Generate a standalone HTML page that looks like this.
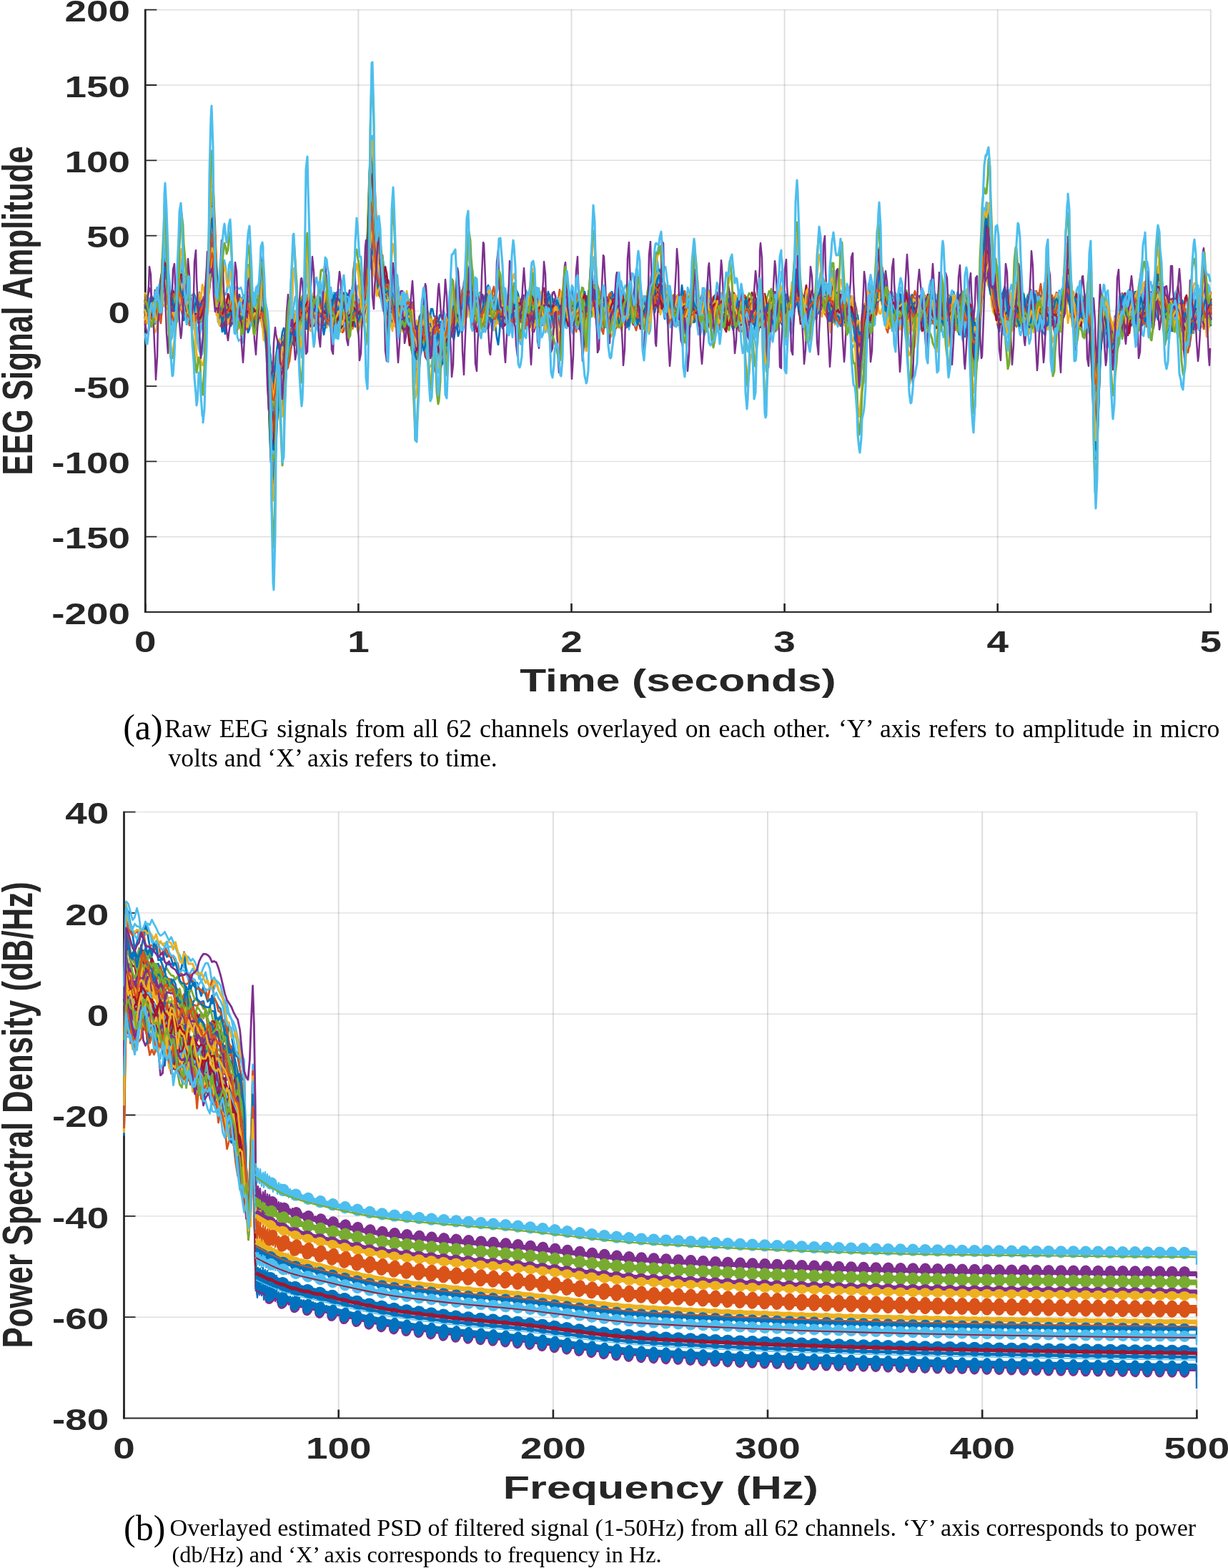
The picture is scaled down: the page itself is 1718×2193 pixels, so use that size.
<!DOCTYPE html><html><head><meta charset="utf-8"><title>EEG figure</title><style>html,body{margin:0;padding:0;background:#fff;overflow:hidden}svg{display:block}</style></head><body>
<svg width="1718" height="2193" viewBox="0 0 1718 2193">
<rect width="1718" height="2193" fill="#fff"/>
<g stroke="#262626" stroke-opacity="0.15" fill="none"><path d="M501.4 13.7V856M799.5 13.7V856M1097.6 13.7V856M1395.7 13.7V856M1693.8 13.7V856" stroke-width="2"/><path d="M203.3 750.7H1693.8M203.3 645.4H1693.8M203.3 540.1H1693.8M203.3 434.9H1693.8M203.3 329.6H1693.8M203.3 224.3H1693.8M203.3 119H1693.8M203.3 13.7H1693.8" stroke-width="1.4"/></g>
<g stroke="#262626" stroke-opacity="0.15" fill="none"><path d="M473.7 1135.6V1983.5M773.9 1135.6V1983.5M1074 1135.6V1983.5M1374.2 1135.6V1983.5M1674.4 1135.6V1983.5" stroke-width="2"/><path d="M173.5 1842.2H1674.4M173.5 1700.9H1674.4M173.5 1559.5H1674.4M173.5 1418.2H1674.4M173.5 1276.9H1674.4M173.5 1135.6H1674.4" stroke-width="1.4"/></g>
<path d="M203.3 12.8V856.9" stroke="#262626" stroke-width="2.8" fill="none"/>
<path d="M201.9 856H1695.1" stroke="#262626" stroke-width="1.8" fill="none"/>
<path d="M203.3 750.7h16M203.3 645.4h16M203.3 540.1h16M203.3 434.9h16M203.3 329.6h16M203.3 224.3h16M203.3 119h16M203.3 13.7h16" stroke="#262626" stroke-width="1.8" fill="none"/>
<path d="M203.3 856v-12M501.4 856v-12M799.5 856v-12M1097.6 856v-12M1395.7 856v-12M1693.8 856v-12" stroke="#262626" stroke-width="2.6" fill="none"/>
<path d="M173.5 1134.7V1984.4" stroke="#262626" stroke-width="2.8" fill="none"/>
<path d="M172.1 1983.5H1675.7" stroke="#262626" stroke-width="1.8" fill="none"/>
<path d="M173.5 1842.2h16M173.5 1700.9h16M173.5 1559.5h16M173.5 1418.2h16M173.5 1276.9h16M173.5 1135.6h16" stroke="#262626" stroke-width="1.8" fill="none"/>
<path d="M173.5 1983.5v-12M473.7 1983.5v-12M773.9 1983.5v-12M1074 1983.5v-12M1374.2 1983.5v-12M1674.4 1983.5v-12" stroke="#262626" stroke-width="2.6" fill="none"/>
<g fill="none" stroke-width="2.7" stroke-linejoin="round" stroke-linecap="round">
<path stroke="#0072BD" d="M203 449l2-2 2-4 2-9 2-5 2 0 2-2 2 0 2 5 2 10 2 0 2-20 2-18 2-1 2 4 2 6 2 11 2 10 2 9 2 7 2 4 2-11 2-10 2-11 2-18 2-5 2 9 2 21 2 16 2-3 2-7 2-8 2 1 2 6 2 11 2 10 2-10 2-10 2-7 2-2 2 4 2 6 2 6 2-19 2-37 2-50 2-45 2 1 2 26 2 30 2 41 2 31 2 21 2 3 2-12 2 4 2 8 2-3 2 1 2 10 2 4 2-8 2-5 2-4 2-4 2 0 2-4 2 6 2 12 2 3 2-12 2-14 2-6 2 0 2 8 2 4 2 2 2 8 2-3 2-9 2-4 2 11 2 13 2 8 2 1 2 5 2 26 2 47 2 46 2 29 2 1 2-26 2-32 2-15 2 9 2 19 2 4 2-24 2-35 2-36 2-16 2 13 2 13 2-14 2-18 2-7 2-2 2-6 2-9 2 7 2 6 2-3 2-4 2 0 2 2 2 5 2 2 2-6 2-2 2 4 2 10 2 3 2 0 2-2 2-9 2-7 2-4 2 2 2 3 2 10 2-2 2-17 2-10 2 4 2 10 2 8 2 9 2 4 2-10 2-9 2-1 2 9 2 3 2-7 2-9 2-4 2 1 2 7 2 7 2 4 2 4 2-4 2-12 2-15 2-13 2-23 2-29 2-47 2-52 2-13 2 36 2 53 2 32 2 5 2 2 2 18 2 20 2-1 2-11 2-1 2 18 2 18 2 9 2-1 2-10 2-12 2 1 2 12 2-7 2-5 2 15 2 13 2 0 2-12 2-3 2 10 2 24 2 21 2 13 2-1 2-10 2-5 2-9 2-12 2 2 2 7 2 0 2-1 2-9 2-12 2 1 2 8 2 20 2 17 2-1 2-11 2-13 2 3 2 17 2 18 2-5 2-25 2-25 2-10 2 10 2 18 2 5 2-15 2-10 2-10 2-9 2-2 2 4 2 9 2-4 2-15 2-17 2-3 2 13 2 8 2 0 2-2 2 0 2-3 2 9 2 14 2 11 2-4 2-12 2 0 2 9 2-3 2-9 2 3 2 7 2 11 2 17 2 10 2-19 2-28 2-11 2 0 2 8 2 2 2 7 2 5 2-9 2-11 2-6 2 5 2 11 2 10 2-3 2-7 2-7 2-9 2 6 2 10 2-6 2-16 2 0 2 2 2-4 2 17 2 15 2-11 2-7 2 11 2 11 2 3 2-14 2-21 2-8 2 9 2 5 2 7 2 14 2 4 2-11 2-15 2-8 2-1 2 11 2 11 2 10 2 0 2-15 2-18 3-5 2 19 2 15 2 3 2-8 2-4 2 12 2 11 2-5 2-9 2-1 2-1 2-6 2-9 2-9 2 1 2 4 2 5 2 7 2 2 2-9 2-6 2 8 2 12 2 7 2 4 2-8 2-16 2-17 2 5 2 24 2 18 2 1 2-8 2-18 2-14 2 7 2 2 2 2 2-1 2-7 2-9 2 4 2 21 2 10 2-1 2-4 2-6 2-2 2-5 2 2 2 6 2 7 2 0 2-14 2-11 2-14 2-8 2 3 2 4 2-3 2-6 2 6 2 5 2 13 2 16 2-1 2-13 2 2 2 13 2 7 2-2 2-1 2-2 2-6 2 0 2 4 2 2 2 4 2 7 2 15 2-2 2-18 2-19 2-9 2 6 2 10 2 8 2 6 2 1 2 5 2 10 2-4 2-20 2-19 2-3 2 21 2 24 2 1 2-22 2-17 2-1 2 9 2 17 2 15 2-9 2-5 2 3 2-6 2-5 2 1 2-7 2 0 2-4 2-11 2-3 2 0 2-6 2 7 2 21 2 13 2 1 2-9 2-11 2-13 2 5 2 16 2 7 2 3 2-3 2-6 2-10 2 2 2 15 2 11 2-1 2-12 2-6 2-2 2 3 2 2 2 3 2 0 2-10 2-7 2-4 2 7 2 10 2 9 2 0 2-13 2-9 2-3 2 3 2-9 2-18 2-5 2 11 2 17 2 16 2 2 2-10 2-11 2 9 2 18 2 16 2-1 2-20 2-20 2-2 2 7 2 3 2 8 2-3 2-13 2-11 2-2 2 5 2 11 2 1 2-7 2-10 2-1 2 12 2 15 2 8 2 4 2 1 2 3 2 0 2-5 2-10 2-15 2 10 2 21 2 8 2-11 2-4 2 11 2 21 2 28 2 15 2-13 2-28 2-19 2-15 2-7 2 1 2-6 2-4 2 3 2 0 2-4 2-18 2-32 2-17 2 2 2 22 2 24 2 7 2 0 2 13 2 11 2 2 2-5 2-8 2-2 2 9 2 5 2-10 2-5 2 3 2-6 2 2 2 13 2 2 2-3 2 7 2 6 2-1 2-4 2-5 2-3 2-6 2 0 2 8 2 4 2 5 2-2 2-9 2-8 2 0 2 6 2 9 2 12 2-9 2-18 2-9 2 6 2 2 2-8 2 2 2 7 2 12 2 6 2-13 2-18 2-9 2 12 2 15 2-2 2 0 2 13 2 8 2 14 2 3 2-21 2-15 2-3 2 6 2 13 2 26 2 25 2 1 2-11 2-22 2-41 2-46 2-39 2-22 2 3 2 11 2 14 2 10 2 11 2 15 2 25 2 22 2 23 2 8 2-18 2-16 2-8 2 10 2 14 2 12 2 9 2-7 2-17 2-17 2-2 2 8 2-1 2-5 2 10 2 5 2-7 2-3 2-10 2-8 2-3 2 8 2 13 2 9 2-5 2-14 2-11 2 0 2 12 2 6 2 2 2 0 2-1 2-1 2-5 2 3 2 9 2 14 2 4 2-7 2-11 2-3 2 4 2-4 2-5 2-14 2-15 2-2 2 10 2 11 2 7 2-1 2 7 2 10 2 6 2-1 2-6 2-10 2-10 2 8 2 16 2 7 2-13 2-2 2 28 2 53 2 51 2 18 2-23 2-47 2-47 2-22 2 5 2 12 2 8 2 1 2 2 2 4 2 1 2 2 2-7 2-13 2-1 2 2 2-6 2-16 2-9 2-9 2 1 2 11 2 9 2 13 2-4 2-22 2-22 2 0 2 13 2 3 2 3 2 5 2-3 2-16 2-10 2 13 2 8 2 1 2-1 2-12 2-5 2-6 2-4 2 4 2 15 2 18 2 5 2 0 2-4 2 3 2 10 2 14 2 1 2-14 2-23 2-17 2 3 2 18 2 25 2 13 2 0 2-3 2 2 2 11 2 7 2-14 2-17 2-19 2-13 2 11 2 18 2 11 2-5 2-12 2-26 2-19 2 5 2 20 2 16 2 1"/>
<path stroke="#D95319" d="M203 414l2 6 2 6 2 4 2-4 2-5 2-1 2-3 2 6 2 15 2 9 2 1 2-20 2-23 2-15 2-7 2 10 2 24 2 24 2 3 2-2 2 5 2-10 2-16 2-12 2-2 2 2 2 8 2 9 2 0 2-4 2 4 2 9 2 0 2 1 2-3 2-9 2-10 2 8 2 6 2-3 2-3 2 3 2 2 2-10 2-26 2-30 2-18 2 3 2 35 2 40 2 25 2 2 2-1 2 1 2-11 2-12 2-6 2-1 2 9 2 13 2 5 2-2 2-13 2-23 2 8 2 21 2 14 2 3 2-9 2-6 2-8 2-2 2 4 2 8 2 3 2-10 2-3 2-4 2 0 2 9 2 3 2 8 2 2 2 6 2 27 2 31 2 19 2 16 2 7 2-3 2-4 2-9 2-14 2-16 2-17 2-7 2 5 2 0 2-4 2-8 2-10 2-11 2-13 2 0 2 6 2 4 2 4 2-7 2-15 2-16 2-10 2 10 2 13 2 5 2-8 2-8 2-1 2 1 2 3 2 8 2 2 2-5 2-7 2-3 2 13 2 11 2 4 2-5 2-8 2-6 2-3 2-2 2-3 2-2 2 8 2 1 2-12 2 4 2 14 2-2 2 1 2 7 2-7 2-11 2-1 2 11 2 13 2-4 2-10 2-3 2-2 2 2 2 1 2-5 2-21 2-32 2-27 2-23 2-6 2 21 2 19 2 20 2 14 2 9 2 10 2-2 2-8 2-8 2 3 2 23 2 24 2 0 2-18 2-15 2 6 2 16 2 1 2-13 2-2 2 20 2 19 2 0 2-14 2-5 2 6 2 15 2 17 2 18 2 3 2-15 2-15 2-19 2-5 2 11 2 8 2 8 2-1 2-2 2 1 2 6 2 0 2-5 2-3 2 7 2 5 2 3 2 6 2-1 2-10 2-12 2-8 2 2 2 1 2 6 2-1 2-18 2-10 2-5 2 2 2 2 2-5 2-5 2 5 2 15 2 2 2-13 2-8 2 2 2 7 2 8 2 14 2-2 2-13 2-6 2-9 2-1 2 10 2 16 2 11 2-10 2-17 2-14 2-1 2 9 2-5 2-2 2 13 2 14 2 8 2-13 2-21 2-4 2 14 2 9 2 3 2-2 2-10 2-13 2-11 2 8 2 19 2 16 2 1 2-8 2 6 2 12 2-8 2-22 2-12 2 8 2 11 2 6 2 6 2-4 2-14 2-14 2 7 2 4 2-7 2 6 2 9 2 9 2 0 2-15 2-9 2 3 2 10 2 14 2 8 2-7 2-15 2-8 2 8 2 13 2 8 2-9 2-10 3-12 2 5 2 20 2 15 2-9 2-17 2-12 2-1 2 12 2 10 2 9 2-4 2-19 2-24 2-4 2 10 2 9 2 10 2-3 2-6 2-9 2-9 2 11 2 15 2 9 2-2 2-5 2-9 2-8 2 9 2 13 2 8 2-1 2-5 2-2 2-13 2-2 2 17 2 16 2-3 2-16 2-10 2-1 2 11 2 9 2 3 2-9 2-6 2-11 2-4 2 11 2 12 2 11 2-8 2-23 2-14 2-5 2 3 2 0 2 2 2-1 2-6 2-2 2 8 2 18 2 13 2-5 2-11 2-13 2-1 2 14 2 7 2 7 2 5 2-7 2-17 2-6 2 14 2 3 2-3 2 6 2 3 2-9 2-1 2 7 2 9 2 6 2-6 2-9 2-14 2-1 2 9 2 10 2 9 2-3 2-8 2-3 2 0 2 1 2-3 2-6 2 11 2 17 2 9 2-11 2-5 2 13 2 0 2-11 2-11 2-17 2 2 2 14 2 9 2 6 2-10 2-14 2-12 2 5 2 12 2 8 2 0 2-2 2-8 2-11 2 4 2 9 2 7 2 2 2-4 2-9 2-11 2 2 2 8 2 2 2-3 2 4 2 8 2 7 2 5 2-2 2-14 2-12 2 6 2 12 2 8 2-4 2-2 2 11 2 8 2-14 2-20 2-7 2 5 2 1 2 3 2-7 2-14 2-9 2 4 2 15 2 16 2 7 2-8 2-8 2-10 2-3 2 12 2 10 2 10 2-4 2-16 2-18 2-9 2 11 2 15 2 3 2-8 2-1 2 3 2 8 2 4 2-1 2-1 2 0 2-3 2-3 2 2 2 6 2 14 2 1 2-8 2-8 2-11 2 9 2 19 2 10 2-1 2 0 2 6 2 2 2 6 2 1 2-6 2-3 2-13 2-11 2-6 2-7 2-1 2-2 2-8 2-3 2 0 2 2 2 3 2-4 2 4 2 9 2 2 2-8 2-14 2 7 2 17 2 11 2-1 2-9 2-13 2-4 2 10 2 6 2 9 2 2 2-6 2-8 2 0 2 5 2 11 2 2 2-11 2-6 2 4 2 7 2 4 2 0 2 1 2-2 2-7 2-10 2 1 2 7 2 12 2 8 2-7 2-2 2 0 2-2 2-4 2-8 2-4 2 7 2 12 2 10 2-6 2-13 2-11 2 6 2 16 2 2 2-14 2-11 2-5 2 3 2 4 2 3 2 7 2 8 2 13 2 10 2-2 2 8 2 18 2 7 2-13 2-22 2-27 2-20 2-13 2-13 2-20 2-20 2-2 2 19 2 23 2 15 2 6 2-1 2-1 2 8 2 17 2 11 2 5 2-12 2-15 2 2 2 15 2 10 2 5 2-4 2-12 2-17 2 0 2 14 2 10 2 0 2-5 2-3 2-6 2 1 2 2 2-7 2-10 2 7 2 12 2 11 2 2 2-14 2-8 2 2 2 7 2 3 2-6 2-1 2-2 2-3 2-7 2-2 2 12 2 16 2 11 2-15 2-11 2-2 2-4 2-1 2 4 2-1 2-14 2-12 2-2 2 12 2 12 2 6 2 7 2 6 2 3 2-1 2-6 2-11 2-9 2 5 2 8 2 11 2 12 2 21 2 37 2 30 2 4 2-24 2-40 2-30 2-11 2 3 2 6 2 0 2 14 2 20 2 1 2-6 2-9 2-7 2-1 2 6 2 0 2-19 2-24 2-11 2 6 2 12 2 19 2 5 2-22 2-19 2 4 2 13 2 11 2 2 2-13 2-6 2 3 2 5 2 6 2 17 2-3 2-23 2-17 2 2 2 11 2 6 2-15 2-13 2 8 2 15 2 0 2-7 2-4 2 8 2 1 2-5 2 8 2 5 2 6 2 1 2-4 2-6 2 0 2 8 2 14 2 5 2-4 2-2 2-7 2-6 2-1 2-10 2-8 2 14 2 19 2 4 2-14 2-23 2-10 2 17 2 17 2 6 2-11 2-10 2-4"/>
<path stroke="#EDB120" d="M203 431l2 2 2-1 2 0 2 5 2 1 2-6 2-4 2 2 2 1 2-6 2-12 2-9 2-3 2-1 2 9 2 14 2 6 2 0 2 4 2 0 2-8 2-8 2-3 2-1 2-3 2-1 2 8 2 5 2 0 2 4 2 15 2 10 2-1 2-6 2-7 2-3 2 2 2 2 2 0 2 1 2-3 2-9 2-17 2-13 2-14 2-16 2-6 2 15 2 22 2 17 2 10 2 10 2 7 2 3 2-1 2-5 2-5 2-2 2 0 2-1 2 1 2 7 2 7 2-3 2-11 2-5 2 2 2 3 2 4 2 2 2-2 2-4 2 0 2 3 2 0 2-2 2 0 2 0 2-4 2 0 2 1 2-2 2 4 2 11 2 18 2 28 2 31 2 26 2 10 2 0 2-15 2-16 2-11 2-8 2-4 2-6 2-10 2-10 2-9 2-7 2-6 2-1 2 1 2-1 2-3 2-3 2-2 2 1 2-2 2-2 2 2 2-4 2-2 2 7 2-2 2-5 2-3 2-2 2 3 2-6 2-6 2 3 2 5 2 3 2 1 2 0 2 2 2-2 2-1 2 3 2 1 2-1 2-1 2-4 2 2 2 5 2 1 2 0 2-1 2-2 2-2 2-2 2-1 2-1 2-1 2 1 2 5 2 3 2-1 2-8 2-9 2-5 2-1 2-3 2-14 2-30 2-36 2-26 2 3 2 27 2 25 2 15 2 10 2 6 2 3 2 6 2 8 2 8 2 5 2 1 2 5 2 4 2 0 2-3 2 2 2 5 2 5 2 0 2-1 2-5 2-3 2-3 2-3 2 5 2 9 2 10 2 8 2 3 2 5 2 3 2-7 2-8 2-3 2 4 2 7 2-1 2-6 2 3 2 6 2 0 2 4 2 9 2 4 2-5 2-7 2-2 2-1 2-2 2 2 2 3 2-4 2-5 2-4 2-6 2-6 2-1 2 0 2-7 2-5 2 6 2 2 2-9 2-9 2-3 2 0 2-2 2 6 2 7 2 3 2-2 2-2 2 0 2 1 2 0 2 1 2 4 2 7 2 1 2-3 2 0 2 0 2-2 2 0 2-2 2 0 2 3 2-8 2-7 2 4 2 3 2-3 2 0 2 7 2 2 2-3 2-2 2-1 2 1 2 3 2 2 2 2 2 1 2-2 2 0 2-2 2-4 2 3 2 3 2-3 2 0 2-1 2-1 2 0 2 2 2 1 2-4 2 0 2 7 2 0 2-2 2 4 2-3 2-9 2-3 2-1 2 2 2 4 2-1 2-2 2-1 2 2 2 2 2-1 2-3 2 4 2 7 2 1 3-2 2 1 2 2 2 0 2-3 2-5 2-3 2-2 2-3 2-2 2-5 2 3 2 6 2 6 2 1 2-10 2-8 2 2 2 7 2 2 2 4 2 7 2 7 2-3 2-6 2-2 2 2 2 1 2-4 2-4 2-1 2-1 2 2 2 8 2 7 2-3 2-9 2-2 2 4 2 3 2 0 2 0 2 1 2-4 2-6 2 4 2 8 2 4 2-4 2-7 2-2 2 2 2 1 2 0 2-4 2-9 2-9 2-4 2 3 2 0 2-2 2 5 2 8 2 1 2-1 2 0 2 2 2-1 2 2 2 4 2 5 2 0 2-3 2-1 2 2 2 3 2 5 2 4 2-2 2-8 2-5 2-2 2 2 2-1 2-2 2 4 2 6 2 2 2 0 2 0 2-4 2-3 2-1 2-1 2 4 2 4 2 2 2-1 2-3 2-4 2-4 2 1 2 5 2 6 2 4 2-2 2-3 2-5 2-3 2-4 2 0 2 3 2 3 2 0 2-1 2 1 2 2 2-5 2-5 2 7 2 7 2 4 2-1 2-7 2-2 2-4 2-6 2 0 2 8 2 1 2-1 2 1 2 1 2-2 2-3 2 1 2 1 2-2 2 0 2 2 2-1 2-2 2 4 2 6 2 5 2 1 2-1 2-3 2 2 2 3 2-4 2-5 2 0 2 0 2-6 2-2 2-2 2-6 2-5 2 0 2 6 2 12 2 9 2 3 2 0 2 0 2 0 2-7 2-5 2-1 2 1 2 3 2 0 2-8 2-9 2-2 2 2 2 1 2 1 2 0 2 5 2 5 2 3 2 6 2 5 2 0 2-4 2-3 2 0 2-2 2-2 2 3 2 1 2-7 2-2 2 8 2 9 2 2 2 2 2 9 2 13 2 12 2-4 2-14 2-16 2-10 2-2 2 5 2 5 2-1 2-5 2-10 2-15 2-10 2-1 2 2 2 2 2 2 2 3 2 7 2 9 2 10 2 8 2 0 2-5 2-4 2-1 2 2 2-3 2-3 2 6 2 3 2-1 2 0 2-4 2-5 2 0 2 7 2 0 2-2 2 0 2 0 2-1 2-2 2 2 2 1 2-1 2-1 2-1 2-2 2 1 2 2 2 4 2 4 2 1 2-1 2-3 2 1 2 0 2-4 2 0 2 1 2-5 2-1 2 1 2-1 2 1 2 0 2-2 2 4 2 1 2 0 2 2 2-2 2-6 2-3 2 8 2 4 2 2 2 10 2 12 2 6 2 3 2-5 2-13 2-16 2-17 2-17 2-14 2-15 2-8 2 3 2 9 2 11 2 5 2 10 2 15 2 9 2 1 2-1 2 2 2 3 2 2 2 2 2 1 2-2 2-1 2-2 2-2 2-2 2 1 2 2 2 3 2 0 2-1 2 0 2-1 2 2 2 6 2 0 2-2 2 0 2 5 2 3 2-5 2-6 2 1 2 2 2 3 2 2 2-5 2-5 2-2 2 0 2 2 2 2 2-1 2-5 2-5 2 3 2 6 2 3 2-2 2-6 2-1 2-5 2-8 2-6 2 5 2 13 2 4 2 2 2 5 2 0 2-6 2-2 2 8 2 2 2-8 2-3 2 8 2 6 2-2 2 9 2 22 2 33 2 26 2 0 2-25 2-26 2-15 2-16 2-13 2 3 2 9 2 4 2 6 2 9 2 7 2 1 2-6 2-8 2-8 2-7 2-9 2-7 2 1 2 1 2-1 2-2 2-2 2-2 2-3 2 3 2 6 2 3 2-3 2 1 2 6 2 7 2 0 2-9 2-6 2 2 2 2 2-3 2-3 2-5 2-5 2 1 2 3 2 5 2 4 2 2 2-3 2-1 2 0 2 3 2 3 2 0 2-1 2-1 2 2 2 4 2 0 2 0 2 0 2-2 2 1 2 10 2 9 2 3 2-5 2-2 2-2 2-9 2-5 2 2 2 1 2-1 2-1 2 2 2-5 2-7 2 1 2 4 2 5 2 5"/>
<path stroke="#7E2F8E" d="M203 420l2 3 2 14 2 9 2 1 2-7 2-10 2-8 2-2 2 9 2 4 2 1 2-8 2-19 2-13 2-3 2 21 2 25 2 9 2-3 2-8 2-8 2-5 2-1 2 2 2-1 2-3 2-7 2-6 2 19 2 24 2 4 2-16 2-10 2-4 2 4 2 12 2 11 2 4 2-15 2-13 2-11 2-1 2 8 2-3 2-25 2-31 2-13 2 13 2 32 2 31 2 15 2-2 2 0 2 8 2-6 2-14 2-2 2 4 2 4 2 3 2 1 2-4 2-4 2-8 2-3 2 8 2 3 2-2 2 2 2 2 2 6 2 6 2-2 2-9 2-6 2 10 2 17 2 6 2-12 2-14 2-11 2 5 2 19 2 25 2 9 2 3 2 16 2 26 2 20 2 8 2-10 2-29 2-26 2-10 2 8 2 0 2-1 2-1 2-10 2-18 2-14 2 6 2 10 2 3 2-7 2-11 2-12 2-1 2 11 2 6 2-3 2-9 2-1 2-3 2-4 2 1 2 9 2 1 2 3 2 4 2-3 2-8 2-14 2 1 2 13 2 16 2-5 2-13 2-14 2-11 2 15 2 13 2 2 2 1 2-1 2-1 2-1 2-3 2 1 2 0 2-3 2-10 2-14 2 2 2 18 2 22 2 9 2-11 2-10 2-3 2 6 2 1 2-6 2-18 2-19 2-24 2-31 2-10 2 15 2 22 2 4 2 0 2 7 2 15 2 14 2 10 2-2 2 0 2-2 2-3 2 9 2 16 2 15 2-6 2-7 2 3 2-2 2-12 2-10 2-2 2 11 2 13 2 7 2-4 2-10 2-10 2 0 2 24 2 20 2 12 2-3 2-12 2-9 2-10 2 5 2 14 2 12 2-7 2-9 2-7 2-3 2 6 2 8 2 12 2-2 2-6 2-7 2-5 2 3 2 5 2 4 2-4 2-10 2-13 2-15 2 0 2 7 2-7 2-2 2 14 2-2 2-19 2-2 2-2 2-13 2 2 2 25 2 20 2 5 2-10 2-10 2-8 2-1 2 1 2 6 2 15 2 5 2-5 2 5 2 10 2-11 2-22 2-10 2 10 2 7 2 6 2 9 2 0 2-16 2-12 2 5 2 5 2-3 2-1 2 6 2 10 2 8 2-7 2-9 2-6 2-6 2 6 2 11 2 10 2-3 2-16 2-8 2-5 2 6 2 1 2-16 2 3 2 8 2 2 2 7 2 4 2 10 2 6 2-10 2-9 2-4 2 2 2 4 2 6 2 1 2-8 2-7 2-2 2 7 2 6 2 5 2 13 2 0 2-9 2-14 2-14 2 5 3 15 2 14 2-7 2-10 2-10 2-9 2 6 2 18 2 9 2-7 2-5 2-2 2-4 2-7 2-5 2-7 2-3 2 8 2 15 2 11 2 1 2-5 2-7 2-6 2 9 2 16 2 9 2-8 2-18 2-12 2-2 2 6 2 12 2 13 2-9 2-11 2-3 2 6 2 11 2 6 2-3 2-9 2-6 2-7 2-1 2 7 2 14 2-1 2-7 2-7 2-6 2 7 2 6 2-1 2-4 2-8 2-15 2-5 2 3 2-3 2 0 2 10 2 8 2 3 2-1 2-4 2-9 2 5 2 12 2 4 2 6 2 6 2-6 2-17 2-2 2 10 2 15 2 3 2-5 2-7 2-5 2-2 2-8 2-2 2 14 2 9 2 6 2 3 2-6 2-14 2-3 2 11 2 14 2 1 2-15 2-12 2-8 2 7 2 12 2 11 2 3 2-13 2-8 2 1 2 6 2 14 2 5 2-8 2-5 2 1 2-10 2-14 2 3 2 21 2 8 2-11 2-13 2-12 2 4 2 14 2 6 2 2 2-4 2-7 2-6 2 1 2 3 2-5 2-2 2 13 2 14 2-1 2-7 2 0 2-6 2-6 2 5 2 9 2 7 2-8 2-16 2-5 2 7 2 0 2-14 2 2 2 17 2 3 2-11 2 1 2 14 2 9 2-6 2-12 2-11 2-7 2 0 2-13 2-8 2 19 2 4 2-4 2 17 2 17 2 6 2-11 2-16 2-11 2 4 2 11 2 13 2 7 2-12 2-19 2-16 2 5 2 8 2-4 2 9 2 13 2 7 2 6 2-5 2-4 2 5 2 4 2-5 2-7 2-6 2 5 2 9 2 6 2 4 2-4 2-3 2-7 2-5 2-2 2-6 2 9 2 22 2 9 2-5 2-1 2-1 2-5 2-2 2-7 2-9 2-12 2-11 2 6 2 4 2 1 2-3 2-12 2-15 2 7 2 19 2 9 2 5 2 5 2 0 2-6 2-4 2 0 2-1 2 7 2 5 2-1 2 7 2 6 2-7 2-7 2-10 2-5 2 5 2 1 2-1 2-2 2 2 2 14 2 7 2-7 2-7 2 0 2 3 2 7 2 2 2-6 2 1 2-6 2-2 2 6 2-8 2-9 2 5 2-3 2-10 2 8 2 16 2 5 2-6 2-13 2-6 2 9 2 7 2-2 2-3 2-4 2 1 2 15 2 14 2 4 2-12 2-13 2-12 2-5 2 13 2 20 2 13 2 2 2 10 2 6 2-17 2-25 2-31 2-24 2-3 2 3 2 4 2 0 2-5 2 0 2 12 2 18 2 16 2 14 2-3 2-14 2-14 2 1 2 15 2 7 2-3 2-3 2 1 2 1 2 2 2 11 2 13 2-9 2-22 2-10 2 15 2 8 2-7 2-5 2 6 2 11 2 11 2-11 2-17 2-4 2 11 2 12 2 6 2-5 2-8 2 6 2 21 2 1 2-16 2-15 2-5 2 5 2 9 2 8 2-2 2-3 2-1 2 0 2-2 2-18 2-19 2 2 2 4 2-9 2-3 2 15 2 18 2 14 2-3 2-17 2-9 2 7 2 12 2-2 2-1 2 0 2-8 2-5 2 12 2 18 2 29 2 33 2 10 2-9 2-18 2-18 2-15 2-11 2-6 2-4 2 2 2-2 2 2 2 9 2 0 2 2 2 8 2-5 2-19 2-9 2 8 2 16 2 11 2-8 2-16 2-17 2-2 2 9 2 8 2 8 2-4 2-8 2-1 2 2 2 2 2 5 2 5 2-6 2-9 2-16 2-2 2 18 2 18 2 4 2-14 2-12 2-16 2-9 2 12 2 17 2 7 2-4 2-8 2-5 2 13 2 14 2 9 2-4 2-13 2-2 2-1 2 1 2 4 2 10 2 6 2-6 2-13 2-6 2 9 2 4 2 0 2-5 2-5 2 0 2 7 2 4 2-3 2-2 2-1 2-6 2-6 2-12 2-4 2 7"/>
<path stroke="#77AC30" d="M203 422l2 10 2 4 2 0 2-1 2 0 2 2 2 1 2-7 2 0 2-7 2 0 2-24 2-32 2-2 2 14 2 19 2 23 2 14 2 13 2-7 2-13 2-18 2-12 2-5 2-12 2 15 2 25 2 6 2-12 2 9 2 14 2 5 2-3 2-13 2-2 2-3 2 15 2 12 2-13 2-2 2-4 2-15 2-12 2-34 2-38 2-34 2-17 2 23 2 35 2 41 2 32 2 11 2 5 2 4 2-3 2 3 2 2 2 6 2-4 2-2 2 7 2 1 2-4 2-5 2 3 2-7 2-8 2 11 2 13 2-9 2-8 2 2 2-5 2 1 2 4 2 7 2 3 2-2 2-4 2-4 2 2 2 6 2 5 2 16 2 38 2 40 2 48 2 43 2 27 2 1 2-26 2-40 2-19 2 3 2-2 2-7 2-24 2-15 2-19 2-21 2-11 2-10 2-10 2 1 2-4 2-1 2 2 2-15 2-5 2 2 2 5 2-7 2-1 2-1 2-13 2 6 2 9 2-2 2-7 2-3 2 2 2-4 2 5 2 17 2 4 2-2 2-11 2-10 2 7 2 12 2-4 2-7 2 6 2 0 2 2 2 7 2-12 2-5 2 4 2 11 2 2 2-4 2-7 2-1 2-6 2-10 2 4 2 16 2-2 2-12 2 1 2-11 2-7 2-2 2-31 2-55 2-55 2-40 2-7 2 31 2 53 2 39 2 23 2 8 2-1 2 21 2 2 2 1 2 12 2-3 2 3 2 16 2 7 2 6 2-5 2 0 2-2 2-6 2 1 2-1 2 9 2 13 2-3 2 6 2 15 2 2 2 16 2 17 2 12 2-6 2-10 2-5 2-1 2 2 2-11 2 13 2 13 2-4 2-7 2-6 2 4 2-1 2-2 2-13 2 2 2 4 2 14 2 0 2-1 2-13 2-5 2 6 2-4 2-7 2-6 2-8 2-3 2-3 2-12 2-5 2 6 2-7 2-13 2-7 2-6 2-12 2 0 2 10 2 9 2-6 2 6 2 17 2 2 2-4 2 8 2-2 2 2 2 5 2 3 2 5 2 0 2-5 2-25 2-6 2 6 2 6 2-3 2-3 2 1 2 7 2 10 2-1 2 5 2 8 2-4 2-13 2-2 2 6 2-15 2-1 2 14 2 5 2-5 2-5 2 9 2 5 2-1 2 7 2-13 2-11 2 1 2 0 2 0 2 1 2 7 2 7 2-2 2-7 2-11 2-3 2 11 2 12 2 2 2-9 2-10 2 4 2 8 2 2 2-8 2 0 2 3 2-4 2-7 2 3 2-6 2 1 2 8 3 0 2 8 2 6 2 0 2-1 2-7 2-3 2-2 2 7 2 19 2-9 2-2 2-11 2-10 2-18 2-9 2 15 2 5 2 12 2 13 2-7 2 0 2 6 2-8 2-17 2 19 2 18 2-3 2-7 2-2 2 0 2 1 2-5 2 5 2 8 2-3 2-8 2-10 2 2 2 6 2-1 2-8 2-6 2 11 2-1 2 0 2 8 2-3 2-2 2 1 2-8 2-8 2-1 2 4 2-9 2-13 2 9 2-9 2-12 2-3 2-3 2 2 2-1 2 4 2 15 2 9 2 9 2 7 2 6 2 4 2-12 2-12 2-1 2 10 2 11 2-5 2 7 2-3 2-7 2 10 2-4 2 0 2 7 2 3 2-5 2-2 2-9 2 2 2 16 2 1 2-1 2 5 2-1 2-8 2 3 2 7 2-6 2-6 2 8 2-5 2-18 2 4 2 21 2 2 2-9 2 4 2-2 2-4 2 2 2 19 2 3 2-14 2-16 2 6 2 8 2-12 2-5 2 6 2 1 2-7 2-5 2 4 2 2 2 5 2 5 2 2 2-5 2 0 2-2 2-8 2-1 2 5 2 11 2-5 2 4 2 4 2-5 2-14 2 2 2 13 2 4 2-6 2-5 2-5 2 17 2 7 2-10 2-8 2-4 2-8 2-5 2 15 2 10 2 1 2-21 2-20 2-11 2-12 2 4 2 8 2 22 2 22 2 9 2 8 2-2 2-17 2-14 2-6 2 11 2 6 2-2 2-15 2-3 2 1 2-8 2 3 2 10 2-7 2 2 2 8 2 0 2-12 2-2 2 10 2 21 2 2 2-5 2 9 2 6 2-4 2-22 2-3 2 7 2 6 2 5 2 0 2-2 2 8 2 9 2 31 2 26 2 3 2-5 2-19 2-15 2-9 2-19 2-4 2-7 2 11 2-1 2-23 2-18 2-10 2-8 2-11 2 12 2 11 2 13 2 8 2 3 2 9 2-2 2 4 2 16 2 1 2-7 2-3 2 0 2 6 2-13 2-5 2 10 2 8 2-5 2-4 2-5 2 0 2-1 2 1 2 1 2 18 2-3 2-9 2 4 2-5 2 4 2-1 2 2 2-3 2-4 2 0 2-5 2-11 2 11 2 8 2-11 2-6 2-4 2 2 2 13 2-7 2-3 2 8 2 11 2 16 2-15 2-13 2 14 2-1 2-10 2-8 2 1 2 17 2-6 2-4 2 11 2-5 2-8 2 13 2 34 2 35 2 1 2-11 2-17 2-40 2-52 2-22 2-24 2-29 2-11 2 5 2 13 2 19 2 32 2 31 2 11 2 5 2 5 2-5 2 4 2 10 2-9 2-15 2 3 2 10 2 3 2 11 2 5 2-12 2-4 2 0 2 3 2 1 2 2 2-6 2-3 2 4 2 3 2 14 2-7 2-20 2-4 2 11 2 10 2 5 2-9 2-1 2 9 2-9 2-4 2 4 2 7 2-2 2 2 2-12 2 5 2 5 2-13 2-1 2 5 2-7 2 9 2-8 2-10 2-1 2-22 2-2 2 14 2 17 2 9 2 13 2 5 2-1 2-4 2-10 2 12 2 2 2-5 2-7 2-6 2 4 2 17 2 26 2 37 2 48 2 46 2 19 2-33 2-77 2-49 2-19 2-6 2 7 2 11 2 8 2 14 2 21 2 15 2-7 2-16 2-12 2-11 2-4 2-16 2-6 2 7 2 0 2-11 2-1 2-4 2 0 2-2 2 7 2 7 2-6 2-5 2-4 2 5 2-1 2-10 2-5 2 1 2 0 2 1 2-4 2-6 2-4 2-7 2-15 2-14 2 15 2 17 2 11 2 7 2 8 2 15 2 6 2-8 2 1 2-8 2-7 2-9 2-2 2 13 2 16 2 11 2 2 2 4 2 11 2-8 2-8 2-6 2-1 2-4 2 0 2 1 2 1 2-15 2-13 2 5 2 6 2 3 2-8 2 5 2-3 2 4 2 9"/>
<path stroke="#4DBEEE" d="M203 436l2 0 2-2 2 2 2 2 2 5 2 4 2-3 2-5 2-8 2-7 2-3 2-14 2-8 2-7 2 8 2 23 2 12 2-3 2-1 2 2 2-7 2-16 2-2 2-5 2-14 2 2 2 11 2 5 2 9 2 7 2 8 2 5 2-5 2 3 2 8 2-3 2-7 2 2 2 0 2-3 2 3 2 1 2-22 2-33 2-39 2-34 2-6 2 18 2 35 2 38 2 14 2 7 2 6 2 0 2 8 2 7 2-5 2 0 2 2 2-2 2-4 2 5 2 6 2-4 2-1 2 7 2 2 2 0 2-2 2-7 2-8 2-5 2 2 2 2 2 0 2 3 2 6 2 0 2 1 2 4 2 4 2 2 2 6 2 12 2 14 2 32 2 41 2 37 2 24 2 4 2-16 2-17 2-12 2-14 2-12 2 3 2-18 2-25 2-16 2-23 2-13 2-3 2-3 2 9 2 7 2-4 2 1 2 3 2-10 2-16 2 3 2 4 2 0 2-3 2 1 2 3 2 6 2 1 2-6 2-12 2-11 2-1 2 2 2 7 2 10 2 6 2 1 2 4 2-10 2-13 2 1 2 2 2 10 2 7 2-3 2-7 2-11 2-2 2 12 2 5 2-1 2 2 2 2 2-6 2-4 2 2 2 7 2 1 2 0 2-7 2 1 2-2 2-5 2-12 2-23 2-48 2-65 2-34 2-1 2 26 2 45 2 32 2 15 2 4 2 6 2 9 2 8 2 4 2 8 2 18 2 3 2 3 2 7 2 6 2-6 2 2 2 2 2 4 2 5 2 0 2 3 2-2 2-4 2 1 2 6 2 7 2 4 2 18 2 17 2-1 2-8 2-8 2-3 2-6 2-9 2 5 2 7 2 2 2-3 2-7 2 1 2 9 2 16 2-10 2-12 2-1 2 13 2 8 2-8 2-1 2 0 2-14 2-19 2-10 2 1 2-1 2-9 2 8 2 4 2-3 2-13 2-7 2-5 2-3 2-2 2 3 2 7 2-5 2 3 2 11 2 4 2-4 2-4 2 5 2 6 2 7 2 5 2-4 2-6 2-1 2-2 2-4 2 0 2 1 2-1 2 2 2 2 2 3 2 4 2-5 2 2 2-5 2-3 2-1 2 5 2 4 2-7 2 0 2 2 2-1 2-5 2 1 2 8 2 9 2-4 2-10 2-7 2 4 2 3 2-2 2 4 2 2 2 3 2 3 2-9 2 0 2 6 2 4 2-8 2-5 2 9 2 4 2-2 2 10 2 4 2-8 2-4 2-2 2-2 2-3 2 2 2 3 2-2 2-8 2-4 2 0 2 11 3 18 2-5 2-10 2-1 2 1 2-10 2 2 2 5 2 0 2 2 2-1 2-5 2 0 2-2 2-11 2-7 2 0 2 1 2 9 2-2 2 5 2 11 2-4 2-4 2 7 2 6 2-9 2-6 2 10 2-2 2-1 2 3 2 1 2-3 2-6 2 2 2 4 2-3 2 5 2-4 2-4 2-3 2 1 2 1 2 2 2-2 2-3 2-2 2 7 2-3 2 1 2 3 2 1 2-1 2 4 2-6 2-12 2-5 2-13 2-2 2-1 2 0 2 3 2 8 2 7 2 1 2-2 2 0 2 5 2 9 2 10 2 5 2-9 2-4 2 4 2-5 2-3 2 3 2 0 2 7 2 10 2-2 2-5 2-3 2 5 2 2 2 0 2-5 2-5 2-5 2 0 2 4 2 2 2 0 2-2 2 1 2 14 2-5 2-10 2-1 2 7 2-4 2-2 2 9 2 8 2-3 2-3 2-6 2-2 2-8 2 6 2 8 2 3 2-2 2-9 2-6 2 4 2 2 2 5 2-7 2-6 2 10 2-6 2 2 2 17 2 3 2-8 2-9 2 2 2 0 2-4 2 1 2 2 2-1 2-2 2 1 2-4 2 7 2 3 2-5 2 3 2 9 2-3 2 3 2-4 2-6 2 2 2-1 2-5 2-6 2 9 2 10 2 2 2-7 2-13 2-14 2-15 2-3 2 4 2 10 2 12 2 5 2 1 2 3 2 11 2 8 2-5 2-3 2 6 2-10 2-10 2 1 2-5 2-17 2-3 2 4 2-3 2 3 2 8 2-4 2 14 2 10 2 3 2 1 2 3 2-6 2-7 2 3 2 1 2-3 2 5 2-2 2 2 2 0 2 0 2 1 2 5 2 9 2 10 2 14 2 23 2 17 2-5 2-21 2-24 2-17 2-6 2 0 2 1 2 8 2 1 2-14 2-10 2-12 2-15 2-11 2 5 2 7 2 15 2 17 2 7 2-6 2-4 2-4 2-3 2 6 2 5 2 2 2 1 2 3 2-2 2-6 2 10 2-4 2-4 2 3 2 5 2 0 2 1 2 1 2-3 2 0 2-1 2-3 2 3 2-2 2 0 2-2 2-1 2 3 2 6 2 2 2-3 2-7 2-6 2 0 2 7 2 5 2 10 2 4 2-6 2-2 2 4 2-2 2-9 2 4 2-2 2-15 2 3 2 5 2-1 2 1 2-2 2 12 2 3 2-5 2-3 2-1 2 16 2 10 2 6 2 8 2 6 2-3 2-17 2-17 2-30 2-34 2-23 2-18 2-7 2 6 2 16 2 21 2 21 2 13 2 10 2-7 2-1 2 9 2 11 2 2 2-7 2 1 2 3 2 2 2-2 2 5 2 3 2 6 2-5 2-6 2 2 2-1 2-5 2-1 2 3 2 11 2-8 2-1 2 10 2-1 2-8 2 4 2-1 2-5 2 0 2 1 2 2 2-5 2-5 2 8 2 9 2-8 2-1 2 1 2-3 2 3 2-7 2 1 2-3 2 6 2 6 2-10 2-14 2-14 2-8 2 5 2 4 2 9 2 17 2 11 2 0 2-8 2 0 2 9 2 1 2-6 2 5 2 0 2 4 2 5 2 0 2 11 2 24 2 42 2 44 2 4 2-28 2-35 2-38 2-30 2-4 2 2 2 6 2 10 2 12 2 5 2 7 2 12 2-1 2-14 2-11 2-17 2-21 2-10 2 10 2 9 2 1 2 8 2-7 2-14 2 4 2 14 2 1 2-11 2 0 2 3 2-1 2 6 2 3 2-8 2 2 2 6 2-2 2-9 2-6 2-11 2-10 2-9 2 3 2 10 2 13 2 2 2-10 2-3 2 21 2 7 2-7 2-1 2 4 2 3 2 5 2-6 2-10 2 0 2 11 2 8 2-1 2 0 2 6 2 5 2-8 2-6 2 5 2-1 2-11 2-7 2-2 2 5 2 6 2 3 2 2 2 0 2-3 2-5 2-3 2 9"/>
<path stroke="#A2142F" d="M203 435l2-2 2 0 2-2 2-5 2-4 2-2 2 2 2 5 2 4 2-3 2-13 2-17 2-14 2 0 2 11 2 14 2 8 2 6 2 4 2-1 2-3 2-1 2-5 2-9 2-9 2 2 2 11 2 11 2 4 2 1 2 4 2 3 2 2 2 1 2-1 2 0 2 2 2 1 2-2 2-2 2-2 2-5 2-10 2-22 2-36 2-37 2-14 2 18 2 37 2 31 2 20 2 10 2 1 2-1 2 1 2 5 2 2 2 0 2-2 2-2 2 2 2 5 2 2 2 0 2 0 2-3 2-3 2-1 2-4 2-2 2 3 2 1 2 1 2 4 2 5 2-1 2-5 2-3 2 0 2 3 2 4 2 5 2 3 2 6 2 15 2 31 2 45 2 40 2 21 2-4 2-21 2-28 2-20 2-2 2 7 2 6 2-8 2-19 2-22 2-17 2-10 2-7 2 0 2 3 2 2 2-3 2-10 2-9 2-2 2 0 2-2 2-4 2 1 2 5 2 4 2-5 2-5 2-2 2 3 2 5 2 2 2-3 2-3 2 1 2 1 2-1 2 0 2 1 2 5 2 4 2-2 2-3 2-2 2-3 2-3 2-3 2-1 2 6 2 6 2-2 2-4 2 1 2 1 2-2 2-3 2-1 2 2 2 3 2 1 2 0 2 2 2 1 2-7 2-20 2-36 2-49 2-47 2-26 2 5 2 30 2 38 2 30 2 18 2 5 2-2 2-1 2 2 2 2 2 10 2 17 2 13 2 6 2 3 2 0 2-2 2-3 2-1 2 4 2 3 2 0 2 0 2 1 2 3 2 7 2 7 2 5 2 9 2 14 2 8 2 0 2 0 2-1 2-10 2-10 2-6 2 0 2 5 2 10 2 8 2-1 2-5 2-1 2 4 2 3 2 4 2 7 2 1 2-7 2-6 2-1 2-2 2-8 2-11 2-10 2-7 2-5 2-2 2-3 2-4 2-5 2-2 2-2 2-3 2-5 2-2 2 3 2 4 2 5 2 5 2 1 2 1 2 4 2 5 2 1 2-4 2-7 2 0 2 4 2 6 2 4 2 2 2 1 2-3 2-5 2-3 2-1 2 3 2 3 2 1 2 0 2 0 2-1 2-2 2-2 2-5 2-2 2 2 2 1 2 0 2-1 2 3 2 9 2 6 2-1 2-7 2-13 2-10 2-1 2 3 2 5 2 4 2 0 2-2 2 2 2 4 2 5 2 5 2-1 2-4 2-1 2 2 2 1 2-2 2-3 2-2 2 2 2 4 2 5 2 1 2-2 2 0 2-1 2-1 2-1 2-1 2 2 2 2 3-3 2-7 2-2 2 6 2 3 2-3 2-1 2 5 2 3 2-3 2-1 2 1 2-1 2-8 2-14 2-10 2 0 2 9 2 9 2 6 2 2 2 0 2 1 2 2 2 0 2-1 2 0 2-2 2-2 2-1 2 0 2 0 2 3 2 2 2-2 2 2 2 2 2-6 2-5 2 4 2 7 2 0 2-1 2 2 2 0 2-6 2-5 2 0 2 4 2 4 2 0 2-4 2 0 2 0 2-6 2-6 2-4 2-5 2-4 2-1 2 1 2 2 2 3 2 5 2 5 2 5 2 2 2 2 2 0 2-5 2-4 2 4 2 6 2 1 2 0 2 3 2 1 2-3 2-4 2 2 2 5 2 3 2-3 2-6 2-1 2 5 2 4 2 1 2-1 2-2 2 1 2 4 2-2 2-6 2-2 2 2 2 3 2 1 2 0 2 3 2 0 2-3 2-3 2 0 2-2 2 1 2 3 2 0 2-2 2-2 2 4 2 5 2 0 2-6 2-4 2-1 2-1 2 1 2 3 2 1 2-1 2-2 2 1 2 4 2 1 2 0 2 1 2 2 2 2 2-2 2-5 2-2 2 4 2-3 2-7 2-2 2 7 2 7 2 1 2-2 2-4 2-3 2 0 2 5 2 5 2 3 2-2 2-4 2-1 2-1 2-3 2-4 2-1 2 2 2-2 2-13 2-13 2-3 2 4 2 9 2 9 2 9 2 5 2-1 2-6 2-4 2 0 2 2 2 3 2 0 2-2 2 1 2 1 2-1 2-3 2-2 2-2 2-1 2 3 2 3 2 3 2 0 2-1 2 4 2 5 2 4 2 1 2-2 2-1 2-2 2-5 2-3 2 3 2 1 2-5 2-7 2 1 2 10 2 17 2 22 2 20 2 9 2-3 2-14 2-20 2-15 2-5 2-1 2-5 2-6 2-1 2-3 2-8 2-11 2-8 2-5 2-4 2 3 2 16 2 14 2 4 2 0 2 3 2 9 2 4 2-3 2-7 2-2 2 2 2 6 2 1 2-4 2-5 2 1 2 4 2-1 2-6 2-8 2-2 2 4 2 6 2 8 2 4 2 1 2 0 2 0 2-2 2-2 2-3 2-2 2-1 2-3 2-2 2 1 2 3 2 2 2 0 2 0 2-2 2-5 2-4 2 5 2 9 2 6 2-2 2-6 2-2 2 0 2-1 2-1 2-1 2 0 2 2 2 5 2 3 2 3 2 6 2 6 2 3 2 3 2 10 2 14 2 10 2-1 2-11 2-21 2-31 2-35 2-29 2-19 2-12 2-3 2 12 2 21 2 17 2 14 2 14 2 15 2 8 2 2 2 1 2 2 2-6 2-7 2-3 2 3 2 7 2 5 2 1 2-2 2-2 2 0 2-2 2-5 2-5 2-4 2 4 2 12 2 8 2 3 2-2 2-3 2 1 2 0 2-4 2-3 2 0 2-1 2-3 2-2 2 0 2 3 2 4 2 1 2-3 2-3 2 0 2 2 2 1 2 0 2-1 2 2 2 3 2-2 2-10 2-12 2-9 2-1 2 9 2 10 2 10 2 8 2 3 2 5 2 2 2-5 2-8 2-5 2-4 2-5 2-3 2 3 2 10 2 23 2 35 2 40 2 32 2 7 2-21 2-40 2-39 2-21 2-6 2-3 2 1 2 7 2 12 2 16 2 13 2 0 2-13 2-15 2-9 2-4 2-8 2-10 2-6 2 2 2 8 2 5 2 0 2-2 2-3 2-4 2-1 2 6 2 7 2 0 2-3 2 1 2-2 2-4 2-4 2 0 2 1 2 0 2-5 2-8 2-10 2-6 2-1 2 3 2 4 2 5 2 5 2 4 2 1 2 3 2 5 2 3 2 2 2 3 2 3 2 0 2 1 2 2 2 4 2 1 2-3 2-2 2 4 2 6 2 3 2-3 2-4 2-5 2-4 2-4 2-4 2-6 2-3 2 4 2 6 2 2 2 2 2 3 2 2 2 1"/>
<path stroke="#0072BD" d="M203 426l2-7 2 15 2 16 2 4 2-6 2-16 2-13 2 8 2 7 2-7 2-3 2-3 2-6 2-1 2-2 2 12 2 20 2 10 2 1 2 7 2-3 2-13 2-14 2-12 2 5 2 14 2 9 2-5 2-7 2-7 2-2 2 8 2 11 2 9 2-6 2-17 2-11 2 0 2 11 2 18 2 2 2-13 2-17 2-22 2-11 2-9 2-2 2 8 2 7 2 12 2 14 2 16 2 14 2 15 2-4 2-15 2-9 2-6 2-1 2 4 2 9 2 10 2-4 2-11 2-16 2-9 2 18 2 11 2 3 2 2 2 6 2 13 2-5 2-19 2-14 2 0 2 16 2 11 2-2 2-13 2-7 2 7 2 19 2 12 2 5 2 10 2 18 2 15 2 1 2-4 2-7 2-2 2-8 2-11 2-7 2-15 2-6 2 4 2 6 2-1 2-11 2-3 2 1 2 6 2-7 2-20 2 1 2 12 2 5 2-4 2-11 2-8 2-11 2-6 2 5 2 1 2 8 2 8 2 2 2 9 2-2 2-13 2-14 2 5 2 21 2 5 2-3 2-6 2-11 2-9 2-1 2 13 2 14 2 13 2 9 2-7 2-21 2-18 2 3 2 9 2 13 2 1 2-13 2-7 2-3 2 7 2 10 2 2 2-13 2-7 2 9 2 5 2-8 2-13 2-17 2-12 2-15 2-5 2 6 2 3 2 5 2 10 2 16 2 8 2-11 2-7 2 11 2 9 2 5 2 6 2-3 2-4 2 11 2 17 2 8 2-14 2-11 2-7 2 5 2 6 2 0 2 7 2 8 2 2 2-4 2-7 2 10 2 17 2 6 2 1 2-4 2-8 2-14 2-5 2 11 2 14 2 12 2-5 2-20 2-24 2 0 2 10 2 1 2 11 2 3 2-16 2-1 2 9 2 11 2 7 2-6 2-1 2 1 2-10 2-11 2-6 2 6 2 15 2 15 2-7 2-21 2-27 2-10 2 11 2 8 2-3 2 1 2 11 2 13 2-1 2-12 2 0 2 5 2 7 2 5 2 5 2-9 2-25 2-18 2-4 2 11 2 13 2 11 2-1 2-9 2-7 2 11 2 14 2 9 2 8 2-12 2-13 2 1 2 1 2-2 2-11 2-13 2 6 2 17 2 14 2-3 2-7 2-7 2-3 2 5 2 7 2 8 2 1 2-9 2-16 2-7 2 7 2-3 2-13 2 5 2 18 2 9 2 9 2 1 2-11 2-7 2-10 2 3 2 8 2 10 2 6 2-4 2-6 2-8 2 6 2 11 2 3 2-4 2-7 2-11 2-1 2 13 3 10 2-7 2-11 2-3 2 0 2 8 2 6 2 0 2-7 2-9 2-5 2 3 2 5 2-2 2 0 2 4 2-6 2-10 2-6 2 1 2 17 2 18 2-2 2-3 2 10 2 3 2-15 2-16 2-8 2 3 2 15 2 16 2-4 2-18 2-17 2 6 2 15 2 7 2 5 2 1 2-3 2-10 2-2 2 12 2 6 2-2 2-5 2-8 2-9 2 1 2 7 2 2 2-4 2 6 2 2 2-17 2-11 2 12 2 16 2-10 2-14 2-7 2-3 2 11 2 19 2 13 2-6 2-7 2-5 2 5 2 10 2 11 2-1 2-16 2-8 2-8 2-5 2 11 2 14 2 5 2-4 2-4 2-9 2-7 2-2 2 3 2 8 2 5 2 0 2 1 2-2 2-2 2-11 2-10 2 11 2 13 2 8 2 1 2-1 2 3 2 7 2-6 2-9 2-2 2-4 2 3 2 1 2 3 2 3 2-1 2-1 2-6 2 0 2 3 2 2 2 1 2-13 2-14 2 1 2 15 2 9 2-1 2-9 2-6 2-6 2 4 2 10 2 13 2 17 2 1 2-21 2-23 2 6 2 22 2 10 2 1 2-16 2-11 2-1 2 3 2 4 2 6 2 6 2 1 2 6 2-3 2-15 2-2 2 4 2-4 2-10 2-8 2 0 2 6 2 8 2 4 2-11 2-11 2 2 2 12 2 1 2-11 2 3 2 18 2 17 2 7 2-14 2-5 2 5 2-5 2-12 2-18 2-11 2 7 2 13 2 10 2-3 2-6 2-9 2 0 2 14 2 12 2 10 2-6 2-19 2-15 2-1 2 5 2 5 2 13 2-1 2-14 2-2 2 11 2 13 2 10 2 7 2-5 2-8 2-6 2 5 2 16 2 12 2 6 2-10 2-19 2-14 2-11 2-2 2 6 2 10 2 7 2-4 2-13 2-11 2-9 2-7 2-2 2-6 2 2 2 23 2 26 2 17 2-3 2-12 2-11 2-8 2 7 2 8 2 7 2-3 2-12 2-13 2 2 2 9 2 16 2 10 2-1 2 0 2-9 2-9 2-2 2-2 2-2 2 5 2 11 2 5 2-1 2-9 2-17 2-12 2-1 2 17 2 17 2 8 2-6 2-12 2-8 2 0 2 4 2-1 2-1 2-2 2-8 2-7 2 11 2 9 2-7 2 2 2 14 2 18 2 8 2-7 2-9 2-17 2-7 2 10 2 10 2 7 2-2 2-5 2-4 2 9 2 9 2 2 2-12 2-24 2-17 2-11 2-16 2-10 2-1 2 6 2 15 2 19 2 14 2 9 2 3 2-11 2-10 2 6 2 10 2 1 2-12 2-14 2-4 2 19 2 24 2 7 2-1 2-6 2-5 2 0 2-5 2 2 2 4 2-4 2-7 2 0 2 5 2 8 2 0 2-6 2 2 2-3 2-7 2-4 2-13 2-1 2 22 2 29 2 4 2-17 2-23 2-6 2 11 2 8 2-11 2-16 2 0 2 17 2 14 2 8 2-2 2-25 2-32 2-13 2 16 2 20 2 11 2 7 2 6 2-12 2-16 2 1 2 4 2 6 2 5 2-1 2-8 2-10 2 7 2 19 2 27 2 25 2 17 2 13 2-5 2-20 2-26 2-32 2-10 2 13 2-1 2-9 2 12 2 29 2 16 2-9 2-20 2-15 2 0 2 3 2 4 2 1 2-5 2-7 2-11 2-3 2 5 2 12 2 2 2-14 2-11 2-3 2 3 2 1 2-3 2 2 2 6 2 17 2 12 2-9 2-19 2-5 2 7 2 7 2-3 2-3 2 13 2 6 2-15 2-14 2-9 2 5 2 21 2 26 2 12 2-17 2-18 2-4 2 1 2-3 2 5 2 8 2-2 2-13 2-10 2 8 2 7 2 6 2 4 2-6 2-15 2-6 2 7 2 14 2 13 2-7 2-15 2-7 2 11 2 16 2 6 2-13 2-15 2-3 2 6"/>
<path stroke="#D95319" d="M203 411l2 6 2 7 2 4 2 1 2-1 2-6 2 5 2 5 2 4 2 1 2-16 2-23 2-15 2 6 2 21 2 12 2 4 2 2 2 0 2 4 2-2 2-14 2-13 2-3 2 2 2 4 2 4 2 8 2 6 2-5 2 7 2 9 2 0 2 0 2 3 2 5 2 0 2-9 2-9 2-5 2 3 2 6 2-1 2-21 2-46 2-40 2-10 2 27 2 42 2 38 2 12 2-7 2-4 2 4 2 8 2 7 2 3 2-4 2-6 2-14 2-7 2 11 2 18 2 13 2-5 2-14 2-15 2-2 2 21 2 24 2-1 2-16 2-10 2-4 2 10 2 13 2 4 2-12 2-16 2-16 2 5 2 17 2 14 2 10 2 15 2 39 2 40 2 22 2 15 2-4 2-14 2-10 2-4 2-11 2-18 2-17 2-4 2-3 2-3 2-6 2-24 2-21 2-7 2 9 2 14 2 9 2-9 2-14 2-20 2-8 2 12 2 12 2 4 2-9 2-6 2 1 2 4 2-2 2 2 2 0 2-11 2-4 2 4 2 1 2-11 2-2 2 10 2 10 2 16 2 1 2-12 2-10 2-8 2 6 2 5 2 8 2 5 2-6 2-10 2-15 2-3 2 13 2 17 2-1 2-13 2-9 2 1 2 7 2 12 2 2 2-13 2-8 2-12 2-10 2-13 2-34 2-47 2-42 2-13 2 13 2 47 2 46 2 29 2 7 2-3 2 5 2 8 2-2 2-5 2 1 2 16 2 14 2 7 2 3 2-6 2-17 2-16 2 13 2 17 2 13 2 2 2-11 2-10 2 6 2 13 2 7 2 6 2 19 2 12 2 3 2-3 2-7 2-8 2-11 2 2 2 11 2 9 2 4 2-10 2-10 2-6 2 2 2-1 2-2 2 7 2 6 2 5 2 2 2-5 2-12 2-3 2 6 2 2 2-8 2-9 2 0 2 9 2-4 2-12 2-14 2-7 2 4 2 12 2-1 2-18 2-12 2 4 2 13 2 9 2-4 2-9 2-4 2-1 2 11 2 13 2 8 2-6 2-14 2-12 2 3 2 10 2 9 2 7 2-3 2-9 2-5 2-1 2-9 2 2 2 16 2 15 2-2 2-15 2-11 2-5 2 5 2 5 2-1 2 0 2 3 2 5 2 7 2 1 2 3 2 1 2-9 2-7 2-10 2-10 2 10 2 14 2 13 2-5 2-12 2-3 2-3 2 4 2 4 2-3 2-4 2 7 2 8 2 12 2 4 2-11 2-15 2-7 2 8 2 7 2 8 2-1 2-13 2-12 2-4 2 18 2 11 2-9 3-14 2 4 2 7 2 10 2 0 2-10 2-10 2 0 2 6 2-5 2-10 2 5 2 12 2 10 2-12 2-19 2-6 2 6 2 11 2 11 2 15 2-1 2-15 2-10 2-6 2 5 2 13 2 12 2-3 2-16 2-8 2-2 2 11 2 20 2 7 2-9 2-5 2-6 2-8 2 1 2 10 2 9 2-4 2-6 2-10 2 1 2 9 2 12 2 7 2-8 2-4 2 4 2-6 2-15 2-15 2-9 2 5 2 1 2 3 2 0 2-14 2-10 2 4 2 12 2 2 2-2 2 14 2 13 2 6 2 1 2 1 2 6 2-7 2-8 2 3 2 8 2 3 2-14 2-21 2-3 2 17 2 18 2 17 2-3 2-9 2 0 2-10 2-5 2-1 2-3 2 4 2 7 2 10 2-1 2-6 2-12 2-11 2 5 2 7 2 9 2 11 2-4 2-15 2-19 2-3 2 18 2 10 2-1 2-6 2-9 2-6 2 11 2 15 2 6 2-5 2-5 2-8 2-3 2 6 2 10 2 11 2-8 2-13 2-11 2-5 2 11 2 13 2 11 2-3 2-10 2-8 2-9 2 1 2 4 2-1 2 10 2 13 2 1 2-13 2-16 2-10 2 7 2 16 2 12 2 3 2-9 2-15 2-5 2 9 2 14 2 1 2-5 2 9 2 12 2-12 2-29 2-27 2-1 2 16 2 17 2 7 2 3 2 12 2 13 2-13 2-17 2-4 2 7 2 5 2-1 2-11 2-12 2-5 2 2 2 2 2 6 2 3 2-3 2 7 2 14 2-2 2-8 2-5 2 0 2 8 2 3 2 6 2 4 2-2 2-8 2-16 2-4 2 16 2 10 2 0 2-3 2 0 2-7 2 10 2 30 2 26 2 10 2-14 2-28 2-12 2-3 2 0 2-3 2-9 2-14 2-17 2-2 2 7 2 2 2-5 2-14 2 1 2 13 2 7 2 5 2 0 2-4 2 9 2 13 2 13 2-4 2-13 2-8 2 3 2 9 2 9 2 1 2-5 2 1 2 1 2-9 2-11 2-12 2 7 2 16 2 6 2 1 2-10 2-13 2-7 2 9 2 13 2 12 2 3 2-5 2-1 2 5 2 0 2-10 2-9 2-3 2 7 2 13 2 14 2-8 2-16 2-8 2-1 2 5 2 12 2 9 2-8 2-9 2-4 2-7 2-4 2-2 2 4 2 10 2 11 2 5 2-7 2 1 2 15 2 4 2 5 2 2 2 8 2 12 2 0 2-24 2-40 2-38 2-33 2-14 2 1 2 12 2 5 2 9 2 7 2 10 2 24 2 23 2 13 2-3 2-8 2-11 2-4 2 9 2-3 2-6 2 8 2 14 2 15 2-7 2-19 2-13 2 3 2 14 2 11 2 4 2-11 2-6 2 0 2 2 2-2 2-10 2-8 2 6 2 11 2 6 2-2 2-11 2-9 2 6 2 13 2 6 2-6 2-5 2-12 2-1 2 18 2 13 2-2 2-11 2-9 2-9 2 4 2 0 2-18 2-12 2 5 2-1 2 0 2 12 2 9 2 0 2 9 2 11 2 8 2 3 2-6 2-10 2-7 2 3 2 5 2 9 2 10 2 8 2 25 2 34 2 34 2 15 2-19 2-38 2-32 2-26 2-21 2 1 2 12 2 13 2 21 2 11 2-7 2-18 2-1 2 6 2-3 2-4 2-11 2-16 2-9 2 0 2-13 2-4 2 17 2 19 2 0 2-14 2-9 2 3 2 8 2 10 2 11 2-10 2-9 2 14 2 5 2-17 2-16 2-7 2 4 2 0 2-7 2-16 2-11 2-7 2 6 2 20 2 26 2 10 2-8 2-7 2 2 2 6 2 4 2 6 2-1 2-4 2-5 2-6 2 9 2 15 2 11 2 2 2 3 2 7 2-1 2-14 2-10 2-11 2-7 2 5 2 9 2-1 2-11 2-12 2 3 2 9 2 8 2 10 2-8 2-9"/>
<path stroke="#EDB120" d="M203 422l2 2 2 1 2 2 2 4 2 12 2 14 2 8 2-5 2-14 2-11 2-9 2-7 2-2 2 6 2 9 2 1 2-6 2 2 2 7 2-1 2-11 2-6 2 0 2-2 2 2 2 8 2 5 2-1 2-6 2-6 2 2 2 9 2 5 2-3 2 0 2 7 2 6 2 1 2-9 2-10 2-5 2-1 2-1 2-6 2-18 2-20 2-3 2 12 2 13 2 12 2 11 2 9 2 3 2-5 2-4 2 6 2 7 2 3 2 2 2-3 2-5 2-5 2-5 2-5 2 0 2 10 2 8 2-1 2-1 2 1 2 1 2 0 2 5 2 6 2-5 2-10 2-2 2 5 2 1 2-2 2 0 2-1 2-1 2 6 2 15 2 18 2 17 2 17 2 6 2-7 2-5 2-2 2-3 2-1 2 3 2-3 2-15 2-15 2-6 2-4 2-5 2 0 2 4 2 1 2-5 2-5 2 1 2 3 2-6 2-6 2 1 2 2 2-4 2-3 2 3 2 7 2 2 2-6 2-6 2 0 2 2 2-1 2 3 2 6 2 0 2 1 2 1 2 0 2-1 2 3 2 0 2-5 2-8 2-6 2-2 2 1 2 1 2 2 2 7 2 7 2 6 2 4 2-5 2-9 2-7 2-5 2 0 2 4 2 2 2 0 2 2 2-2 2-9 2-14 2-11 2-10 2-16 2-23 2-8 2 11 2 14 2 17 2 19 2 13 2 2 2-6 2-2 2 8 2 13 2 11 2 7 2 5 2 1 2-5 2-9 2-8 2-2 2 4 2 3 2-1 2-2 2 2 2 3 2 4 2 5 2 6 2 4 2 4 2 4 2 0 2-8 2-11 2-1 2 8 2 6 2 0 2-7 2-10 2-2 2 6 2 4 2 1 2-2 2-3 2 1 2 4 2 4 2-1 2-3 2 0 2 6 2 3 2-1 2-5 2-12 2-17 2-10 2 7 2 12 2 5 2-3 2-10 2-10 2-4 2 4 2 12 2 14 2 3 2-10 2-9 2-2 2 5 2 2 2-3 2 0 2 5 2 2 2-5 2-2 2 6 2 8 2 6 2 6 2 0 2-8 2-10 2-9 2-5 2-1 2 2 2 5 2 6 2 5 2 0 2-2 2-1 2 3 2 5 2-1 2-3 2-5 2-1 2 3 2 4 2 0 2-3 2-1 2 1 2-1 2-3 2-2 2-1 2 0 2 0 2-1 2-2 2-3 2-3 2-2 2 0 2 1 2 4 2 3 2 6 2 5 2-3 2-7 2-3 2 4 2 5 2 5 2 3 2-3 2-8 2-9 2-2 2 11 3 8 2-3 2-5 2-1 2 7 2 5 2-2 2-6 2-4 2 4 2 5 2 1 2 0 2-5 2-7 2-4 2-5 2-1 2 8 2 10 2 1 2-3 2 0 2 0 2-3 2 0 2 2 2 4 2 1 2-2 2-5 2-5 2 1 2 2 2 0 2 1 2 3 2 4 2 5 2 1 2-5 2-5 2 2 2 2 2-4 2-9 2-2 2 5 2 3 2 1 2 1 2 2 2-1 2-4 2-3 2-4 2-10 2-5 2 5 2 9 2 1 2-4 2-5 2 4 2 10 2 2 2-3 2-1 2 7 2 8 2 3 2 1 2-2 2-3 2-2 2-1 2-5 2-12 2-2 2 12 2 16 2 8 2-7 2-16 2-13 2 0 2 5 2-1 2-1 2 1 2 3 2 6 2 9 2 2 2-4 2-1 2 7 2 4 2-1 2-4 2-9 2-6 2-4 2 3 2 9 2-1 2-8 2 1 2 3 2-4 2-6 2 0 2 7 2 5 2-1 2-5 2-5 2-1 2 2 2 4 2-4 2-6 2 2 2 10 2 10 2 2 2-3 2-2 2 5 2 4 2-4 2-7 2 0 2 8 2 5 2-2 2-15 2-13 2 6 2 13 2 9 2 6 2 0 2-8 2-9 2-2 2 3 2-2 2 0 2 6 2 3 2-3 2-9 2-7 2-1 2 1 2-3 2-7 2-2 2 8 2 6 2 3 2 5 2 7 2 1 2-5 2-8 2-5 2-2 2 4 2 7 2 4 2-2 2-5 2-3 2 3 2 3 2-1 2-3 2-3 2-1 2 1 2 8 2 10 2 2 2-6 2-11 2-5 2 5 2 10 2 12 2 5 2-5 2-4 2-2 2-6 2-8 2-5 2 3 2 13 2 16 2 7 2-2 2-9 2-15 2-7 2-1 2-9 2-12 2-2 2 2 2-1 2 0 2 1 2 0 2 3 2 4 2 5 2 3 2 3 2 4 2-1 2 1 2 1 2 1 2-1 2-7 2-10 2-5 2 2 2 5 2 7 2 5 2 2 2-1 2 3 2 6 2 4 2-4 2-5 2-1 2 2 2 4 2 5 2 2 2-2 2-5 2-5 2 1 2 8 2 4 2-7 2-7 2-9 2-12 2-1 2 6 2 5 2 3 2 4 2 7 2 3 2-7 2-11 2-1 2 4 2 2 2 0 2 0 2 1 2 1 2 4 2 2 2 1 2 2 2 3 2-2 2-2 2 10 2 20 2 16 2 3 2-10 2-11 2-3 2-7 2-19 2-25 2-20 2-13 2-10 2 0 2 15 2 24 2 20 2 11 2-2 2-7 2-1 2 1 2-4 2-3 2 2 2 2 2 5 2 8 2 4 2-3 2-1 2-1 2-4 2-4 2-1 2 4 2 0 2-1 2-2 2-1 2 0 2 3 2 7 2 4 2-6 2-5 2 4 2 4 2-1 2-3 2 0 2 2 2-1 2-7 2-2 2 1 2-4 2-3 2 3 2 3 2 1 2 7 2 6 2-2 2-1 2 2 2-1 2-7 2-10 2-5 2-1 2 2 2 9 2 10 2 3 2-5 2-3 2 4 2 1 2-5 2-4 2-3 2 1 2 9 2 12 2 11 2 10 2 12 2 15 2 5 2-16 2-25 2-22 2-12 2 4 2 9 2 6 2 2 2-4 2 3 2 7 2-1 2-7 2-4 2 7 2 8 2 2 2-5 2-5 2-7 2-4 2 1 2-1 2-5 2-2 2 0 2 4 2 5 2-5 2-8 2 5 2 9 2 3 2 2 2 1 2-4 2-6 2-3 2 2 2 5 2-5 2-12 2-9 2-1 2 8 2 10 2 4 2-1 2-6 2-10 2-2 2 5 2 5 2 3 2 9 2 10 2-3 2-7 2-1 2 1 2-3 2 0 2 5 2 5 2-2 2-8 2-9 2 0 2 10 2 6 2-3 2-8 2-3 2 0 2 1 2 2 2 7 2 5 2-1 2-4"/>
<path stroke="#7E2F8E" d="M203 438l2-2 2 2 2 6 2 3 2-3 2-5 2-4 2 4 2-4 2-13 2-13 2-21 2-14 2 5 2 10 2 13 2 9 2 11 2 1 2-4 2 3 2-6 2-11 2-11 2-11 2-1 2 10 2 16 2 14 2 9 2 8 2 4 2-9 2-5 2 4 2 4 2-2 2-3 2-5 2-2 2 6 2-6 2-18 2-26 2-36 2-33 2-15 2 12 2 38 2 45 2 23 2 7 2 3 2 3 2 1 2 2 2 8 2 3 2 8 2 3 2-4 2-5 2-11 2-4 2 5 2 2 2 1 2-1 2-2 2 0 2 4 2 3 2-3 2-6 2-1 2-4 2 2 2 1 2 10 2 0 2-7 2 0 2 4 2 6 2 30 2 42 2 47 2 35 2 27 2 8 2-15 2-34 2-23 2-11 2 0 2 3 2-14 2-25 2-17 2-11 2-5 2-4 2-5 2-10 2 0 2 3 2-3 2 4 2-1 2-23 2-7 2 10 2-1 2-5 2 1 2 3 2-1 2-2 2-1 2-2 2 1 2 3 2 0 2 1 2-6 2 6 2-3 2-6 2-2 2-1 2 0 2 9 2-1 2-1 2 2 2-2 2-5 2 6 2 3 2-2 2-2 2-1 2-1 2-2 2-1 2-3 2-1 2 4 2-4 2 2 2-1 2-1 2 1 2-14 2-41 2-46 2-56 2-46 2-3 2 27 2 43 2 40 2 23 2 12 2 12 2 2 2 5 2 10 2 9 2 9 2-3 2 4 2 13 2-2 2-5 2 8 2 11 2-1 2-11 2-3 2 12 2 4 2 4 2 3 2 5 2 14 2 12 2 3 2 11 2 0 2-10 2-5 2-4 2-3 2 4 2-4 2-3 2 5 2 6 2 6 2 6 2-5 2-6 2 0 2 6 2 7 2 3 2-6 2-8 2-9 2-2 2-3 2-7 2-5 2-1 2 5 2-3 2-10 2-11 2-4 2-6 2-6 2-2 2-12 2-5 2 2 2 1 2 17 2 10 2 0 2 0 2 8 2 9 2-7 2-12 2-12 2 3 2 12 2 8 2-1 2 1 2-4 2-3 2 2 2 0 2 2 2-2 2-9 2 2 2 8 2 3 2-5 2-5 2-5 2-1 2 7 2 4 2-11 2-2 2 2 2 6 2 12 2 0 2-5 2-3 2 6 2-4 2-9 2 2 2 2 2-2 2 8 2 0 2-2 2-1 2 4 2 3 2-1 2 2 2-5 2-3 2-1 2 5 2 1 2-6 2 0 2 11 2-5 2-3 2 8 2-1 2-6 2 3 2-3 2-6 2 9 2 9 3 5 2-3 2-10 2-14 2 0 2 7 2-8 2 1 2 5 2-2 2 3 2 7 2 2 2-13 2-15 2-5 2 1 2 4 2 11 2 4 2 6 2 4 2 3 2-1 2 4 2 3 2-7 2-7 2-3 2 4 2 8 2 6 2 5 2-9 2-17 2-6 2 4 2 4 2 1 2 5 2 10 2-4 2-13 2-3 2 6 2 6 2 2 2 3 2 4 2 1 2-8 2-4 2-8 2-11 2 0 2 2 2-6 2-4 2-12 2-5 2 0 2-4 2 1 2 14 2 6 2-4 2 7 2 6 2 10 2 5 2 2 2-1 2 3 2-1 2-8 2 7 2 12 2-2 2 0 2 2 2-3 2-4 2 0 2 5 2 5 2-8 2-6 2 4 2-5 2-2 2 3 2 1 2 4 2 2 2-2 2-8 2-4 2 4 2 3 2 12 2 0 2-8 2-10 2 3 2 5 2 7 2-6 2-5 2 8 2 9 2-11 2-12 2-2 2 8 2 10 2-5 2-5 2 3 2-1 2 1 2-2 2-2 2-3 2-9 2 6 2 8 2 4 2-1 2 4 2 7 2-1 2-8 2 3 2 14 2-1 2-12 2-8 2 0 2 4 2-3 2 1 2 2 2-5 2-6 2-1 2 3 2 7 2 4 2 3 2-2 2-2 2-4 2-7 2-5 2-7 2-11 2-14 2-6 2 2 2 11 2 15 2 16 2 13 2-3 2-14 2 0 2 4 2 2 2-7 2-10 2 8 2 0 2-3 2 3 2 0 2-5 2-3 2-1 2 1 2 7 2-3 2-4 2 9 2 18 2 8 2-14 2-5 2 2 2-3 2 4 2 4 2 2 2-3 2 1 2-2 2-5 2 6 2 12 2 6 2 19 2 30 2 13 2-9 2-21 2-25 2-18 2-9 2-8 2 7 2-3 2-19 2-10 2 1 2-4 2-11 2-14 2 5 2 15 2 7 2 5 2 6 2 1 2 7 2 8 2 4 2-4 2-4 2 0 2 1 2 3 2-2 2 1 2 8 2 3 2-11 2 1 2 7 2 1 2 4 2 6 2-2 2-1 2-6 2-5 2-3 2 3 2 2 2 3 2 4 2 0 2-8 2 0 2 4 2-1 2 3 2 0 2-7 2-4 2 9 2 8 2-7 2-10 2 4 2-2 2 1 2 1 2 6 2 7 2-9 2-12 2 5 2 3 2 4 2-1 2-3 2-6 2-3 2 12 2 15 2 17 2 21 2 14 2 4 2-2 2-28 2-30 2-26 2-32 2-37 2-28 2-12 2 11 2 17 2 21 2 26 2 25 2 22 2 9 2-2 2-6 2-11 2-9 2 3 2 5 2 1 2 8 2 1 2-6 2 10 2 4 2-6 2-5 2 3 2 1 2 5 2 4 2-5 2 0 2 6 2 2 2-6 2-9 2-1 2 2 2 1 2 3 2 0 2 6 2 5 2-4 2-7 2-3 2 1 2 9 2-3 2-3 2 3 2-2 2 2 2 1 2-5 2 2 2-6 2-2 2-3 2-12 2-11 2-3 2 7 2 13 2 0 2 0 2 6 2 17 2 9 2-7 2-8 2-2 2 2 2 0 2 2 2 3 2 1 2 26 2 36 2 47 2 46 2 2 2-40 2-47 2-44 2-23 2-9 2 0 2 9 2 10 2 10 2 15 2 15 2 7 2-14 2-23 2-15 2-6 2-1 2-4 2-9 2-6 2 2 2 0 2 3 2 1 2 6 2 2 2 0 2-7 2 1 2 8 2 2 2 1 2 3 2-1 2-6 2-12 2-4 2 5 2-3 2-9 2-7 2-11 2-9 2 4 2 12 2 8 2 3 2 12 2 7 2 5 2-1 2-3 2-1 2-3 2 5 2 12 2 2 2-9 2-1 2 1 2 10 2 8 2-1 2 0 2-2 2-4 2-12 2-7 2-1 2-5 2 5 2 5 2 9 2-4 2-20 2-5 2 9 2 12 2-4 2-5"/>
<path stroke="#77AC30" d="M203 444l2-5 2-3 2 3 2 0 2-1 2-4 2-5 2 1 2 3 2 3 2-12 2-15 2-5 2-1 2 3 2 4 2 15 2 8 2-5 2-4 2-2 2-4 2-3 2-1 2 0 2 1 2 3 2 2 2 6 2 3 2 1 2 6 2 8 2 1 2 2 2 0 2-5 2 2 2 2 2-5 2-9 2-4 2-11 2-14 2-22 2-26 2-8 2 17 2 30 2 24 2 15 2 2 2-4 2-8 2-1 2 4 2 1 2-2 2-9 2-2 2 2 2 9 2 4 2-1 2 3 2 4 2 2 2-5 2-2 2 1 2 7 2 5 2-9 2-3 2 10 2 2 2-3 2 1 2-1 2-13 2 1 2 13 2 8 2-4 2 3 2 24 2 33 2 34 2 18 2-2 2-24 2-12 2 3 2-4 2-11 2-4 2-6 2-19 2-18 2 0 2 5 2-3 2 0 2-4 2-7 2 0 2 1 2-4 2-4 2-5 2-2 2-2 2 0 2-3 2 2 2 3 2 1 2 1 2-1 2-12 2 7 2 4 2 1 2 0 2-3 2 3 2 4 2 4 2-1 2-5 2-9 2 10 2 2 2-9 2-3 2 13 2 2 2-8 2-1 2 9 2 4 2-7 2-10 2-1 2-1 2 3 2 0 2-2 2 1 2 2 2 4 2-3 2-9 2-7 2-18 2-35 2-35 2-18 2 2 2 10 2 22 2 35 2 19 2 4 2 3 2 5 2 0 2-7 2-1 2 2 2 9 2 8 2 1 2 7 2 5 2 0 2-10 2 0 2 8 2 2 2-2 2-3 2 0 2 5 2 10 2 14 2 9 2 4 2-12 2-5 2-1 2-7 2-6 2 8 2 13 2 4 2 7 2-2 2-3 2-6 2-2 2 5 2-1 2-2 2 3 2 6 2 8 2-9 2-11 2 0 2 4 2-8 2-7 2-3 2-6 2 1 2-2 2-8 2-8 2 7 2 2 2-6 2-2 2 0 2 2 2-7 2 0 2 6 2-3 2 6 2 8 2 8 2 2 2-3 2-1 2-10 2-2 2 8 2 6 2-3 2-1 2-6 2-1 2 2 2-4 2-7 2-1 2 7 2 1 2 4 2 1 2-8 2 0 2 3 2 1 2 3 2 0 2-11 2 0 2 3 2-2 2 0 2 5 2 1 2 1 2-1 2-3 2-6 2 6 2 2 2 0 2 2 2-3 2 4 2 3 2 0 2-2 2-7 2-2 2 4 2 9 2-2 2 1 2-5 2-6 2 3 2 2 2-6 2-3 2 3 2 13 2-2 2 1 2 2 2-1 2 6 2 6 3-6 2-11 2-7 2 10 2 9 2 2 2-7 2-4 2 0 2 7 2 2 2 0 2-8 2 1 2-5 2-19 2-4 2 7 2 9 2 6 2-1 2 1 2-7 2 7 2 8 2-12 2-6 2 6 2 0 2 6 2 8 2 4 2-12 2-1 2 2 2 5 2-2 2-7 2 3 2 5 2 1 2-7 2-3 2 5 2 3 2-1 2-7 2 4 2-3 2-6 2 8 2 9 2-3 2-10 2-12 2 1 2-1 2-9 2-4 2 3 2-7 2 0 2 11 2 13 2-6 2-4 2 3 2-2 2 11 2 8 2-4 2-2 2 0 2 1 2-1 2 5 2 3 2 5 2-1 2-4 2 1 2 0 2-2 2-5 2-3 2-2 2 0 2 6 2 8 2 5 2-3 2 1 2-1 2-8 2 6 2-5 2-4 2-3 2-7 2 9 2 4 2-6 2 10 2 8 2-2 2-4 2-5 2 1 2 4 2-9 2-8 2 10 2 1 2-6 2 0 2 9 2 6 2-4 2-10 2 3 2 17 2 4 2-4 2-5 2-9 2-7 2-7 2 4 2 4 2 1 2 9 2 4 2-8 2-2 2 5 2-7 2-2 2 5 2 1 2 0 2-2 2-2 2 3 2-6 2-3 2 7 2 15 2 0 2-11 2 2 2 3 2 2 2 0 2-5 2-5 2-8 2-10 2-3 2 0 2 9 2-2 2 11 2 0 2-3 2 3 2 0 2 6 2 5 2-10 2-7 2 8 2 5 2-7 2-10 2-5 2-4 2 2 2 7 2 7 2-10 2 3 2 5 2 6 2 2 2-4 2-8 2-1 2 2 2 0 2 8 2 3 2-1 2-4 2 0 2-3 2 2 2 11 2-7 2 11 2 23 2 20 2 6 2-1 2-21 2-21 2-15 2-2 2-5 2-6 2-1 2 6 2 0 2 3 2-7 2-13 2-4 2 6 2 2 2 3 2 10 2 7 2 1 2-9 2-3 2 7 2 2 2-6 2 5 2 10 2 5 2-9 2-10 2 1 2-7 2 9 2 4 2-4 2 4 2 3 2 7 2 3 2-4 2-4 2 5 2 3 2-9 2-1 2 3 2 5 2 1 2-12 2 0 2-4 2-5 2 1 2 6 2 2 2-2 2-3 2 3 2 4 2-3 2-2 2-1 2 0 2-3 2 3 2 0 2 5 2 6 2 2 2-5 2-7 2-3 2 7 2 5 2-2 2-5 2 8 2 10 2 9 2 14 2 3 2-3 2-7 2-16 2-32 2-23 2-8 2-17 2-14 2-2 2 21 2 20 2 6 2 4 2 13 2 6 2 4 2 18 2 3 2-15 2-2 2 7 2-4 2-2 2 2 2 5 2 1 2 0 2-4 2-5 2-7 2 6 2 9 2-7 2-7 2 1 2 1 2 3 2 2 2 4 2-1 2 2 2-3 2 10 2 3 2-10 2-3 2-1 2-1 2 3 2 3 2-4 2-4 2-4 2-2 2 9 2 1 2-2 2 6 2 4 2-6 2-11 2-4 2-6 2-3 2-2 2 9 2 8 2 2 2-1 2 1 2 9 2-7 2-10 2 3 2 10 2 5 2-1 2-5 2 0 2 4 2 15 2 32 2 34 2 24 2 1 2-27 2-39 2-34 2-9 2-1 2-2 2 10 2 3 2 4 2 9 2 10 2 8 2-1 2-11 2-12 2-11 2-4 2 0 2 4 2-5 2 5 2 7 2-1 2-8 2-10 2 2 2 8 2-2 2 2 2 7 2 3 2 2 2 0 2 3 2-6 2-4 2-2 2-6 2-11 2-2 2-7 2-9 2-4 2 5 2 13 2 11 2 4 2 0 2-1 2-3 2-3 2 0 2-6 2 3 2 8 2 4 2 9 2-11 2-1 2 9 2 5 2-9 2 6 2 2 2-6 2 3 2 0 2-6 2 0 2-5 2-3 2 0 2 5 2-6 2-4 2-2 2 5 2-5 2 1 2 2"/>
<path stroke="#4DBEEE" d="M203 449l2-10 2-11 2-3 2-4 2-4 2 6 2 12 2 11 2-3 2-16 2-13 2-8 2-1 2 10 2 10 2-2 2 4 2-8 2-13 2 10 2 16 2 9 2-4 2-5 2-3 2-13 2-3 2 18 2 23 2-2 2-15 2-11 2-5 2-2 2 5 2 8 2 10 2 10 2 8 2-9 2-13 2-14 2-12 2-12 2-21 2-9 2-10 2-1 2 19 2 8 2 12 2 22 2 4 2-3 2 11 2 10 2-2 2-6 2-7 2-6 2 6 2 15 2 14 2 8 2-15 2-22 2-10 2 5 2 6 2 16 2 9 2-9 2-16 2-17 2-1 2 17 2 16 2 0 2-11 2-18 2 3 2 14 2 14 2 14 2 10 2 20 2 32 2 13 2-1 2-9 2-6 2-5 2-3 2 6 2-1 2-3 2-14 2-21 2-4 2 3 2 3 2-8 2-18 2-12 2-6 2 2 2 12 2 9 2-3 2-4 2-16 2-5 2 5 2-2 2-2 2-1 2-3 2 8 2 10 2 1 2 3 2-4 2-16 2-23 2 3 2 16 2 11 2 8 2-2 2-5 2-5 2 0 2 16 2 21 2-4 2-20 2-24 2-12 2 0 2 7 2 13 2 15 2 3 2-6 2-6 2-3 2 1 2 2 2 9 2 2 2-8 2-21 2-7 2 9 2-2 2-29 2-39 2-13 2 7 2 14 2 13 2 16 2 10 2 0 2-2 2-14 2-3 2 23 2 25 2 2 2-18 2-15 2 12 2 14 2 2 2 0 2 7 2 21 2 11 2-10 2-9 2-8 2-3 2-5 2-7 2 13 2 24 2 14 2 1 2-11 2-8 2-4 2 6 2 12 2 5 2 5 2 1 2-14 2-20 2 9 2 23 2 12 2 3 2-17 2-14 2-1 2 2 2 2 2-4 2-9 2-7 2-7 2 4 2 10 2 5 2-2 2-8 2-9 2-6 2 5 2 9 2-1 2-15 2-18 2-13 2 14 2 14 2-12 2-3 2 18 2 13 2 1 2-10 2-3 2-3 2 6 2 6 2 1 2 3 2 5 2-2 2-14 2-2 2 19 2-1 2-11 2 2 2 7 2-1 2-10 2-2 2 11 2 9 2-10 2-6 2 2 2-2 2-2 2 5 2 11 2-5 2-5 2-4 2-1 2 3 2-4 2-6 2-7 2-3 2-4 2-6 2 8 2 13 2 20 2-1 2-14 2-16 2-4 2 12 2 18 2 18 2-3 2-14 2-5 2-2 2 4 2-1 2-13 2 0 2 15 2 11 2 1 2-12 2-14 2-7 2 6 2 11 3 8 2 8 2-7 2-6 2-6 2-5 2-1 2-8 2-4 2 11 2 2 2-7 2-16 2-7 2 3 2-8 2-11 2 20 2 30 2 14 2 7 2 0 2-10 2-14 2 3 2 11 2 13 2-9 2-19 2-7 2 2 2 7 2-7 2-19 2 1 2 11 2 14 2 13 2 1 2 4 2 11 2-11 2-18 2-15 2-10 2 14 2 11 2 3 2 0 2-4 2-14 2-1 2 7 2 7 2 0 2-13 2-18 2-3 2 12 2 7 2-1 2-6 2 2 2 2 2-4 2 7 2 19 2 19 2-4 2-4 2 4 2-2 2-2 2-11 2 0 2 8 2 4 2-7 2-15 2-1 2 14 2 11 2 11 2-2 2-13 2-15 2-11 2 5 2 6 2 7 2-7 2-14 2-10 2 7 2 14 2 16 2 1 2-8 2-10 2-9 2 9 2 4 2 8 2 7 2-6 2-4 2 0 2 4 2-3 2-7 2-2 2-5 2-11 2 0 2 13 2 11 2 13 2 4 2-5 2-17 2-18 2 10 2 18 2 14 2-3 2-12 2-15 2-11 2 14 2 24 2-1 2-14 2-4 2-9 2-1 2 9 2 12 2-2 2-12 2-10 2-3 2-2 2-2 2 13 2 17 2 9 2-2 2-17 2-19 2-5 2 10 2 13 2 10 2-6 2-20 2-18 2 2 2 10 2 10 2 3 2 2 2 5 2-7 2 2 2 10 2 16 2 6 2-17 2-7 2-2 2-6 2-10 2-8 2 1 2 8 2-3 2-3 2 10 2 15 2 11 2-5 2-9 2-3 2-7 2 9 2 19 2 9 2-6 2-14 2-18 2 2 2 13 2 8 2 0 2-12 2-16 2 4 2 24 2 25 2 12 2 2 2 1 2-8 2-25 2-20 2-4 2 8 2 3 2 7 2 16 2-7 2-23 2-19 2-11 2-3 2 6 2 13 2 8 2-7 2 1 2 2 2 0 2 12 2 4 2-2 2 0 2-4 2 2 2 7 2 2 2-8 2-15 2 3 2 10 2 11 2 5 2-3 2-5 2-17 2-6 2 14 2 17 2 3 2-10 2-7 2-6 2-1 2 5 2 2 2-11 2-20 2-9 2 14 2 22 2 15 2-4 2-8 2-10 2 0 2 15 2 14 2-4 2-13 2-14 2-3 2 8 2-2 2-6 2 4 2 6 2 1 2 1 2-2 2 1 2-8 2-8 2 7 2 11 2 22 2 14 2 2 2-1 2 4 2 7 2-2 2-15 2-27 2-35 2-28 2-9 2 2 2 12 2 22 2 11 2-10 2 0 2 12 2 7 2 17 2 14 2-4 2 3 2 1 2-10 2-9 2 2 2-5 2-6 2 2 2 4 2-1 2 6 2 12 2 16 2 0 2-18 2-20 2 2 2 13 2-6 2-21 2-4 2 20 2 13 2 6 2 0 2-4 2-13 2-1 2 19 2 17 2-8 2-19 2-2 2-2 2-7 2-1 2-4 2 9 2 9 2 14 2 6 2-17 2-17 2-4 2-7 2-5 2 6 2 12 2 14 2 11 2-3 2-20 2-21 2-5 2 10 2 21 2 9 2-4 2-3 2-12 2-2 2 16 2 5 2 15 2 48 2 40 2 2 2-26 2-33 2-20 2-18 2-19 2-2 2 9 2 19 2 24 2 13 2 4 2-6 2-14 2-2 2 11 2-5 2-25 2-23 2-1 2 6 2 9 2-1 2-12 2-4 2 8 2 7 2-1 2-10 2-10 2 2 2 7 2 6 2 1 2-7 2-10 2 1 2 6 2 7 2 15 2-8 2-21 2 4 2 15 2-8 2-17 2-4 2 2 2 10 2 17 2 0 2-1 2-6 2-8 2 4 2 13 2 8 2-2 2-2 2 9 2-2 2-6 2 3 2 5 2-7 2-18 2-10 2-3 2 10 2 5 2-1 2-3 2-4 2-11 2 3 2 24 2 18 2-10 2-15 2 1 2 4"/>
<path stroke="#A2142F" d="M203 445l2-11 2-2 2 3 2 6 2-5 2-13 2-17 2 2 2 17 2 6 2-10 2-11 2-15 2-10 2 9 2 18 2 25 2 5 2-19 2-2 2 8 2-3 2-12 2-14 2 4 2 11 2 17 2 9 2-8 2-2 2-2 2-1 2 6 2 9 2 8 2-7 2-18 2-14 2 2 2 16 2 3 2-7 2-7 2-10 2-27 2-24 2 6 2 30 2 27 2 12 2-6 2-13 2 7 2 20 2 12 2 5 2-3 2-13 2-8 2 3 2-1 2 13 2 1 2-24 2-9 2 3 2 3 2 15 2 7 2-9 2-3 2-1 2-14 2-3 2 12 2 9 2 0 2-17 2 2 2 10 2 4 2 14 2-1 2-4 2 18 2 26 2 20 2 13 2 7 2-1 2-5 2-17 2-1 2 2 2-1 2-12 2-21 2-9 2 7 2 5 2-1 2-16 2-12 2 7 2 12 2-4 2-13 2-22 2-8 2-1 2 10 2 16 2 6 2-2 2 10 2 0 2-18 2-4 2 4 2 11 2-8 2 2 2 0 2-13 2-12 2-2 2 9 2 15 2 1 2-9 2-1 2-5 2-1 2 1 2-5 2 9 2-4 2 3 2 10 2-14 2-7 2 13 2 23 2 3 2-7 2-1 2-1 2-10 2-13 2 7 2 10 2 3 2-8 2-26 2-24 2-1 2-11 2-34 2-16 2 23 2 19 2 15 2 3 2 9 2 18 2 4 2-4 2 7 2 18 2 4 2-7 2-13 2-4 2 12 2 20 2-5 2-17 2-13 2 4 2 21 2 5 2-1 2 8 2 2 2 11 2 7 2-1 2 2 2-7 2-10 2 2 2 17 2-6 2-19 2 0 2 9 2 2 2-1 2-4 2 4 2 6 2 1 2-14 2-11 2 7 2 19 2 10 2 10 2 1 2-26 2-21 2-5 2 5 2-7 2-4 2 12 2 2 2 4 2-1 2-2 2-8 2-10 2-11 2-5 2 12 2 11 2-5 2-9 2-6 2 15 2 18 2 16 2-3 2-16 2-16 2-4 2 21 2 11 2-9 2-7 2-10 2-4 2 8 2 9 2-6 2-7 2 5 2-6 2-7 2 14 2 19 2-2 2-15 2-4 2-14 2-1 2 14 2 2 2-6 2-7 2-2 2-1 2-1 2 3 2-2 2 0 2 4 2 17 2 17 2-12 2-3 2 7 2-3 2-7 2-10 2-12 2-2 2 10 2 11 2 7 2-6 2-10 2-16 2 6 2 9 2-1 2-1 2 5 2 3 2-10 2 6 2 2 2-12 2-6 2 9 2 20 2 2 3-14 2-11 2-7 2 8 2 13 2 15 2 15 2-12 2-21 2-10 2-6 2 11 2 18 2-18 2-19 2 15 2 8 2-1 2-2 2-9 2-1 2 13 2 16 2 7 2-8 2-12 2-5 2 6 2 5 2 10 2 3 2-9 2-2 2-14 2-3 2 8 2-1 2 6 2 6 2-7 2 4 2 9 2-12 2-7 2 2 2 3 2 3 2 13 2 10 2-6 2-6 2-27 2-6 2 28 2 2 2-7 2-12 2-16 2-7 2 10 2 16 2 7 2-12 2-5 2 14 2-4 2-1 2 2 2-8 2-1 2-4 2 5 2 9 2 0 2 5 2 8 2 0 2 1 2-9 2-17 2-4 2 9 2 14 2 9 2-11 2-9 2 14 2-2 2-6 2 5 2 3 2-15 2-11 2 2 2 5 2 9 2 7 2 5 2-6 2 6 2 9 2-1 2-10 2-6 2-4 2-2 2 7 2 4 2 6 2 2 2-8 2-8 2-13 2-10 2 3 2 8 2 17 2 11 2-7 2-13 2-2 2 8 2 5 2 9 2-5 2-15 2-19 2 7 2 19 2 17 2 17 2-11 2-23 2-4 2-2 2 7 2 9 2 4 2-11 2-16 2-8 2 14 2 23 2 8 2-14 2-2 2-8 2-17 2 11 2-1 2-9 2-3 2 11 2 21 2 1 2-21 2-24 2-10 2 13 2 25 2 21 2-7 2-14 2-20 2-13 2 18 2 16 2 9 2-10 2-3 2 5 2 0 2-4 2-17 2-20 2 7 2 29 2 8 2-10 2-1 2-9 2-24 2 2 2 20 2 9 2 10 2 8 2 6 2 1 2-11 2-8 2-6 2 8 2 10 2-2 2-1 2 0 2-8 2 2 2 20 2 17 2 7 2-4 2-13 2-21 2-8 2 2 2-8 2-6 2 6 2 4 2-12 2-8 2 6 2-3 2 4 2 4 2-11 2-9 2 7 2 22 2 8 2-7 2-4 2-6 2 3 2 19 2 22 2-1 2-14 2-13 2-4 2 1 2 3 2 7 2 9 2-15 2-17 2 13 2 16 2 8 2-17 2-22 2 4 2 11 2 10 2-4 2-7 2-8 2-12 2 17 2 15 2 0 2-10 2-8 2-4 2-6 2 13 2 22 2 4 2-13 2-12 2 1 2 11 2 5 2-1 2-17 2-9 2 7 2 15 2 1 2 0 2-18 2-17 2 4 2 22 2 14 2 4 2 4 2-9 2 2 2 1 2 2 2 10 2 10 2-15 2-25 2-35 2-19 2-7 2-2 2 5 2 10 2 15 2 10 2 7 2 13 2 11 2 1 2-16 2-7 2 9 2 16 2 12 2-4 2-11 2-8 2 0 2 12 2-1 2 7 2 5 2-12 2-6 2-13 2-12 2 13 2 20 2 1 2-16 2-13 2 4 2 13 2-4 2 2 2 8 2-2 2 8 2 3 2-2 2-6 2 0 2-4 2-7 2 3 2-1 2-3 2 11 2 6 2 7 2-2 2-11 2-17 2-14 2 5 2 6 2-2 2-15 2-5 2 10 2 0 2 3 2 14 2 14 2-8 2-4 2-7 2-3 2 10 2 7 2-7 2-1 2 19 2 22 2 20 2 15 2 8 2 2 2-23 2-23 2-38 2-15 2 16 2 12 2-2 2 4 2 8 2 9 2 0 2-2 2-2 2-13 2 6 2 7 2 9 2-10 2-30 2-15 2 15 2 31 2 10 2-16 2-10 2-9 2 0 2 8 2 3 2-5 2 4 2-1 2-20 2-8 2 12 2 11 2 9 2 6 2 1 2-16 2-21 2-8 2 1 2 13 2 2 2-7 2-2 2 2 2 17 2 18 2-4 2-2 2 14 2 0 2-15 2-28 2-15 2 16 2 25 2 22 2-21 2-25 2-4 2 20 2 7 2 4 2 1 2-2 2-5 2-8 2-6 2 2 2-11 2-4 2 15 2 19 2 6 2-14 2-14 2 0"/>
<path stroke="#0072BD" d="M203 436l2-5 2 0 2 5 2 8 2 5 2-6 2-7 2 3 2 9 2-6 2-19 2-20 2-16 2-7 2 10 2 20 2 12 2 4 2 4 2 2 2-6 2-7 2-8 2-12 2-6 2 2 2 8 2 11 2 8 2 8 2 7 2-1 2-3 2 3 2 3 2 1 2-4 2-9 2-6 2 1 2 3 2-1 2-8 2-23 2-39 2-37 2-8 2 23 2 36 2 33 2 21 2 8 2 1 2 1 2 4 2 2 2 0 2-4 2-6 2 2 2 3 2 0 2-1 2-1 2 2 2 1 2 1 2 1 2 1 2 0 2-3 2-1 2 3 2 1 2-1 2-1 2-3 2 4 2 8 2 0 2-4 2-5 2 5 2 17 2 23 2 31 2 39 2 36 2 20 2-1 2-21 2-25 2-14 2-2 2 0 2-7 2-14 2-17 2-14 2-14 2-13 2-7 2 0 2 3 2-1 2-5 2-4 2-4 2-5 2-2 2-2 2-1 2 2 2 1 2-1 2-4 2 1 2-1 2-4 2 0 2 1 2-2 2-1 2 2 2 3 2 3 2 7 2 2 2-8 2-5 2 1 2 4 2 0 2-2 2 3 2 2 2-5 2-3 2-3 2-3 2 0 2 4 2 8 2 4 2-4 2-6 2-6 2-1 2 0 2 1 2 3 2 2 2-4 2-15 2-33 2-46 2-50 2-38 2-1 2 39 2 42 2 25 2 9 2 4 2 8 2 13 2 10 2 6 2 5 2 7 2 5 2 2 2 5 2 3 2 4 2 5 2 0 2-2 2 0 2-2 2-3 2-4 2 7 2 17 2 11 2 4 2 9 2 14 2 11 2 2 2-13 2-19 2-7 2 2 2 4 2 6 2-1 2 1 2 5 2 4 2-1 2-5 2-5 2 1 2 4 2 5 2 3 2-5 2 1 2 1 2-6 2-9 2-9 2-4 2-3 2-12 2-6 2 0 2-4 2-5 2-3 2 0 2 0 2-6 2-8 2-4 2 9 2 8 2 1 2 4 2 5 2 1 2-2 2 0 2 7 2 4 2 0 2-2 2 1 2 2 2 0 2 1 2-2 2-2 2-5 2-7 2-3 2 1 2 2 2 4 2 0 2 2 2 2 2 4 2 4 2-1 2-3 2-2 2 2 2 4 2 1 2-1 2 2 2-1 2-3 2-1 2 4 2 1 2-7 2-3 2 3 2 6 2 1 2-4 2-2 2-1 2 0 2 2 2 1 2-2 2-5 2 4 2 3 2-1 2-3 2 0 2 4 2-1 2-4 2-1 2 2 2 6 2 5 2-1 2-7 2-5 2-4 3-1 2 2 2 3 2 4 2 3 2-1 2 0 2-5 2-4 2 4 2 1 2-4 2-5 2-6 2-10 2-4 2 8 2 6 2 0 2 7 2 9 2 3 2-7 2-7 2 4 2 7 2 1 2-3 2-5 2-2 2 0 2-1 2-1 2 3 2 6 2 5 2-1 2-3 2-5 2-4 2 5 2 4 2-1 2 0 2 1 2 0 2-1 2-4 2-1 2 1 2 6 2 5 2-1 2-7 2-7 2-8 2-4 2-3 2-4 2-3 2-8 2-9 2 3 2 7 2 3 2 4 2 7 2 7 2 9 2 7 2 2 2 1 2 2 2-1 2-2 2-2 2-3 2-2 2 3 2 1 2 4 2 2 2-5 2-1 2 4 2 3 2 0 2-1 2-1 2 0 2-1 2-2 2-2 2 0 2 3 2-2 2-9 2-1 2 4 2 2 2 2 2 2 2-2 2-2 2 3 2 4 2-2 2 0 2 3 2 2 2 1 2 1 2-3 2-2 2 4 2 4 2 2 2-5 2-6 2-1 2 2 2 1 2-1 2-2 2-2 2 0 2-1 2-2 2 1 2 0 2 1 2 0 2-2 2 1 2 3 2 1 2-1 2 1 2 4 2 7 2 2 2-6 2-8 2-5 2-2 2-2 2 1 2 6 2 4 2-1 2 1 2-3 2-6 2-4 2-2 2-5 2-13 2-7 2 6 2 9 2 13 2 9 2 0 2 1 2-1 2-1 2 4 2-1 2-3 2-2 2-4 2-6 2-1 2-4 2-4 2 1 2 2 2-1 2 0 2 4 2 8 2 6 2-1 2-1 2 0 2 2 2 2 2-4 2 5 2 8 2 0 2-7 2-3 2 2 2 1 2 0 2 1 2 2 2 13 2 24 2 22 2 7 2-4 2-17 2-25 2-11 2 2 2-1 2-5 2-5 2-13 2-19 2-12 2-4 2-7 2-3 2 8 2 11 2 8 2 10 2 7 2 5 2 2 2-2 2 1 2 4 2 0 2-3 2-1 2 3 2 2 2 3 2 3 2-4 2-5 2-3 2 2 2 4 2 2 2-3 2-1 2 4 2 5 2-2 2-8 2-3 2 2 2-1 2 0 2 0 2 0 2 6 2 6 2 1 2-7 2-5 2-2 2 0 2 1 2 2 2 3 2-1 2-2 2-2 2-4 2-1 2 0 2 2 2 1 2-4 2 2 2 6 2 5 2 3 2-2 2-1 2 0 2 3 2 5 2 14 2 19 2 15 2 9 2-3 2-20 2-27 2-26 2-30 2-39 2-29 2-5 2 8 2 13 2 16 2 20 2 20 2 16 2 12 2 7 2 3 2 0 2-1 2 1 2 0 2-2 2 0 2 3 2 3 2 0 2-4 2-3 2-1 2-3 2-1 2 2 2-1 2-2 2 1 2 0 2-1 2-2 2 4 2 2 2-4 2-5 2 0 2 4 2 1 2 1 2 1 2-1 2-1 2-1 2-1 2 1 2-5 2-5 2 2 2 9 2 8 2 3 2-7 2-6 2 4 2-6 2-17 2-9 2 4 2 5 2 10 2 11 2 4 2 2 2-3 2 2 2 6 2 3 2-3 2-3 2 0 2 1 2 0 2 7 2 21 2 34 2 43 2 33 2 1 2-29 2-40 2-30 2-17 2-14 2-5 2 4 2 9 2 15 2 11 2 11 2 5 2-8 2-12 2-11 2-10 2-12 2-11 2-4 2 1 2 5 2 3 2-2 2-3 2-5 2-3 2 2 2 2 2 2 2 6 2 2 2-4 2-3 2 0 2-1 2 2 2 0 2-6 2-7 2-8 2-5 2-1 2 0 2-1 2 6 2 3 2 2 2 12 2 7 2-2 2 1 2 2 2-2 2-3 2-1 2 2 2 3 2 5 2 4 2 4 2 5 2 5 2 0 2-3 2 2 2-2 2-9 2-4 2-2 2-6 2-4 2 5 2 2 2 0 2 1 2-2 2-1 2 0 2 0 2 4"/>
<path stroke="#D95319" d="M203 422l2-8 2 6 2 6 2 12 2 15 2-6 2-8 2-6 2 4 2 7 2 8 2-26 2-30 2-11 2 4 2 21 2 11 2 2 2 16 2 2 2-6 2-15 2-11 2 9 2 14 2 5 2-9 2-7 2-5 2 6 2 10 2 2 2 8 2-2 2-11 2-5 2 11 2 4 2-1 2-4 2-6 2 0 2-10 2-14 2-16 2-4 2-9 2-6 2 11 2 15 2 23 2 22 2 7 2-5 2 4 2-2 2-8 2-1 2-2 2 5 2-2 2-3 2-8 2-5 2-5 2 5 2 13 2 5 2 0 2-16 2-4 2 4 2 13 2 6 2 7 2 3 2-7 2-9 2-6 2-8 2 6 2 17 2-4 2 6 2 21 2 29 2 10 2 6 2 13 2 5 2-4 2-17 2-14 2-1 2-8 2-9 2 0 2 3 2-7 2-21 2 0 2-7 2-2 2 17 2 11 2-4 2-15 2-16 2 4 2 3 2-3 2 6 2-11 2-15 2-11 2 4 2 22 2 20 2-1 2-13 2-3 2-7 2-3 2 14 2 10 2 0 2-12 2-22 2 2 2 19 2 23 2-7 2-14 2 2 2 8 2 3 2-2 2 13 2-2 2-15 2-18 2-4 2 11 2 14 2 9 2-5 2-9 2-10 2-2 2 13 2-3 2-3 2 7 2-14 2-15 2-14 2-29 2-34 2-16 2 20 2 33 2 30 2-1 2-11 2-5 2 0 2 8 2-4 2 11 2 18 2 10 2 6 2-2 2-21 2-3 2 18 2 8 2-3 2-10 2-5 2 11 2 12 2 5 2 6 2-4 2-20 2-9 2 26 2 20 2-12 2 0 2 6 2 5 2-5 2-9 2-10 2-6 2 4 2 15 2 32 2-4 2-21 2-18 2-2 2 17 2 20 2-5 2-13 2 5 2 3 2-16 2-15 2-2 2-6 2 7 2 10 2-8 2-14 2-10 2 7 2 7 2 9 2 1 2-14 2-14 2-7 2 8 2 9 2 21 2 10 2-12 2-13 2-8 2 4 2 15 2 11 2 4 2-3 2 0 2 1 2-13 2-15 2-19 2-6 2 18 2 6 2 0 2 9 2 8 2 12 2-10 2-12 2-4 2 2 2 8 2 12 2 7 2-6 2-11 2-15 2-3 2 18 2 10 2 2 2-8 2-12 2-16 2 3 2 14 2 18 2 13 2-8 2-24 2-3 2 8 2 2 2 9 2-2 2-13 2-15 2 10 2 20 2 16 2-8 2-17 2-3 2 4 2-2 2-17 2-16 2 25 2 19 2-4 2 6 2-1 2-12 2-6 3 2 2 7 2-1 2-5 2 0 2 1 2 11 2 1 2-8 2-5 2-4 2 0 2-3 2-6 2 6 2-2 2 0 2-4 2-3 2 13 2 12 2 18 2 5 2-20 2-24 2-5 2 16 2 10 2 11 2 1 2-23 2-22 2 2 2 22 2 14 2 4 2-5 2 1 2 0 2-6 2-9 2-19 2 2 2 22 2 17 2 6 2-9 2-17 2-18 2-4 2 17 2 12 2-5 2-10 2 2 2 6 2-13 2-15 2-1 2 0 2 6 2 10 2 4 2-8 2-12 2 1 2 13 2 18 2 13 2-3 2-8 2-10 2-3 2-1 2 10 2 4 2-9 2 0 2-11 2-8 2 13 2 12 2-2 2 2 2 2 2-17 2-11 2 14 2 10 2-8 2-9 2-7 2 3 2 11 2 4 2 11 2-3 2-5 2 0 2-6 2 2 2 1 2 1 2 1 2-11 2-6 2 3 2 12 2 8 2 7 2 0 2-11 2-8 2-9 2 5 2 20 2 16 2 5 2-13 2-13 2-11 2-13 2 4 2 21 2 11 2-1 2-11 2-22 2-6 2 14 2 11 2-5 2 1 2 7 2-2 2-6 2 3 2 11 2 6 2 3 2-2 2-2 2-10 2-2 2 4 2 12 2-5 2-21 2-9 2 11 2 16 2-1 2-6 2-3 2-21 2-6 2 5 2-1 2 4 2 9 2 17 2 3 2 2 2 14 2 5 2-21 2-16 2-4 2 8 2 6 2-2 2 1 2-10 2-5 2-11 2 1 2 13 2 14 2 3 2 5 2-6 2-6 2-3 2-8 2-2 2 9 2 8 2 7 2-13 2-7 2 6 2 6 2 3 2 0 2-1 2-1 2-13 2 2 2 20 2 26 2 5 2-7 2-11 2-22 2 6 2 6 2-11 2-15 2-12 2-13 2 6 2 14 2 1 2 1 2-9 2-22 2-10 2 11 2 23 2 22 2 23 2 5 2-18 2-15 2 0 2 9 2-3 2 9 2 10 2-19 2-14 2 13 2 9 2-11 2-8 2 0 2-6 2 3 2 11 2 2 2-6 2-8 2 1 2-2 2 8 2 12 2-12 2-17 2 4 2 19 2 11 2 0 2-12 2-13 2-2 2 5 2 10 2 14 2-6 2-24 2-4 2 11 2-2 2-5 2 9 2-2 2 9 2 23 2 4 2-8 2 0 2-10 2-12 2-14 2-10 2 18 2 15 2 16 2 11 2-13 2 3 2 7 2 4 2 2 2-6 2-25 2-21 2-19 2-19 2-14 2-14 2 4 2 8 2 19 2 27 2 23 2 3 2-7 2-8 2-7 2 7 2 15 2 8 2 5 2-3 2-9 2-10 2-1 2-3 2 10 2 16 2 7 2-16 2-8 2-9 2-15 2 7 2 19 2 2 2 1 2-13 2-20 2 6 2 4 2-8 2 0 2 12 2-10 2-12 2 17 2 21 2 12 2 5 2-13 2-11 2-9 2-6 2 9 2 3 2 9 2 2 2 0 2-5 2-6 2-2 2 1 2 0 2-4 2-4 2 7 2 4 2 1 2 6 2 14 2-3 2-9 2-11 2-3 2 6 2 1 2 9 2 11 2-6 2 8 2 13 2 27 2 26 2 11 2-13 2-29 2-23 2-21 2-15 2 2 2 13 2 14 2 0 2-1 2 0 2 7 2-5 2-3 2 9 2-12 2-26 2-15 2 10 2 21 2 16 2-6 2-8 2-9 2-11 2-11 2 4 2 21 2 11 2-13 2-22 2-2 2 15 2 6 2 11 2-1 2-9 2-8 2-1 2-5 2-15 2-8 2 10 2 12 2 7 2 4 2 6 2 1 2 5 2 0 2-2 2-3 2 2 2 5 2 4 2-8 2-8 2-5 2-3 2 12 2 11 2 5 2-4 2-6 2 4 2 8 2 0 2 6 2 2 2-20 2-20 2-5 2 20 2 16 2 8 2-13 2-14 2-4 2-4 2-5"/>
<path stroke="#EDB120" d="M203 438l2-5 2-3 2 2 2 2 2 1 2 0 2-4 2-7 2-5 2-10 2-17 2-13 2-6 2 2 2 11 2 23 2 24 2 11 2 0 2-5 2-5 2-6 2-15 2-17 2-6 2 2 2 4 2 4 2 5 2 8 2 9 2 9 2 4 2 0 2 4 2 5 2 0 2-4 2-8 2-7 2-1 2 1 2-9 2-27 2-44 2-47 2-19 2 26 2 46 2 38 2 24 2 15 2 11 2 1 2-4 2 0 2 3 2 4 2 4 2-1 2-5 2-2 2 6 2 5 2 1 2 2 2-2 2-4 2-5 2-6 2-1 2 4 2-1 2-7 2-4 2 0 2 5 2 5 2 3 2-5 2-10 2-5 2 10 2 25 2 32 2 41 2 50 2 42 2 17 2-2 2-16 2-24 2-18 2-6 2-5 2-14 2-21 2-20 2-13 2-1 2-6 2-16 2-11 2-5 2 0 2 5 2 0 2-11 2-14 2-2 2 2 2-5 2-3 2 2 2-3 2-6 2-2 2 5 2 6 2 1 2 1 2 5 2 5 2 4 2 0 2-4 2-5 2 1 2 7 2 4 2 0 2-1 2-5 2-6 2-5 2-6 2-4 2 0 2 3 2 6 2 6 2 0 2-9 2-9 2-1 2 10 2 8 2 1 2-1 2-6 2-13 2-8 2 1 2-9 2-31 2-52 2-61 2-48 2-5 2 38 2 53 2 41 2 22 2 7 2 4 2 14 2 13 2 7 2 5 2 3 2 3 2 3 2 3 2 4 2 3 2 0 2-1 2 1 2 5 2 5 2 0 2 0 2 5 2 9 2 7 2 6 2 11 2 7 2 2 2 0 2-3 2-6 2-7 2-5 2-2 2 5 2 7 2-2 2-6 2 5 2 9 2 4 2 1 2 9 2 7 2-2 2-7 2-11 2-5 2-2 2-4 2-5 2-5 2-7 2-7 2-6 2-10 2-10 2-5 2-4 2-2 2-4 2-4 2-5 2-8 2-7 2 6 2 18 2 10 2-5 2-4 2 3 2 8 2 11 2 8 2-3 2-9 2-2 2 8 2 10 2 3 2 2 2 4 2 1 2-12 2-10 2 1 2 4 2 2 2 2 2 0 2 1 2-1 2-3 2-1 2 2 2 1 2-1 2 0 2-1 2 4 2 5 2 1 2-1 2-3 2-7 2-8 2-2 2 5 2 10 2 6 2-2 2-3 2-1 2 0 2-2 2 0 2 1 2-4 2-2 2 6 2 5 2-2 2-6 2-7 2-4 2 3 2 5 2 4 2 2 2-2 2-3 2-2 2 3 2 6 2 4 2 2 3 1 2 2 2-3 2-9 2-6 2 0 2-3 2-2 2 2 2 1 2-2 2 1 2-5 2-8 2 3 2 2 2-2 2 6 2 12 2 7 2-4 2-11 2 0 2 8 2 3 2-4 2-5 2-2 2-1 2 4 2 6 2 0 2-8 2-7 2 4 2 5 2-1 2 0 2 9 2 1 2-9 2-3 2 4 2 2 2 3 2 4 2-5 2-7 2-4 2-7 2-5 2 7 2 11 2 5 2-8 2-7 2 2 2-6 2-18 2-17 2-3 2 8 2 8 2 4 2 1 2 4 2 7 2 8 2 4 2 0 2 3 2 3 2 6 2 6 2-3 2-6 2 2 2 6 2-2 2-10 2-6 2 5 2 13 2 13 2-4 2-10 2-3 2 1 2 2 2 4 2 3 2 0 2-3 2-3 2-6 2-6 2 3 2 9 2 5 2-6 2-10 2-2 2 4 2 2 2 0 2 2 2 7 2-1 2-14 2-7 2 3 2 5 2 2 2-2 2-3 2 2 2 3 2-1 2-4 2-3 2 2 2 4 2-1 2-3 2 3 2 8 2 8 2 5 2 2 2-2 2-8 2-4 2 3 2 5 2-1 2-4 2 0 2 6 2-2 2-9 2-1 2 0 2-9 2-6 2 10 2 13 2 3 2 0 2 0 2-4 2-8 2-2 2-3 2-7 2-8 2-8 2-9 2-4 2 10 2 14 2 9 2 8 2 8 2 6 2 6 2 2 2-7 2-15 2-10 2 1 2 0 2-5 2 3 2 7 2-4 2-14 2-8 2 7 2 10 2 6 2 5 2 2 2-1 2 0 2 1 2 0 2-1 2 0 2 4 2 1 2-5 2-4 2-1 2-2 2-1 2 4 2 9 2 15 2 13 2 16 2 21 2 13 2-4 2-23 2-26 2-14 2-5 2-5 2-3 2-1 2-3 2-3 2-10 2-17 2-16 2-7 2-1 2 2 2 13 2 20 2 20 2 11 2-1 2-3 2 0 2-1 2-2 2-2 2-4 2-6 2 5 2 11 2 3 2-5 2-4 2 2 2 9 2 8 2-3 2-11 2-10 2-6 2-1 2 5 2 4 2 1 2 3 2 3 2-4 2-10 2-6 2 7 2 9 2 4 2 2 2 0 2 1 2 7 2 1 2-11 2-12 2 0 2 7 2 2 2-1 2 0 2-2 2-3 2 2 2 5 2 4 2-3 2-5 2 4 2 6 2-4 2-6 2-2 2 0 2 7 2 20 2 20 2 12 2-1 2-16 2-23 2-30 2-39 2-42 2-26 2-7 2 3 2 19 2 33 2 25 2 14 2 16 2 17 2 6 2-6 2-3 2 8 2 7 2-5 2-2 2 3 2-1 2-8 2-4 2 1 2-1 2-3 2-3 2 3 2 10 2 4 2-5 2-3 2 7 2 9 2 0 2 0 2 1 2 3 2 2 2-6 2-12 2-1 2 2 2-4 2 2 2 9 2 1 2-3 2 0 2 2 2 3 2-1 2-6 2-4 2 3 2 5 2 1 2-9 2-20 2-15 2-8 2-4 2 7 2 18 2 21 2 13 2 1 2-2 2-3 2-6 2-7 2-1 2 9 2 5 2-5 2 1 2 13 2 21 2 41 2 55 2 40 2 1 2-39 2-55 2-44 2-29 2-11 2 9 2 11 2 8 2 10 2 16 2 15 2 1 2-13 2-21 2-14 2-10 2-6 2-1 2 1 2-1 2-2 2-3 2 1 2 5 2 7 2 2 2-3 2-7 2-6 2 0 2 2 2-3 2-2 2 5 2-2 2-10 2-6 2-4 2-3 2 3 2 1 2-6 2-9 2 1 2 13 2 12 2 5 2-1 2-1 2 5 2 8 2 6 2 6 2 1 2 0 2 2 2 6 2 1 2 3 2 8 2 2 2-4 2 0 2-3 2-2 2-1 2-7 2-13 2-6 2 0 2 2 2 4 2 7 2 5 2-2 2-4 2-5 2-4 2-3 2 2"/>
<path stroke="#7E2F8E" d="M203 423l2 15 2-4 2 4 2-8 2 0 2 5 2 2 2-9 2-2 2 1 2-14 2-30 2-23 2-1 2 18 2 17 2 11 2 8 2 6 2 8 2 1 2-13 2-12 2-6 2-6 2 4 2 6 2 4 2-3 2 9 2 19 2 16 2 0 2-11 2-1 2 5 2 12 2 0 2-10 2 0 2 5 2-11 2-25 2-32 2-51 2-45 2-6 2 31 2 44 2 39 2 38 2 15 2 0 2 0 2-8 2 0 2-1 2 2 2 2 2 5 2 10 2-3 2-15 2-17 2 1 2 10 2 7 2-9 2-7 2-4 2 2 2 21 2 9 2-4 2-1 2-7 2-5 2 2 2-1 2-3 2 2 2 11 2 4 2 6 2 32 2 44 2 46 2 47 2 26 2-4 2-29 2-30 2-11 2-7 2-9 2 8 2 1 2-21 2-33 2-16 2-3 2-7 2-11 2-14 2-3 2 4 2 2 2-10 2-13 2-6 2-4 2 0 2-1 2 2 2 1 2-7 2 0 2 5 2 13 2 3 2-4 2-3 2-8 2-6 2-3 2 7 2 8 2-4 2 5 2 3 2-5 2-6 2-13 2-9 2 8 2 6 2 7 2 5 2 4 2-4 2-10 2 1 2 6 2 1 2-7 2 7 2 6 2-5 2-8 2-5 2 1 2 10 2-10 2-34 2-36 2-37 2-49 2-33 2 0 2 32 2 45 2 33 2 11 2 9 2 6 2 3 2 15 2 13 2-4 2-4 2 12 2 12 2 9 2 5 2 7 2 17 2 0 2-10 2-11 2-16 2-6 2 11 2 10 2 3 2 11 2 26 2 17 2 7 2 9 2 6 2-10 2-9 2-16 2-1 2 13 2-6 2-2 2 2 2-11 2-6 2 13 2 18 2 10 2 0 2-7 2-11 2 0 2 0 2-6 2-2 2-2 2-2 2-8 2-10 2-8 2-16 2 1 2 2 2-3 2 0 2-9 2-10 2-10 2 4 2 2 2 3 2 3 2 2 2 8 2 3 2 3 2 4 2 11 2-8 2-6 2 2 2-2 2-8 2 5 2 3 2 3 2 1 2-4 2 0 2 9 2 4 2-1 2-6 2 3 2-2 2-8 2-1 2 0 2 1 2 0 2 4 2 5 2-3 2-1 2-1 2-1 2 5 2-1 2-16 2-5 2 8 2-1 2 5 2 10 2 3 2-2 2-1 2-1 2 1 2 0 2-4 2 7 2-1 2-14 2-7 2-1 2 10 2 4 2-6 2 4 2 6 2 2 2 2 2 7 2-4 2 0 2-5 2 0 2-14 2-10 2 15 2 5 3-10 2 9 2 5 2-1 2 18 2 2 2-6 2-2 2-2 2-17 2-8 2 5 2 4 2-5 2-17 2-8 2-5 2 5 2 22 2 21 2-5 2-15 2-2 2 6 2 16 2-3 2-1 2 7 2-8 2-13 2 1 2 5 2-4 2-2 2 8 2-4 2-4 2 3 2-4 2-1 2-3 2 0 2 7 2 7 2 2 2-5 2-7 2-4 2 5 2-3 2-7 2 2 2-2 2-7 2 2 2-4 2-7 2 2 2 5 2-3 2-14 2-13 2-3 2 4 2 15 2 23 2 15 2 0 2 1 2 0 2-4 2 3 2-3 2 3 2 12 2-7 2-14 2 0 2 10 2 10 2-2 2-10 2-9 2 3 2 5 2-1 2 4 2 13 2 0 2-14 2-11 2 3 2 11 2 3 2 2 2-2 2-3 2 3 2 5 2 6 2 0 2-9 2-9 2 0 2 8 2-3 2-11 2-2 2 4 2 10 2 7 2-3 2-6 2 10 2 6 2-10 2-14 2 1 2 3 2 1 2 2 2 5 2-1 2-12 2-1 2 4 2 10 2 0 2 6 2 0 2-13 2-12 2-5 2 4 2 9 2 2 2 7 2 1 2-4 2-3 2 2 2 7 2-8 2-3 2-9 2 4 2 13 2-2 2-3 2 7 2 3 2-7 2-10 2-5 2-3 2-19 2-19 2 0 2 17 2 14 2 4 2 4 2 8 2 10 2 0 2-10 2-4 2-2 2 11 2 1 2-11 2-19 2-1 2 14 2 3 2-14 2 3 2 14 2 4 2-6 2 1 2 2 2 3 2 6 2 0 2-3 2 4 2 1 2 2 2 6 2-12 2 0 2 8 2-5 2-8 2 8 2 18 2 4 2-1 2 10 2 28 2 21 2-7 2-18 2-22 2-14 2-3 2-16 2-5 2 7 2 3 2-8 2-21 2-19 2-17 2-4 2 21 2 12 2 6 2 4 2 15 2 9 2-4 2-7 2-5 2 8 2 10 2 3 2-1 2-9 2-4 2 5 2-1 2-7 2 3 2 6 2 10 2 7 2 6 2-6 2-18 2-7 2 10 2 7 2-9 2-7 2 2 2 0 2 8 2 10 2-1 2-14 2-14 2 6 2 9 2 0 2 1 2 4 2 0 2-4 2-9 2-8 2 4 2 9 2 4 2 8 2 3 2-9 2-6 2 0 2-4 2-2 2 3 2 10 2 2 2-10 2 3 2 3 2 8 2 12 2 8 2 20 2 20 2 5 2-11 2-32 2-46 2-38 2-34 2-29 2-11 2 4 2 22 2 23 2 20 2 24 2 12 2 8 2 15 2 15 2 3 2-1 2-6 2-9 2 6 2 5 2-4 2-1 2 2 2-11 2-4 2 4 2 2 2 9 2-1 2-6 2-7 2-3 2 9 2 5 2-6 2-4 2 0 2 3 2 1 2 1 2-2 2 5 2-2 2-7 2 5 2-1 2-3 2 0 2-1 2 2 2 2 2 12 2 2 2-15 2-14 2 1 2 11 2-1 2-4 2-10 2-22 2-8 2 3 2 18 2 21 2 9 2-2 2-3 2-6 2-11 2 12 2 13 2-7 2-8 2 4 2 11 2 15 2 26 2 42 2 48 2 36 2 2 2-43 2-49 2-38 2-31 2-12 2 10 2-6 2-5 2 25 2 31 2 10 2-8 2-18 2-1 2-8 2-8 2 5 2 3 2-19 2-13 2-1 2-4 2-4 2 6 2 7 2-13 2-5 2 5 2 6 2 4 2 1 2-6 2-2 2 4 2-1 2 1 2-3 2-5 2-13 2-14 2 1 2 1 2-5 2-1 2 7 2 5 2 8 2 9 2 14 2 8 2-3 2-5 2 1 2 2 2 11 2-2 2 0 2 9 2 3 2 3 2-2 2-2 2 1 2 9 2 3 2-12 2-13 2-8 2-7 2-4 2 6 2 6 2 2 2-5 2-9 2 8 2 12 2-7 2 5 2-1"/>
<path stroke="#77AC30" d="M203 437l2 4 2-1 2 7 2 7 2-10 2-11 2-2 2-4 2-7 2-2 2-5 2-10 2-9 2 1 2-1 2 8 2 16 2 11 2 8 2-5 2-4 2 7 2 1 2-12 2-8 2-3 2-1 2-2 2 3 2 14 2 11 2-5 2-4 2-3 2-4 2 6 2 6 2 4 2 2 2-8 2-8 2-8 2-5 2-8 2-13 2-12 2-10 2 3 2 15 2 19 2 13 2 8 2 8 2 1 2 5 2 8 2-3 2-16 2-11 2 3 2 7 2-7 2 0 2 10 2-4 2-7 2 4 2 3 2 8 2 0 2-5 2 2 2 2 2 2 2 0 2-8 2 4 2 6 2 1 2 0 2-1 2-4 2 2 2 7 2 21 2 23 2 21 2 18 2 12 2-7 2-14 2-16 2-8 2-1 2 9 2 0 2-13 2-13 2-13 2-5 2-3 2 6 2-1 2-14 2-4 2-2 2 6 2 5 2-12 2-13 2-7 2 0 2 8 2 8 2 4 2 1 2-8 2-4 2 5 2 4 2-2 2-2 2-2 2 6 2 5 2 2 2 3 2 1 2 1 2-3 2-17 2-2 2 7 2 6 2-3 2-1 2 4 2 7 2 1 2 3 2-4 2-1 2-2 2-7 2-10 2-2 2 9 2 3 2-3 2 8 2 1 2-4 2-8 2-18 2-17 2-23 2-24 2-19 2 4 2 18 2 19 2 14 2 10 2 13 2 11 2 7 2 7 2-3 2-4 2 3 2 6 2-9 2 7 2 9 2-7 2-7 2-5 2-1 2 10 2 4 2 1 2 2 2-4 2-1 2 10 2 3 2 2 2 12 2 13 2-4 2-10 2-9 2-5 2-1 2 10 2 3 2-4 2-11 2 1 2 12 2 1 2 6 2 11 2-1 2-9 2-3 2 1 2-2 2-3 2 2 2 2 2-8 2-5 2-2 2-15 2-8 2 1 2 1 2 13 2 8 2-3 2-11 2-14 2-1 2 1 2-6 2-2 2 10 2 9 2-2 2-2 2 2 2-2 2 4 2 3 2-6 2-5 2 4 2-1 2 3 2 4 2 0 2-3 2-1 2 2 2 4 2 9 2 5 2 0 2-4 2-3 2-2 2-1 2 4 2-4 2-12 2-4 2 3 2-2 2 4 2 11 2 4 2 3 2-3 2-2 2 2 2-4 2-1 2 0 2 1 2 9 2 4 2-5 2-2 2 1 2 4 2 2 2 2 2 0 2-3 2-6 2-15 2-10 2 16 2 12 2-3 2 3 2 1 2-5 2-5 2-2 2-1 2-2 2-6 2 2 2 10 2 5 3 1 2-8 2-7 2-4 2 4 2 2 2 13 2 9 2-7 2-12 2-3 2 2 2-3 2 0 2-1 2-10 2-8 2 7 2 14 2 10 2-5 2-8 2-2 2 12 2 8 2 0 2-5 2-5 2-2 2-5 2 5 2 10 2 4 2 4 2-6 2-15 2-1 2 9 2-3 2-7 2 5 2 0 2-2 2 4 2 2 2 1 2 2 2 4 2-5 2-1 2 3 2-2 2 8 2 11 2-8 2-19 2-9 2 3 2 3 2-10 2-8 2 6 2 8 2-3 2 1 2 3 2 0 2 1 2 7 2 6 2-2 2-7 2 0 2 9 2 3 2-1 2-2 2 9 2 6 2-12 2 0 2 8 2 3 2-1 2-4 2-8 2-5 2-1 2 1 2 2 2-4 2-1 2-2 2-1 2 1 2-6 2 1 2 2 2-8 2 5 2 22 2 10 2-11 2-14 2-6 2 1 2 2 2-3 2 3 2 5 2-2 2-2 2 8 2 5 2-5 2-12 2-3 2 5 2 6 2-2 2-4 2 1 2-1 2 3 2 2 2-5 2-6 2-1 2 4 2 2 2 12 2 11 2 0 2-17 2-5 2 11 2 3 2 2 2 2 2-6 2-4 2 5 2 2 2-6 2-1 2 7 2-3 2 2 2 8 2-13 2-9 2 5 2-3 2-1 2-2 2 1 2 2 2-8 2-11 2 12 2 5 2-5 2 4 2 12 2 11 2 1 2 1 2-3 2-14 2-7 2 6 2-1 2-10 2-3 2 2 2-7 2-2 2 10 2 7 2-6 2-7 2 1 2 6 2 1 2 4 2 3 2 1 2-3 2-3 2 5 2 0 2 3 2 3 2 2 2 3 2 6 2-8 2-9 2 11 2 25 2 13 2-7 2-13 2-4 2-6 2-9 2-3 2 0 2-5 2-7 2-1 2 0 2-14 2-15 2-1 2 11 2 10 2-12 2-6 2 9 2 10 2-3 2-2 2 16 2 6 2-6 2 8 2 10 2-7 2-4 2 3 2-4 2 3 2 5 2-14 2-15 2 6 2 20 2 7 2-8 2 0 2 6 2-5 2-12 2-3 2 1 2 2 2 2 2 7 2 7 2 7 2 3 2-4 2-2 2-5 2-7 2-4 2 1 2 3 2-3 2-5 2 5 2 11 2 11 2-7 2-12 2 5 2 1 2-5 2 0 2-4 2 3 2 10 2 2 2-7 2 7 2 0 2-6 2 4 2 2 2 7 2 13 2 10 2-4 2-12 2-14 2-23 2-22 2-16 2-11 2-6 2 1 2 6 2 14 2 18 2 21 2 11 2-7 2-3 2 12 2 7 2-7 2-10 2-3 2 8 2 6 2-6 2-7 2-1 2-1 2 2 2-6 2 0 2 13 2 2 2-17 2-13 2 10 2 7 2 0 2 11 2 11 2-5 2-7 2 10 2 0 2-13 2-6 2 2 2 11 2 4 2 0 2 1 2-4 2-7 2-5 2 4 2 1 2-6 2-7 2 1 2 7 2 7 2 3 2-3 2-13 2-14 2-8 2 6 2 6 2 11 2 18 2 3 2-6 2-1 2 0 2-9 2-6 2 2 2 6 2 5 2-1 2 12 2 17 2 10 2 21 2 28 2 11 2-18 2-26 2-21 2-28 2-13 2 3 2 3 2 12 2 12 2 0 2 5 2 12 2 2 2-15 2-19 2-13 2-9 2 7 2 2 2 1 2 1 2 0 2 6 2 5 2 8 2 3 2-7 2 0 2-2 2-9 2-4 2-6 2-6 2 6 2 7 2 4 2-8 2-2 2 3 2-7 2-6 2-2 2-9 2-5 2 15 2 11 2 4 2 8 2 4 2-11 2-12 2 1 2 15 2 6 2-4 2 2 2 0 2 0 2 0 2 2 2 1 2-2 2-10 2 4 2 13 2 3 2-4 2-3 2-6 2-12 2 1 2 9 2-3 2-3 2 0 2-2 2-8 2-1 2 2 2 10"/>
<path stroke="#4DBEEE" d="M203 442l2-11 2 1 2 0 2 10 2 5 2-21 2-18 2 4 2-1 2-5 2 9 2-11 2-26 2-11 2 3 2 9 2 17 2 23 2 29 2 11 2-20 2-30 2-9 2 0 2-7 2 9 2 7 2-10 2-10 2 16 2 20 2 8 2-4 2 6 2-2 2-6 2-11 2 11 2 23 2-6 2-17 2-11 2-12 2-13 2-28 2-49 2-23 2 31 2 44 2 41 2 33 2 15 2 1 2-20 2-9 2-3 2 4 2 14 2 9 2-9 2-6 2-13 2 10 2 7 2 1 2 1 2-3 2 3 2-11 2-7 2 1 2-7 2-5 2 11 2-4 2-11 2 7 2 17 2 7 2-4 2-4 2 0 2-4 2 8 2 26 2 40 2 58 2 60 2 41 2-30 2-41 2-29 2-18 2-16 2 3 2 6 2-5 2-6 2-28 2-31 2-10 2-7 2-7 2 4 2 17 2-1 2-10 2 5 2 5 2-24 2-29 2 7 2 25 2 10 2-10 2-15 2 1 2-6 2 8 2 27 2 7 2-20 2-10 2-2 2 2 2 13 2-1 2-7 2 2 2-10 2-15 2-6 2 14 2 11 2 2 2 2 2 3 2-14 2-10 2 9 2 24 2 9 2-19 2-29 2-11 2 16 2 27 2 0 2-5 2 5 2 0 2 6 2-15 2-26 2-43 2-59 2-46 2-24 2 12 2 34 2 47 2 31 2 9 2 0 2 2 2 11 2 13 2 5 2 1 2 5 2 12 2 13 2 1 2-11 2 1 2 4 2-1 2 13 2 7 2 2 2-15 2-5 2-4 2 8 2 11 2 9 2 8 2 10 2 4 2 6 2 2 2 0 2-11 2-5 2 9 2-4 2 6 2 1 2 7 2-10 2-19 2 8 2 26 2 14 2-4 2-5 2 4 2 6 2 1 2-30 2-32 2-7 2 12 2 13 2-8 2-18 2 1 2 1 2 2 2 11 2 14 2-7 2-27 2-28 2-4 2 15 2 5 2-21 2-20 2 18 2 31 2 8 2 9 2-8 2-15 2 1 2 20 2 3 2-22 2-20 2 4 2 23 2 22 2-1 2-8 2-3 2 5 2 2 2 5 2 1 2-12 2-8 2-5 2 4 2 6 2 20 2 15 2-27 2-21 2 0 2 6 2-1 2-2 2 13 2 9 2 2 2 0 2-12 2-16 2 2 2 12 2 17 2 0 2-15 2-8 2-2 2 4 2 7 2 14 2 11 2-8 2-3 2 7 2-10 2-21 2-9 2 9 2 8 2 2 2 6 2-1 2-3 2-10 2-14 2 23 2 11 2-4 3-2 2-15 2 1 2 8 2 4 2-2 2-10 2 1 2 15 2 17 2-7 2-16 2-25 2-25 2 0 2 9 2 5 2 6 2 0 2 2 2-5 2 14 2 21 2-1 2-5 2-11 2-10 2-8 2 18 2 13 2-3 2-4 2-8 2-19 2 6 2 23 2 17 2-15 2-8 2 4 2 4 2-3 2-8 2 1 2 8 2 17 2-2 2-15 2 0 2 12 2 3 2-2 2-16 2-7 2 13 2 1 2-18 2-15 2-9 2-6 2 12 2 6 2 4 2 9 2-13 2-13 2 12 2 23 2 15 2-8 2-8 2-10 2-8 2 4 2 4 2 5 2 5 2 7 2 18 2-5 2-18 2-30 2 6 2 19 2 2 2 10 2-6 2-15 2 2 2 6 2-4 2 12 2 6 2-7 2-24 2-15 2 30 2 28 2-10 2-23 2-3 2 5 2 8 2 18 2 2 2-1 2-6 2-9 2-7 2-8 2 7 2 14 2-7 2-13 2 4 2 11 2 1 2-16 2 2 2 13 2 13 2 1 2-14 2-1 2 5 2 9 2-8 2-4 2 12 2 14 2-7 2-9 2-4 2-15 2 10 2 16 2-1 2-13 2-7 2-8 2-3 2 12 2 23 2 8 2-17 2-9 2-1 2 0 2 6 2 12 2 17 2-5 2-16 2-28 2-27 2-4 2 4 2 6 2-8 2 6 2 8 2 4 2 28 2 23 2 2 2-21 2-16 2 5 2 11 2-3 2-9 2 7 2-4 2-14 2-19 2 4 2 11 2 7 2 9 2 5 2 2 2-10 2-7 2 9 2 13 2 0 2 3 2-9 2-5 2 5 2 7 2-5 2 1 2 5 2-18 2-6 2-7 2 11 2 34 2 26 2 17 2 15 2-19 2-37 2-17 2 10 2 0 2-16 2-2 2-7 2 7 2 19 2-2 2-42 2-45 2-20 2 22 2 43 2 8 2-3 2 16 2 4 2-13 2 2 2 7 2 12 2-4 2-8 2 11 2 6 2-12 2-6 2-16 2-3 2 15 2 23 2 4 2-15 2-9 2 1 2-7 2 1 2 2 2 15 2-2 2-15 2-16 2 13 2 23 2 1 2-7 2-13 2 2 2 16 2 8 2-13 2-16 2-9 2 15 2 33 2 9 2-22 2-14 2-4 2-5 2-3 2 14 2 18 2-13 2-10 2-7 2-8 2-2 2 1 2 26 2 15 2-13 2-19 2-11 2 21 2 30 2 28 2 16 2-3 2-13 2-40 2-46 2-43 2-23 2-14 2-14 2 0 2 23 2 31 2 22 2 10 2 16 2 0 2 5 2 0 2-1 2 0 2 12 2 10 2 13 2-8 2-6 2 10 2-3 2-11 2 4 2-1 2 0 2 1 2 4 2 14 2-7 2-9 2-3 2-12 2 0 2 7 2 24 2 1 2-18 2-16 2-2 2-5 2 13 2 10 2 6 2-6 2-4 2-3 2-9 2-9 2 7 2 13 2-2 2 2 2 11 2-2 2 7 2-3 2-20 2-21 2-24 2-26 2 9 2 22 2 16 2 9 2 8 2 24 2 5 2-15 2-13 2-3 2 9 2 14 2 10 2-10 2-2 2 4 2 44 2 66 2 49 2 5 2-37 2-44 2-53 2-34 2 8 2 28 2 8 2-13 2 2 2 9 2 12 2 4 2-1 2-21 2-13 2-10 2-4 2 0 2-15 2-2 2-5 2-14 2 17 2 10 2 5 2 0 2-16 2-9 2 6 2 8 2 12 2 20 2 2 2-19 2-13 2-12 2-1 2 10 2 2 2-8 2-17 2-23 2-5 2 11 2 12 2 20 2 8 2-7 2 4 2 9 2-16 2-7 2 8 2 8 2-1 2 0 2-4 2 2 2 2 2 5 2 9 2 0 2-4 2 7 2 11 2-5 2 6 2 4 2-14 2-28 2-12 2 7 2 8 2 2 2 5 2-5 2-20 2-9 2 25 2 21"/>
<path stroke="#A2142F" d="M203 452l2-10 2-7 2 1 2 7 2-2 2-5 2-1 2 1 2 4 2 1 2-10 2-19 2-17 2-9 2-1 2 17 2 15 2 2 2 5 2 11 2 0 2-12 2-11 2-6 2-9 2-1 2 5 2 9 2 6 2 2 2 4 2 4 2 2 2 6 2-1 2-4 2 0 2 5 2 6 2-4 2-8 2 0 2-7 2-28 2-35 2-32 2-13 2 24 2 38 2 31 2 19 2 8 2 1 2-1 2-3 2-4 2 2 2 7 2 0 2-2 2 6 2 10 2-3 2-11 2-5 2 0 2-2 2-1 2 6 2 0 2-8 2 1 2 7 2 0 2-5 2 4 2 3 2-1 2 5 2-2 2-4 2 4 2 7 2 11 2 23 2 28 2 36 2 37 2 17 2 2 2-16 2-25 2-19 2-6 2-4 2-8 2-6 2-10 2-20 2-13 2-8 2-5 2 0 2-1 2-6 2-4 2 1 2-4 2-10 2-5 2 1 2 1 2 1 2 2 2 0 2 4 2 9 2 9 2-4 2-15 2-9 2 0 2 4 2 1 2 0 2 1 2-3 2-1 2 10 2 4 2 2 2 5 2-7 2-13 2-4 2 1 2 0 2 1 2-4 2 5 2 2 2-5 2 0 2 5 2 10 2 11 2 0 2-14 2-7 2 3 2 5 2 4 2-6 2-24 2-36 2-47 2-44 2-24 2 1 2 28 2 42 2 28 2 11 2 3 2 1 2 8 2 17 2 10 2-6 2-3 2 6 2 6 2 3 2 3 2 9 2 7 2 4 2 1 2 3 2 5 2 1 2-8 2 1 2 10 2 0 2 7 2 14 2 9 2 3 2-6 2-11 2-4 2 0 2 2 2 5 2 3 2 1 2-3 2-5 2-2 2-3 2-3 2 5 2 6 2 4 2 7 2 4 2 8 2-3 2-10 2-1 2 1 2-10 2-12 2-8 2-14 2-13 2-2 2 5 2 3 2-9 2-16 2-5 2 1 2 0 2 5 2 10 2 5 2 11 2 8 2-5 2-1 2 2 2 2 2-5 2-9 2 2 2 8 2 5 2-3 2-1 2 1 2 1 2-3 2 1 2 5 2-1 2-5 2-6 2-3 2-5 2-9 2 7 2 10 2-1 2-2 2 1 2 2 2-2 2 6 2 7 2 1 2-8 2-9 2 7 2 9 2-2 2-7 2-2 2 1 2-7 2-7 2 9 2 11 2 2 2-5 2-6 2-8 2-1 2 8 2 9 2 4 2 0 2-2 2 2 2 0 2-2 2-1 2-3 2-6 2-1 2 0 2-6 2-1 2-1 2 5 2 10 3-2 2-8 2-3 2 2 2 9 2 12 2 2 2-2 2 5 2-3 2-9 2-9 2-7 2-1 2 1 2-4 2-7 2 2 2 8 2 9 2 9 2 5 2-4 2-3 2 2 2-6 2-10 2-3 2 10 2 12 2 8 2 5 2 3 2-6 2-12 2-4 2 6 2 12 2 6 2-10 2-19 2-1 2 9 2 1 2 0 2 4 2-4 2-10 2-5 2 1 2 3 2 1 2-2 2-6 2-8 2-2 2-1 2 1 2-2 2-3 2-1 2-3 2-8 2-3 2 13 2 16 2 12 2 4 2-6 2 0 2 6 2 2 2-3 2-7 2-1 2-1 2 5 2 10 2-2 2-5 2 1 2-3 2-2 2 6 2-2 2-11 2-2 2 3 2 3 2 5 2 4 2 0 2 0 2 7 2 4 2-6 2-6 2-3 2-3 2-2 2 0 2 3 2 2 2-3 2 0 2 7 2 1 2-6 2 2 2 2 2 0 2-6 2-9 2 5 2 18 2 16 2 0 2-21 2-13 2 3 2 4 2 1 2 1 2-6 2-8 2 0 2 7 2 9 2 4 2-6 2-12 2-1 2 9 2 4 2 2 2 0 2-4 2-3 2 3 2 10 2 10 2-1 2 0 2-8 2-13 2 2 2 6 2 2 2-3 2-2 2 5 2-1 2-7 2-10 2-6 2 0 2-6 2-14 2-4 2 12 2 15 2 9 2 7 2-1 2-1 2 5 2 4 2 0 2 0 2-6 2-11 2-2 2 1 2-3 2-5 2 1 2 2 2-2 2 4 2 9 2 0 2-6 2-1 2 0 2 3 2 5 2 0 2-3 2 7 2 7 2 1 2 0 2 0 2-1 2-1 2-5 2-2 2 7 2 9 2 8 2 16 2 21 2 2 2-19 2-20 2-14 2-5 2 1 2-1 2 4 2-2 2-15 2-17 2-8 2-7 2-4 2-2 2 3 2 10 2 15 2 17 2 9 2-6 2-7 2 1 2 0 2-1 2 2 2 6 2 0 2-4 2 4 2 10 2 2 2-11 2-13 2-4 2 8 2 8 2-1 2 3 2 7 2 8 2 1 2-6 2-7 2-5 2-4 2-6 2-5 2 2 2 5 2 9 2 7 2 2 2-4 2-12 2-6 2-3 2-3 2 3 2 8 2 9 2-5 2-2 2 1 2-2 2 5 2 9 2 1 2-5 2 5 2-9 2-12 2 3 2 10 2 5 2 2 2 3 2 14 2 20 2 11 2 2 2 1 2-18 2-33 2-21 2-20 2-31 2-26 2-6 2 10 2 19 2 14 2 10 2 9 2 9 2 20 2 23 2 4 2-9 2-8 2-6 2 4 2 12 2 2 2-8 2 5 2 7 2-4 2-5 2 1 2-4 2-7 2 0 2-2 2-3 2-4 2-4 2 2 2-1 2 7 2 4 2-7 2-5 2 3 2 6 2-1 2-9 2-1 2 4 2-1 2 1 2 9 2 9 2 2 2 1 2 6 2-6 2-7 2-4 2-12 2-4 2 7 2-4 2-10 2-7 2-5 2-2 2 5 2 14 2 11 2 5 2 2 2-1 2 4 2 2 2 0 2 5 2-1 2-3 2 4 2 12 2 15 2 24 2 37 2 36 2 8 2-24 2-37 2-33 2-34 2-16 2 4 2 7 2 4 2 11 2 12 2 14 2 7 2-6 2-13 2-17 2-12 2-4 2-2 2-4 2-3 2-2 2-2 2-1 2 0 2 0 2-1 2-2 2 0 2 4 2 9 2 7 2-2 2-7 2-4 2-3 2 2 2 12 2 4 2-10 2-12 2-15 2-18 2-4 2 18 2 15 2 8 2 8 2-1 2-7 2 1 2 1 2 3 2 7 2-1 2-4 2 3 2 5 2 2 2-2 2 2 2 7 2 7 2 6 2-8 2-7 2 1 2-4 2-8 2-8 2-5 2 4 2 4 2 0 2-4 2-2 2 4 2 6 2 3 2 3 2 2"/>
<path stroke="#0072BD" d="M203 439l2-1 2-6 2-7 2-1 2 6 2 8 2 3 2 1 2 0 2-7 2-18 2-26 2-27 2-10 2 16 2 26 2 21 2 13 2 4 2-3 2-8 2-10 2-8 2-5 2-6 2 0 2 8 2 10 2 7 2 5 2 6 2 4 2-1 2-2 2 2 2-3 2-12 2-9 2 7 2 13 2 9 2-2 2-23 2-40 2-41 2-31 2-8 2 24 2 43 2 37 2 26 2 18 2 13 2 6 2-8 2-19 2-13 2 3 2 11 2 4 2-4 2-6 2 0 2 2 2 1 2 0 2-1 2-2 2-1 2 3 2 8 2 11 2 6 2-3 2-5 2-4 2-5 2 1 2 4 2 1 2-1 2-1 2-2 2 5 2 21 2 42 2 50 2 46 2 28 2 0 2-22 2-27 2-16 2-6 2 1 2-5 2-15 2-18 2-23 2-21 2-13 2-2 2 4 2 0 2-7 2-4 2 3 2-2 2-5 2-7 2-8 2-9 2-3 2 0 2-1 2 2 2 7 2 0 2-7 2 2 2 12 2 1 2-6 2-3 2-1 2 3 2 6 2 0 2-3 2-2 2-4 2-1 2 2 2 1 2 1 2 1 2-2 2-6 2-5 2-8 2-6 2 5 2 10 2 7 2 2 2 4 2 7 2 2 2-9 2-13 2-9 2 2 2 6 2-14 2-40 2-56 2-53 2-31 2 0 2 28 2 44 2 36 2 20 2 8 2-1 2 2 2 10 2 10 2 4 2 6 2 13 2 16 2 13 2 10 2 8 2-3 2-7 2-4 2-4 2-7 2-4 2 3 2 9 2 11 2 12 2 15 2 17 2 7 2-5 2-6 2-1 2-3 2-6 2-2 2 0 2-5 2-8 2 3 2 13 2 7 2-5 2-8 2 0 2 10 2 8 2 0 2 2 2 4 2-4 2-7 2-10 2-15 2-15 2-4 2 3 2-2 2-6 2-4 2-4 2 1 2 8 2-1 2-13 2-19 2-12 2 2 2 9 2 7 2 4 2-2 2 1 2 11 2 10 2 6 2 2 2-3 2 1 2 4 2-3 2-5 2-3 2-1 2 4 2 2 2-5 2-1 2 6 2 9 2 3 2-5 2-8 2-11 2-9 2-2 2 5 2 1 2-3 2 1 2 5 2 6 2 4 2 2 2 0 2-1 2 0 2-4 2-8 2 1 2 8 2 1 2-4 2-3 2-3 2 0 2 4 2 5 2 3 2 3 2 1 2 1 2 3 2 2 2-4 2-7 2 0 2 1 2-4 2-1 2 0 2 0 2 1 2 4 2 1 2-8 2-2 2 5 2 0 3-3 2-4 2-7 2-4 2-3 2 0 2 8 2 14 2 6 2 1 2 2 2-3 2-9 2-14 2-16 2-6 2 4 2 7 2 6 2 0 2 2 2 9 2 6 2 7 2 11 2 6 2 0 2-4 2-9 2-7 2-2 2-3 2-7 2-3 2 2 2 5 2 0 2-5 2-1 2 4 2 8 2 5 2 1 2-3 2-3 2-3 2-1 2 5 2 3 2 1 2 0 2-2 2-3 2-1 2 1 2-3 2-11 2-16 2-14 2-2 2 7 2 3 2 1 2 2 2 2 2 4 2 6 2 3 2 2 2 5 2 5 2 5 2 7 2-1 2-4 2 4 2 3 2-7 2-3 2 8 2 5 2-3 2-3 2 3 2-1 2-4 2 3 2 8 2 3 2-4 2-6 2-7 2-9 2-5 2 4 2 10 2 9 2 0 2-5 2-2 2-6 2-1 2 5 2 8 2 7 2 1 2-4 2-7 2-3 2 7 2 7 2 0 2-8 2-11 2-10 2-2 2 8 2 9 2 0 2 0 2 3 2 4 2 1 2 1 2 1 2 3 2 0 2-14 2-9 2 5 2 6 2 1 2 3 2-1 2-1 2 1 2 3 2 1 2-2 2-2 2 3 2 2 2-3 2-3 2 2 2 3 2 5 2 6 2-3 2-14 2-10 2 4 2 6 2 0 2-11 2-16 2-14 2-9 2 1 2 12 2 15 2 9 2-2 2-6 2 1 2 13 2 9 2-1 2 0 2 1 2-4 2-9 2-11 2-9 2-5 2 0 2 2 2-2 2-4 2 4 2 14 2 14 2 8 2 1 2-2 2 3 2 5 2 0 2-2 2 0 2-1 2-1 2 0 2 0 2 1 2 0 2-2 2-2 2 8 2 26 2 36 2 22 2-7 2-31 2-34 2-19 2-3 2-1 2-4 2 0 2 9 2 2 2-17 2-28 2-21 2-7 2 2 2 4 2 12 2 17 2 11 2 9 2 8 2 5 2 4 2-1 2-10 2-10 2-5 2 3 2 8 2 12 2 9 2-2 2-7 2-8 2-9 2-1 2 2 2-2 2-2 2 3 2 5 2 4 2 2 2-3 2-8 2-2 2 7 2 9 2 5 2 0 2 0 2 5 2 2 2-3 2-8 2-6 2 3 2 8 2 8 2-1 2-10 2-8 2 2 2 6 2 4 2-2 2-7 2 3 2 8 2 0 2-6 2 1 2 3 2 2 2 0 2 6 2 7 2 3 2-1 2 9 2 16 2 5 2-13 2-24 2-33 2-37 2-31 2-18 2-11 2 1 2 12 2 19 2 22 2 19 2 14 2 12 2 10 2 3 2-2 2 0 2 2 2-4 2-3 2 3 2 2 2-4 2 1 2 11 2 10 2-4 2-12 2-11 2-2 2 6 2 5 2 2 2 6 2 8 2 1 2-6 2-7 2-12 2-5 2 10 2 12 2 4 2-4 2-7 2-2 2 6 2 3 2-5 2-7 2 1 2 7 2 4 2 4 2 4 2-2 2-3 2-3 2-9 2-13 2-14 2-11 2 0 2 7 2 10 2 11 2 7 2 0 2-6 2-2 2 6 2 11 2 5 2-4 2-10 2-3 2 6 2 8 2 20 2 44 2 62 2 46 2 2 2-37 2-51 2-46 2-30 2-11 2-1 2 6 2 9 2 14 2 17 2 13 2 2 2-12 2-15 2-10 2-13 2-16 2-4 2 5 2 8 2 3 2-5 2-10 2-8 2-4 2 3 2 8 2 7 2-3 2-7 2-1 2 7 2 10 2 5 2-3 2-2 2 3 2 0 2-3 2-6 2-15 2-14 2-4 2 4 2 7 2 5 2 3 2 3 2 5 2 0 2-2 2 1 2 2 2-2 2-4 2-3 2 5 2 13 2 12 2 9 2 3 2-4 2-5 2-1 2 0 2-2 2 2 2 2 2-8 2-13 2-10 2-8 2-2 2 6 2 7 2 6 2 2 2-2 2-7 2-8"/>
<path stroke="#D95319" d="M203 422l2 10 2 2 2 1 2 1 2 3 2 6 2 8 2-6 2-22 2-11 2-3 2-16 2-30 2-14 2 20 2 32 2 18 2 5 2 1 2-1 2 4 2 0 2-13 2-24 2-10 2 11 2 12 2 9 2 16 2 16 2 8 2-1 2-4 2-9 2-11 2-3 2 6 2 5 2 4 2 0 2-3 2-6 2-18 2-34 2-43 2-41 2-16 2 32 2 51 2 41 2 24 2 17 2 10 2-12 2-19 2-6 2 5 2 7 2 5 2 7 2 2 2-10 2-8 2 1 2 2 2-3 2-1 2 3 2 10 2 5 2-8 2-5 2 4 2 0 2 3 2 2 2-14 2-1 2 12 2 9 2-8 2-14 2 9 2 22 2 33 2 42 2 53 2 53 2 29 2-5 2-32 2-36 2-23 2-7 2 7 2 2 2-15 2-24 2-17 2-4 2-6 2-17 2-21 2-6 2 4 2 2 2-1 2-13 2-17 2-10 2-2 2 4 2 1 2 1 2 0 2-2 2-4 2-1 2 4 2 4 2 2 2 2 2 0 2-7 2-2 2 4 2 6 2 7 2 5 2 0 2-7 2-9 2 3 2 9 2-5 2-15 2-9 2-1 2 5 2 10 2 4 2-4 2-9 2 2 2 5 2 5 2 6 2 7 2 6 2-4 2-11 2-15 2-12 2-10 2-25 2-57 2-71 2-43 2 5 2 40 2 45 2 32 2 22 2 16 2 10 2 7 2 3 2 5 2 8 2 8 2 7 2-1 2 3 2 7 2 8 2 7 2-1 2-5 2 0 2 3 2 0 2-2 2 6 2 6 2 1 2 10 2 21 2 18 2 5 2-10 2-11 2 4 2 5 2-4 2-5 2 2 2 10 2 3 2-6 2-8 2-3 2 3 2 3 2 8 2 13 2 13 2 0 2-9 2-11 2-6 2-5 2-10 2-12 2-8 2-2 2-7 2-10 2-3 2 1 2 3 2 0 2-5 2-9 2-10 2-3 2 1 2 5 2-1 2-1 2-1 2 5 2 14 2 10 2 4 2-2 2-6 2-5 2-4 2-2 2 3 2 7 2 4 2 5 2 5 2 4 2-7 2-7 2 1 2 6 2 4 2-3 2-6 2-6 2-2 2 3 2 0 2 0 2-2 2-11 2-5 2 7 2 8 2-4 2-6 2 4 2 10 2 2 2 1 2-2 2-5 2-1 2 6 2 4 2 0 2-5 2-4 2 3 2-1 2-1 2 4 2 5 2 0 2-1 2-1 2-3 2-1 2-2 2-4 2-1 2 2 2 0 2 2 2 1 2-5 2-1 2 9 2 5 3-9 2-3 2 7 2 1 2 2 2 4 2-10 2-10 2-3 2 3 2 4 2-8 2-4 2 5 2-9 2-11 2 9 2 12 2 4 2 4 2 4 2-4 2-6 2 0 2 8 2 10 2 7 2 5 2-5 2-12 2-6 2 3 2 8 2 10 2 2 2-4 2-6 2-12 2-12 2 5 2 13 2 6 2 0 2 0 2 3 2-2 2-13 2-7 2 1 2 3 2 3 2 7 2 3 2-9 2-5 2 2 2-7 2-17 2-8 2-4 2-7 2-3 2 9 2 10 2 11 2 3 2 10 2 12 2-2 2 1 2 3 2-4 2-4 2 4 2 8 2 3 2-3 2-4 2 0 2-3 2-7 2-2 2-3 2 4 2 12 2 5 2-10 2-11 2-3 2 3 2 6 2 5 2-8 2-15 2 7 2 14 2 1 2 2 2 7 2-6 2-13 2-9 2 2 2 12 2 7 2-1 2-4 2 0 2 6 2 3 2 1 2-1 2-9 2-15 2-5 2 10 2 12 2-7 2-10 2 7 2 9 2 0 2 2 2 0 2-3 2-1 2 2 2 5 2 2 2-5 2-5 2 2 2 6 2 2 2-4 2-1 2-2 2-3 2-4 2 2 2 16 2 17 2 1 2-9 2-11 2-14 2-10 2 3 2 4 2 0 2 1 2 1 2 6 2 0 2-19 2-20 2-9 2-6 2 5 2 17 2 14 2 8 2 9 2 1 2-8 2-7 2 2 2 11 2 3 2-5 2 0 2-5 2-14 2-11 2 5 2 6 2-4 2 1 2 14 2 4 2-6 2 5 2 8 2 3 2 1 2 4 2-5 2-10 2-3 2 2 2 7 2 5 2 0 2 1 2-1 2 1 2 4 2 8 2 12 2 22 2 30 2 16 2-9 2-29 2-27 2-19 2-12 2-4 2-1 2-2 2-2 2-4 2-11 2-14 2-13 2-11 2 0 2 12 2 11 2 15 2 11 2 7 2 2 2-5 2-3 2 7 2 5 2-5 2-11 2-2 2 7 2 13 2 9 2 0 2 2 2-6 2-6 2 4 2 8 2 1 2-11 2-5 2 3 2 5 2 7 2-3 2-10 2-4 2 6 2 6 2-4 2-6 2 1 2 0 2 0 2 4 2 6 2 5 2-4 2-10 2-8 2-1 2 5 2 3 2 4 2 5 2 0 2-4 2-2 2-7 2-10 2 4 2 4 2-2 2 1 2 14 2 3 2-5 2 4 2 18 2 19 2 10 2 12 2 4 2-15 2-32 2-37 2-37 2-40 2-31 2-15 2 5 2 18 2 19 2 30 2 34 2 21 2 6 2-4 2 1 2 9 2 3 2-5 2-1 2 1 2 0 2-5 2-9 2 1 2 4 2-6 2-4 2 7 2 8 2 4 2-2 2-4 2 1 2 12 2 7 2-5 2-1 2 5 2-1 2-1 2-3 2-8 2-3 2 6 2-1 2-4 2-2 2 3 2 0 2-3 2 3 2 13 2 6 2-7 2-11 2-3 2 5 2 5 2-2 2-16 2-19 2-11 2 0 2 13 2 13 2 11 2 8 2-4 2-4 2 5 2 7 2 4 2 2 2 0 2-2 2-2 2 3 2 9 2 15 2 36 2 58 2 52 2 11 2-34 2-62 2-57 2-33 2-8 2 5 2 1 2 7 2 16 2 19 2 14 2 9 2-4 2-17 2-18 2-17 2-14 2-8 2-1 2 4 2 6 2-1 2 1 2 2 2 3 2 0 2-4 2 2 2-2 2 0 2 12 2 0 2-12 2-5 2-2 2 2 2 1 2-4 2-2 2-8 2-10 2-3 2 1 2-4 2-9 2-1 2 16 2 19 2 12 2 1 2-7 2-5 2 5 2 12 2 9 2-4 2-4 2-2 2-1 2 2 2 2 2 10 2 18 2-4 2-18 2-7 2 2 2-4 2-9 2-5 2 3 2 5 2-2 2-9 2 1 2 10 2 4 2-9 2-15 2-12"/>
<path stroke="#EDB120" d="M203 434l2 2 2-3 2-1 2 2 2 2 2-3 2 4 2 4 2-4 2-6 2-8 2-13 2-12 2-3 2 11 2 15 2 12 2-4 2-2 2 0 2 1 2-4 2-2 2 3 2 5 2 4 2-7 2-1 2 2 2-2 2 3 2 8 2 7 2-4 2-5 2-2 2 5 2 4 2-7 2-6 2 2 2-3 2 1 2-7 2-28 2-24 2 4 2 18 2 17 2 8 2-1 2 13 2 13 2-6 2-2 2 6 2 0 2-7 2-5 2 7 2 2 2-2 2 4 2 3 2-5 2-6 2 2 2-1 2-6 2 3 2 13 2 5 2-3 2-5 2-4 2 0 2-1 2 3 2 9 2 2 2-11 2-7 2 5 2 8 2 9 2 19 2 23 2 13 2 3 2-2 2-7 2-10 2-12 2-5 2 6 2 1 2-9 2-4 2-2 2-11 2-12 2-6 2-3 2 3 2 2 2 0 2 1 2-3 2 0 2 1 2-1 2 4 2 3 2-3 2-7 2-2 2 0 2 1 2 5 2-3 2-5 2 2 2-1 2 1 2 0 2 1 2 2 2-2 2-1 2 6 2 1 2-5 2 1 2 2 2 1 2 4 2 4 2-4 2 0 2 2 2-4 2-9 2-4 2 3 2 0 2 3 2 0 2 0 2-2 2 2 2 6 2 0 2-6 2-3 2-17 2-29 2-21 2-11 2 1 2 14 2 19 2 12 2 8 2 3 2-1 2-1 2 2 2-2 2-2 2 6 2 13 2 7 2-4 2 0 2 2 2 3 2 1 2 5 2 1 2-3 2-6 2 7 2 6 2-8 2-3 2 8 2 13 2 1 2-2 2 3 2-1 2-1 2-4 2-3 2 4 2 0 2-2 2 1 2 3 2 6 2-3 2 2 2 1 2-2 2-1 2 2 2-1 2-8 2-4 2 8 2 4 2-1 2 0 2-4 2-8 2-6 2 2 2 2 2-2 2-8 2-14 2 0 2 10 2 7 2-1 2-1 2 4 2 5 2-1 2-1 2 2 2 1 2-3 2 5 2 6 2-7 2-12 2-1 2 7 2-1 2-5 2-1 2 4 2 2 2 5 2 1 2-7 2-3 2 1 2 4 2 4 2-2 2-2 2-1 2-11 2 1 2 11 2-1 2-2 2-2 2 1 2 0 2-3 2-2 2-1 2 6 2 8 2-2 2-1 2 2 2-3 2-8 2 2 2 7 2 3 2-5 2-5 2-6 2 0 2 10 2 1 2-8 2-2 2 2 2 3 2 3 2 2 2 4 2 3 2-8 2-3 2 6 2 0 2-5 2-2 2 3 2 1 3-1 2 2 2 4 2-1 2-3 2 0 2 6 2 1 2-5 2-8 2-7 2 2 2-2 2-5 2-7 2-2 2 9 2 11 2 0 2-9 2-5 2 1 2 1 2 10 2 9 2-1 2-5 2-3 2 3 2 4 2-2 2 2 2-2 2-3 2-1 2 3 2 5 2-2 2-2 2 6 2 10 2 3 2-7 2-4 2 0 2 1 2-1 2-4 2-2 2 5 2 2 2-6 2-4 2 1 2-3 2-3 2 1 2 3 2-5 2-5 2-1 2 3 2 5 2 5 2-6 2-6 2 4 2 4 2-1 2 1 2 10 2 8 2 0 2-5 2-6 2-2 2 6 2 0 2-8 2-2 2 5 2-1 2 2 2 3 2 2 2 5 2 4 2-1 2-6 2-7 2-4 2 1 2 5 2 4 2 4 2-4 2-8 2-5 2-4 2 4 2 9 2 7 2-1 2-13 2-13 2-8 2 5 2 16 2 13 2 4 2-5 2-2 2 0 2-7 2-2 2 7 2 4 2-1 2-5 2 5 2 7 2 3 2-1 2-6 2-11 2 0 2 9 2 1 2-5 2-1 2-1 2-7 2-5 2 7 2 16 2 1 2-12 2-2 2 4 2 2 2-4 2-3 2-7 2-2 2 8 2 8 2-7 2-12 2-4 2 3 2 7 2 4 2-8 2-4 2 2 2 1 2-2 2-2 2 1 2 4 2 10 2 9 2-2 2-6 2-5 2-6 2-1 2 2 2 3 2 1 2 5 2-1 2-7 2 0 2 0 2-7 2-5 2 1 2 1 2 3 2 7 2 13 2 8 2 3 2 5 2-5 2-6 2-4 2 0 2 0 2 1 2-5 2-3 2 8 2 2 2-11 2-2 2 8 2 8 2 7 2 8 2 3 2 1 2-6 2-11 2-5 2-3 2 3 2-2 2-4 2-3 2-7 2-3 2 1 2-1 2-7 2 2 2 9 2 0 2 2 2 9 2 7 2 0 2-6 2-4 2-4 2-6 2 5 2 8 2 4 2-7 2-3 2 0 2-4 2 5 2 3 2 3 2 6 2 4 2-5 2-2 2-5 2 2 2-5 2-7 2 8 2 6 2 2 2-5 2-7 2 2 2 11 2-4 2-9 2 0 2 5 2-5 2-7 2-1 2 3 2 11 2 4 2-1 2-1 2-2 2 2 2 1 2 4 2-2 2-7 2 0 2 7 2 2 2-5 2-1 2-6 2-5 2 7 2 8 2-3 2 5 2 13 2 3 2-7 2-6 2-12 2-16 2-19 2-19 2-4 2 5 2 6 2 6 2 8 2 13 2 7 2 11 2 6 2-7 2-3 2 4 2 3 2 1 2-3 2-8 2-1 2 6 2 2 2-2 2-2 2 3 2 5 2-1 2-1 2 0 2-2 2-5 2-1 2 3 2 4 2-2 2 1 2 5 2 3 2 0 2-2 2-4 2-6 2-6 2 3 2 6 2 5 2 4 2-1 2-1 2-2 2-10 2-1 2 8 2-6 2-5 2 0 2-1 2 1 2 5 2-3 2-8 2 3 2 6 2-3 2 1 2 6 2 0 2 4 2 10 2 1 2-3 2-1 2 4 2-2 2-10 2-4 2 7 2 3 2 12 2 20 2 18 2 7 2-10 2-12 2-17 2-17 2-3 2 9 2 5 2-5 2-1 2 6 2 9 2 2 2-10 2-9 2-8 2-8 2-1 2 2 2 11 2 14 2 2 2-2 2-12 2-7 2 4 2-3 2-3 2-2 2 3 2 4 2-3 2-4 2-5 2-3 2 4 2 0 2 2 2 1 2 0 2 1 2-5 2-4 2-1 2 6 2 1 2-4 2 0 2 2 2 1 2-1 2 2 2 3 2 4 2 2 2 4 2 3 2-5 2-4 2-3 2-2 2 4 2 6 2 7 2 4 2-5 2-9 2-4 2 5 2 3 2-1 2 1 2 2 2-5 2-4 2-7 2-6 2 6 2 5 2-1 2-4"/>
<path stroke="#7E2F8E" d="M203 439l2 4 2 3 2-1 2-3 2-6 2-7 2 1 2 6 2 0 2-11 2-21 2-24 2-20 2 0 2 18 2 27 2 17 2-2 2-12 2 3 2 12 2 13 2 9 2-17 2-22 2-8 2 2 2 12 2 15 2 9 2-5 2-10 2-8 2 6 2 15 2 13 2-3 2-11 2-6 2 3 2 7 2 5 2-14 2-47 2-55 2-43 2-14 2 22 2 44 2 51 2 38 2 23 2 2 2-11 2-13 2-1 2 13 2 15 2-1 2-12 2-7 2-1 2 11 2 10 2 8 2-8 2-18 2-14 2-7 2 8 2 10 2 8 2 0 2-6 2-1 2 2 2-2 2-2 2-2 2 3 2 5 2 4 2 12 2 15 2 21 2 29 2 49 2 61 2 39 2 10 2-26 2-50 2-40 2-13 2 8 2 6 2-4 2-28 2-40 2-30 2-3 2 11 2 12 2 4 2-7 2-16 2-13 2-4 2 0 2 3 2-4 2-4 2 0 2-3 2 1 2 5 2 12 2 3 2-15 2-9 2-1 2 0 2 5 2 14 2 5 2-10 2-7 2 1 2-3 2-4 2-6 2-6 2 7 2 12 2 13 2 2 2-14 2-12 2-7 2 0 2 11 2 16 2 0 2-7 2-6 2-2 2 6 2 6 2 2 2-3 2-11 2-8 2-5 2-12 2-27 2-63 2-74 2-47 2 5 2 47 2 62 2 46 2 11 2-5 2-7 2 1 2 18 2 23 2 12 2-4 2 2 2-1 2 4 2 13 2 8 2 3 2-9 2-11 2-8 2 0 2 14 2 9 2 12 2 14 2 11 2 7 2 6 2 14 2 20 2 11 2-10 2-16 2-16 2-5 2 7 2 14 2 3 2-8 2-12 2-7 2 10 2 20 2 15 2-7 2 0 2 6 2-10 2-10 2-10 2-11 2-9 2-1 2 3 2-5 2-12 2-18 2-13 2 3 2 17 2 17 2-9 2-28 2-28 2-5 2 8 2 9 2 4 2-1 2 1 2 0 2 7 2 8 2-5 2-8 2 10 2 16 2 12 2-2 2-10 2-8 2-1 2 11 2 8 2 4 2-7 2-7 2-4 2-3 2 3 2 9 2 8 2-7 2-11 2 1 2 9 2 3 2-3 2 6 2 0 2-7 2-4 2-6 2-6 2-9 2-5 2 10 2 3 2-8 2 3 2 16 2 18 2 9 2-8 2-20 2-15 2 0 2 12 2 12 2 0 2-8 2-4 2 5 2 2 2 2 2 7 2 9 2-1 2-19 2-19 2-5 2 9 2 11 2 7 2-6 2-6 2-6 2 0 3 9 2 9 2 8 2-5 2-13 2-11 2 0 2 12 2 11 2 14 2-2 2-22 2-26 2-8 2-2 2-2 2 5 2 7 2 7 2-5 2 0 2 12 2 9 2 0 2-6 2-8 2-1 2 14 2 17 2 6 2-8 2-9 2-15 2-5 2 11 2 15 2 4 2-13 2-13 2 6 2 10 2-11 2-6 2 11 2 12 2 0 2-6 2-7 2-4 2 3 2 5 2 4 2-6 2-11 2-13 2-5 2 0 2-17 2-18 2 4 2 6 2 1 2 6 2 17 2 19 2 13 2-1 2-6 2-7 2 2 2 5 2 6 2 3 2 1 2 2 2 0 2 1 2 5 2 0 2-1 2 4 2 6 2-6 2-7 2-4 2-3 2 3 2 0 2-1 2-1 2-7 2-10 2 1 2 15 2 13 2 6 2 1 2 3 2-3 2-16 2-11 2-10 2-6 2 12 2 12 2 13 2 0 2-12 2-9 2-4 2 10 2 13 2 5 2-7 2-10 2-4 2 9 2 12 2 15 2-1 2-11 2-14 2-12 2 1 2 5 2 9 2 1 2-13 2-11 2 2 2 12 2 15 2 11 2-9 2-16 2-12 2 3 2 18 2 11 2 0 2-18 2-17 2-10 2 2 2 14 2 17 2 9 2-7 2-2 2 8 2 0 2-13 2-12 2-8 2 3 2-8 2-21 2-7 2 14 2 25 2 8 2-5 2-7 2-6 2 12 2 2 2-9 2 5 2 9 2 8 2 1 2-10 2-5 2-2 2-4 2 0 2-2 2-5 2 9 2 15 2 0 2 2 2 11 2-3 2-13 2-18 2-1 2 7 2-3 2 5 2 7 2 10 2 5 2-6 2-10 2-9 2 7 2 22 2 29 2 18 2 11 2 3 2-7 2-15 2-19 2-10 2-9 2-9 2-13 2-6 2 0 2-6 2-12 2-11 2-6 2 2 2 0 2 1 2 16 2 16 2 5 2-1 2-2 2-6 2 5 2 12 2 9 2-4 2-13 2-5 2-5 2 2 2 12 2 12 2 3 2-8 2-8 2-3 2 6 2 13 2 9 2-11 2-10 2 4 2 9 2-4 2-9 2-10 2 1 2 10 2 12 2 2 2-9 2-8 2-9 2-4 2 3 2 7 2 2 2-3 2 5 2 6 2-1 2-3 2-4 2-5 2 7 2 7 2-5 2-8 2-1 2-1 2-3 2 6 2 8 2 11 2 5 2 0 2 11 2 16 2 10 2 17 2 5 2-11 2-13 2-28 2-39 2-43 2-30 2-14 2-17 2-12 2-3 2 21 2 40 2 37 2 17 2-2 2-3 2 6 2 9 2 8 2 5 2 2 2-2 2-5 2 2 2 6 2 14 2 5 2-11 2-9 2-11 2-4 2 7 2 2 2-1 2-4 2-6 2 5 2 15 2 7 2-4 2-7 2-10 2 2 2 9 2 10 2 5 2-8 2-9 2-13 2-2 2 7 2 7 2-1 2-9 2-4 2-4 2 6 2 10 2 9 2 5 2-15 2-29 2-30 2-12 2 18 2 23 2 20 2 7 2-5 2-9 2 4 2 14 2 12 2-5 2-10 2 0 2 1 2 5 2 5 2 7 2 26 2 49 2 65 2 51 2-3 2-48 2-61 2-46 2-20 2-3 2-5 2-4 2 3 2 17 2 22 2 14 2 5 2-12 2-20 2-15 2-15 2-6 2-4 2-14 2-12 2 4 2 17 2 16 2-7 2-8 2 1 2-1 2-2 2-4 2-12 2-3 2 8 2 16 2 9 2-13 2-17 2-11 2 1 2-1 2-1 2-5 2-12 2-10 2-1 2 12 2 19 2 26 2 18 2-10 2-14 2-12 2 4 2 15 2 10 2 7 2-10 2-11 2 5 2 6 2-3 2 2 2 11 2 11 2-1 2-11 2-5 2 7 2 6 2-11 2-5 2 13 2-1 2-15 2-13 2-11 2 3 2 0 2-3 2 12 2 11"/>
<path stroke="#77AC30" d="M203 421l2-5 2 7 2 10 2 7 2 1 2-10 2 4 2 14 2-3 2-17 2-26 2-19 2 1 2 6 2 14 2 12 2 3 2-6 2 3 2 11 2-5 2-15 2-7 2 2 2 8 2 2 2-3 2 12 2 18 2-2 2-13 2-12 2 5 2 12 2 5 2 0 2-7 2-2 2 1 2 3 2 9 2 4 2-9 2-38 2-56 2-45 2-6 2 31 2 49 2 39 2 12 2-3 2-14 2 4 2 20 2 7 2 6 2-2 2 1 2 10 2 0 2-11 2-8 2 10 2 7 2 1 2 0 2-12 2-14 2-7 2 6 2 13 2 12 2-6 2-7 2-10 2-13 2 5 2 17 2 9 2-9 2-10 2-3 2 20 2 43 2 51 2 37 2 26 2 13 2 4 2-10 2-20 2-27 2-17 2-2 2-7 2-6 2-15 2-21 2-17 2-14 2-17 2-3 2 10 2 2 2 5 2-8 2-14 2-14 2-4 2 7 2 10 2 18 2 6 2-11 2-14 2 3 2 7 2 5 2 3 2-5 2-8 2-11 2 1 2 13 2 15 2 5 2-16 2-12 2-3 2 10 2 17 2-5 2-20 2-18 2-1 2 14 2 4 2-4 2 6 2 14 2 17 2-1 2-10 2-9 2-7 2 6 2 15 2 11 2-8 2-17 2-29 2-18 2 1 2-8 2-34 2-62 2-52 2-7 2 39 2 46 2 41 2 26 2 2 2 9 2 6 2-7 2-7 2 2 2 11 2 9 2 4 2 9 2 9 2 9 2 2 2-4 2-14 2-10 2 12 2 14 2 9 2 3 2-5 2 12 2 28 2 9 2-6 2-7 2-13 2-1 2 6 2 3 2 1 2-1 2-7 2-10 2 9 2 12 2 6 2-9 2-13 2-8 2 6 2 12 2 13 2 4 2-15 2-9 2 2 2 5 2-1 2-6 2-6 2-18 2-14 2-4 2 0 2 9 2 11 2-1 2-19 2-16 2-10 2-3 2 0 2-3 2 14 2 25 2 13 2-3 2-12 2-11 2-12 2 1 2 20 2 22 2-6 2-13 2-8 2-5 2 15 2 17 2 3 2-8 2-13 2-11 2-5 2 7 2 8 2 10 2 8 2-7 2-9 2-10 2-6 2 4 2 11 2 15 2-1 2-14 2-14 2-2 2 14 2 7 2 5 2-5 2-10 2-5 2 4 2 7 2 9 2 11 2-7 2-8 2 4 2 2 2-6 2 0 2-1 2-6 2-4 2 2 2 3 2-7 2-8 2-2 2 9 2 6 2-6 2-1 2 11 2 5 2 1 2 9 2-2 2-14 3-13 2-4 2 10 2 11 2 11 2-4 2-22 2-22 2 1 2 21 2 10 2-2 2 2 2 9 2 0 2-20 2-13 2 2 2 17 2 15 2 12 2 1 2-10 2-10 2-3 2 8 2 13 2 9 2-12 2-13 2 1 2 1 2-2 2-6 2-14 2 0 2 10 2 14 2 14 2-9 2-21 2-19 2 6 2 20 2 15 2-2 2-10 2-7 2 2 2 3 2-2 2-5 2-7 2-15 2-11 2 7 2 6 2 8 2-3 2-16 2-17 2-4 2 18 2 20 2 10 2 3 2 1 2 0 2 2 2-2 2 4 2 7 2-5 2-11 2-3 2 11 2 6 2 4 2 2 2 2 2 8 2 7 2-9 2-13 2-12 2-6 2 1 2 2 2 5 2 1 2 3 2 12 2 3 2-11 2-9 2-12 2-9 2 12 2 2 2-5 2 12 2 13 2 9 2-2 2-6 2 2 2-3 2-11 2 7 2 15 2-4 2-1 2 6 2-13 2-15 2-7 2-3 2 9 2 7 2 11 2 7 2-13 2-14 2 1 2 11 2 3 2 0 2 0 2-8 2-9 2 7 2 20 2 9 2-13 2-10 2-5 2 7 2 11 2 18 2 4 2-17 2-14 2 2 2 6 2-7 2-5 2-4 2-8 2 0 2-2 2 2 2 9 2 0 2-10 2-2 2-11 2-18 2 4 2 6 2-2 2 12 2 18 2 10 2 6 2-6 2-14 2-15 2 1 2 13 2 9 2 3 2-12 2-18 2-12 2 4 2 1 2-6 2 10 2 14 2-3 2-3 2 15 2 19 2 9 2-6 2 1 2 0 2-15 2-12 2-7 2-1 2 6 2 6 2 7 2-1 2-5 2-2 2 3 2 21 2 25 2 9 2 0 2 3 2-17 2-22 2-3 2 13 2 19 2-3 2-9 2 1 2-17 2-18 2-5 2-17 2-23 2-15 2 7 2 25 2 16 2 11 2 8 2-3 2-7 2-9 2 0 2 9 2 5 2 11 2 12 2 3 2-10 2-17 2-16 2-6 2 12 2 10 2 6 2 5 2-4 2-13 2-5 2 13 2 13 2 8 2-4 2-8 2-7 2-10 2-6 2-3 2 9 2 11 2 5 2 5 2 2 2 4 2 9 2 5 2-12 2-14 2-9 2-3 2 6 2 3 2 5 2 0 2 0 2-3 2-8 2 1 2 2 2-6 2-8 2 8 2 8 2-6 2 7 2 22 2 16 2 10 2 5 2 12 2 9 2-19 2-36 2-45 2-38 2-26 2-21 2-15 2 7 2 27 2 35 2 30 2 10 2 0 2 3 2 15 2 11 2 5 2-4 2-11 2-18 2-1 2 15 2 7 2 2 2-6 2-10 2-4 2 8 2 5 2-1 2 7 2 3 2-7 2-8 2 0 2-7 2-10 2 5 2 18 2 17 2 12 2-5 2-15 2-16 2-6 2 3 2 5 2 5 2-2 2-2 2 1 2 5 2 10 2 14 2-5 2-13 2-8 2-7 2 0 2 4 2 5 2-15 2-27 2-11 2 16 2 20 2 21 2 18 2 0 2-18 2-18 2 5 2 10 2 8 2 1 2-7 2-10 2-4 2 14 2 30 2 48 2 46 2 27 2-10 2-35 2-42 2-36 2-23 2-20 2-9 2 3 2 18 2 25 2 25 2 15 2-5 2-14 2-21 2-15 2 1 2 14 2 13 2-11 2-22 2-19 2-13 2 7 2 16 2 10 2-7 2-16 2-5 2 0 2 3 2 9 2 7 2 6 2-5 2-13 2-10 2 4 2 15 2 8 2 2 2-8 2-19 2-18 2 0 2 15 2 12 2 11 2 11 2 1 2-2 2-7 2-5 2-7 2-3 2 4 2 6 2 3 2 1 2 2 2 10 2 15 2 11 2-3 2-16 2-14 2-10 2 6 2 9 2 3 2 6 2-6 2-14 2-9 2 5 2 7 2-4 2-10 2 2 2 10 2 10"/>
<path stroke="#4DBEEE" d="M203 434l2 2 2 6 2 1 2-10 2-5 2 1 2-2 2-4 2-2 2 1 2-4 2-13 2-8 2-2 2 9 2 8 2 7 2 7 2 2 2-2 2-7 2-8 2-12 2 0 2 8 2 7 2-2 2 2 2 17 2 9 2-7 2-5 2 8 2 5 2-2 2-6 2-10 2-2 2 11 2 11 2 6 2-4 2-14 2-23 2-34 2-25 2-8 2 13 2 31 2 22 2 14 2 9 2 7 2 2 2-7 2 1 2 9 2-1 2-4 2-1 2-2 2 2 2-1 2-2 2 6 2 3 2 0 2 0 2-5 2-7 2-1 2 0 2 16 2 11 2-5 2-9 2-11 2 2 2 7 2-1 2-9 2-8 2 9 2 13 2 16 2 28 2 36 2 32 2 15 2 0 2-11 2-19 2-9 2-4 2-9 2-10 2-8 2-4 2-7 2-13 2-12 2-8 2-4 2-2 2-2 2 0 2-5 2-5 2-2 2 1 2 2 2-3 2 1 2 3 2 0 2-3 2 1 2 0 2-3 2 1 2-3 2-2 2 0 2 5 2 4 2-5 2-10 2-9 2-2 2 6 2 13 2 15 2 0 2-7 2-9 2-4 2-1 2 1 2 2 2 5 2 0 2-4 2-2 2 0 2 5 2 5 2-1 2-2 2 8 2 8 2-6 2-8 2-9 2-16 2-27 2-35 2-41 2-28 2 2 2 28 2 36 2 22 2 11 2 6 2 5 2 4 2 3 2 0 2 0 2 7 2 9 2 8 2 10 2 5 2 2 2 0 2 1 2-2 2-6 2-11 2-7 2 4 2 7 2 9 2 11 2 14 2 14 2 4 2-3 2-1 2-4 2-9 2-15 2-2 2 5 2-2 2 3 2 5 2 7 2 0 2-7 2-1 2 1 2 3 2 8 2 5 2 4 2 3 2-10 2-11 2-6 2-6 2 3 2 1 2-8 2-5 2-1 2 0 2-3 2-3 2-4 2-2 2 0 2-7 2-12 2-4 2 10 2 12 2 6 2 4 2 8 2 8 2-1 2-14 2-2 2 9 2 0 2-4 2-1 2-1 2 5 2 5 2-5 2-4 2 0 2-7 2-5 2 2 2 3 2 3 2 3 2 10 2 6 2-10 2-14 2 1 2 10 2 3 2 3 2 0 2-6 2-6 2 2 2 7 2 1 2-10 2 3 2 0 2-5 2 0 2 7 2 12 2 0 2-2 2 3 2-4 2-7 2-3 2-6 2-1 2 9 2 8 2-1 2-1 2 0 2-2 2-4 2-1 2-1 2-5 2-9 2-2 2 8 2 6 2-1 2-5 2 0 3 4 2 1 2-4 2-1 2 5 2 6 2 7 2-3 2-2 2 6 2 1 2-5 2-2 2-16 2-19 2-6 2-1 2 9 2 18 2 6 2-4 2-6 2-2 2 5 2 8 2 3 2-3 2-1 2-5 2 1 2 4 2-5 2-1 2-2 2-4 2-4 2 0 2 3 2 8 2 9 2-1 2-6 2-2 2 6 2 9 2 0 2-13 2-11 2 9 2 7 2-5 2-2 2 7 2 8 2-4 2-10 2-9 2-2 2 0 2-2 2-9 2-13 2 4 2 12 2 14 2 4 2-4 2 0 2 2 2 4 2 9 2 6 2-13 2-9 2 7 2 5 2 1 2 6 2 6 2-5 2-8 2-2 2 6 2 1 2-6 2-7 2-6 2 3 2 8 2 4 2-2 2 2 2-6 2-3 2 8 2 4 2-3 2-2 2 4 2 11 2 2 2 1 2-8 2-8 2 0 2 8 2 7 2 2 2-8 2-7 2 2 2 2 2-4 2-5 2 6 2 9 2 1 2 3 2 1 2-12 2-5 2 3 2-4 2-1 2 3 2-1 2 2 2 0 2-2 2 0 2-8 2 2 2 6 2 1 2 3 2-6 2-10 2 3 2 7 2-1 2-5 2 0 2 3 2-2 2 3 2 1 2 1 2 8 2 5 2-8 2-7 2-1 2-5 2-2 2 1 2-5 2-10 2-8 2 1 2 6 2 6 2 9 2 8 2 5 2-5 2-7 2 1 2 5 2 4 2 3 2-6 2-10 2-3 2-3 2-3 2 4 2 0 2-5 2 7 2 12 2 3 2 2 2 2 2 3 2 4 2-7 2-10 2 4 2 3 2 0 2 5 2-4 2-7 2 1 2 3 2 1 2-1 2 3 2 12 2 16 2 19 2 11 2-16 2-23 2-12 2-3 2-3 2-9 2-10 2 2 2 5 2-4 2-1 2-6 2-12 2-8 2 1 2 4 2 7 2 11 2 14 2 1 2-5 2 3 2 13 2 5 2-1 2-7 2-4 2-5 2-5 2 1 2 2 2-7 2-6 2 10 2 7 2 1 2-1 2 3 2 2 2 2 2-9 2-7 2 11 2 3 2-2 2 10 2 10 2-5 2-15 2-8 2 2 2 0 2-2 2-1 2-5 2 0 2 5 2-2 2 2 2 5 2 0 2 1 2 10 2-1 2-15 2-8 2 5 2 9 2 12 2 4 2-5 2-5 2-2 2 1 2 0 2 0 2-2 2 4 2 9 2 13 2 15 2 9 2-3 2-23 2-37 2-29 2-17 2-9 2 2 2 6 2 5 2 14 2 17 2 3 2 7 2 1 2-4 2 3 2 6 2-1 2 0 2 4 2 4 2 4 2-1 2 1 2-2 2-4 2-3 2 4 2 3 2-7 2-8 2 6 2 9 2 6 2 0 2 1 2-5 2-11 2-6 2 4 2 4 2 3 2 3 2-3 2-4 2 3 2 5 2 1 2-3 2-1 2 1 2 4 2-2 2 0 2-6 2-11 2 4 2 10 2-1 2-10 2-8 2-6 2-3 2 9 2 11 2-1 2 2 2 4 2 4 2 4 2-1 2-8 2-6 2-2 2 3 2 6 2 5 2 2 2 11 2 25 2 24 2 22 2 15 2-3 2-19 2-23 2-24 2-14 2-5 2-4 2-1 2 8 2 17 2 10 2 1 2-11 2-7 2 1 2-6 2-14 2-5 2 5 2-1 2-2 2-2 2-6 2 1 2 6 2 2 2-3 2 6 2 3 2-2 2 0 2 4 2-4 2-8 2-2 2-2 2-4 2-2 2 0 2 2 2-4 2-7 2 5 2 3 2-9 2-10 2 7 2 13 2 15 2 4 2-6 2-1 2-3 2-3 2 2 2 1 2 1 2 2 2-2 2 3 2 8 2 1 2-1 2 4 2-4 2-12 2-8 2-7 2 4 2 12 2 6 2-2 2 3 2 10 2-11 2-12 2 1 2 4 2 6 2 2 2-9"/>
<path stroke="#A2142F" d="M203 427l2 3 2 4 2 1 2-4 2-1 2 9 2 7 2-7 2-10 2-3 2 0 2-6 2-12 2-11 2-3 2 7 2 10 2 8 2 3 2-2 2-4 2-9 2-6 2 0 2 2 2 2 2 4 2 7 2 6 2 6 2 6 2 8 2 4 2 1 2-2 2-3 2 1 2 5 2 1 2-3 2-6 2-9 2-15 2-21 2-21 2-17 2-10 2 9 2 29 2 30 2 17 2 7 2 0 2-4 2 0 2 5 2 7 2 6 2-4 2-12 2-4 2 8 2 5 2-3 2-3 2 0 2-3 2-2 2 7 2 3 2-7 2-10 2 0 2 7 2 2 2-10 2-11 2 1 2 12 2 11 2 2 2-6 2-2 2 11 2 24 2 34 2 35 2 27 2 18 2 2 2-16 2-24 2-19 2-11 2-1 2 1 2-7 2-15 2-16 2-16 2-13 2-1 2 7 2 3 2 0 2-2 2-4 2-8 2-7 2-1 2 1 2 2 2 0 2-3 2-3 2 1 2 4 2 4 2 4 2 3 2-1 2-5 2-7 2-8 2-2 2 3 2 3 2-1 2 1 2 8 2 2 2-7 2-7 2 2 2 4 2 5 2 6 2 0 2-6 2-3 2 3 2 6 2-2 2-5 2-4 2-2 2-3 2-5 2-1 2 4 2-1 2-5 2-5 2-9 2-19 2-29 2-37 2-31 2-2 2 26 2 30 2 19 2 12 2 8 2 0 2 2 2 10 2 8 2 5 2 4 2 8 2 13 2 9 2 0 2-7 2-4 2 5 2 5 2-1 2-1 2 2 2 5 2 3 2 6 2 10 2 6 2 0 2 3 2 4 2-2 2-4 2-3 2-3 2-3 2 5 2 8 2 0 2-5 2 3 2 8 2 6 2-2 2-9 2-8 2 3 2 5 2-4 2-6 2 0 2-1 2-3 2 1 2 0 2-8 2-12 2-6 2-1 2 1 2 6 2 2 2-4 2-6 2-5 2-2 2-1 2-5 2-8 2-1 2 6 2 4 2 5 2 8 2 4 2-2 2-1 2-1 2-4 2-1 2 1 2-5 2-8 2-3 2 1 2 6 2 4 2 4 2 3 2 0 2-1 2-1 2-2 2 1 2 5 2 1 2-3 2-3 2-5 2-1 2 5 2 5 2 2 2-2 2-2 2-1 2 0 2-3 2-4 2 0 2 1 2-6 2-5 2 0 2-3 2 0 2 9 2 11 2 4 2-7 2-7 2 0 2-1 2-1 2-1 2 5 2 7 2 3 2 2 2 4 2 5 2 1 2-1 2 0 2 2 2 3 2-1 2-8 2-12 3-8 2-1 2 2 2 2 2 4 2 2 2 0 2 3 2 3 2 1 2 3 2 3 2-8 2-16 2-12 2-4 2 2 2 12 2 17 2 7 2 0 2 0 2-1 2-2 2 1 2 3 2-4 2-4 2 1 2 0 2-3 2 3 2 6 2-3 2-6 2 4 2 9 2-2 2-11 2-7 2 3 2 9 2 11 2 5 2-6 2-10 2-6 2 2 2 0 2-6 2-8 2-2 2 8 2 10 2-2 2-11 2-13 2-7 2 1 2 5 2 3 2-1 2 1 2 2 2-1 2 2 2 9 2 8 2 1 2-2 2-2 2-2 2 0 2 5 2 3 2-3 2-4 2 1 2 4 2-1 2-2 2 2 2 2 2-5 2-5 2-1 2 4 2 6 2 1 2-5 2-1 2 5 2 2 2-2 2 0 2 2 2 2 2 0 2 0 2 2 2 1 2 0 2 0 2 0 2-1 2 1 2 3 2 5 2-1 2-7 2-6 2-4 2-3 2 3 2 9 2 10 2 5 2 1 2 0 2-1 2-7 2-9 2-8 2 1 2 7 2 0 2-8 2-1 2 10 2 6 2-3 2-3 2 6 2 6 2-3 2-9 2-5 2-2 2-1 2 2 2 0 2-6 2-7 2-3 2 2 2 3 2 2 2 0 2 0 2 9 2 11 2 6 2 3 2 0 2-6 2-11 2-11 2-7 2-4 2-1 2 0 2 2 2 6 2 11 2 5 2-3 2-4 2-4 2-7 2-5 2 3 2 6 2 0 2-4 2-3 2 5 2 2 2-2 2 2 2 2 2-2 2 2 2 5 2-4 2-8 2-3 2 3 2 5 2 1 2-4 2-2 2 6 2 6 2 0 2 0 2 7 2 6 2 1 2 5 2 17 2 16 2 4 2-7 2-9 2-6 2-6 2-10 2-11 2-4 2 1 2 4 2 4 2-6 2-19 2-20 2-5 2 3 2 4 2 5 2 16 2 16 2 2 2-6 2-4 2 1 2 0 2 1 2 2 2 0 2-3 2-2 2 0 2-5 2-7 2 3 2 11 2 7 2 2 2-2 2-4 2 1 2 4 2 3 2 1 2 2 2 1 2-1 2 0 2-2 2-5 2-3 2 1 2 2 2 8 2 12 2 3 2-6 2-8 2-9 2-7 2-1 2 4 2 1 2 0 2-1 2 2 2 1 2 0 2-1 2 5 2 8 2-1 2-11 2-7 2-2 2 2 2 4 2 5 2 1 2 0 2 9 2 18 2 9 2-5 2-13 2-13 2-17 2-25 2-24 2-16 2-8 2 2 2 11 2 14 2 13 2 10 2 9 2 8 2 8 2 8 2 6 2 1 2 0 2-3 2-4 2 1 2 4 2 2 2 2 2 0 2-5 2-4 2-1 2-4 2-4 2-1 2-2 2-2 2 1 2 6 2 12 2 7 2-8 2-9 2 1 2 7 2 5 2-2 2-13 2-12 2 1 2 12 2 9 2 0 2-4 2-3 2 0 2 4 2 7 2-2 2-9 2-7 2-3 2-3 2-1 2-4 2-5 2 4 2 10 2 6 2 4 2 5 2-1 2-3 2-1 2 1 2-2 2-3 2-1 2 7 2 11 2 6 2 6 2 13 2 27 2 36 2 22 2-9 2-32 2-35 2-27 2-16 2-8 2-2 2 10 2 10 2 7 2 12 2 13 2 4 2-8 2-13 2-9 2-6 2-3 2 0 2-1 2-7 2-3 2 3 2 1 2-2 2 1 2 0 2-1 2 0 2 2 2 3 2 4 2-1 2-6 2-5 2-2 2 6 2 3 2-4 2-5 2-2 2-4 2-7 2-9 2-3 2 6 2 5 2 1 2 3 2 5 2 2 2-2 2-5 2-2 2 4 2 7 2 9 2 6 2 4 2 2 2 2 2 1 2 4 2 6 2 2 2-7 2-9 2-2 2 4 2 5 2-2 2-7 2-6 2-3 2-2 2-3 2 0 2 0 2-3 2-4 2-3"/>
<path stroke="#0072BD" d="M203 436l2 1 2-1 2-2 2-3 2-3 2-1 2-2 2-2 2 5 2 8 2 1 2-12 2-16 2-6 2 8 2 11 2 9 2 3 2-1 2-4 2-3 2-4 2-4 2-5 2-6 2-7 2 1 2 8 2 12 2 11 2 4 2 0 2-3 2-7 2-6 2-1 2-1 2 0 2 3 2 7 2 1 2-6 2-8 2-14 2-19 2-12 2-1 2 13 2 20 2 18 2 10 2 7 2 5 2 6 2-2 2-11 2-8 2 0 2 4 2 1 2 0 2 1 2 3 2 0 2-2 2 0 2 5 2 5 2 1 2-5 2-6 2-1 2 4 2 2 2 1 2-2 2-7 2-5 2 0 2 4 2 4 2 1 2 0 2 6 2 11 2 14 2 19 2 21 2 18 2 9 2-3 2-11 2-10 2-1 2 0 2-11 2-16 2-10 2-7 2-6 2-2 2-1 2-5 2-6 2-2 2 0 2-1 2 3 2 6 2 2 2-6 2-8 2-3 2 0 2-1 2-2 2-1 2 0 2-2 2 1 2 3 2 4 2 3 2 3 2 0 2-3 2-6 2-3 2 1 2-1 2-4 2-4 2 2 2 5 2 7 2 6 2 1 2-3 2-2 2 2 2 3 2 4 2 3 2-1 2-6 2-9 2-7 2-6 2-1 2 8 2 8 2-3 2-11 2-10 2-13 2-22 2-26 2-21 2 0 2 16 2 18 2 15 2 15 2 12 2 7 2 7 2 5 2-1 2-2 2 3 2 3 2 2 2 3 2 2 2 1 2-1 2-1 2 0 2 3 2 1 2-3 2-5 2-4 2 0 2 5 2 9 2 9 2 7 2 6 2 4 2 2 2-2 2-3 2-3 2-2 2-7 2-4 2-2 2-4 2 1 2 13 2 16 2 4 2-4 2-4 2-2 2-1 2-1 2 0 2 2 2-1 2-6 2-8 2-7 2-4 2-4 2-1 2 3 2 1 2-2 2-4 2-2 2 1 2-4 2-9 2-7 2-1 2 9 2 11 2 3 2-2 2-3 2-5 2-1 2 5 2 3 2-1 2-1 2 0 2-2 2 0 2 2 2 2 2 2 2 2 2 6 2 6 2 1 2-4 2-4 2-1 2 1 2 1 2 0 2 0 2-1 2 0 2 3 2 3 2-1 2-4 2 0 2 3 2 5 2 4 2-2 2-7 2-7 2 0 2 1 2 1 2 1 2-1 2-4 2-1 2 2 2 4 2 4 2-2 2-8 2-6 2-2 2-2 2 3 2 5 2 0 2 0 2 1 2 2 2-2 2-6 2-6 2-1 2 5 2 8 2 2 2-6 3-2 2 6 2 9 2 6 2-3 2-4 2-2 2 0 2 1 2 1 2 0 2-2 2-2 2-2 2-5 2-9 2-3 2 4 2 9 2 11 2 3 2-8 2-7 2 1 2 4 2 0 2-3 2 4 2 8 2-1 2-9 2-3 2 2 2 1 2 2 2 4 2 5 2 3 2-3 2-8 2-7 2 0 2 4 2 0 2-5 2-6 2 2 2 4 2 3 2 0 2 1 2 3 2 4 2-3 2-8 2-9 2 0 2 4 2-4 2-9 2-5 2-1 2 1 2 2 2 8 2 13 2 10 2 2 2 2 2 3 2-1 2-1 2 2 2 0 2-5 2-3 2 1 2 2 2-2 2-5 2-1 2 5 2 3 2-2 2-2 2-1 2 1 2-1 2 0 2 1 2 2 2-1 2-2 2 1 2 3 2 1 2 1 2 0 2-1 2 0 2-1 2-1 2 0 2-3 2-7 2-3 2 4 2 5 2 5 2 4 2 3 2-1 2-2 2-5 2-6 2-4 2 2 2 3 2 5 2 8 2 2 2-4 2 1 2 6 2 4 2-5 2-13 2-11 2-4 2 3 2 3 2 4 2 4 2 3 2 4 2 2 2-1 2-5 2-10 2-5 2 4 2 4 2 4 2-2 2-5 2-5 2-2 2 3 2 6 2 3 2-4 2-3 2 2 2 3 2-4 2-7 2-2 2 1 2 2 2 0 2 0 2 5 2 5 2 0 2-3 2 0 2 3 2 4 2 1 2-2 2-2 2-3 2-6 2-9 2-3 2-1 2 1 2 1 2 2 2 1 2 2 2 6 2 9 2 5 2 0 2 0 2 3 2 0 2-1 2 0 2-2 2-7 2-8 2-1 2 2 2 2 2 3 2 5 2 8 2 11 2 7 2 6 2 3 2-8 2-14 2-6 2-1 2 0 2-1 2 0 2 0 2-4 2-11 2-15 2-11 2-3 2 0 2 4 2 9 2 12 2 12 2 7 2 0 2-1 2 1 2 3 2 3 2 0 2-2 2-3 2-4 2-6 2-5 2 0 2 3 2 1 2 4 2 6 2 3 2-6 2-8 2-3 2-1 2 1 2 6 2 9 2 10 2 5 2-3 2-7 2-5 2-3 2-7 2-9 2 2 2 8 2 8 2 2 2-2 2-1 2 1 2 4 2 0 2-5 2-7 2-5 2-3 2 0 2 4 2 1 2-1 2 1 2 3 2 5 2 5 2-1 2-9 2-9 2 2 2 11 2 12 2 13 2 11 2 4 2-5 2-12 2-19 2-23 2-18 2-10 2-4 2-3 2 3 2 8 2 10 2 10 2 10 2 10 2 3 2-5 2-3 2 1 2 0 2-3 2 1 2 7 2 6 2-1 2-4 2 3 2 7 2 0 2-7 2 0 2 5 2 2 2 2 2-2 2-3 2-4 2 0 2 4 2-1 2-6 2-3 2 0 2-3 2-3 2 3 2 6 2 1 2-5 2-4 2 2 2 5 2 3 2-2 2-3 2 3 2 3 2-3 2-6 2-1 2 3 2 2 2-6 2-10 2-6 2 3 2 9 2 11 2 6 2 5 2 6 2-1 2-9 2-5 2-5 2-6 2 0 2 7 2 4 2 4 2 12 2 23 2 28 2 21 2 0 2-18 2-24 2-21 2-17 2-10 2-4 2 3 2 9 2 13 2 10 2 5 2-2 2-6 2-8 2-7 2-2 2 1 2-3 2-7 2-11 2-9 2-2 2 4 2 9 2 10 2 2 2-2 2-1 2 2 2 3 2-2 2-5 2-1 2 2 2 0 2-1 2-1 2-5 2-8 2-8 2-3 2-2 2 3 2 6 2 7 2 5 2 1 2-6 2-6 2 2 2 11 2 8 2 1 2-4 2-2 2 1 2 5 2 4 2 2 2 3 2 5 2 3 2-4 2-4 2-1 2 0 2-2 2-7 2-9 2-3 2 3 2 3 2 0 2 2 2 2 2 0 2 1 2 3 2-1 2-1"/>
<path stroke="#D95319" d="M203 433l2-4 2 2 2 17 2 0 2 1 2 3 2-8 2-9 2-8 2-12 2-2 2-25 2-24 2-6 2 10 2 24 2 20 2 17 2 9 2 2 2-11 2-16 2-10 2-14 2-4 2-1 2 6 2 22 2 7 2-1 2 5 2 1 2 0 2 9 2-3 2-5 2 11 2-4 2-4 2 1 2 2 2-1 2-20 2-37 2-51 2-48 2-23 2 23 2 45 2 52 2 35 2 11 2 6 2 18 2 11 2-4 2-13 2 1 2 1 2-5 2-2 2 7 2 6 2-5 2-7 2 0 2-4 2-1 2 10 2 9 2 3 2-2 2-2 2-3 2 3 2-5 2-4 2-1 2 6 2-4 2-1 2 12 2 2 2 17 2 35 2 44 2 48 2 51 2 28 2 1 2-16 2-56 2-39 2 5 2 10 2-6 2-27 2-27 2 0 2-3 2-28 2-12 2-1 2 5 2 4 2-13 2-8 2-7 2 0 2 3 2-4 2-19 2-2 2-3 2-7 2 5 2 12 2 9 2-16 2-2 2 16 2 3 2-11 2-6 2-3 2 12 2-3 2-8 2 4 2 14 2 3 2-14 2-13 2 12 2 2 2-9 2-4 2 1 2 12 2 2 2-8 2 3 2 5 2 6 2 1 2-1 2-1 2-1 2-4 2-7 2-14 2-7 2 0 2-22 2-26 2-43 2-71 2-47 2-8 2 38 2 41 2 40 2 36 2 14 2-2 2 12 2 5 2 2 2 11 2 2 2 1 2 13 2 12 2 18 2 14 2-12 2-8 2-2 2 5 2 7 2 1 2 0 2 9 2 8 2 1 2 10 2 15 2 19 2 9 2 1 2-14 2-22 2-11 2 8 2 5 2 11 2 8 2-3 2-4 2 2 2 1 2-7 2-4 2 9 2 0 2-3 2-3 2-1 2-2 2 3 2 5 2-8 2-12 2-7 2-8 2-10 2-6 2-3 2-10 2-8 2 12 2 1 2-12 2-22 2-5 2 10 2 3 2 11 2 2 2 5 2 10 2 10 2-8 2-9 2-5 2 6 2 7 2 1 2-8 2-5 2-1 2 2 2 12 2 7 2-11 2-14 2 3 2 6 2-12 2-1 2 11 2 10 2-8 2-10 2-2 2 14 2 2 2-10 2-3 2 6 2 11 2 3 2-7 2-5 2 1 2 13 2 3 2-13 2 0 2 1 2-1 2 10 2-2 2-4 2-4 2 0 2 2 2 10 2 0 2-5 2-14 2-4 2 6 2 3 2 6 2-1 2-9 2 0 2-9 2-1 2 17 2 1 2 0 2 5 2 10 2-9 2-2 3-5 2-5 2-2 2 4 2 3 2 7 2 9 2-4 2-4 2-3 2-6 2-8 2-14 2-10 2 5 2-7 2-1 2 11 2 15 2 18 2-6 2 5 2 9 2-13 2-15 2 1 2-10 2-2 2 15 2 7 2-7 2-10 2 0 2 13 2 7 2-4 2 13 2-3 2-8 2-1 2 4 2-4 2-5 2 6 2 4 2-7 2 4 2 8 2-6 2-14 2 4 2 2 2 2 2-3 2-6 2-7 2-16 2-13 2-2 2 6 2 7 2 3 2-10 2 9 2 17 2 5 2-5 2 4 2 2 2 2 2 0 2 13 2 14 2-14 2-1 2-9 2 5 2 10 2 2 2-2 2-8 2 1 2 14 2 0 2-18 2 1 2 8 2-13 2-6 2 5 2 6 2 15 2 10 2-16 2-8 2-10 2 7 2 4 2 10 2 6 2-13 2-16 2 13 2 12 2-16 2-4 2 11 2 0 2 0 2 4 2 1 2 4 2-12 2-5 2 7 2-6 2-5 2-2 2-1 2 11 2 5 2-8 2 6 2 14 2-6 2-1 2-3 2-9 2-9 2 7 2 12 2 0 2-7 2-11 2-7 2 19 2 4 2-8 2 4 2 6 2 11 2-1 2-12 2 0 2-5 2 1 2-4 2-3 2 12 2 0 2-11 2 3 2 0 2-5 2 0 2-11 2-8 2-10 2-13 2 6 2 25 2 22 2-1 2-5 2-2 2-2 2 7 2-2 2-1 2-3 2-5 2-4 2 2 2-7 2-12 2-9 2 0 2 5 2-1 2 5 2 8 2-6 2 6 2 17 2 8 2 2 2-2 2-4 2 1 2 3 2-7 2-7 2 0 2 6 2 8 2-2 2-7 2 15 2 21 2 13 2 25 2 26 2-13 2-19 2-30 2-16 2-1 2 1 2 1 2-4 2-14 2-19 2-14 2-22 2-3 2 1 2-5 2 5 2 26 2 13 2 5 2 11 2 2 2 4 2 2 2 0 2-2 2 0 2 13 2 3 2-3 2 4 2-1 2-3 2-2 2 4 2-5 2-7 2-3 2 15 2 8 2-1 2-5 2-7 2-8 2 4 2-1 2-4 2 1 2 10 2-1 2-11 2-7 2 11 2 2 2-8 2 0 2-3 2-6 2 9 2-7 2-6 2 5 2-8 2 4 2 4 2-2 2 14 2 15 2-10 2-1 2 4 2-8 2 3 2-4 2-18 2-1 2 3 2 15 2 26 2 14 2 31 2 15 2-10 2-25 2-41 2-35 2-42 2-33 2-21 2-13 2 3 2 15 2 24 2 25 2 27 2 12 2 2 2 3 2-3 2 14 2 6 2-4 2-4 2 4 2 8 2 4 2 2 2 2 2 9 2 2 2-9 2-16 2-2 2 1 2 6 2 4 2 10 2 7 2-8 2-3 2 4 2-1 2-13 2-7 2 0 2 2 2 9 2-3 2 2 2 4 2 0 2 4 2-2 2 1 2 1 2-17 2-6 2 0 2-3 2 4 2 1 2-3 2 8 2-5 2-25 2-14 2-6 2 12 2 24 2 16 2 10 2-2 2-4 2-10 2-6 2 10 2 8 2 0 2 2 2 2 2 3 2 17 2 23 2 35 2 51 2 50 2 9 2-44 2-62 2-54 2-23 2 0 2 2 2-7 2 6 2 21 2 32 2 14 2-10 2 0 2-4 2-27 2-17 2-22 2-1 2 15 2-8 2-5 2 1 2 12 2 1 2-8 2 8 2-7 2-10 2-4 2-4 2-10 2 7 2 13 2 6 2 1 2-11 2-14 2 3 2 8 2 6 2-6 2-21 2-10 2 0 2 11 2 5 2 12 2 10 2 1 2 4 2 2 2 1 2-1 2 8 2-7 2-10 2-2 2 2 2 3 2 5 2 2 2 25 2 24 2 4 2-11 2-16 2 0 2-8 2-13 2 3 2-10 2-13 2-2 2 11 2 13 2-5 2-19 2-3 2 10 2-3"/>
<path stroke="#EDB120" d="M203 410l2 3 2 21 2 11 2-8 2 4 2 1 2-1 2-2 2 3 2 6 2-16 2-10 2 4 2 3 2-16 2-17 2 8 2 15 2-3 2-7 2 5 2 8 2 4 2-7 2-30 2-15 2 28 2 22 2 1 2 1 2-4 2-8 2 5 2 14 2 11 2 7 2-24 2-17 2 4 2 9 2-2 2 13 2-2 2-21 2-13 2-17 2-6 2 19 2 30 2 17 2-5 2-10 2 5 2-4 2-6 2-2 2 10 2 4 2-1 2-7 2 10 2-14 2 8 2 31 2-1 2-13 2-10 2-8 2-4 2 12 2 11 2-2 2-10 2-20 2-13 2 29 2 22 2 9 2-16 2-21 2 5 2-2 2 0 2 19 2 3 2 15 2 25 2 24 2-3 2-1 2-9 2-3 2 1 2 3 2 4 2-14 2-6 2-10 2-18 2-20 2-11 2 5 2 7 2 20 2 9 2-16 2-1 2-4 2 1 2 3 2-3 2-2 2-22 2-10 2 9 2 18 2 12 2-3 2-17 2 0 2-4 2 3 2 8 2 4 2-3 2 2 2 14 2-15 2-12 2-6 2-3 2 18 2 11 2-5 2-3 2 0 2 2 2-2 2-5 2 6 2-5 2-17 2 7 2-4 2 8 2 15 2-16 2-2 2-5 2-5 2 6 2 5 2 3 2-3 2-14 2-24 2-27 2-10 2 14 2 16 2 5 2 9 2 1 2 3 2 6 2 15 2 7 2-10 2-10 2-1 2 29 2 15 2 9 2-20 2-18 2-12 2 7 2 13 2 23 2 8 2-14 2-20 2-23 2 11 2 29 2 27 2-9 2-10 2-1 2-6 2 15 2 3 2-7 2-7 2-8 2-8 2-1 2 7 2 15 2 9 2 6 2-8 2-11 2-5 2 8 2 12 2-3 2-14 2-7 2 0 2 11 2 18 2 0 2-14 2-5 2-23 2-16 2 16 2 9 2-15 2 4 2-6 2 3 2 17 2 1 2-20 2-9 2-1 2 5 2 1 2 3 2 11 2 3 2 8 2 3 2-3 2-12 2-4 2 7 2-6 2 5 2 0 2 0 2 2 2-5 2-3 2-9 2 11 2 14 2 4 2-9 2-2 2-13 2-4 2 6 2-10 2 14 2 3 2-1 2-7 2-7 2 9 2 13 2 1 2-17 2-12 2 11 2 16 2 5 2 1 2 17 2-7 2-20 2 3 2-5 2-5 2 3 2 10 2 2 2-5 2 13 2 7 2 5 2-21 2-25 2 7 2 23 2 26 2-29 2-27 2-10 2 13 2 8 2 14 2 7 2-15 2-13 3-8 2 13 2 17 2 14 2-9 2-16 2-12 2-10 2 10 2 24 2 15 2-8 2-36 2-19 2 11 2 14 2 16 2-7 2-18 2 0 2 17 2 2 2-6 2-9 2 1 2 14 2 6 2-5 2-3 2-3 2 12 2-1 2-3 2-2 2-2 2 0 2-4 2-3 2 13 2 10 2-9 2-6 2-10 2 0 2 12 2 6 2-8 2-1 2 2 2 1 2 7 2-8 2-11 2-5 2 0 2 19 2-5 2 1 2-12 2-13 2 8 2 15 2 10 2-10 2-5 2-21 2-5 2 25 2-5 2 3 2 18 2-9 2-17 2 0 2 6 2 4 2 7 2 7 2 1 2 12 2-6 2-25 2-9 2 24 2 3 2 6 2-1 2-11 2 1 2-3 2 4 2 14 2-4 2-14 2-18 2-7 2 10 2 5 2-3 2 1 2 5 2 23 2 7 2-15 2-11 2 13 2 11 2-6 2-21 2-12 2 0 2 4 2 15 2 7 2-13 2-8 2-3 2 5 2 7 2 17 2 11 2-10 2-13 2 5 2 1 2-2 2-7 2-4 2 7 2 5 2-2 2 7 2 8 2-22 2-10 2 10 2 9 2 4 2-8 2 1 2-10 2-11 2 0 2 6 2 25 2 5 2-15 2-15 2-8 2 16 2 10 2-6 2-5 2-13 2-15 2 1 2 9 2-4 2 12 2 10 2 6 2 15 2 7 2-5 2-7 2 2 2 1 2 0 2-9 2-15 2-3 2 0 2 4 2 10 2 2 2-3 2 7 2-3 2-14 2-1 2 24 2 22 2-24 2-16 2-10 2-3 2 13 2 15 2 15 2-10 2-13 2-6 2 0 2 10 2 4 2 11 2 2 2-9 2-7 2 15 2 19 2-1 2-6 2-10 2-1 2-4 2-18 2-6 2 3 2 0 2-6 2 3 2-11 2-4 2 17 2 11 2 1 2-8 2-6 2-19 2 9 2 24 2 12 2 8 2-4 2-6 2-8 2-15 2 1 2 29 2 5 2-9 2-15 2-23 2 2 2 18 2 6 2 8 2 0 2-8 2-6 2 14 2-7 2-17 2 5 2 10 2 7 2 7 2-4 2-17 2-10 2 7 2 14 2 5 2-7 2-13 2 7 2 12 2-12 2-3 2 14 2 6 2 9 2-13 2-11 2-14 2-13 2 11 2 14 2 9 2 1 2-14 2-15 2 14 2 10 2 5 2-2 2-5 2 3 2-7 2 7 2 11 2-4 2-3 2 7 2-1 2-16 2-22 2-22 2-11 2 8 2 10 2 4 2 9 2 19 2 4 2 0 2 14 2 4 2-11 2-19 2 3 2 15 2-15 2-6 2 4 2 19 2 18 2 3 2-23 2-20 2 0 2 10 2 9 2 13 2-3 2-4 2-16 2-4 2 11 2 10 2 11 2-11 2-15 2-3 2 5 2 18 2 11 2-3 2-13 2 1 2-8 2-7 2-1 2-9 2 3 2 26 2 10 2-14 2-10 2-25 2 4 2 22 2-1 2 2 2-10 2-12 2-1 2-2 2 14 2 28 2 3 2-16 2-10 2-9 2 5 2 19 2-6 2-9 2-3 2 11 2 20 2 5 2-14 2-1 2 23 2 22 2 12 2-6 2-30 2-25 2-10 2 0 2 1 2-3 2 6 2 8 2 3 2 4 2-1 2 0 2 8 2-12 2-17 2 4 2 0 2-6 2-4 2-5 2 19 2 1 2-10 2 1 2-5 2 2 2 6 2 4 2 13 2 3 2-22 2-11 2-10 2 10 2 9 2 9 2 4 2-12 2-17 2-7 2 0 2 21 2 9 2-20 2-7 2-4 2 16 2 4 2 0 2 4 2 0 2-12 2-2 2 12 2 2 2-6 2-5 2 7 2 6 2 16 2 7 2-6 2-3 2-9 2 0 2 11 2 11 2-6 2-12 2-15 2-8 2 11 2 5 2 0 2-3 2-16 2-11 2 0 2 12"/>
<path stroke="#7E2F8E" d="M203 426l2 0 2-13 2-10 2 5 2 14 2 12 2 0 2-5 2 1 2 4 2-3 2-10 2-12 2-9 2-1 2 10 2 13 2 11 2 16 2 3 2-14 2-19 2-14 2-1 2 7 2 11 2 10 2-2 2-6 2 4 2 8 2 5 2 7 2 4 2-4 2-1 2 0 2-4 2-5 2-3 2-2 2-1 2-3 2-11 2-22 2-22 2-8 2 13 2 21 2 13 2 7 2-2 2-3 2 11 2 16 2 3 2-1 2 3 2-3 2-4 2 2 2 1 2-1 2-1 2-2 2-2 2 1 2-5 2-8 2 0 2 6 2 4 2 0 2 4 2 6 2-3 2-7 2-4 2-6 2 1 2 7 2 5 2-2 2 0 2 7 2 17 2 27 2 25 2 9 2-2 2-3 2-7 2-11 2-8 2-5 2-7 2 1 2 6 2-7 2-12 2-6 2-9 2-8 2 1 2 3 2-6 2-4 2 3 2 1 2 3 2-2 2-11 2 0 2 15 2 5 2-9 2-5 2 2 2 1 2-8 2-6 2 0 2 0 2 0 2 4 2 8 2 10 2 5 2-4 2-5 2-4 2-8 2-10 2-8 2 9 2 12 2-1 2-9 2-5 2 1 2 6 2 1 2 0 2 1 2 3 2 2 2 1 2 2 2 0 2 3 2 6 2-2 2-12 2-14 2-14 2-18 2-23 2-20 2-3 2 14 2 22 2 15 2 6 2 9 2 9 2 1 2 6 2 11 2-2 2-8 2 0 2 4 2 5 2 3 2-4 2-3 2 0 2 6 2 4 2-2 2-4 2-5 2 3 2 8 2 6 2-1 2 1 2 6 2 6 2 7 2 7 2-2 2-11 2-9 2-5 2-4 2-3 2 1 2 9 2 8 2 2 2 5 2 5 2-3 2-9 2 0 2 13 2 7 2 1 2-2 2-9 2-3 2 6 2 3 2-9 2-9 2-4 2-6 2-9 2-3 2-1 2-4 2-5 2 2 2-2 2-2 2 8 2 12 2 15 2 7 2-5 2-8 2-1 2-4 2-18 2-12 2 6 2 11 2 6 2 6 2 4 2-2 2-3 2-1 2-5 2-7 2 1 2 2 2 3 2 4 2-2 2-4 2 1 2 2 2 2 2-1 2 0 2 9 2 4 2-6 2-4 2 0 2-5 2-10 2-6 2 8 2 7 2-3 2 4 2 7 2 2 2 2 2 2 2 2 2 4 2-3 2-12 2-8 2-2 2 2 2-2 2-5 2 1 2 6 2 3 2 5 2 1 2-3 2 1 2 9 2 8 2-5 2-11 2-7 2 1 2 4 2 4 3 0 2-9 2-5 2 8 2 5 2-4 2-1 2 0 2 0 2 1 2 1 2 4 2-1 2-10 2-9 2-3 2 2 2 8 2 8 2 5 2 4 2-6 2-9 2-4 2 2 2 8 2 6 2 2 2-3 2-6 2-5 2-3 2 0 2 9 2 9 2-2 2-3 2 2 2 0 2-7 2-12 2 2 2 12 2 8 2 0 2-5 2-7 2 1 2 6 2-1 2-2 2-2 2 0 2 4 2 1 2-3 2-4 2-6 2-5 2-4 2-9 2-3 2 7 2 9 2 8 2 5 2 2 2-2 2-6 2-2 2 6 2 10 2 2 2 1 2-2 2-9 2-5 2-3 2-2 2 3 2 4 2 4 2-5 2 1 2 10 2-4 2-12 2 0 2 0 2 2 2 6 2 8 2 7 2 2 2-6 2-2 2 6 2-1 2-8 2-1 2 6 2 7 2 4 2-2 2-2 2-2 2 1 2-4 2-5 2 2 2-3 2 1 2 6 2 4 2 0 2 0 2-3 2-10 2-5 2 1 2-2 2-3 2 1 2 2 2-1 2 0 2 8 2 7 2-6 2-13 2-7 2-1 2 5 2 13 2 7 2-5 2-5 2 5 2 5 2 1 2-4 2-11 2-13 2 4 2 10 2 2 2 3 2 3 2 1 2-2 2-10 2 0 2 11 2 7 2-3 2-14 2-12 2-1 2 6 2 7 2 7 2 5 2 4 2 4 2 6 2 4 2-12 2-17 2-6 2 5 2 0 2-1 2 6 2 2 2-1 2-5 2-3 2 0 2-2 2 5 2 17 2 3 2-10 2-3 2 1 2-2 2-2 2-2 2 0 2 4 2-2 2-2 2 0 2 3 2 11 2 9 2-4 2-9 2 0 2 13 2 12 2 4 2-1 2-4 2-9 2-9 2-10 2 2 2 7 2-4 2-9 2-4 2-1 2-3 2-9 2-16 2-8 2 5 2 6 2 9 2 13 2 6 2-1 2 0 2 4 2 1 2 1 2 0 2 5 2 7 2-5 2-7 2-4 2-6 2 0 2 13 2 8 2-2 2-3 2-1 2 2 2 1 2-10 2-17 2-4 2 13 2 14 2 7 2-5 2-10 2-3 2-4 2-13 2-2 2 17 2 10 2-4 2-1 2 4 2-2 2-6 2 3 2 5 2-1 2-3 2-2 2 8 2 11 2-5 2-16 2-8 2 4 2 2 2-1 2 8 2 7 2 11 2 8 2-6 2-7 2 4 2 9 2 5 2-3 2-13 2-12 2-8 2-9 2-13 2-12 2-6 2 0 2-1 2 2 2 7 2 7 2 10 2 15 2 11 2 1 2-1 2-2 2-6 2-6 2 4 2 3 2 0 2 5 2-1 2-4 2 3 2 13 2 7 2-2 2-10 2-11 2 0 2 5 2 4 2-2 2-6 2-1 2 0 2 1 2 6 2 4 2 0 2-3 2-1 2 4 2 4 2 8 2-1 2-10 2-6 2 5 2 1 2-11 2-5 2 3 2 1 2 3 2 5 2 3 2 1 2-6 2-14 2-8 2 1 2 1 2-2 2 0 2 5 2 8 2 5 2 6 2 5 2-4 2-8 2-1 2-4 2-3 2 10 2 14 2 13 2 22 2 28 2 9 2-21 2-31 2-21 2-6 2-5 2 0 2 8 2 3 2-1 2 4 2 10 2 10 2-3 2-10 2-12 2-8 2-4 2-10 2-12 2-2 2 8 2 4 2 3 2 14 2 10 2 1 2 4 2 5 2-4 2-9 2-7 2-7 2-3 2 4 2 3 2-8 2-5 2 5 2 1 2-6 2-6 2-1 2 4 2 11 2 9 2 0 2-2 2 1 2 3 2 1 2-6 2-3 2 3 2 2 2 0 2 0 2 1 2 7 2 0 2-11 2-3 2 5 2 7 2 2 2-2 2-2 2 1 2-2 2-7 2-8 2-1 2 9 2 6 2 5 2 8 2 3 2-1 2-8 2-10 2-4"/>
<path stroke="#77AC30" d="M203 451l2-5 2-6 2-8 2-7 2 0 2 5 2 6 2 2 2-5 2-6 2-5 2-10 2-13 2-9 2 2 2 15 2 14 2 4 2 0 2 2 2 0 2-6 2-8 2-7 2-4 2-4 2 3 2 11 2 18 2 11 2 1 2-4 2-2 2 0 2 0 2 1 2 2 2 2 2 2 2-1 2-1 2-4 2-13 2-29 2-37 2-27 2-3 2 17 2 28 2 26 2 15 2 9 2 12 2 7 2-2 2-2 2-2 2-4 2-3 2 0 2-1 2 1 2 4 2 4 2 2 2-1 2-1 2 3 2 3 2-1 2-2 2 1 2 0 2-5 2-6 2-1 2-1 2 4 2 7 2 6 2 1 2 0 2 2 2 9 2 14 2 28 2 42 2 34 2 17 2-3 2-17 2-22 2-14 2-3 2 3 2-3 2-13 2-18 2-15 2-11 2-11 2-12 2-4 2 1 2-1 2-4 2-6 2-2 2 0 2-1 2 2 2 3 2-2 2-1 2 1 2-2 2-6 2 0 2 3 2 0 2-7 2-6 2 8 2 11 2 1 2-6 2-2 2-1 2-4 2 1 2 6 2 3 2-3 2-3 2-2 2 0 2 4 2 4 2 0 2-3 2 3 2 9 2 0 2-4 2-2 2-4 2-5 2-1 2-1 2-1 2 0 2 2 2 0 2-8 2-24 2-45 2-48 2-29 2 2 2 24 2 29 2 23 2 14 2 8 2 5 2 4 2 14 2 12 2 3 2-1 2 2 2 5 2 3 2 0 2 2 2 4 2-1 2-4 2 1 2 5 2 0 2 2 2 3 2 4 2 9 2 8 2 9 2 14 2 10 2-1 2-8 2-7 2-7 2-2 2 4 2 2 2-5 2-4 2 3 2 1 2 2 2 4 2 4 2-1 2 0 2 4 2 2 2 2 2-1 2-8 2-14 2-9 2-6 2-4 2-1 2 0 2 3 2 0 2-6 2-2 2 1 2-5 2-9 2-7 2-4 2-2 2-1 2 8 2 12 2 8 2 6 2 4 2-3 2-6 2-2 2 2 2-2 2-5 2-6 2 0 2 3 2 2 2 3 2 3 2-2 2-8 2-3 2 6 2 7 2 0 2-2 2 4 2 6 2 1 2 1 2-1 2 0 2 1 2-4 2-1 2 0 2-1 2 0 2 0 2 1 2 0 2 0 2-2 2-2 2-3 2-2 2 1 2-2 2-7 2-1 2 5 2 2 2-1 2 2 2 3 2 0 2-2 2 3 2 7 2 2 2-6 2-6 2-2 2-1 2 0 2 2 2 5 2 6 2 5 2-4 2-8 2 1 3-2 2-4 2 7 2 14 2 6 2-5 2-10 2-8 2-1 2 2 2 2 2 1 2-9 2-16 2-9 2 5 2 8 2 3 2 3 2 2 2-1 2-3 2 0 2 8 2 8 2 1 2-2 2-4 2-3 2 0 2 2 2 1 2 2 2 6 2 4 2 1 2 0 2 3 2 1 2-5 2-6 2-6 2-3 2 5 2 5 2 0 2-1 2 1 2 0 2 3 2 0 2-6 2-8 2-7 2 0 2 0 2-4 2-5 2-2 2-1 2-5 2-4 2 1 2 4 2 6 2 5 2 2 2 3 2 5 2 6 2 3 2-2 2-3 2 0 2 4 2 3 2 5 2 3 2-1 2-2 2-1 2-1 2 1 2 0 2-1 2-6 2-10 2-5 2 0 2 3 2 2 2 0 2 3 2 1 2 2 2 4 2 2 2-5 2-5 2 3 2 5 2 2 2 1 2 1 2-1 2-2 2 1 2 2 2 1 2-2 2-8 2-4 2 0 2 0 2 4 2 5 2 0 2 0 2 2 2 2 2 1 2-1 2 3 2 3 2-1 2-4 2-7 2-1 2 7 2 6 2 3 2 0 2-2 2-2 2-4 2-8 2-3 2 6 2 6 2 7 2 5 2-5 2-13 2-6 2-1 2 1 2 0 2 0 2 1 2-2 2 0 2 5 2 4 2-3 2-8 2-7 2-8 2-5 2 0 2 4 2 7 2 7 2 5 2 5 2 8 2 7 2 0 2-12 2-6 2 5 2 0 2-5 2-8 2-12 2-5 2 3 2 6 2 8 2 9 2 4 2-1 2-5 2-1 2 2 2-4 2-7 2-1 2 5 2 11 2 9 2 0 2-6 2-5 2-3 2-1 2 6 2 8 2 7 2 7 2 10 2 14 2 10 2 1 2-10 2-15 2-10 2-4 2-6 2-8 2-1 2 0 2-6 2-12 2-11 2-9 2-6 2-1 2 5 2 12 2 20 2 15 2-1 2-8 2-4 2-3 2-2 2 0 2 3 2 1 2 1 2-1 2-4 2 2 2 6 2-1 2 1 2 6 2 2 2-3 2-5 2-4 2 3 2 12 2 7 2-6 2-10 2-7 2-5 2-1 2 5 2 4 2 1 2-2 2-5 2-1 2 1 2 2 2 3 2 5 2 2 2-5 2-4 2 1 2 2 2 2 2 4 2 1 2-4 2 1 2 2 2-4 2-5 2 3 2 6 2 5 2 1 2 1 2 3 2 5 2 9 2 13 2 12 2 5 2-10 2-20 2-22 2-20 2-26 2-26 2-14 2-3 2 4 2 12 2 16 2 15 2 14 2 9 2 3 2 1 2 3 2 4 2 4 2 2 2 3 2 4 2 2 2-5 2-8 2-4 2 2 2 2 2-2 2 2 2 5 2 1 2-1 2 3 2 6 2-2 2-8 2-2 2 2 2-2 2-3 2 3 2 6 2 5 2-2 2-7 2-3 2 4 2 8 2 4 2-3 2-7 2-6 2-8 2-1 2 4 2 3 2 1 2-1 2 0 2-2 2-9 2-11 2-3 2 2 2 7 2 11 2 9 2 1 2 0 2 1 2 0 2-5 2-4 2 5 2 7 2 1 2-5 2-5 2 3 2 16 2 32 2 46 2 41 2 7 2-31 2-42 2-31 2-20 2-10 2-1 2 8 2 12 2 11 2 9 2 4 2-2 2-7 2-8 2-10 2-13 2-10 2-2 2-1 2 1 2 1 2-1 2 1 2 6 2 4 2-1 2-1 2 1 2-2 2-3 2 2 2 0 2-6 2-1 2 5 2 1 2-2 2 0 2-8 2-12 2-6 2-3 2-5 2 1 2 9 2 8 2 5 2 3 2 3 2 4 2-1 2-4 2-2 2 4 2 3 2-5 2-7 2 1 2 8 2 8 2 1 2 3 2 5 2 2 2 1 2-1 2-6 2-7 2-6 2 0 2 5 2 2 2-6 2-5 2 1 2 4 2-1 2-2 2 3 2 5"/>
<path stroke="#4DBEEE" d="M203 450l2-9 2-3 2-5 2-5 2-2 2-1 2 1 2 6 2-1 2-9 2-6 2-15 2-20 2-15 2-3 2 20 2 34 2 22 2 0 2-13 2-12 2-7 2-12 2-7 2 0 2-9 2 2 2 17 2 14 2 4 2 6 2 6 2-2 2 1 2 10 2 3 2-2 2-3 2-1 2 1 2-3 2-11 2-25 2-34 2-41 2-39 2-9 2 26 2 41 2 47 2 41 2 9 2-11 2 0 2 14 2 9 2-4 2-12 2-1 2 5 2 2 2-5 2-3 2-3 2 1 2-1 2 0 2 4 2-2 2-9 2 2 2 8 2 0 2 5 2-3 2-4 2 7 2 8 2-2 2-6 2 2 2 2 2 6 2 21 2 34 2 44 2 46 2 44 2 32 2-3 2-38 2-38 2-20 2-3 2 1 2-4 2-13 2-23 2-25 2-14 2-1 2-8 2-17 2-3 2 11 2-2 2-12 2-6 2-7 2-10 2-1 2 0 2 2 2 10 2-9 2-19 2 0 2 7 2 6 2 0 2 7 2-1 2 0 2 5 2 5 2 7 2-11 2-3 2 8 2 7 2 1 2-1 2-5 2-2 2 4 2 1 2-7 2-15 2 7 2 12 2-17 2-15 2 7 2 5 2-5 2-9 2 0 2 18 2 15 2 1 2 1 2-8 2-20 2-18 2-37 2-64 2-67 2-42 2-2 2 44 2 52 2 41 2 23 2 6 2-1 2 5 2 11 2 12 2 17 2 12 2 19 2 16 2-5 2-13 2 0 2 6 2 7 2 4 2 0 2-6 2-4 2 2 2 4 2 6 2 8 2 15 2 19 2 8 2 7 2 9 2-4 2-11 2-5 2-5 2-7 2-9 2 0 2 2 2 9 2 5 2 1 2-7 2-12 2 7 2 20 2 15 2-7 2-12 2-4 2-5 2-10 2-6 2-4 2-12 2-13 2-4 2 4 2 1 2-5 2-8 2-6 2-6 2-2 2-6 2-7 2-2 2 5 2 1 2 6 2 2 2 8 2 14 2 0 2-5 2 1 2 2 2 2 2-5 2 2 2 11 2 7 2-8 2-5 2-10 2 2 2 15 2 3 2-14 2-8 2 3 2 2 2-3 2-5 2 7 2 6 2-9 2-2 2 6 2 0 2-7 2 3 2 3 2-1 2 6 2 9 2 4 2-12 2-10 2 15 2 5 2-9 2-3 2-8 2-3 2 10 2 3 2-8 2-5 2 0 2 7 2 5 2 8 2 6 2 0 2-9 2-14 2-2 2 7 2 4 2-2 2-4 2 8 2 11 2 1 2 2 2-2 2 2 3 6 2-3 2-13 2-9 2 3 2 8 2 1 2-9 2-9 2 0 2 8 2 1 2-11 2-9 2-3 2-2 2-5 2-4 2 9 2 15 2 3 2 1 2 12 2 3 2-4 2 0 2 5 2-1 2-2 2-6 2 0 2 0 2-4 2 4 2 3 2-5 2 0 2-3 2 0 2 7 2-6 2-10 2 2 2 13 2-9 2-10 2 8 2 9 2 8 2 1 2-7 2 6 2 0 2-19 2-15 2-6 2-1 2 2 2-6 2-4 2-1 2-1 2 5 2 0 2-1 2 12 2 9 2 7 2 9 2-4 2-5 2 5 2 6 2-1 2 0 2 2 2 8 2-2 2-11 2 3 2 8 2 5 2-8 2-12 2 2 2 11 2 6 2-10 2-8 2 0 2 6 2 3 2 8 2 9 2-2 2-12 2-1 2 4 2 0 2-9 2 9 2 12 2-1 2-11 2-12 2-1 2 4 2 3 2-4 2-2 2 2 2 8 2 6 2 1 2-1 2-3 2-5 2 5 2 7 2-2 2 1 2 1 2-9 2-6 2-4 2 0 2 8 2-3 2 0 2 2 2-3 2 4 2-2 2-3 2 4 2 0 2-9 2-2 2 3 2-2 2 5 2 6 2-4 2 1 2 1 2-3 2 1 2 6 2-2 2-9 2-7 2-2 2 7 2 2 2-11 2-23 2-13 2-7 2 1 2 18 2 24 2 8 2-2 2 5 2 6 2-2 2-3 2 5 2-6 2-13 2-2 2 6 2-5 2-9 2-2 2 3 2 3 2 0 2 0 2-1 2-2 2 6 2 5 2 6 2 4 2 1 2 1 2-4 2 2 2 4 2-1 2 1 2 1 2 4 2-5 2-3 2 14 2 18 2 10 2 15 2 30 2 22 2-8 2-22 2-23 2-25 2-15 2-5 2-5 2-5 2 3 2-11 2-22 2-11 2-6 2-4 2 10 2 5 2 9 2 16 2 5 2 3 2-4 2-9 2 7 2 15 2 14 2 2 2-9 2-8 2-1 2 6 2 0 2-1 2 4 2-6 2-6 2 2 2 1 2-2 2-2 2 1 2 4 2 3 2-2 2-2 2 1 2 2 2 7 2-11 2-11 2 3 2 1 2-7 2-9 2 3 2 8 2 11 2 4 2 2 2 2 2 0 2-2 2-1 2-6 2-2 2 2 2 2 2-9 2-11 2 3 2 6 2-2 2-3 2 5 2 12 2 4 2-4 2 0 2 18 2 25 2 17 2 13 2 4 2-11 2-26 2-42 2-55 2-53 2-29 2-11 2 8 2 19 2 22 2 31 2 25 2 21 2 17 2 5 2-2 2-1 2-2 2 2 2 1 2 1 2 1 2 0 2 5 2 4 2-2 2-6 2-5 2-5 2 1 2-1 2 1 2 4 2 1 2 12 2 16 2 3 2-17 2-11 2 16 2 11 2-23 2-11 2 7 2-3 2-3 2 10 2 3 2-7 2-4 2 2 2-1 2-1 2 0 2 5 2 12 2 6 2-4 2-2 2-8 2-24 2-17 2-11 2 1 2 8 2 11 2 14 2 11 2 4 2-9 2-13 2 6 2 16 2 6 2-3 2-12 2 0 2 15 2 19 2 26 2 42 2 57 2 46 2 8 2-38 2-64 2-55 2-28 2-8 2-8 2 1 2 19 2 27 2 19 2 6 2-4 2-10 2-10 2-9 2-18 2-13 2-6 2-8 2-1 2 7 2 1 2 4 2 1 2-10 2-12 2 3 2 5 2-3 2 3 2 5 2 10 2 5 2-3 2-8 2-2 2-4 2 2 2-7 2-10 2-1 2-5 2-18 2-14 2 10 2 25 2 10 2 2 2-2 2 5 2 1 2-10 2 4 2 8 2-6 2-3 2 7 2 14 2 7 2 6 2 5 2 2 2 1 2 0 2-9 2-5 2-5 2-6 2-6 2-3 2 1 2-1 2 2 2 0 2 4 2 10 2 8 2-5 2-5 2-3"/>
<path stroke="#A2142F" d="M203 442l2-8 2-5 2 1 2-2 2-8 2-2 2 8 2 2 2-9 2-16 2-14 2-11 2-4 2 5 2 14 2 19 2 13 2 1 2 0 2 5 2 0 2-19 2-17 2 3 2 5 2-1 2 8 2 8 2 7 2 10 2 5 2 1 2-1 2-4 2-1 2 3 2 1 2 2 2 1 2 3 2 1 2-9 2-21 2-28 2-28 2-20 2 0 2 18 2 22 2 24 2 22 2 15 2 6 2-7 2-6 2-3 2-2 2 4 2 1 2-3 2 7 2 12 2 6 2-5 2-5 2-1 2-1 2 2 2-5 2-8 2-4 2 2 2 0 2-8 2-2 2 9 2 7 2 1 2-2 2-6 2 2 2 3 2 2 2 13 2 19 2 32 2 46 2 43 2 19 2-10 2-25 2-30 2-19 2-8 2 2 2 9 2-6 2-20 2-20 2-9 2-2 2-1 2-1 2 0 2-1 2 0 2-13 2-12 2-2 2-4 2-7 2-4 2 2 2 5 2 1 2 2 2-1 2 1 2 7 2 6 2 4 2-5 2-15 2-6 2 7 2 7 2-2 2 0 2 3 2-7 2-10 2-2 2 3 2-2 2 1 2 0 2-8 2-7 2 0 2 5 2 7 2 4 2 5 2 7 2-2 2-7 2-7 2-4 2 3 2 6 2 4 2 4 2 1 2-11 2-23 2-42 2-49 2-25 2 7 2 21 2 18 2 18 2 19 2 11 2 3 2 3 2 9 2 12 2 12 2 4 2 2 2 4 2 6 2 4 2-3 2 3 2 12 2-2 2-10 2-2 2-6 2-9 2 2 2 17 2 17 2 15 2 14 2 12 2 2 2-8 2-13 2-14 2-5 2 7 2 7 2-2 2 5 2 8 2-1 2-5 2-8 2-7 2-1 2 9 2 9 2 6 2 4 2-3 2-10 2-11 2-9 2-9 2-5 2-2 2-2 2-6 2-4 2 4 2 5 2 3 2-9 2-20 2-13 2-1 2 7 2 6 2 4 2 2 2 1 2 5 2 11 2 1 2-7 2-1 2 6 2 1 2-2 2 4 2 1 2-4 2 0 2 5 2 1 2 1 2 4 2-5 2-6 2-2 2-10 2-8 2 7 2 4 2-8 2-1 2 5 2 9 2 7 2 0 2-9 2-10 2 1 2 8 2 1 2-5 2-3 2 6 2 7 2 2 2 6 2 7 2 0 2-8 2-9 2-5 2-4 2 2 2 7 2 0 2-8 2-4 2-1 2 4 2 10 2 6 2 0 2 3 2 3 2 0 2-4 2-5 2-6 2-6 2-2 2 4 2 3 2 0 2 2 3 3 2 4 2 2 2-1 2-7 2-2 2 7 2 10 2 4 2 1 2-5 2-15 2-11 2-5 2 0 2 6 2-1 2-6 2 3 2 8 2 5 2 4 2 5 2 5 2 0 2-5 2-4 2 1 2 7 2 0 2-1 2-1 2-9 2-11 2 4 2 13 2 5 2 6 2 4 2-2 2-8 2-15 2-1 2 9 2-1 2-2 2 5 2 2 2 0 2 2 2 0 2-4 2-6 2-1 2-1 2-3 2 1 2 0 2-1 2-5 2-9 2-8 2-4 2 3 2 8 2 12 2 5 2 1 2 6 2 3 2-7 2-7 2-2 2-5 2-5 2 8 2 12 2 7 2 2 2-7 2-9 2 5 2 12 2 5 2-8 2-11 2 4 2 3 2-6 2 4 2 11 2 5 2-2 2-6 2-5 2 0 2 4 2-2 2-11 2-12 2-4 2 11 2 14 2 2 2-1 2 7 2 9 2-1 2-6 2-3 2 2 2-1 2-2 2 3 2 6 2 1 2-6 2-11 2-3 2 5 2-5 2-13 2-5 2 3 2 5 2 5 2-4 2-10 2-3 2 9 2 5 2-1 2 2 2 8 2 5 2-4 2-6 2 3 2 7 2 3 2 0 2-6 2-6 2-5 2-2 2 6 2 6 2-1 2-6 2-6 2-4 2 4 2 7 2 1 2 4 2-1 2-14 2-17 2-1 2 9 2 8 2 7 2 10 2 7 2 0 2-8 2-10 2-2 2 1 2 2 2 7 2 6 2-4 2-13 2-10 2 1 2 5 2 3 2-1 2-3 2 2 2 5 2 2 2 7 2 1 2-3 2-5 2-1 2 5 2 9 2 10 2 2 2-9 2-6 2-2 2-4 2 4 2 11 2 3 2 8 2 22 2 15 2-2 2-10 2-11 2-18 2-13 2-4 2 1 2-3 2-9 2-7 2-5 2-6 2-5 2-9 2-7 2 5 2 19 2 15 2 6 2 3 2 2 2 0 2-3 2-5 2 2 2 5 2-1 2-3 2-3 2-1 2 8 2 10 2 6 2-2 2-6 2-4 2 3 2-1 2-9 2 0 2 8 2-1 2-2 2 5 2 4 2 4 2-1 2-3 2-6 2-9 2-5 2 1 2-6 2 3 2 12 2 0 2-10 2-5 2 5 2 9 2 2 2-1 2 1 2 0 2-1 2-5 2-10 2-5 2-3 2 2 2 10 2 12 2 4 2-1 2 1 2-4 2-12 2 3 2 22 2 25 2 15 2 1 2-18 2-27 2-34 2-36 2-26 2-9 2 0 2 6 2 13 2 15 2 12 2 19 2 20 2 2 2-4 2 3 2 6 2-1 2 2 2 4 2 3 2 4 2 2 2-5 2-11 2-3 2 4 2-1 2 1 2 8 2-1 2-7 2 2 2 11 2 8 2-7 2-10 2 0 2 0 2-2 2-1 2 2 2 1 2 2 2 2 2-6 2-6 2 5 2 9 2 7 2 6 2 3 2-3 2-12 2-9 2-8 2-8 2 5 2 9 2 5 2-5 2-12 2-8 2 3 2 7 2 7 2 6 2 5 2-3 2-5 2-4 2-1 2 3 2 2 2-2 2-3 2 2 2 4 2 9 2 19 2 31 2 39 2 28 2 7 2-22 2-40 2-30 2-13 2-12 2-9 2 4 2 8 2 2 2 9 2 21 2 11 2-3 2-16 2-22 2-16 2-4 2-4 2 2 2 7 2 0 2-3 2 2 2 1 2-1 2-2 2 0 2 4 2 0 2-5 2 0 2 8 2 7 2-1 2-1 2 1 2 0 2 2 2-1 2-14 2-18 2-6 2 2 2 5 2 2 2-6 2 1 2 11 2 8 2 6 2 3 2-1 2-2 2-1 2 2 2 0 2 1 2-6 2-7 2 6 2 13 2 0 2-5 2 0 2 1 2 1 2-9 2-14 2-2 2 6 2 6 2 1 2-5 2-3 2 2 2 10 2 5 2 0 2-1 2-5"/>
<path stroke="#0072BD" d="M203 429l2 6 2 2 2 7 2-6 2-5 2-2 2-11 2 3 2 15 2 9 2-14 2-27 2-25 2-17 2 18 2 32 2 19 2 4 2-7 2-4 2-4 2-3 2-6 2 0 2 1 2-8 2-11 2-8 2 13 2 18 2 22 2 0 2-14 2-16 2 4 2 12 2 11 2 12 2-7 2-6 2-7 2-3 2-3 2-24 2-28 2-27 2-13 2 11 2 29 2 33 2 18 2 11 2 10 2 1 2 14 2 9 2-20 2-25 2-6 2 8 2 7 2 9 2 1 2-11 2-10 2 0 2 7 2 7 2 11 2 4 2-15 2-23 2 2 2 20 2 10 2 6 2-16 2-13 2-3 2 13 2 17 2 6 2 3 2 10 2 13 2 20 2 36 2 41 2 17 2-10 2-30 2-23 2-1 2 12 2 12 2-16 2-20 2-18 2-24 2-12 2-10 2 5 2 7 2-2 2 11 2 0 2-15 2-15 2-15 2 4 2 9 2 17 2-14 2-19 2-5 2 3 2 7 2 10 2 13 2-5 2-18 2-11 2 12 2 19 2 17 2-11 2-11 2-19 2-15 2 11 2 12 2 13 2 17 2-16 2-17 2 1 2 8 2 2 2-2 2 2 2-7 2-9 2-5 2-3 2 7 2 2 2-14 2 5 2 9 2 15 2-10 2-15 2-10 2-4 2-17 2-34 2-34 2-33 2 4 2 22 2 20 2 30 2 38 2 12 2-14 2-21 2-2 2 22 2 21 2 24 2 1 2-18 2-13 2 4 2 10 2 6 2 7 2 6 2-6 2 2 2 5 2-10 2-12 2 7 2 25 2 23 2 14 2-2 2-17 2-18 2 2 2 5 2 9 2 14 2-1 2-13 2-15 2 0 2 4 2 16 2 10 2-2 2-1 2 5 2 5 2-12 2-19 2-9 2 8 2 17 2 3 2-15 2-19 2-23 2-1 2 17 2 17 2 2 2-15 2-14 2-7 2 0 2 5 2 2 2-5 2-11 2-11 2-10 2 21 2 12 2 9 2 1 2-1 2 3 2-5 2 3 2 2 2-4 2 7 2 0 2-12 2-11 2 0 2 11 2 8 2 7 2-4 2-5 2 2 2 6 2-3 2-10 2-11 2 5 2 17 2 6 2-3 2-12 2-12 2-14 2 5 2 15 2 14 2 5 2-6 2-13 2-8 2 7 2 14 2 6 2 9 2-6 2-4 2 4 2-3 2 1 2-7 2-18 2 5 2 15 2 15 2-8 2-11 2-18 2-3 2 19 2 10 2 5 2-1 2-16 2-14 2 5 2 9 2 7 2-6 2-12 2-5 3 8 2 15 2 13 2 3 2-10 2 2 2 6 2-15 2-22 2-10 2 15 2 17 2 8 2-17 2-9 2-3 2-12 2 6 2 10 2 11 2 5 2 0 2 7 2 12 2-12 2-14 2-11 2-5 2 10 2 9 2 6 2-4 2 1 2 9 2-4 2-10 2-13 2-2 2 15 2 11 2 0 2-9 2-3 2 1 2-6 2 8 2 16 2-5 2-17 2-5 2 4 2 7 2 12 2-1 2-6 2-11 2-5 2-4 2-3 2 1 2-8 2-15 2 11 2 19 2-1 2 2 2 6 2 7 2-2 2-12 2-2 2 5 2 1 2-13 2 2 2 16 2-15 2-20 2 15 2 16 2 3 2-9 2-5 2 6 2 14 2 12 2-1 2-14 2-1 2-9 2-9 2 10 2 16 2 14 2-3 2-19 2-17 2 1 2 16 2 11 2 14 2-10 2-18 2 1 2-2 2-2 2 6 2 11 2 2 2-10 2-14 2 3 2 10 2 12 2 5 2-12 2-25 2-1 2 15 2 17 2 12 2-15 2-16 2-2 2 11 2 17 2-5 2-17 2-8 2-2 2 9 2 11 2 4 2-3 2-17 2-9 2 7 2 11 2 7 2 6 2-3 2-12 2 3 2 7 2-1 2 1 2-4 2-11 2-5 2-11 2-1 2 14 2 11 2-11 2-8 2 4 2-8 2-19 2-7 2 7 2 21 2 14 2 17 2 8 2-15 2-25 2-3 2 8 2-1 2 1 2 13 2 8 2-3 2-6 2-17 2 7 2 9 2 0 2-5 2-11 2 0 2-5 2 9 2 20 2 1 2-3 2-2 2 6 2 11 2 4 2-16 2-15 2-6 2 6 2 6 2 18 2 1 2-16 2 6 2 25 2 25 2 12 2 0 2-22 2-27 2-11 2-17 2-3 2 13 2 16 2-5 2-24 2-17 2-4 2-3 2-1 2 9 2 0 2 5 2 24 2 8 2-10 2-14 2-11 2 1 2 14 2 12 2 8 2-3 2-13 2 0 2-2 2 1 2 5 2 4 2 0 2 4 2-10 2-17 2 8 2 11 2-3 2 1 2 3 2 0 2 5 2 0 2 10 2-2 2-8 2-7 2 2 2 15 2-7 2-10 2-1 2-9 2 14 2 13 2 4 2-1 2-1 2-2 2 7 2-2 2-11 2-10 2-6 2 13 2 15 2-1 2-22 2-19 2 1 2 23 2 11 2 2 2-7 2 2 2 1 2-1 2 27 2 25 2-6 2-23 2-26 2-38 2-22 2-9 2-5 2 6 2 5 2-4 2 11 2 14 2 15 2 20 2 9 2-2 2-3 2-7 2-4 2 0 2-8 2 7 2 12 2 12 2 11 2-6 2-3 2-4 2-17 2-12 2-2 2 12 2 11 2 9 2 4 2-14 2-12 2-9 2 6 2 13 2 10 2 1 2-1 2-4 2-7 2-5 2 5 2 4 2 7 2 5 2-9 2-6 2-11 2-7 2 12 2 26 2-7 2-11 2-9 2-13 2 1 2 0 2-2 2-11 2-5 2-7 2 0 2 28 2 21 2 1 2 1 2-5 2-20 2-7 2 12 2 6 2-1 2 6 2 19 2 6 2 0 2 27 2 44 2 26 2 1 2-15 2-32 2-36 2-24 2-20 2 6 2 13 2 16 2 15 2 6 2-5 2-14 2-6 2 9 2-11 2-13 2-12 2-2 2 7 2-6 2-8 2 5 2 15 2-2 2-16 2-10 2 9 2 16 2 2 2-1 2 7 2 5 2-5 2-11 2-7 2-9 2 5 2 0 2-8 2-8 2-1 2 12 2 1 2-8 2 0 2 8 2 5 2 5 2 11 2 10 2-9 2-17 2-9 2-4 2 15 2 10 2-2 2 1 2 3 2-6 2-6 2 20 2 23 2 9 2-18 2-8 2-11 2-7 2 0 2 3 2 7 2-1 2-10 2-15 2 0 2 15 2 8 2 6 2-10 2-15"/>
<path stroke="#D95319" d="M203 455l2-21 2-9 2 0 2-1 2 4 2 12 2-4 2-8 2 0 2 2 2-8 2-16 2-14 2 0 2 21 2 9 2 5 2 3 2 4 2 3 2-1 2 3 2-2 2-10 2-15 2-8 2 6 2 18 2 2 2-6 2 0 2-5 2 2 2 14 2 5 2-1 2 2 2-3 2-7 2-8 2 7 2 5 2-9 2-12 2-9 2-18 2-11 2 2 2 17 2 30 2 15 2-4 2 1 2-2 2-6 2 0 2 11 2 9 2 3 2-6 2-17 2-15 2 11 2 13 2 3 2 4 2 3 2-8 2-7 2 3 2 5 2 0 2 2 2 4 2 1 2-9 2 7 2 10 2-13 2-21 2-8 2 13 2 6 2 11 2 8 2 20 2 35 2 33 2 9 2-17 2-17 2-5 2-4 2-2 2-2 2-5 2-15 2-13 2-3 2 5 2-1 2-13 2-16 2-1 2 3 2-4 2 1 2 1 2-12 2 1 2 12 2-3 2-14 2-9 2 7 2 15 2 0 2-7 2 4 2 1 2-1 2 2 2 11 2 4 2-12 2-23 2-10 2 9 2 19 2 7 2-4 2 2 2 3 2-4 2-2 2-7 2 1 2 10 2 6 2-7 2-6 2-4 2 3 2 7 2 7 2-3 2-8 2-2 2 7 2 9 2-1 2-10 2-11 2-3 2-12 2-31 2-38 2-27 2 7 2 25 2 21 2 20 2 20 2 4 2 2 2 0 2-6 2-7 2 4 2 13 2 11 2-3 2 4 2 15 2 0 2-19 2-6 2 4 2-3 2-5 2 6 2 22 2-6 2-9 2 11 2 18 2 6 2-12 2 3 2 21 2-2 2-18 2-6 2 10 2 2 2-14 2 2 2 15 2-3 2-7 2-3 2-4 2 2 2 5 2 7 2 2 2-11 2 5 2-2 2-11 2 0 2 11 2 6 2-16 2-13 2 6 2 2 2-19 2-13 2 4 2 12 2 15 2 3 2-6 2-19 2 1 2 13 2-9 2-3 2 12 2-1 2-3 2 8 2-5 2-7 2 5 2 4 2-2 2-6 2-5 2 3 2 15 2 0 2-9 2-4 2 5 2-3 2 10 2 10 2 1 2-6 2-4 2-3 2-3 2-4 2 8 2 9 2-12 2-3 2 5 2-1 2-5 2 0 2 0 2 2 2-10 2 1 2 12 2 0 2 6 2 6 2-4 2-5 2-1 2-8 2 1 2 18 2 6 2-12 2-8 2-4 2-3 2 7 2 13 2-2 2-2 2 1 2 0 2-7 2 0 2 7 2-3 2-16 2-4 2 8 2 11 2-1 3-10 2 0 2-6 2 0 2 21 2 5 2-6 2 4 2-3 2-6 2-4 2 5 2-8 2-6 2 5 2-4 2-12 2 6 2 21 2 1 2-15 2 3 2 7 2-1 2-3 2-8 2-9 2 4 2 16 2 5 2-9 2-12 2 7 2 18 2 0 2-10 2-12 2 0 2 14 2 5 2-7 2-5 2 5 2 7 2-4 2-8 2-2 2 4 2 8 2 1 2 4 2 10 2-13 2-15 2-3 2 2 2-5 2-7 2 5 2 4 2-3 2 6 2-8 2-15 2 4 2 5 2 4 2 3 2 5 2 1 2 7 2 6 2-5 2-5 2-7 2-4 2 5 2 11 2-5 2-6 2 12 2 8 2 0 2 0 2-6 2-9 2 5 2 5 2-3 2-8 2 13 2 4 2-9 2 1 2-5 2-5 2 6 2-3 2 14 2 13 2-9 2-3 2-6 2-14 2 13 2 12 2-11 2-13 2 1 2 9 2 5 2 3 2 1 2-9 2-8 2-1 2 5 2-10 2-4 2 7 2 6 2 1 2 0 2-2 2 5 2 8 2 0 2-1 2-7 2 2 2-3 2-14 2 2 2 5 2 7 2 2 2 0 2-6 2-7 2 2 2 18 2-6 2-6 2 9 2-5 2-3 2 3 2 6 2 7 2 6 2-6 2-5 2-7 2-12 2-5 2-7 2 2 2 6 2 1 2 3 2 4 2-3 2 2 2 7 2 2 2 5 2-5 2-14 2-6 2-2 2 0 2 8 2 3 2-7 2-9 2-2 2 9 2 2 2-4 2 4 2 9 2 9 2-1 2-3 2 0 2-2 2-4 2 5 2 6 2 0 2-5 2-4 2-1 2 3 2 3 2 0 2 15 2 8 2-8 2 7 2 20 2 4 2-13 2-11 2-1 2-8 2-15 2-14 2-3 2 10 2 7 2 4 2 2 2 4 2-13 2-24 2-1 2 9 2 3 2 11 2 12 2 4 2-8 2-8 2 0 2-7 2 1 2 4 2 11 2 6 2-5 2 0 2-8 2-2 2 10 2 8 2-2 2-4 2 13 2 14 2-12 2-20 2 0 2 9 2 0 2-10 2-8 2 16 2 6 2-7 2-4 2 0 2-4 2 4 2 7 2 2 2-4 2-4 2-7 2-3 2 4 2-3 2 3 2 14 2 9 2-11 2-11 2 2 2 11 2-5 2-5 2-5 2-5 2 2 2 3 2 6 2 8 2-1 2 2 2 9 2 13 2-1 2 2 2 3 2-10 2-22 2-21 2-19 2-13 2-7 2-10 2 0 2 13 2 10 2 9 2 8 2 14 2 12 2 7 2-1 2-9 2 1 2 13 2-1 2-10 2 0 2 9 2 3 2-7 2-8 2 1 2 4 2-1 2 2 2-1 2-6 2 0 2-2 2 3 2 7 2 2 2-4 2-6 2-7 2 4 2 9 2 8 2-4 2-2 2 10 2 0 2-13 2-2 2 5 2 1 2 0 2-5 2-9 2-8 2-7 2 4 2 12 2 3 2-7 2-4 2-6 2-5 2 4 2 8 2 4 2 9 2 5 2-1 2 8 2-4 2-17 2 1 2 8 2 2 2 3 2 6 2 5 2 3 2-3 2 9 2 26 2 25 2 2 2-15 2-30 2-22 2-3 2-2 2 2 2 4 2-2 2-2 2 9 2 15 2-2 2-11 2 1 2-10 2-15 2 2 2 1 2 7 2 7 2-2 2 8 2-4 2-18 2-3 2 3 2-5 2-2 2 10 2 14 2-3 2-12 2-3 2 1 2 7 2 3 2 4 2-11 2-10 2 1 2 12 2-1 2-11 2-14 2-6 2 12 2 20 2 0 2-11 2 6 2 10 2-7 2-7 2 0 2 4 2-1 2-3 2 2 2-1 2 3 2 8 2 6 2-3 2 0 2 9 2 0 2-11 2-4 2 3 2-9 2-3 2 15 2-4 2-5 2 2 2 0 2-1 2 3 2 0 2-7"/>
<path stroke="#EDB120" d="M203 446l2-3 2-4 2-12 2-7 2 6 2-1 2 8 2 8 2-10 2-11 2-2 2-7 2-16 2 3 2 12 2 7 2 8 2 1 2-4 2 0 2 6 2 2 2-16 2-30 2-21 2 8 2 30 2 24 2 5 2 2 2-6 2-1 2 13 2 11 2 2 2-3 2-14 2-10 2 8 2 4 2 0 2-16 2-16 2-2 2-25 2-49 2-17 2 25 2 28 2 30 2 19 2 6 2 6 2 6 2 16 2 2 2-17 2-11 2-3 2 3 2 0 2-3 2 12 2 19 2 5 2-9 2-14 2-8 2 5 2 10 2 5 2-2 2-13 2-4 2 1 2 0 2-5 2-4 2-1 2 11 2 19 2 13 2-8 2-11 2 19 2 50 2 45 2 35 2 16 2-3 2-10 2-11 2-16 2-27 2-10 2 12 2 12 2-11 2-30 2-23 2-25 2-8 2 14 2 8 2-1 2-8 2-4 2 2 2 0 2-11 2-25 2-7 2 15 2 6 2 0 2-13 2-16 2-5 2 9 2 11 2 17 2 9 2-16 2-11 2-7 2 8 2 11 2 6 2 3 2-16 2-14 2 13 2 9 2-10 2-3 2 22 2 14 2-7 2-12 2-15 2-1 2 10 2 11 2 12 2-7 2-8 2-13 2-15 2 8 2 23 2 5 2-26 2-8 2 3 2-31 2-56 2-63 2-44 2 8 2 46 2 47 2 17 2 1 2 0 2 21 2 26 2 12 2 1 2-1 2 1 2 4 2 16 2 14 2 7 2-6 2-8 2 17 2 7 2-21 2-20 2-5 2 18 2 17 2 14 2 6 2 9 2 5 2-13 2 11 2 17 2 4 2-4 2-14 2-15 2-1 2 3 2-3 2-2 2-3 2-4 2-9 2 12 2 29 2 19 2-2 2-13 2-25 2-12 2 2 2-2 2-3 2-16 2-13 2-8 2 3 2 19 2 10 2-9 2-16 2-7 2-8 2-2 2 10 2 2 2-5 2-8 2-3 2 11 2 16 2-2 2-5 2 6 2 11 2 6 2-10 2-7 2 9 2 6 2-7 2-7 2-5 2 5 2 14 2 17 2-7 2-16 2-16 2-13 2-1 2 7 2 16 2 11 2-9 2-7 2 3 2 1 2-10 2-11 2 10 2 1 2-5 2 10 2 7 2-2 2 1 2 0 2-5 2-13 2 6 2 17 2 12 2 10 2-5 2-1 2-5 2-16 2-7 2-3 2 15 2 14 2 6 2-6 2-13 2-6 2 2 2 2 2 11 2 16 2-4 2-11 2-7 2 1 2 12 2 2 2-13 2-10 2 4 3 5 2 11 2-3 2-8 2-8 2-3 2 5 2 8 2 15 2 0 2-12 2-18 2-12 2-4 2-9 2-5 2-1 2-9 2 10 2 27 2 19 2-1 2-7 2 6 2 6 2-8 2-2 2 7 2-4 2-6 2-5 2-12 2 2 2 20 2 18 2 3 2-15 2-13 2-10 2 6 2 17 2 5 2-6 2-4 2-1 2-4 2 4 2 9 2 3 2-3 2-11 2-1 2-2 2-11 2-11 2-10 2-10 2 7 2 20 2 0 2-21 2-14 2-3 2 13 2 10 2 19 2 9 2 2 2 10 2 8 2-4 2-11 2-8 2-1 2 2 2-3 2-9 2 3 2 10 2 8 2 12 2-6 2-13 2 7 2 7 2-6 2-13 2-12 2 5 2 7 2 10 2-5 2-1 2-7 2-12 2 0 2 10 2 19 2 2 2-15 2-1 2 7 2 6 2-5 2 0 2 4 2 2 2 0 2-5 2 4 2 7 2-4 2-5 2 1 2 13 2 1 2-10 2-9 2 10 2 5 2-4 2 3 2-4 2-10 2-10 2-4 2-5 2-2 2 7 2 2 2 8 2 9 2 0 2-6 2-12 2-2 2 5 2 2 2 14 2 0 2-10 2-13 2-3 2 6 2 21 2 8 2-20 2-17 2-2 2 7 2 8 2 14 2-5 2-14 2-7 2 4 2 7 2-9 2-5 2 9 2-2 2 7 2-3 2 6 2 0 2-6 2 4 2 5 2 3 2-1 2 2 2-7 2-8 2-10 2-6 2 9 2 14 2 9 2-13 2-16 2-2 2 10 2 3 2-13 2 11 2 20 2 6 2 5 2-7 2-14 2-12 2-5 2 12 2 16 2-4 2-7 2 19 2 11 2 3 2 8 2 16 2 8 2-6 2-2 2-13 2-14 2-7 2-12 2-4 2 6 2 10 2-8 2-28 2-31 2-11 2 12 2 13 2 13 2 5 2 6 2-11 2-2 2 19 2 4 2 3 2 12 2 1 2-6 2-2 2 8 2 11 2 1 2-21 2-27 2 1 2 24 2 31 2-3 2-32 2-14 2 2 2 8 2 13 2 2 2-12 2-13 2-10 2 9 2 20 2 14 2-6 2-6 2 6 2 1 2-10 2-4 2-10 2-13 2 5 2 18 2 12 2-4 2-4 2-16 2-6 2 14 2 5 2-4 2 3 2 3 2-6 2 1 2-2 2-3 2 10 2 9 2 4 2 2 2-5 2-6 2 9 2 28 2 12 2 3 2-6 2-27 2-41 2-30 2-22 2-11 2-5 2-2 2 4 2 9 2 21 2 27 2 16 2-4 2-2 2 4 2 14 2 6 2-11 2-6 2 7 2 14 2 15 2-4 2-11 2 3 2 2 2 0 2-4 2-3 2-2 2-2 2 10 2 0 2-10 2-10 2 0 2 3 2 15 2 17 2-7 2-20 2-11 2-3 2-4 2-4 2 3 2 12 2 24 2 6 2-19 2-3 2 5 2-2 2-15 2-16 2 8 2 22 2 16 2-7 2-31 2-20 2-15 2-1 2 17 2 7 2 0 2 1 2 15 2 2 2-10 2 10 2 2 2-8 2-1 2 5 2 6 2 7 2-2 2 11 2 42 2 58 2 37 2 1 2-32 2-43 2-24 2-13 2-11 2-6 2-3 2 3 2 10 2 19 2 7 2-4 2-15 2-22 2-5 2 8 2 3 2-22 2-20 2 5 2 16 2-8 2-1 2 9 2-1 2 1 2 3 2-15 2-11 2 15 2 9 2-4 2 5 2 9 2 3 2-8 2-11 2-6 2 5 2-1 2-6 2-16 2-22 2-21 2 11 2 26 2 30 2 23 2 6 2-5 2-9 2-12 2-1 2 9 2 15 2 11 2-9 2-13 2-10 2 11 2 14 2-12 2-4 2 11 2 5 2-1 2-8 2-12 2-3 2 6 2 9 2 5 2-7 2-14 2-18 2-3 2 12 2 17 2 15 2-6"/>
<path stroke="#7E2F8E" d="M203 445l2-2 2-4 2-3 2-4 2-3 2-1 2 1 2-1 2-1 2-4 2-4 2-5 2-7 2-2 2 5 2 9 2 8 2 5 2-1 2-5 2-7 2-5 2-3 2-1 2 3 2 8 2 3 2 0 2 2 2 4 2 4 2 4 2 1 2-4 2-6 2-6 2-1 2 4 2 5 2 3 2 0 2-6 2-8 2-7 2-11 2-18 2-14 2 3 2 20 2 24 2 16 2 3 2-1 2-2 2-1 2 1 2 1 2-2 2-2 2 1 2 0 2 0 2 0 2-1 2 0 2 1 2 0 2-2 2 1 2 4 2 1 2-1 2-1 2 2 2 2 2-4 2-4 2 0 2 2 2 3 2 5 2 4 2 3 2 4 2 7 2 14 2 21 2 22 2 17 2 4 2-7 2-13 2-14 2-8 2 0 2 3 2-2 2-7 2-13 2-17 2-11 2-3 2 3 2 4 2 3 2 0 2-2 2-3 2-4 2-5 2-5 2-4 2-2 2-3 2 0 2 2 2 2 2 4 2 7 2 7 2 3 2-4 2-6 2-2 2 0 2 0 2 0 2 0 2-1 2-3 2-6 2-1 2 4 2 5 2 2 2-1 2-4 2-4 2-3 2 3 2 7 2 3 2-4 2-5 2-1 2 3 2 2 2 1 2-1 2-1 2 0 2 2 2-1 2-9 2-16 2-23 2-25 2-16 2-3 2 11 2 17 2 15 2 9 2 3 2 3 2 2 2 0 2 2 2 8 2 7 2 3 2 3 2 3 2 2 2 2 2 0 2 0 2 0 2 0 2-1 2 1 2 3 2 3 2 4 2 5 2 6 2 7 2 6 2-1 2-6 2-2 2 1 2 0 2 0 2 1 2 0 2-2 2-5 2-6 2-1 2 6 2 9 2 6 2 1 2-4 2-5 2-4 2-2 2-1 2-1 2 2 2 3 2 2 2-4 2-8 2-5 2 1 2 1 2 0 2-2 2-4 2-4 2-1 2-3 2-7 2-5 2 2 2 4 2 2 2 2 2 1 2 3 2 5 2 3 2-3 2-5 2 1 2 5 2 2 2-2 2-1 2 1 2 1 2 1 2 3 2 1 2-2 2 2 2 5 2 1 2-1 2-1 2-1 2-1 2-4 2-6 2-6 2-1 2 4 2 7 2 3 2-3 2-6 2-2 2 5 2 4 2-3 2-7 2-1 2 5 2 7 2 5 2 0 2-5 2-5 2-1 2 0 2 2 2 4 2 4 2 1 2-5 2-6 2-3 2 3 2 5 2 6 2 2 2-1 2-1 2 0 2-2 2-3 2-2 2 2 2 2 2-1 3-3 2-3 2-4 2-4 2 2 2 7 2 4 2 0 2-3 2-4 2-2 2 2 2 6 2 1 2-10 2-10 2-3 2 4 2 6 2 7 2 8 2 3 2-1 2 0 2-4 2-6 2-3 2 3 2-1 2-6 2-1 2 6 2 3 2-3 2-4 2-1 2 0 2 1 2 3 2 3 2 4 2 2 2-1 2 3 2 6 2-1 2-9 2-6 2-1 2 0 2 0 2-1 2-1 2-1 2 0 2-1 2-5 2-6 2-2 2 4 2 7 2-1 2-8 2-6 2 5 2 14 2 11 2 2 2-4 2-2 2-1 2-1 2 0 2-1 2-2 2-2 2 2 2 2 2 3 2 1 2 1 2 1 2 1 2-2 2-4 2-3 2 4 2 9 2 4 2-4 2-4 2 4 2 5 2 1 2-5 2-8 2-9 2-3 2 2 2 3 2 1 2 2 2 4 2 1 2-1 2 0 2 5 2 0 2-6 2-5 2-5 2-3 2-2 2 3 2 9 2 8 2-1 2-6 2-3 2 4 2 3 2-2 2-5 2-2 2 2 2 3 2-2 2-1 2 5 2 6 2 1 2-5 2-5 2-3 2 1 2 4 2 1 2-1 2 1 2 5 2 0 2-6 2-6 2 0 2 3 2 2 2 1 2 0 2 0 2 2 2 3 2 0 2-1 2-5 2-8 2-7 2-4 2-2 2 0 2 4 2 4 2 1 2 3 2 6 2 2 2-4 2-5 2-4 2-1 2 4 2 6 2 2 2-2 2-2 2-3 2-3 2-3 2 0 2 0 2 0 2 0 2 1 2 5 2 7 2 3 2 2 2 6 2 3 2-2 2-1 2 0 2-1 2-1 2 3 2 1 2-2 2-1 2 2 2 5 2 7 2 6 2 4 2-1 2-6 2-7 2-6 2-6 2-4 2 1 2 1 2-4 2-7 2-11 2-8 2-4 2 0 2-1 2 0 2 10 2 14 2 11 2 4 2-2 2-8 2-9 2-1 2 6 2 5 2 1 2 3 2 7 2 5 2 2 2-2 2-7 2-7 2-2 2 3 2 0 2-3 2-2 2 0 2 0 2 4 2 3 2 0 2 2 2 1 2-2 2 0 2-2 2-3 2 1 2 3 2-3 2-6 2-1 2 5 2 5 2 1 2-1 2-1 2 2 2 1 2-5 2-4 2 1 2 1 2-2 2 0 2 1 2 0 2-2 2 0 2 2 2 2 2 1 2 2 2 3 2 4 2 9 2 15 2 10 2-3 2-13 2-17 2-19 2-20 2-17 2-12 2-5 2 5 2 12 2 14 2 13 2 12 2 8 2 6 2 5 2 2 2-4 2-5 2-2 2-3 2-3 2-1 2 3 2 1 2 0 2-1 2-2 2 0 2 4 2 5 2 3 2-1 2-4 2-4 2-1 2-2 2-1 2 1 2 1 2 3 2 4 2 1 2-3 2-1 2 1 2 0 2-4 2 0 2 3 2-2 2-6 2 0 2 5 2 2 2-1 2-1 2 1 2 2 2 5 2 0 2-8 2-12 2-10 2-1 2 7 2 10 2 7 2 2 2-3 2-5 2-4 2-1 2 5 2 9 2 3 2-3 2-2 2 3 2 8 2 10 2 14 2 21 2 20 2 4 2-14 2-18 2-16 2-12 2-5 2-1 2 2 2 2 2 7 2 12 2 7 2-2 2-8 2-10 2-10 2-7 2-6 2-4 2-1 2 3 2 2 2 1 2 4 2 6 2-2 2-7 2-5 2 0 2-2 2-3 2 2 2 7 2 5 2 2 2-2 2-2 2-2 2-3 2-4 2-3 2-4 2-3 2-4 2-2 2 1 2 2 2 4 2 7 2 7 2 1 2-3 2-7 2-6 2 1 2 6 2 2 2 2 2 7 2 10 2 5 2-1 2-2 2-2 2-1 2-2 2-5 2-6 2-5 2 0 2 8 2 6 2-1 2-3 2-1 2 1 2-3 2-6 2-4 2 4 2 6"/>
<path stroke="#77AC30" d="M203 435l2-10 2 0 2 11 2 8 2-3 2-4 2-10 2-7 2 1 2 5 2-2 2-13 2-4 2 8 2-1 2-1 2 6 2 3 2 3 2 0 2-4 2-7 2-5 2 4 2 7 2 2 2 1 2 8 2 5 2-1 2-1 2-4 2-6 2 4 2 8 2 4 2 1 2-6 2-9 2-4 2 3 2 0 2-8 2-15 2-17 2-17 2-13 2 3 2 22 2 27 2 20 2 11 2 3 2-4 2-9 2 2 2 3 2 3 2 7 2 4 2-4 2-7 2-2 2 5 2 4 2-1 2-6 2-6 2-5 2-2 2 5 2 7 2 3 2-2 2-2 2-4 2 0 2 3 2 1 2 3 2 4 2-4 2 3 2 9 2 9 2 24 2 38 2 32 2 18 2-5 2-21 2-21 2-17 2-10 2 2 2 3 2-4 2-8 2-8 2-10 2-11 2-4 2 6 2 2 2-9 2-8 2-5 2 2 2 7 2 1 2 0 2-6 2-12 2 1 2 8 2 1 2-8 2-11 2-2 2 3 2 0 2 6 2 5 2-3 2-2 2-1 2 0 2 4 2 0 2 0 2 4 2-1 2-8 2-3 2 3 2 8 2 1 2-1 2-3 2-4 2 6 2 7 2-1 2-1 2-7 2-11 2-4 2 9 2 7 2 2 2-3 2-10 2-8 2-1 2-9 2-36 2-36 2-16 2 5 2 20 2 18 2 16 2 13 2 10 2 2 2-5 2 1 2 7 2 5 2-3 2 0 2 9 2 10 2 4 2 0 2 1 2-1 2 0 2-1 2-8 2-2 2 10 2 9 2 8 2 5 2 6 2 0 2 9 2 16 2 3 2-11 2-22 2-8 2 9 2 9 2-2 2-7 2-8 2-5 2 3 2 7 2 8 2 3 2-1 2 5 2 9 2 6 2 1 2-2 2-3 2-5 2-8 2-7 2-9 2-7 2 0 2 2 2-2 2 1 2-2 2-6 2-9 2-13 2-4 2 1 2 4 2 9 2 3 2 9 2 10 2 1 2-8 2 1 2 6 2-7 2-5 2 4 2 3 2 1 2-7 2-8 2 4 2 5 2 2 2 5 2-3 2-2 2 2 2-11 2-12 2 5 2 12 2 3 2 2 2-4 2-7 2 2 2 6 2 5 2 7 2 1 2-6 2-7 2-6 2-5 2 3 2 7 2-4 2-12 2-1 2 11 2 14 2 3 2-5 2-7 2-2 2 6 2 7 2-7 2-9 2 1 2 5 2 5 2 4 2 0 2-7 2-8 2-2 2 1 2 6 2 2 2 0 2 6 2 5 2 1 2-2 2 1 3 1 2-2 2-6 2-12 2-14 2-6 2 10 2 11 2 8 2 1 2-2 2-3 2-3 2-1 2-2 2-2 2-1 2 3 2 4 2-6 2 2 2 6 2-2 2 3 2 9 2 1 2-4 2 0 2-1 2-4 2-2 2 2 2-2 2 1 2-4 2-1 2 12 2 11 2 5 2-1 2-15 2-13 2 5 2 3 2-4 2 5 2 7 2-10 2-13 2 5 2 11 2-4 2-10 2 1 2 3 2-3 2-4 2-2 2-4 2-1 2 2 2 1 2-4 2-5 2 2 2 4 2 5 2 6 2 7 2 6 2 4 2-3 2 4 2 11 2 4 2-7 2-8 2 1 2 4 2-6 2-14 2 8 2 14 2-2 2-10 2-3 2 0 2 0 2-1 2-7 2-3 2 8 2 3 2-4 2-3 2-1 2 5 2 4 2 3 2 5 2-4 2-10 2-3 2 8 2 6 2 3 2 3 2-2 2-2 2-3 2-8 2-5 2 4 2 2 2 2 2 0 2-6 2-5 2 2 2 5 2 3 2 1 2-3 2 1 2 6 2 2 2 1 2 5 2 2 2-7 2-14 2-5 2 9 2 8 2-5 2-11 2-3 2-4 2-7 2 2 2 9 2 10 2 5 2-2 2-6 2-2 2 3 2 2 2-6 2-4 2 10 2 11 2-4 2-9 2-4 2 2 2-3 2-10 2-8 2 4 2 7 2 8 2 13 2 4 2-4 2 3 2-3 2-5 2-1 2-2 2-3 2-2 2 4 2 8 2-2 2-10 2-1 2-5 2-4 2 9 2 10 2 1 2-1 2 0 2 1 2 1 2-4 2-3 2 3 2-3 2-4 2 6 2 15 2 10 2-4 2-10 2-5 2-7 2-2 2 20 2 22 2 2 2-5 2-7 2-11 2-7 2-1 2-3 2-9 2-1 2 4 2-1 2-3 2-9 2-13 2-5 2 1 2 4 2 6 2 10 2 11 2 2 2 1 2 6 2 2 2 0 2-6 2-6 2 1 2 3 2 3 2 0 2 0 2 8 2 7 2-4 2-6 2-4 2 3 2 7 2 3 2 2 2-3 2-12 2-7 2 8 2 6 2-3 2-4 2-5 2-4 2 3 2 4 2 5 2 7 2 7 2 2 2-5 2-7 2-7 2 0 2 4 2-10 2-8 2 4 2 0 2-5 2 2 2 8 2 7 2-1 2-9 2-4 2-1 2-3 2 6 2 15 2 4 2-1 2-4 2 5 2 21 2 12 2-3 2-8 2-22 2-34 2-30 2-21 2-8 2 2 2 3 2 8 2 16 2 17 2 12 2 6 2 9 2 12 2 3 2-4 2-3 2 7 2 7 2-5 2-5 2-2 2-9 2 1 2 11 2 8 2 7 2-1 2-5 2-8 2-5 2 0 2 4 2-1 2-3 2-4 2-3 2 3 2 2 2-1 2-2 2-4 2 0 2 7 2 8 2-1 2-4 2-3 2 0 2 2 2 2 2 2 2 2 2 0 2 0 2-1 2-5 2-13 2-6 2 2 2-3 2-7 2-3 2 3 2 11 2 16 2 12 2-1 2-5 2 1 2-6 2-10 2 1 2 16 2 11 2-9 2-5 2 5 2 7 2 19 2 30 2 30 2 9 2-18 2-36 2-27 2-13 2-8 2-4 2-3 2 9 2 14 2 7 2 1 2 4 2 1 2-5 2-13 2-5 2 1 2-4 2-9 2-3 2-3 2-4 2-4 2 4 2 12 2 10 2 4 2-6 2-2 2 4 2-4 2-4 2 0 2 2 2 2 2-9 2-9 2 5 2 4 2-8 2-9 2-4 2-6 2 3 2 5 2 7 2 12 2 2 2-1 2 6 2 6 2-2 2-2 2-3 2 3 2 2 2-6 2-4 2 1 2 10 2 15 2 7 2-2 2 0 2 2 2 3 2-6 2-17 2-16 2-10 2 5 2 9 2 2 2 6 2 5 2-4 2 2 2 5 2-2 2-6"/>
<path stroke="#4DBEEE" d="M203 435l2-7 1-4 2 0 1 4 2 8 1 8 2 3 1-4 2-5 1-5 2-10 1-15 2-11 1 0 2 2 1-5 2-11 1-13 1-7 2-1 2 8 1 12 2 17 1 19 2 18 1 12 2 6 1-3 2-14 1-26 2-26 1-18 2-7 1 2 2 21 1 27 2 24 1 15 2 4 1-6 2-14 1-12 2-1 1 8 2 11 1 14 2 16 1 8 1 2 1 3 1-7 2-9 1-5 2-3 1-5 0-3 2-3 1-5 2-10 1-14 2-29 1-45 2-50 1-30 2 8 1 40 2 49 1 43 2 30 1 17 2 0 1-9 2-12 1-10 2-8 1 0 2 0 1-4 2-16 1-21 2-5 1 15 2 27 1 26 2 19 1 8 2 0 1-6 2-11 1-14 2-10 1-2 2 4 1 4 2 1 1-8 2-11 1 1 2 4 1 9 2 4 1-1 2-2 1 5 2 11 1 10 2 0 1-14 2-23 1-21 2-12 1 3 0 10 2 26 1 34 2 32 1 27 2 20 1 16 2 22 1 30 2 25 1 4 2-22 1-31 2-26 1-16 2-7 1 2 2 9 1 8 2-3 1-17 2-22 1-16 2-11 1-9 2-10 1-15 2-24 1-26 1-16 2-2 2 20 1 30 2 30 1 25 2 12 1-6 1-11 1-12 1-36 2-39 1-19 2 8 1 27 2 27 1 14 2 1 1-8 2-14 1-19 2-15 1-1 2 15 1 22 2 17 1 8 2-7 1-19 2-25 1-16 2 2 1 17 2 24 1 22 2 15 1 2 2-10 1-14 2-16 1-12 2-3 1 7 2 10 1 6 2 4 1 5 2 9 1 6 2-2 1-6 2-5 1-1 2 5 1 6 2 2 1-4 2-10 1-17 2-16 1-9 2-1 1 6 2 11 1 10 2 4 1-4 2-11 1-13 2-12 1-9 2-54 1-60 2-49 1-7 2 36 1 56 2 49 1 31 2 12 0-1 1-8 2-8 1 2 2 8 1 11 2 15 1 16 2 20 1 18 1 6 2-18 2-28 1-25 2-12 1 2 2 16 1 20 2 20 1 15 2 4 1-7 2-14 1-12 2-10 1-5 2 1 1 6 2 10 1 9 2 7 1 7 2 10 1 14 2 17 1 9 2-4 1-14 2-12 1-5 2-7 1-13 2-13 1-8 2-2 1 3 2 12 1 22 2 22 1 10 2-1 1-9 2-13 1-15 2-9 1 3 2 17 1 17 2 8 1-2 2-5 1-7 2-7 1-4 2-3 1-5 2-9 1-10 2-9 1-10 2-12 1-7 2-1 1 1 2 1 1 5 2 12 1 17 2 16 1 4 2-7 1-11 2-16 1-17 2-10 1 10 2 25 1 19 2 6 1-5 2-11 1-13 2-7 1 5 2 7 1 4 2-1 1-2 2-4 1-4 2 0 1 0 2-4 1-3 2 6 1 15 2 14 1 2 2-10 1-16 2-20 1-18 2-7 1 3 2 10 1 8 2 8 1 11 2 11 1 8 2-2 1-12 2-16 1-7 2 2 1 6 2 5 1 6 2 6 1 6 2 2 1-5 2-7 1-3 2 5 1 10 2 13 1 11 2 3 1-11 2-24 1-24 2-17 1-8 1 3 1 7 1 11 2 7 1-5 2-10 1 1 2 16 1 24 2 21 1 8 2-5 1-9 2-4 1 3 2 5 1 3 2-2 1-9 1-12 2-12 2-6 1 1 2 11 1 17 2 12 1 2 2-2 1-6 2-8 1-4 2 4 1 7 2 1 1-9 2-16 1-15 2-12 1-8 2 3 1 15 2 20 1 16 2 7 1-5 2-13 1-12 2-5 1 5 2 14 1 15 2 11 0-1 1-1 2-6 1-16 2-19 1-22 2-26 1-19 2-1 1 21 2 31 1 26 2 17 1 6 2-8 1-18 2-19 1-6 2 8 1 14 2 12 1 8 2 2 1-6 1-8 2-17 2-6 1 4 2 12 1 13 2 7 1 0 2-8 1-14 2-12 1-10 2-7 1-2 2 5 1 10 2 16 1 14 2 6 1-5 2-13 1-20 2-22 1-14 2 1 1 14 2 26 1 24 2 14 1 0 2-8 1-8 2-5 1-3 2-4 1-6 2-6 1-3 2 0 1-4 2-10 1-14 1-13 2-21 2-8 1 4 2 17 1 25 2 28 1 22 2 7 1-6 2-5 1 4 2 12 1 8 2-4 1-12 2-12 1-10 2-3 1 6 2 13 1 17 2 14 1 10 2-2 1-12 2-20 1-13 2-1 1 8 2 9 1 2 2-11 1-19 2-17 1-8 1 2 2 13 2 20 1 23 2 15 1 2 2-10 1-13 2-10 1-6 2-5 1-2 2 3 1 13 2 19 1 18 2 6 1-9 2-26 1-32 2-19 1 2 2 15 1 16 2 9 1 0 2-6 1-7 2-7 1-5 2-3 1-2 2 2 1 5 2 6 1 5 2 6 1 6 2 3 1 1 2-3 1-4 2-3 1-5 2-5 1 3 2 16 1 22 2 20 1 7 2-6 1-11 2-11 1-3 2 5 1 8 2 1 1-5 2-11 1-16 2-16 0-5 1 0 2 5 1 11 2 15 1 18 1 5 1-1 1-6 2-4 1 5 2 5 1-6 2-19 1-23 2-12 1 4 2 11 1 5 2-4 1-7 2-4 0-1 1 1 2 18 1 21 1 17 2 9 1-5 2-13 1-14 2-10 1-6 2-8 1-12 2-13 1-9 2-7 1 5 2 15 1 19 2 7 1-2 2 0 1 5 2 9 1 10 2 9 1 4 2-6 1-12 2-13 1-6 2 1 1 8 2 5 1-8 2-20 1-21 2-13 1-2 2 9 1 14 2 14 1 14 2 10 1 1 2-12 1-17 2-15 1-10 1 0 1 4 1 12 2 14 1 7 2-1 1-7 2-8 1-2 2 4 1 6 2 5 1 9 2 15 1 13 2 6 1 1 2-4 1-9 2-8 1 0 2 15 1 26 2 29 1 24 2 5 1-16 2-24 1-10 2 4 1 0 2-20 1-31 2-30 1-19 2-4 1 10 2 11 1 4 2-3 1-10 2-15 1-17 2-12 1 2 2 21 1 17 2 4 1-3 2-1 1 4 2 5 1 3 2 5 1 13 2 19 1 13 2-2 1-8 2-5 1 3 2 5 1 1 2-6 1-8 2-9 1-11 2-9 1-2 2 3 1 1 2-4 1-1 2 7 1 9 2 10 1 9 2 8 1 3 2-5 1-1 2 6 1 4 2-5 1-11 2-7 1-1 2 4 1 3 2-2 1-7 2-6 1-4 2-1 1-2 2-2 1 3 2 6 1 6 2 6 1 1 2-4 1-8 1-7 1-4 1-1 2 4 1 8 2 12 1 14 1 11 2 10 2-4 1-12 2-14 1-9 2-6 1-5 2-2 1 2 2 9 1 7 2 2 1-4 2-8 1-11 2-12 1-6 2 12 1 27 2 37 1 33 2 14 1-5 2-23 1-27 2-22 1-13 2-8 1-10 2-21 1-32 2-34 1-20 2-22 1-7 2 1 1 12 1 12 1 15 1 39 2 38 1 17 2-4 1-10 1-4 2-8 2 1 1 9 2 17 1 19 2 18 1 13 2 1 1-12 2-14 1-12 2-14 1-12 2-7 1 6 2 18 1 16 2-2 1-19 2-17 1-4 2 6 1 7 2 10 1 14 2 15 1 11 2-1 1-9 2-4 1 8 2 9 1-2 2-17 1-20 2-14 1 1 2 12 1 13 2 6 1 4 2 8 1 9 2 1 1-9 2-19 1-21 2-15 1 0 2 17 1 21 2 10 1-9 2-13 1-1 2 9 1 12 2 6 1-3 2-10 1-14 2-18 1-18 2-18 1-17 2-12 1 4 0 9 2 20 1 25 2 18 1 10 2 10 1 9 2 1 1-4 0-7 2-10 1 1 2 11 1 11 2 10 1 9 2 3 1-14 2-29 1-28 2-14 1 4 2 24 0 17 1 25 2 51 1 56 2 40 1 9 2-32 1-48 2-50 1-36 2-17 1 3 2 16 1 20 2 9 1-5 2-9 1-7 2 0 1 8 2 13 1 8 2 2 1-9 2-13 1-18 2-19 1-13 2-4 1 4 2 7 1 6 2 3 1 3 2 7 1 2 2-7 1-13 2-11 1-4 2 7 1 12 2 8 1 1 2-6 1-9 2-9 1-8 2-14 1-14 2-8 1 1 0-2 2-1 1 0 2 11 1 24 2 32 1 24 2 4 1-20 2-36 1-37 2-28 1-9 2 18 1 29 2 31 1 29 2 23 1 15 1 4 2-5 2-6 1-4 2-4 1-6 2-8 1-7 2-1 1 2 2 4 1 4 2 8 1 11 2 9 1 3 2-4 1-10 2-13 1-11 2-1 1 3 2 2 1-2 2-6 1-6 2-10 1-8 2-5 1 1 2 6 1 5 2 5 1 8 2 4 1-5 1-8 1-5 1-9 2-8 1-6 2 2 1 8 1 8"/>
<path stroke="#A2142F" d="M203 420l2 4 2 5 2 5 2 4 2 5 2 4 2-1 2-6 2-5 2-3 2-8 2-15 2-11 2-3 2 5 2 10 2 13 2 11 2 9 2 6 2-5 2-18 2-16 2-7 2-9 2-3 2 9 2 14 2 9 2 5 2 9 2 7 2-1 2-4 2-3 2-2 2-6 2-5 2 2 2 8 2 4 2-6 2-18 2-24 2-26 2-20 2-4 2 14 2 23 2 26 2 21 2 7 2-1 2 2 2 3 2 1 2 2 2 0 2-1 2-2 2 1 2 4 2 3 2 0 2-3 2-1 2-1 2 3 2 0 2-6 2-5 2-1 2 0 2 1 2 2 2 2 2 2 2 1 2-1 2-1 2 1 2 1 2 3 2 10 2 20 2 30 2 33 2 29 2 22 2 11 2-10 2-27 2-24 2-9 2 1 2 0 2-7 2-13 2-12 2-8 2-7 2-7 2-11 2-10 2-3 2 3 2 2 2-1 2-5 2-8 2-4 2 4 2 7 2 2 2-5 2-10 2-2 2 9 2 9 2 2 2-3 2-7 2-6 2 2 2 3 2 2 2 4 2 1 2-2 2-5 2-1 2 8 2 6 2-3 2-6 2-5 2-4 2-3 2 0 2 1 2 2 2 3 2 1 2 2 2 5 2 0 2-10 2-10 2-5 2 1 2 10 2 11 2 1 2-12 2-32 2-50 2-52 2-31 2 3 2 28 2 39 2 34 2 21 2 9 2 1 2 2 2 4 2 3 2 0 2 3 2 7 2 6 2 5 2 5 2 5 2 5 2-1 2-1 2 7 2 8 2 3 2-3 2-3 2-1 2 0 2 4 2 11 2 16 2 6 2-7 2-10 2-1 2 4 2 1 2-2 2 0 2-2 2-6 2-2 2 1 2 4 2 7 2 5 2 1 2-5 2-5 2-3 2 1 2 0 2-2 2-5 2-5 2-4 2-8 2-7 2 0 2 0 2-3 2-4 2-5 2-2 2 1 2-1 2-5 2-6 2-1 2 3 2 0 2 1 2 6 2 8 2 6 2 0 2-4 2 0 2-2 2 1 2 6 2 1 2-3 2-3 2-2 2-1 2 1 2 3 2 5 2 1 2-10 2-9 2 2 2 9 2 8 2-2 2-7 2-5 2 2 2 10 2 9 2-2 2-9 2-6 2-1 2 0 2 0 2 3 2 7 2 4 2-2 2-3 2 0 2 1 2-3 2-2 2 1 2 2 2 2 2 1 2 1 2 2 2 4 2-3 2-7 2-3 2 1 2 2 2 2 2-4 2-3 2 0 2-4 2-4 2 0 2 2 2 0 2 1 2 4 2 3 3-2 2-5 2 0 2 4 2 1 2 2 2 1 2 0 2-4 2-2 2-1 2 0 2-2 2-7 2-6 2-1 2-2 2 2 2 10 2 11 2 7 2-2 2-8 2 1 2 11 2 5 2-10 2-13 2-1 2 6 2 4 2-1 2-3 2-4 2-2 2 0 2 0 2 0 2 5 2 8 2 5 2-3 2-7 2-1 2 2 2-2 2-6 2-1 2 4 2 6 2 7 2 3 2 0 2-3 2-5 2-3 2-3 2-7 2-11 2-11 2-7 2-3 2 3 2 8 2 6 2 3 2 4 2 2 2 0 2 3 2 6 2 8 2 6 2 2 2-2 2-2 2-2 2-3 2 1 2 4 2 3 2-5 2-10 2-3 2 6 2 5 2-1 2-3 2-4 2-6 2-1 2 7 2 9 2 5 2 1 2 2 2 0 2-5 2-8 2-6 2 0 2 2 2 3 2 2 2 1 2 1 2 1 2 4 2 0 2-7 2-6 2 2 2 5 2-4 2-5 2 4 2 10 2 6 2-1 2-2 2-2 2 2 2 3 2-1 2-8 2-8 2 1 2 5 2 4 2 0 2 2 2 5 2 3 2 1 2 3 2 1 2-4 2-9 2-12 2-9 2-3 2 2 2 7 2 6 2 0 2-1 2 6 2 9 2 4 2-7 2-6 2 2 2 6 2 3 2-8 2-16 2-17 2-11 2-3 2 7 2 11 2 11 2 8 2 0 2-1 2-1 2-6 2-7 2-4 2 2 2 7 2 5 2-4 2-7 2-3 2-2 2 1 2 4 2 3 2 5 2 7 2 1 2 0 2 1 2-2 2 1 2 4 2 2 2-3 2-6 2-2 2 6 2 6 2 2 2-1 2-1 2 0 2 6 2 12 2 10 2 11 2 7 2-4 2-13 2-15 2-8 2-3 2-5 2-6 2-4 2-2 2-6 2-14 2-14 2-4 2 3 2 6 2 11 2 16 2 11 2-1 2-9 2-3 2 2 2-1 2-2 2 2 2 7 2 4 2 1 2 1 2-1 2-2 2-1 2 0 2 1 2 1 2 1 2 1 2 1 2 1 2 1 2 0 2-1 2-1 2 1 2 1 2 0 2 3 2 0 2-4 2-4 2-3 2-2 2 4 2 6 2-1 2-3 2 4 2 2 2-3 2-1 2 4 2 3 2 0 2-3 2-3 2 1 2 3 2 2 2-1 2 1 2 0 2-5 2-7 2-6 2-4 2-1 2 8 2 17 2 18 2 14 2 6 2-3 2-13 2-21 2-26 2-27 2-24 2-12 2-4 2 3 2 6 2 11 2 15 2 19 2 17 2 11 2 3 2 1 2 3 2 3 2-1 2-5 2-2 2 1 2 2 2 2 2-1 2 2 2 7 2 2 2-4 2-3 2-2 2-4 2-2 2 2 2 2 2-2 2-4 2 2 2 7 2 1 2-6 2-7 2-2 2-1 2-3 2-3 2 2 2 4 2 1 2-2 2 1 2 6 2 7 2 6 2 0 2-8 2-8 2-2 2-1 2-3 2-1 2-4 2-8 2-3 2 4 2 8 2 7 2 6 2 5 2 3 2-1 2-4 2 0 2 3 2 6 2 6 2 4 2 0 2-3 2 11 2 34 2 43 2 26 2-1 2-26 2-33 2-29 2-22 2-12 2-4 2 0 2 9 2 15 2 13 2 5 2-3 2-7 2-8 2-7 2-9 2-7 2-2 2 0 2-2 2-1 2-1 2 0 2 4 2 2 2-1 2 1 2 5 2 2 2-2 2 1 2 0 2-4 2-4 2 1 2 2 2-8 2-13 2-5 2 2 2-1 2-5 2-4 2 1 2 3 2 6 2 6 2 7 2 7 2 5 2 2 2 1 2-5 2-9 2-3 2 8 2 9 2 4 2 2 2 3 2 2 2 4 2 6 2-2 2-11 2-10 2-2 2-1 2-6 2-8 2-5 2 2 2 5 2 8 2 7 2 2 2-1 2 0 2-2 2-2"/>
<path stroke="#0072BD" d="M203 432l2-1 2-1 2-5 2 1 2 7 2-3 2 6 2-2 2-3 2-12 2-5 2-11 2-14 2-1 2 11 2 24 2 10 2-1 2 3 2 2 2 0 2-7 2-18 2-6 2 2 2 1 2 4 2-7 2 12 2 6 2 7 2-3 2-6 2 2 2 11 2 2 2-6 2-7 2 9 2 12 2 9 2 2 2-15 2-25 2-16 2-15 2-4 2 12 2 14 2 10 2 10 2 2 2 7 2 9 2-7 2-12 2-1 2 12 2-6 2-11 2-4 2 11 2 4 2 4 2-7 2 3 2 13 2-1 2-6 2-4 2-1 2-1 2 3 2 10 2 1 2-6 2 3 2-1 2-9 2-9 2 2 2-2 2 8 2 11 2 4 2 20 2 18 2 24 2 23 2 4 2-21 2-21 2-16 2 7 2 6 2 2 2-8 2-21 2-9 2 6 2-2 2-3 2-3 2-8 2 0 2 2 2-5 2-2 2 1 2-3 2-6 2 1 2 4 2 1 2 8 2-8 2-15 2-7 2 7 2 0 2-10 2 4 2 12 2 11 2 7 2-9 2-1 2 2 2 6 2-4 2-12 2-9 2-9 2 5 2 3 2 8 2 8 2 1 2-3 2-9 2-6 2 12 2 10 2 2 2 3 2-1 2 13 2-2 2-18 2-5 2 5 2-3 2-8 2-5 2-7 2-19 2-19 2-18 2-6 2 7 2 16 2 19 2 10 2 3 2 3 2 1 2-4 2 3 2 8 2 16 2 4 2-1 2 1 2-3 2-2 2-6 2-3 2 10 2 0 2-6 2 0 2 11 2 1 2-1 2-2 2 4 2 17 2 6 2-3 2 1 2 0 2-19 2 7 2 6 2-4 2-3 2 1 2-3 2 5 2 5 2 1 2-7 2-5 2 4 2 1 2 1 2-1 2 12 2 11 2-7 2-11 2-7 2-5 2 3 2 0 2-8 2-5 2-7 2 2 2 2 2 3 2-2 2-8 2 2 2 2 2-7 2 2 2 3 2 3 2 8 2-3 2-1 2 2 2 2 2 5 2-1 2-5 2-4 2-1 2 3 2-7 2-2 2 10 2-6 2 0 2 5 2-1 2 0 2 7 2-8 2-4 2 6 2 19 2 3 2-13 2-1 2-5 2 3 2 9 2-2 2-12 2 2 2 6 2-4 2 3 2-3 2 3 2-5 2-4 2 6 2-1 2 2 2-5 2 4 2 1 2-1 2-15 2-10 2 17 2 9 2 2 2 5 2-2 2-7 2 2 2-7 2 7 2 5 2 0 2-1 2-3 2 2 2 3 2-5 2-6 2-9 2 3 3 13 2-4 2-3 2 5 2 1 2-4 2 3 2 4 2-4 2-4 2-2 2 6 2 3 2-10 2-7 2 3 2-4 2 1 2 11 2 5 2-12 2-14 2 4 2 16 2 9 2 1 2-6 2-1 2-2 2-5 2-2 2-5 2 8 2 6 2-2 2-9 2 0 2 2 2 7 2-1 2 0 2 7 2-7 2-2 2 6 2-2 2 3 2 1 2-4 2-5 2 5 2 0 2-4 2-1 2-5 2 3 2-3 2-6 2-5 2-6 2-3 2 7 2-8 2-6 2 12 2 10 2 5 2 0 2-2 2 3 2 6 2-4 2 6 2 12 2 0 2-12 2-4 2 3 2 4 2-7 2 7 2 9 2-6 2-16 2-5 2 9 2 3 2-9 2 5 2 17 2-7 2-8 2-2 2-5 2 7 2 0 2 2 2 0 2-4 2 1 2 4 2-7 2-3 2 2 2 14 2 1 2-7 2 6 2 13 2 2 2-2 2-11 2 1 2 12 2-14 2-9 2 6 2 0 2-2 2 10 2-9 2-8 2 1 2-4 2-2 2 7 2-1 2 1 2-1 2-7 2-2 2 9 2 2 2 5 2-7 2-3 2 14 2 7 2-7 2-5 2-12 2-6 2 4 2 8 2 10 2-1 2-3 2 1 2-4 2 5 2-2 2-1 2 3 2 7 2-9 2-3 2-2 2-6 2 0 2 2 2 12 2-10 2-6 2 10 2 4 2-1 2-4 2 2 2 3 2-6 2 0 2 2 2-7 2-3 2 0 2-4 2 11 2 1 2-8 2 19 2 7 2-13 2-2 2 6 2 9 2 3 2-1 2-5 2-6 2-7 2-1 2-1 2 8 2 8 2-4 2 3 2-11 2-1 2 10 2 1 2 12 2 11 2-1 2-11 2-16 2-6 2-7 2 1 2 7 2-2 2-6 2-8 2 3 2-2 2-3 2 3 2-2 2 3 2 10 2-2 2 2 2-8 2 2 2 7 2 6 2 12 2-3 2-17 2 0 2 8 2-3 2-9 2 2 2 10 2 2 2-7 2-1 2 1 2 2 2-3 2-9 2 3 2 7 2-3 2 5 2 11 2-6 2-9 2-2 2 3 2 2 2 4 2-12 2-3 2 11 2-3 2-9 2 11 2 3 2-1 2 18 2 6 2-15 2-16 2 13 2 2 2-3 2 8 2-2 2-10 2-8 2 4 2-2 2 4 2-2 2 0 2 7 2-4 2-5 2 2 2 11 2 5 2 7 2 5 2-8 2-15 2-17 2-9 2-20 2-9 2-6 2 6 2 20 2 10 2 1 2 0 2 12 2-1 2-2 2 10 2 14 2-1 2-8 2 0 2 2 2-5 2-2 2-4 2-2 2 8 2 5 2 6 2-5 2-13 2-9 2 9 2 6 2 6 2 1 2-3 2-1 2-2 2-5 2 5 2 1 2-7 2 9 2-6 2-1 2 5 2 5 2 4 2-1 2-14 2-4 2 16 2 3 2-6 2-5 2-1 2 10 2 6 2-8 2-5 2-3 2-3 2-12 2-9 2 6 2 8 2 12 2-2 2 3 2 4 2 3 2-7 2-2 2-3 2 4 2 4 2-11 2-2 2 12 2 13 2 14 2 25 2 27 2 3 2-22 2-18 2-18 2-17 2-4 2 6 2 2 2 7 2 18 2 2 2-3 2-9 2-4 2-9 2-6 2-1 2-9 2 0 2 6 2 7 2-6 2-7 2 0 2-2 2 9 2 5 2 3 2 5 2 4 2-12 2-19 2 2 2 4 2-4 2 9 2 5 2-4 2-11 2-2 2 3 2-2 2-5 2-8 2-3 2 3 2 5 2 8 2 12 2 6 2 0 2-8 2-14 2 2 2 3 2 5 2-2 2 0 2 3 2 8 2-7 2 5 2 8 2 0 2 1 2-10 2-5 2 7 2 1 2-5 2-4 2-3 2 8 2 2 2-5 2-11 2-4 2 5 2 10 2-2 2 22"/>
<path stroke="#D95319" d="M203 426l2 2 2 2 2-1 2 3 2-2 2-4 2 1 2 2 2 1 2-4 2-13 2-19 2-15 2-4 2 10 2 17 2 12 2 10 2 10 2 3 2-3 2-7 2-8 2-11 2-7 2-3 2 2 2 4 2 11 2 9 2 3 2 2 2 3 2 1 2-2 2 4 2 7 2-2 2-8 2-6 2-1 2-1 2-13 2-26 2-36 2-32 2-7 2 20 2 39 2 33 2 18 2 11 2 7 2-1 2-1 2-3 2-2 2 7 2 3 2-7 2-1 2 1 2 2 2 4 2 3 2 0 2-3 2-2 2-2 2 0 2 2 2 0 2 0 2-1 2-8 2-3 2 3 2 2 2 4 2 5 2 0 2-1 2 2 2 7 2 22 2 39 2 48 2 40 2 18 2-4 2-18 2-27 2-19 2-4 2 4 2-1 2-7 2-14 2-24 2-22 2-9 2-3 2 2 2 0 2-3 2-5 2-7 2-3 2 1 2 2 2-6 2-11 2-3 2 2 2 1 2-2 2 0 2 0 2-1 2-3 2 0 2 7 2 4 2-8 2-9 2-1 2 4 2-1 2 1 2 6 2 1 2 0 2 1 2-1 2 1 2 2 2-5 2-5 2 3 2 1 2-2 2 0 2 0 2 1 2 2 2 1 2 1 2 0 2-4 2-6 2-4 2-2 2-4 2-10 2-21 2-43 2-57 2-34 2 6 2 31 2 32 2 29 2 19 2 8 2 4 2 11 2 14 2 3 2-1 2 6 2 9 2 5 2 7 2 6 2-2 2 1 2 1 2 1 2 1 2-5 2-4 2 2 2 0 2 7 2 16 2 12 2 9 2 10 2 8 2-2 2-10 2-10 2-7 2-4 2 1 2 4 2 6 2 1 2-3 2 4 2 3 2 0 2 2 2 1 2 1 2-3 2-3 2 1 2-2 2-7 2-5 2-3 2-1 2-8 2-8 2-3 2-5 2-5 2-1 2-1 2-2 2-2 2-6 2-4 2-5 2-5 2 1 2 4 2 10 2 13 2 7 2-3 2-4 2 2 2 3 2 3 2-3 2 0 2-1 2-5 2-1 2 3 2 2 2 1 2-2 2-1 2-1 2-2 2-3 2 1 2 0 2 0 2 2 2 1 2 2 2 2 2-4 2-6 2 2 2 4 2 5 2 5 2 1 2-8 2-6 2 3 2 3 2-2 2-1 2 4 2 3 2-4 2-4 2-2 2-2 2 3 2 3 2-1 2 1 2 6 2 3 2-2 2-5 2-2 2 2 2 2 2 1 2 1 2-4 2-3 2-2 2 0 2-3 2 1 2 7 2 7 2-3 3-4 2-1 2 0 2 2 2-3 2-5 2 4 2 5 2-2 2-1 2 2 2-2 2-7 2-8 2-7 2-5 2-3 2 3 2 7 2 6 2 7 2 5 2 2 2 2 2 0 2-1 2-4 2-1 2 6 2 3 2 2 2 2 2 0 2 1 2 0 2-3 2-6 2-4 2 1 2 2 2-3 2-1 2 2 2-3 2 0 2 4 2 3 2-1 2-5 2-3 2 7 2 2 2-1 2-2 2-6 2-10 2-9 2-5 2-4 2 0 2-1 2 0 2 4 2 4 2 5 2 6 2 1 2 2 2 9 2 4 2 0 2 5 2 5 2-3 2-6 2-2 2 2 2 2 2 1 2-4 2 0 2 1 2-1 2-2 2 2 2 2 2 0 2 4 2 0 2-3 2 4 2 5 2-1 2-5 2-1 2 1 2 1 2 4 2 1 2-1 2 0 2-3 2-2 2 5 2 1 2-7 2-8 2-2 2 5 2 5 2-1 2-5 2-2 2 2 2 0 2-3 2-1 2-2 2 1 2 6 2 5 2 2 2-3 2-5 2 3 2 5 2 2 2-4 2-4 2 3 2 5 2-4 2-6 2-3 2-2 2-1 2 0 2 4 2 3 2 3 2-2 2-6 2 1 2 5 2 4 2 4 2 1 2 0 2-1 2-3 2 0 2-4 2-6 2-1 2-2 2-9 2-11 2-6 2-1 2 6 2 9 2 12 2 9 2 4 2-4 2-5 2 1 2 2 2 1 2-2 2-3 2-3 2-7 2-4 2-2 2 0 2 2 2 0 2-5 2 3 2 9 2 4 2-2 2 3 2 6 2 3 2-2 2-2 2 3 2 1 2-2 2-3 2-2 2 2 2 2 2 2 2 5 2 7 2 12 2 16 2 18 2 11 2-9 2-24 2-18 2-7 2-4 2-4 2-2 2-3 2-3 2-3 2-9 2-13 2-13 2-14 2 1 2 12 2 13 2 12 2 10 2 3 2 1 2 0 2-1 2-3 2-1 2 4 2 6 2 5 2 2 2-2 2-4 2-1 2 4 2 1 2 2 2-3 2-4 2-2 2-2 2 1 2 3 2 0 2 0 2 2 2 2 2 0 2-1 2 0 2-1 2-5 2-8 2 0 2 7 2 2 2 0 2 2 2 1 2 0 2-1 2-2 2-2 2 3 2-1 2-3 2 5 2 5 2-4 2-3 2 2 2 1 2-4 2 2 2 2 2 4 2 1 2-1 2 2 2 5 2 13 2 20 2 14 2-2 2-17 2-25 2-30 2-33 2-31 2-21 2-6 2 2 2 12 2 25 2 27 2 14 2 9 2 7 2 7 2 0 2-4 2 7 2 5 2-4 2-5 2 0 2 3 2 0 2-1 2 4 2 2 2 1 2-3 2-3 2 1 2 5 2 5 2 2 2-2 2-2 2-2 2-2 2-3 2-3 2-3 2 0 2 2 2-1 2 2 2 3 2-1 2 1 2-2 2-3 2 1 2 1 2 3 2-1 2-3 2-1 2-4 2-2 2 0 2 0 2-4 2-11 2-11 2 0 2 11 2 10 2 5 2 4 2 5 2 4 2 0 2 1 2-2 2-8 2-7 2 2 2 6 2 4 2 13 2 22 2 31 2 41 2 35 2 5 2-27 2-42 2-37 2-23 2-14 2-8 2 2 2 9 2 15 2 21 2 17 2 5 2-8 2-16 2-15 2-10 2-8 2-4 2 2 2 0 2-2 2 0 2 3 2-2 2-8 2-1 2 5 2 2 2-2 2 1 2 3 2 3 2-6 2-7 2-2 2 1 2 0 2-1 2-1 2-3 2-4 2-8 2-6 2 1 2 1 2 7 2 11 2 4 2 0 2 1 2 2 2 2 2 7 2 5 2 0 2-3 2-3 2 0 2 5 2 2 2 4 2 5 2-1 2-6 2-1 2-5 2-4 2 3 2 3 2-4 2-7 2-1 2 7 2 7 2-1 2-5 2-4 2-3 2-1 2 3"/>
<path stroke="#EDB120" d="M203 432l2 3 2-3 2-1 2 3 2 3 2 2 2 1 2-4 2-7 2-3 2-6 2-21 2-24 2-8 2 14 2 24 2 15 2 8 2-6 2-1 2 6 2-4 2-7 2-10 2-3 2 0 2-1 2 7 2 7 2 10 2 11 2 0 2-8 2-1 2 1 2-5 2 0 2 0 2 1 2 3 2 5 2 0 2-11 2-28 2-36 2-35 2-9 2 22 2 35 2 34 2 19 2 4 2 4 2-4 2-3 2 4 2 8 2 6 2 3 2 1 2-2 2-5 2-6 2-1 2 4 2-2 2-3 2-10 2-2 2 2 2 9 2 10 2 3 2-3 2 0 2-7 2-1 2 2 2-4 2 1 2 1 2 3 2 9 2 12 2 22 2 30 2 40 2 33 2 23 2 6 2-20 2-30 2-23 2-5 2 0 2-6 2-5 2-14 2-18 2-14 2-8 2-7 2 5 2 0 2-12 2-6 2 2 2 5 2-1 2-10 2-3 2-3 2-2 2-2 2 2 2 0 2 1 2 2 2-1 2-2 2 4 2-2 2 1 2-2 2-3 2 3 2-3 2-1 2-3 2-3 2 2 2 5 2 1 2 2 2-1 2-2 2-8 2-7 2 8 2 10 2 1 2 1 2 5 2-2 2-4 2-2 2-4 2 6 2-4 2-9 2 0 2 4 2 3 2-12 2-28 2-48 2-53 2-34 2-2 2 33 2 39 2 32 2 19 2 8 2-1 2 0 2 10 2 10 2 10 2 1 2 6 2 4 2 0 2 3 2 2 2 2 2 4 2 5 2 0 2 0 2 1 2-4 2 2 2 9 2 5 2 9 2 12 2 8 2 5 2 2 2-12 2-9 2 1 2 2 2 10 2 4 2-6 2-3 2-7 2-3 2 8 2 4 2-4 2 0 2 5 2 5 2-2 2 1 2 3 2-8 2-11 2-2 2-3 2-14 2-7 2 0 2-2 2-1 2 0 2-7 2-9 2-3 2-1 2-8 2-7 2 8 2 5 2 6 2 7 2 2 2-1 2-6 2-3 2 2 2 7 2 5 2-1 2-7 2 5 2 11 2 1 2-2 2-8 2-7 2-1 2 6 2 3 2 4 2 4 2-2 2-5 2-4 2 0 2 1 2 3 2 4 2-3 2-6 2-4 2 4 2-1 2 2 2 1 2-2 2 2 2 10 2 0 2-12 2-5 2 1 2 3 2 3 2 12 2 8 2-5 2-14 2-3 2 2 2 4 2 2 2-2 2 2 2-2 2-6 2-6 2 0 2 5 2 6 2 4 2-7 2-3 2 1 2 3 2 0 2-2 2 3 2 3 3-3 2 1 2 4 2 0 2-4 2 1 2-6 2 0 2 3 2 2 2 1 2 0 2-6 2-9 2-8 2 1 2 1 2 1 2-1 2 6 2 5 2 2 2 7 2 2 2-5 2-2 2-6 2-4 2 4 2 3 2 4 2 2 2-5 2-4 2 1 2 1 2 5 2 5 2 0 2-3 2 2 2 1 2-3 2-2 2-2 2 1 2-6 2-2 2 0 2 0 2-1 2 5 2 7 2-2 2-13 2-9 2-3 2-3 2-6 2-2 2 0 2-4 2 5 2 6 2 1 2 3 2 12 2 8 2 5 2 7 2 1 2-6 2-1 2-4 2-5 2 5 2 5 2 2 2 1 2 5 2 3 2-4 2-5 2 0 2 1 2 2 2-1 2-7 2-5 2-1 2 3 2 10 2 8 2-8 2-4 2 8 2 3 2-6 2-2 2-2 2-5 2 2 2 5 2 2 2-3 2-5 2-1 2 2 2 6 2-4 2-2 2 0 2 1 2 4 2 0 2-4 2-2 2 1 2 5 2 5 2-3 2-4 2 1 2 3 2-6 2-6 2 1 2 2 2 2 2 6 2 4 2-3 2-3 2-1 2-4 2 2 2 5 2-7 2-4 2 5 2-1 2 0 2 5 2-3 2-3 2 3 2-2 2-2 2 1 2 3 2-4 2-2 2 6 2-8 2-13 2-8 2-8 2-3 2 11 2 14 2 9 2 2 2 2 2 1 2-5 2 0 2 5 2 5 2 3 2-8 2-13 2-7 2 0 2-5 2-3 2 0 2 0 2 2 2 5 2 7 2 10 2 0 2-5 2-2 2 4 2 8 2 3 2-1 2-4 2 3 2 4 2 5 2-1 2-7 2-7 2 3 2 7 2 0 2 4 2 22 2 24 2 16 2-3 2-18 2-24 2-21 2-4 2 0 2 2 2-1 2-6 2-10 2-6 2-7 2-12 2-8 2 3 2 7 2 18 2 11 2-2 2-7 2 0 2 7 2 8 2 5 2 6 2-7 2-13 2 2 2 5 2 2 2 0 2 3 2 1 2-9 2 3 2 6 2 3 2 0 2-4 2 0 2 4 2 0 2-4 2-10 2 0 2 8 2 1 2 0 2 1 2-6 2 2 2 8 2 0 2-1 2 2 2 3 2 0 2-3 2-8 2 3 2 9 2-2 2-7 2-4 2-3 2-1 2-2 2 1 2 4 2-1 2-6 2 4 2 5 2 0 2-1 2 3 2 12 2 16 2 11 2 14 2 2 2-6 2-12 2-21 2-27 2-28 2-29 2-29 2-13 2 6 2 12 2 20 2 27 2 22 2 8 2 2 2 0 2 7 2 3 2-4 2 4 2 5 2 0 2-2 2-1 2 3 2 2 2 2 2 0 2-3 2-2 2 0 2 2 2 4 2-3 2-6 2-4 2 5 2 6 2 1 2 1 2-2 2 0 2-9 2-2 2 1 2 2 2 3 2-3 2-4 2 4 2 2 2-5 2 0 2 1 2-4 2 1 2 7 2 4 2-3 2 0 2-3 2-4 2-11 2-11 2 1 2-4 2 3 2 15 2 13 2 6 2-2 2-6 2 0 2 0 2-3 2 4 2 6 2 1 2-1 2 10 2 17 2 31 2 38 2 30 2 6 2-19 2-36 2-39 2-35 2-9 2 4 2 5 2 12 2 13 2 18 2 11 2-2 2-12 2-16 2-14 2-13 2-2 2 2 2 2 2-5 2-3 2 4 2 1 2-3 2-7 2-1 2 6 2 1 2 2 2 3 2-4 2-1 2 2 2 2 2-1 2 1 2-9 2-6 2 2 2-4 2-13 2-5 2-5 2-3 2 14 2 12 2 5 2 6 2 2 2-2 2 8 2 0 2-5 2 1 2 5 2 2 2 0 2 2 2 3 2 6 2 1 2-3 2-1 2-3 2-4 2-1 2 0 2-1 2-5 2-11 2 1 2 10 2-3 2 4 2 4 2-1 2 0 2 1 2-5 2-12"/>
<path stroke="#7E2F8E" d="M203 454l2 10 2 3 2-10 2-17 2-16 2-4 2 0 2 4 2 7 2 9 2 1 2-12 2-16 2-9 2 2 2 8 2 6 2 3 2 2 2-3 2-6 2-2 2-5 2-11 2-5 2 7 2 11 2 8 2 4 2 1 2 2 2 2 2 1 2-1 2-1 2 1 2 0 2 4 2 7 2 0 2-11 2-14 2-7 2-9 2-22 2-25 2-8 2 16 2 31 2 28 2 15 2 7 2 9 2 9 2-3 2-11 2-11 2-7 2 2 2 3 2-3 2 2 2 9 2 4 2-4 2-7 2-6 2-2 2 0 2 5 2 10 2 6 2-1 2-2 2 0 2-1 2-3 2-6 2-5 2-2 2 5 2 6 2 5 2 6 2 10 2 18 2 26 2 29 2 18 2 1 2-18 2-20 2-11 2-5 2 0 2 1 2-6 2-7 2-7 2-6 2-4 2-4 2-3 2-3 2-6 2-2 2 4 2 1 2-6 2-12 2-13 2-2 2 11 2 10 2 1 2-4 2-6 2-6 2 0 2 10 2 11 2 7 2-1 2-3 2-4 2-5 2-2 2-2 2-1 2 2 2 6 2-1 2-7 2-3 2 0 2 3 2 6 2 5 2-1 2-5 2-2 2 6 2 1 2-6 2-5 2-1 2 1 2-1 2-6 2-8 2-4 2 3 2 3 2-5 2-21 2-34 2-36 2-24 2 2 2 28 2 36 2 20 2 3 2 5 2 7 2 5 2 6 2 2 2-3 2-3 2-2 2 2 2 10 2 10 2 2 2 1 2 0 2 1 2 6 2 8 2 2 2-5 2-3 2 2 2 5 2 6 2 8 2 11 2 3 2-5 2-5 2 0 2 0 2-4 2-6 2 1 2 6 2 6 2 4 2 1 2 0 2-4 2-3 2 2 2 0 2-8 2-5 2 1 2 1 2 1 2-3 2-8 2-6 2-4 2-2 2 1 2 2 2 0 2 4 2-1 2-7 2-5 2-8 2-9 2-1 2 6 2 11 2 9 2 2 2-2 2 1 2 1 2 0 2-1 2-8 2-9 2-4 2 4 2 9 2 8 2 3 2 2 2-2 2-6 2-5 2-1 2 9 2 14 2 2 2-7 2-6 2-3 2-3 2-1 2 3 2 6 2 5 2-1 2-4 2-2 2-3 2 1 2 4 2-2 2-14 2-13 2-3 2 7 2 11 2 10 2 2 2-3 2-3 2-5 2-3 2 4 2 4 2-1 2-4 2-2 2 5 2 6 2-3 2-15 2-13 2-2 2 6 2 13 2 11 2 2 2-5 2 1 2 7 2 5 2-3 2-5 2 0 3 3 2 0 2-4 2-1 2 3 2 1 2-2 2-1 2-1 2-1 2 0 2-2 2-4 2-3 2-2 2 2 2-2 2-9 2-8 2 7 2 18 2 7 2-8 2-9 2-4 2-1 2 9 2 14 2 7 2-4 2-5 2 6 2 7 2-3 2-7 2-1 2 4 2 4 2 2 2 0 2-8 2-9 2 4 2 3 2-8 2-11 2-2 2 8 2 9 2 2 2-4 2-4 2-4 2-7 2-4 2-2 2 0 2 0 2-4 2-4 2 1 2 5 2 4 2 3 2 4 2-3 2-6 2 5 2 8 2 3 2 7 2 12 2 2 2-10 2-9 2 1 2 5 2 4 2 1 2 2 2 9 2 6 2-7 2-14 2-6 2 5 2 7 2 1 2-5 2-5 2 0 2 4 2 1 2-1 2 1 2-3 2-5 2-1 2 3 2 3 2-2 2 1 2 6 2 4 2-3 2-8 2 1 2 4 2-4 2-10 2-5 2 1 2 4 2 4 2 2 2 2 2 5 2 3 2-4 2-5 2-2 2 1 2 3 2 5 2 1 2 2 2 2 2-10 2-12 2-6 2-1 2 1 2 2 2 5 2 11 2 8 2-4 2-5 2 5 2 5 2-5 2-7 2 3 2 7 2-1 2-4 2-3 2 0 2 1 2-2 2-5 2 0 2 7 2-1 2-15 2-12 2-3 2-1 2 3 2 11 2 10 2-1 2-2 2 7 2 7 2-1 2-3 2 1 2 8 2 0 2-13 2-13 2-1 2 6 2 3 2-6 2-4 2 3 2 3 2 1 2 0 2 0 2 4 2 4 2-4 2-3 2-1 2-1 2 0 2-2 2 1 2 2 2-3 2 0 2 5 2 5 2 9 2 14 2 8 2 6 2 8 2 6 2 0 2-11 2-16 2-16 2-8 2-2 2-4 2-3 2-2 2-4 2-1 2 5 2 2 2-5 2-9 2-4 2 3 2 9 2 9 2 8 2 5 2-2 2-1 2 1 2-1 2-1 2 3 2-1 2-2 2-1 2 6 2 11 2 5 2-8 2-12 2-8 2-3 2 2 2 0 2-4 2-4 2-4 2 3 2 7 2 2 2-6 2-3 2 7 2 14 2 10 2-1 2-9 2-8 2-4 2 1 2 0 2-1 2 0 2 1 2 1 2 2 2 2 2-1 2-5 2-2 2 5 2 9 2 2 2 0 2 4 2 4 2-2 2-6 2-2 2 5 2 6 2 3 2 4 2 5 2 5 2 4 2-2 2-13 2-19 2-18 2-16 2-13 2-9 2-3 2 5 2 10 2 11 2 7 2 5 2 5 2 7 2 2 2-2 2 3 2 8 2 5 2-2 2-3 2 3 2 4 2-2 2-6 2-2 2 5 2 0 2-12 2-11 2 1 2 9 2 8 2 5 2-4 2-13 2-9 2 5 2 9 2 2 2-2 2 4 2 9 2 6 2 0 2 2 2 8 2 2 2-10 2-11 2-3 2 3 2 0 2-1 2 3 2 6 2 1 2 0 2-2 2-9 2-6 2-3 2-9 2-10 2 1 2 12 2 7 2-2 2-7 2-1 2 4 2 2 2 1 2 7 2 12 2 4 2-4 2-6 2-3 2 5 2 19 2 33 2 34 2 14 2-13 2-27 2-27 2-20 2-13 2-1 2 5 2 9 2 6 2 3 2 3 2 1 2-5 2-7 2-7 2-5 2-3 2-2 2-2 2 0 2 0 2-2 2 0 2 2 2 2 2 2 2 1 2 0 2 0 2 1 2-1 2-9 2-12 2-2 2 11 2 8 2-2 2-3 2-2 2-6 2-11 2-10 2 0 2 4 2 1 2-4 2-1 2 8 2 10 2 5 2 1 2 4 2 7 2 0 2-9 2-6 2 1 2 10 2 10 2 1 2-1 2 2 2 3 2 3 2 0 2-5 2-9 2-9 2-3 2 0 2-1 2 2 2 6 2 1 2 2 2 5 2 2 2-3 2-4 2-7"/>
<path stroke="#77AC30" d="M203 436l2 1 2-6 2-4 2 1 2 6 2 6 2-4 2 3 2 7 2-14 2-22 2-16 2-8 2-3 2 7 2 21 2 19 2 2 2-6 2-2 2-1 2-3 2-8 2-13 2-7 2 3 2 8 2 12 2 10 2 0 2 4 2 7 2 2 2 0 2-2 2 4 2 7 2 1 2 1 2-3 2-4 2-2 2-10 2-30 2-46 2-34 2-6 2 18 2 38 2 40 2 24 2 7 2 3 2 6 2-2 2-4 2 0 2-2 2-6 2-6 2-1 2 3 2 2 2 1 2-5 2 3 2 9 2 3 2-8 2-8 2-8 2 5 2 12 2 2 2-2 2-2 2 0 2 0 2-7 2-5 2 1 2 5 2 9 2 15 2 24 2 33 2 42 2 41 2 25 2-7 2-24 2-22 2-19 2-10 2-1 2-3 2-9 2-17 2-25 2-21 2-6 2 0 2 2 2 4 2 5 2-2 2-12 2-6 2-1 2 2 2-3 2-8 2-5 2 2 2 8 2 1 2-3 2 0 2-5 2-2 2 6 2 3 2-2 2-1 2-1 2 1 2-2 2-3 2-2 2-1 2 0 2 1 2 2 2 2 2 5 2 1 2-7 2 2 2 3 2 1 2 2 2-1 2-1 2 6 2 1 2-3 2 4 2 4 2-6 2-7 2-1 2 1 2-7 2-14 2-30 2-41 2-42 2-32 2 0 2 26 2 31 2 28 2 17 2 10 2 5 2-1 2 7 2 11 2 5 2 4 2 6 2 2 2-1 2-3 2 4 2 8 2 1 2 2 2 2 2 0 2 3 2 2 2 7 2 10 2 1 2 4 2 13 2 14 2 3 2-9 2-10 2-7 2-1 2 5 2 3 2-2 2-3 2-3 2 0 2 4 2 7 2 5 2 3 2 4 2 3 2-4 2-8 2-2 2 4 2-7 2-20 2-13 2 0 2-3 2-5 2 1 2 2 2-1 2 0 2-4 2-6 2-2 2-2 2-7 2-7 2 0 2 3 2 5 2 6 2 5 2 4 2 4 2 2 2-3 2 2 2 4 2 3 2 0 2-2 2-1 2 1 2 3 2-1 2-10 2-3 2 8 2 3 2-5 2 5 2 5 2-5 2-4 2-9 2-6 2 6 2 10 2 7 2 0 2-4 2 0 2 0 2-4 2-1 2 2 2 1 2 3 2 0 2-1 2 0 2-4 2-7 2-1 2 6 2-2 2-2 2-2 2-5 2 3 2 10 2 0 2-3 2 5 2 5 2 1 2-1 2-7 2-10 2-2 2 6 2 2 2 0 2-2 2 0 2 1 2-3 2-4 2 7 3 8 2-2 2-5 2 2 2 4 2 2 2-3 2-4 2-1 2-3 2-6 2-6 2-3 2 4 2-1 2-12 2-7 2 8 2 9 2 4 2 5 2 1 2-1 2 6 2 1 2-2 2 1 2 3 2 1 2 2 2-3 2-5 2 5 2 8 2 0 2-1 2-5 2-10 2-2 2 6 2 7 2 4 2-3 2-5 2 4 2 8 2-1 2-5 2-2 2 2 2 4 2 3 2-5 2-11 2-8 2-3 2 0 2 0 2-7 2-7 2-3 2-2 2 1 2 6 2 5 2 1 2 2 2 7 2 7 2-1 2-2 2 1 2 4 2 4 2-6 2-10 2 7 2 21 2 3 2-13 2-2 2 0 2-3 2 1 2 4 2-2 2 3 2 8 2-4 2-9 2-2 2 4 2 1 2 2 2 1 2-3 2 0 2 5 2 6 2-1 2-7 2-7 2-7 2-1 2 3 2 3 2 1 2 0 2-4 2-9 2-5 2 7 2 14 2 7 2-4 2-7 2-2 2-2 2 1 2 5 2 0 2 1 2 1 2 0 2 3 2 2 2 2 2-2 2-7 2-3 2 1 2 6 2 4 2-2 2 1 2 7 2 3 2 1 2-3 2-9 2-9 2-9 2-1 2 6 2 3 2-1 2 0 2 4 2 10 2 6 2-4 2-5 2-5 2-7 2-8 2-9 2-9 2-6 2 2 2 13 2 16 2 2 2-3 2 0 2 1 2 3 2-1 2-9 2-3 2 5 2 11 2 2 2-13 2-16 2-7 2 0 2 5 2 7 2 7 2 3 2 1 2 0 2 5 2 7 2-1 2-2 2 5 2 3 2 0 2-3 2-1 2 3 2-1 2-1 2-2 2-5 2 0 2 9 2 24 2 24 2 12 2 2 2-6 2-13 2-17 2-17 2-13 2-4 2 4 2 0 2-9 2-15 2-8 2-2 2-5 2-5 2 5 2 18 2 15 2 0 2 3 2 4 2 1 2 3 2 5 2 0 2-5 2-4 2 7 2 8 2-4 2-9 2 3 2 9 2 0 2-4 2-2 2-7 2-7 2-1 2 3 2-5 2-7 2 3 2 3 2-3 2 0 2 4 2-2 2-1 2 7 2 4 2-4 2-3 2 2 2 4 2 4 2 1 2 3 2 1 2-10 2-6 2 8 2 3 2-9 2-2 2 7 2 8 2 0 2-9 2-4 2 2 2-2 2 0 2 6 2 7 2 6 2 9 2 12 2 7 2 1 2 7 2 10 2-6 2-21 2-26 2-32 2-29 2-21 2-17 2-6 2 2 2 13 2 19 2 25 2 17 2 8 2 8 2 3 2-3 2 1 2 4 2-2 2-1 2 2 2-1 2-1 2-2 2-3 2-2 2 1 2-1 2 5 2 6 2-1 2-7 2-5 2 1 2 10 2 10 2 6 2 0 2-5 2-6 2-1 2 0 2 2 2-3 2-7 2 0 2 2 2 2 2 5 2 3 2-1 2-6 2-1 2 3 2-1 2-3 2 4 2 7 2-3 2-17 2-17 2-10 2-4 2 5 2 13 2 11 2 6 2 3 2 2 2 1 2-1 2-3 2-6 2-6 2 4 2 10 2 0 2-6 2 10 2 31 2 42 2 45 2 30 2 0 2-31 2-43 2-31 2-21 2-11 2 1 2 10 2 15 2 11 2 0 2-6 2-8 2-8 2-2 2 1 2-3 2-9 2-4 2 3 2 2 2-3 2-7 2-1 2-1 2-5 2-1 2 2 2-3 2 3 2 5 2 4 2 5 2-2 2-4 2 0 2-1 2-5 2-2 2-1 2-5 2-10 2-11 2-10 2 5 2 15 2 12 2 5 2-2 2 1 2 3 2 0 2-2 2-3 2-2 2 1 2-2 2 4 2 15 2 11 2 5 2 0 2-1 2 2 2 4 2-6 2-10 2-6 2-2 2-7 2-7 2 1 2 7 2 10 2 4 2-6 2-11 2-3 2 0 2-4 2-6"/>
<path stroke="#4DBEEE" d="M203 445l2-3 1-9 2-10 1-6 2 2 1 10 2 14 1 9 2-2 1-8 2-4 1 0 2-2 1-9 2-18 1-28 2-32 1-24 1 0 2 35 2 46 1 37 2 20 1 3 2-10 1-21 2-22 1-11 2 2 1 4 2 0 1-1 2-5 1-4 2-6 1 0 2 2 1 3 2 7 1 10 2 13 1 12 2 7 1 5 2 6 1 5 2 1 1 1 1-6 1 0 1 6 2 10 1 13 2 5 1-4 0-5 2-19 1-22 2-25 1-26 2-26 1-27 2-21 1-6 2 16 1 27 2 27 1 20 2 10 1 3 2 1 1 1 2-2 1-3 2-1 1 1 2-1 1-1 2-7 1-13 2-9 1 2 2 13 1 11 2 2 1-4 2-3 1 1 2 2 1 0 2-2 1 3 2 9 1 8 2 2 1 2 2 6 1 4 2-2 1-4 2-6 1-8 2-5 1 1 2 7 1 12 2 12 1 5 2-5 1-14 2-15 1-6 0-2 2 2 1 11 2 15 1 20 2 31 1 45 2 51 1 43 2 19 1-14 2-44 1-53 2-37 1-6 2 17 1 27 2 25 1 9 2-11 1-31 2-38 1-30 2-14 1 1 2 8 1 6 2-3 1-14 1-14 2-12 2 1 1 6 2 10 1 14 2 16 1 8 1 0 1 3 1-16 2-32 1-22 2-8 1 5 2 8 1 8 2 8 1 7 2 2 1 2 2 1 1-4 2-10 1-11 2-6 1 4 2 14 1 13 2 5 1-1 2-4 1-9 2-14 1-11 2 0 1 11 2 14 1 9 2-1 1-9 2-12 1-7 2-2 1 7 2 11 1 10 2 7 1 9 2 11 1 8 2-3 1-11 2-12 1-7 2-2 1-1 2-2 1-3 2 1 1 4 2 0 1-4 2-6 1-6 2-8 1-7 2 1 1 8 2 3 1-5 2-50 1-54 2-43 1-12 2 18 1 30 2 29 1 22 2 18 0 8 1 12 2 18 1 10 2 1 1 0 2 2 1 2 2 1 1 2 1 1 2-15 2-19 1-10 2 4 1 21 2 25 1 22 2 11 1-3 2-14 1-18 2-15 1-3 2 9 1 16 2 18 1 13 2 2 1-6 2-11 1-8 2 4 1 19 2 32 1 25 2 4 1-9 2-10 1-6 2-10 1-17 2-17 1-9 2 5 1 12 2 11 1 8 2 8 1 6 2-3 1-10 2-12 1-10 2-2 1 8 2 13 1 8 2 1 1 1 2 4 1 1 2-2 1-8 2-14 1-23 2-25 1-17 2-6 1 6 2 12 1 12 2 7 1-2 2-13 1-17 2-5 1 13 2 21 1 15 2 0 1-13 2-23 1-22 2-10 1 5 2 10 1 9 2 8 1 8 2 8 1 3 2-4 1-10 2-9 1 0 2 8 1 9 2 2 1-4 2-5 1-2 2-3 1-9 2-6 1 5 2 14 1 11 2 3 1-5 2-8 1-11 2-9 1-1 2 9 1 12 2 3 1-8 2-8 1 3 2 17 1 22 2 15 1 1 2-13 1-22 2-18 1-7 2 3 1 10 2 14 1 17 2 17 1 11 2-2 1-15 2-15 1-4 2 6 1 4 2-6 1-11 2-5 1 4 1 5 1 3 1 0 2-8 1-13 2-9 1-4 2 0 1 5 2 10 1 11 2 6 1 1 2 0 1-2 2-6 1-10 2-10 1 1 1 9 2 12 2 5 1 7 2 8 1 2 2-3 1 1 2 3 1-4 2-7 1-3 2 5 1 7 2 1 1-7 2-13 1-16 2-10 1 5 2 14 1 9 2-2 1-6 2-1 1 4 2 6 1 9 2 12 1 5 2-5 1-10 2-9 1-1 2-2 1-4 2-7 1-9 2-11 1-11 2-4 1 4 2 3 1 0 2 4 1 11 2 14 1 12 2 9 1 4 2-2 1-8 2-8 1-6 2 1 1 5 1 7 2 18 2 10 1-3 2-13 1-11 2-9 1-15 2-19 1-8 2 10 1 17 2 10 1 1 2-3 1-4 2-2 1-4 2-4 1 5 2 17 1 16 2 4 1-15 2-26 1-21 2-8 1 10 2 18 1 17 2 13 1 6 2-1 1-12 2-17 1-17 2-12 1-5 2 2 1-2 2-12 1-13 1-4 2 10 2 11 1 6 2 0 1-3 2-3 1-4 2-1 1 7 2 17 1 19 2 14 1 12 2 10 1 2 2-8 1-13 2-11 1-3 2 6 1 10 2 4 1 0 2 3 1 8 2 11 1 6 2 3 1-1 2-9 1-16 2-21 1-18 2-12 1-7 1-2 2 1 2 7 1 14 2 17 1 13 2 11 1 12 2 10 1-1 2-14 1-16 2-11 1-6 2-3 1 3 2 9 1 12 2 10 1 5 2-4 1-14 2-16 1-10 2-2 1 7 2 8 1 6 2 7 1 5 2-1 1-10 2-12 1-7 2-1 1 3 2 3 1 4 2 8 1 11 2 9 1 4 2 3 1 3 2-2 1-4 2 2 1 14 2 17 1 4 2-11 1-12 2-7 1-4 2 2 1 10 2 12 1 5 2-7 1-20 2-26 0-16 1-10 2-2 1 19 2 32 1 33 1 18 1 12 1-6 2-25 1-25 2-18 1-12 2-7 1-2 2 5 1 9 2 9 1 3 2-10 1-15 2-14 0-4 1 0 2 11 1 21 1 21 2 4 1-9 2-7 1 2 2 2 1-8 2-18 1-26 2-33 1-26 2-2 1 28 2 35 1 24 2 13 1 9 2 4 1-2 2-6 1-3 2 6 1 10 2 5 1-6 2-13 1-11 2-2 1 5 2 5 1-5 2-19 1-22 2-12 1 2 2 10 1 11 2 10 1 7 2 4 1 0 2-5 1-11 2-11 1-3 1-2 1-3 1 18 2 26 1 17 2-1 1-10 2-4 1 7 2 8 1 1 2-10 1-14 2-12 1-1 2 11 1 17 2 17 1 11 2 4 1 0 2 0 1 3 2 7 1 8 2 5 1 2 2 1 1 4 2 7 1 3 2-15 1-29 2-34 1-31 2-19 1-5 2 10 1 16 2 9 1-6 2-17 1-25 2-21 1-4 2 16 1 28 2 30 1 23 2 11 1-1 2-8 1-13 2-13 1-9 2-1 1 9 2 14 1 16 2 12 1 0 2-16 1-20 2-16 1-6 2 6 1 11 2 9 1 9 2 11 1 8 2-2 1-10 2-12 1-6 2 5 1 9 2 1 1-11 2-9 1 0 2 9 1 11 2 11 1 8 2 1 1-3 2 4 1 13 2 10 1-6 2-21 1-24 2-19 1-12 2 4 1 17 2 19 1 8 2 6 1-6 2-14 1-16 1-6 1-4 1-5 2 1 1 9 2 17 1 12 1-3 2-19 2-14 1-3 2 7 1 12 2 7 1-4 2-6 1 0 2 7 1 4 2-4 1-9 2-5 1 2 2 9 1 10 2 23 1 16 2 9 1 6 2 2 1-1 2-8 1-6 2-1 1 6 2 2 1-14 2-36 1-46 2-38 1-16 2-23 1-13 2-4 1 9 1 11 1 10 1 29 2 29 1 15 2-2 1-11 1-9 2-4 2 12 1 21 2 23 1 18 2 12 1 3 2-3 1-6 2-6 1-3 2 3 1 3 2-3 1-9 2-10 1-8 2-3 1 6 2 15 1 19 2 13 1 1 2-9 1-16 2-18 1-6 2 8 1 12 2 10 1 7 2 2 1-10 2-19 1-18 2-5 1 8 2 16 1 17 2 14 1 2 2-13 1-22 2-21 1-12 2-2 1 8 2 15 1 22 2 23 1 14 2 3 1-2 2-5 1-11 2-20 1-20 2-12 1-3 2 4 1 7 2 5 1-1 2-11 1-19 2-19 1-1 0 1 2 9 1 18 2 18 1 14 2 14 1 16 2 13 1 8 2-14 1-20 2-20 1-11 2 0 1 8 2 11 1 12 2 9 1-1 2-17 1-24 2-11 0 3 1 16 2 43 1 51 2 36 1 11 2-18 1-24 2-21 1-14 2-11 1-14 2-15 1-13 2-12 1-13 2-3 1 14 2 27 1 30 2 26 1 14 2-1 1-18 2-26 1-25 2-18 1-8 2 0 1 3 2 4 1 2 2-5 1-8 2-7 1-3 2-2 1 0 2 3 1 10 2 17 1 19 2 7 1-11 2-25 1-24 2-12 1 3 2 11 1 11 2 11 1 5 0-6 2-11 1-10 2-6 1-3 2 0 1 7 2 8 1 5 2 0 1-2 2-8 1-7 2-6 1-1 2 5 1 13 2 13 1 7 1 4 2 4 2 7 1 6 2 6 1 6 2-5 1-17 2-18 1-11 2-4 1 0 2 9 1 15 2 10 1 2 2-6 1-4 2 2 1 7 2 9 1 5 2-6 1-16 2-13 1-5 2-3 1-5 2-5 1-4 2 1 1 13 2 18 1 9 2-2 1-3 1-1 1 2 1 1 2-4 1-9 2-6 1 0 1 6"/>
<path stroke="#A2142F" d="M203 437l2 4 2-3 2-8 2 6 2 6 2 6 2-6 2-11 2-4 2 4 2-2 2-24 2-32 2-10 2 20 2 23 2 8 2 0 2-8 2 2 2 15 2 14 2-9 2-24 2-16 2 2 2 11 2 18 2 16 2-4 2-9 2-4 2 8 2 3 2-6 2 3 2 13 2 4 2-3 2-8 2-1 2-1 2-18 2-43 2-50 2-24 2 2 2 28 2 37 2 24 2 10 2 21 2 17 2 3 2-1 2-2 2-10 2-13 2 4 2 13 2 8 2 4 2-4 2-13 2-8 2 12 2 22 2 15 2-5 2-13 2-16 2-3 2 4 2 10 2 6 2-5 2 2 2-5 2-2 2 5 2 3 2-7 2 5 2 20 2 26 2 25 2 35 2 34 2 28 2 7 2-7 2-24 2-29 2-17 2-3 2 3 2-4 2-11 2-22 2-26 2-18 2-12 2 1 2 16 2 12 2-14 2-19 2-13 2 3 2 11 2 5 2-4 2-9 2-5 2-7 2 4 2 11 2 11 2 3 2-7 2-7 2-12 2 3 2 10 2-7 2 0 2 5 2 2 2-5 2-13 2-4 2 3 2-5 2 1 2 18 2 14 2 9 2-3 2-16 2-11 2-8 2 6 2 12 2 11 2 6 2-11 2-7 2-2 2-2 2-6 2 1 2 1 2-12 2-22 2-38 2-42 2-42 2-33 2 2 2 32 2 37 2 30 2 28 2 22 2 14 2-9 2-15 2-9 2 10 2 24 2 20 2 5 2-1 2-5 2 1 2 12 2 1 2 0 2-4 2-5 2 0 2 6 2 10 2 18 2 18 2-10 2-11 2 5 2 17 2 14 2-1 2-20 2-16 2-7 2 5 2 9 2 10 2 2 2-6 2-2 2-1 2 3 2 8 2 4 2 0 2-4 2-9 2-7 2 0 2 0 2 13 2 5 2-17 2-19 2-13 2 1 2 0 2-4 2 3 2 7 2 1 2 0 2-8 2-21 2-15 2-1 2 10 2 12 2 9 2 3 2-5 2-10 2-2 2 12 2 13 2 12 2-2 2-11 2-15 2-3 2 5 2 7 2 8 2-2 2 2 2 11 2-7 2-10 2-11 2-5 2 12 2 14 2 3 2-9 2-16 2-5 2 9 2 3 2-5 2-1 2 10 2 9 2-2 2-7 2-5 2 4 2 6 2 5 2 5 2-10 2-12 2-1 2 13 2 9 2 1 2-12 2-16 2-14 2-4 2 16 2 16 2 8 2-3 2-5 2-9 2 2 2 13 2 12 2 2 2-15 2-14 2-9 2 5 2 12 2 15 2 7 2-16 3-14 2 1 2 9 2 5 2 3 2 4 2-8 2-10 2-13 2-5 2 9 2 14 2 14 2-12 2-23 2-15 2 0 2 17 2 19 2 12 2-7 2-15 2-9 2 9 2 12 2 9 2-1 2-8 2-11 2-8 2 10 2 10 2 0 2-8 2-10 2-13 2 10 2 18 2 5 2-5 2-5 2-2 2-6 2-11 2 5 2 19 2 16 2-4 2-7 2-10 2-11 2 3 2 7 2 2 2-10 2-19 2-12 2 7 2 10 2 9 2-4 2-6 2 13 2 13 2-6 2 4 2 7 2-5 2-7 2-8 2 6 2 18 2 15 2-1 2-12 2-10 2-5 2 2 2 5 2 9 2-4 2-9 2-1 2 8 2 0 2-19 2 0 2 17 2 11 2 9 2-5 2-7 2-1 2-2 2 4 2 14 2-8 2-15 2-5 2-7 2 1 2-4 2-6 2 9 2-1 2-2 2 17 2 22 2 4 2-19 2-24 2-3 2 14 2 8 2-10 2 1 2 5 2 3 2 10 2-3 2-11 2-13 2 3 2 15 2 10 2-4 2-8 2-4 2-9 2 2 2 9 2 3 2 2 2-11 2-15 2-4 2 12 2 21 2 7 2-14 2-10 2-2 2 4 2 8 2 5 2-3 2-7 2-11 2 8 2 17 2 14 2 1 2-12 2-16 2-16 2-10 2-8 2-5 2 8 2 8 2 4 2-1 2 8 2 13 2 9 2 0 2-9 2-17 2-11 2 13 2 2 2-5 2 5 2-1 2 1 2 6 2-7 2-1 2 16 2 6 2-7 2-12 2-6 2 8 2 16 2 1 2-14 2-14 2-1 2 16 2 13 2 5 2-13 2-4 2 2 2 1 2 0 2 1 2 9 2 26 2 28 2 19 2-4 2-30 2-36 2-20 2 2 2 9 2 11 2 1 2-16 2-19 2-16 2-1 2-4 2-6 2 7 2 7 2 3 2 4 2 7 2 9 2 4 2 5 2 2 2-1 2-3 2-14 2-2 2 10 2 15 2 7 2-8 2-17 2-12 2 13 2 18 2 10 2 7 2-6 2-9 2-12 2-3 2 9 2 11 2 16 2-2 2-17 2-18 2-9 2 14 2 6 2-21 2-10 2 15 2 15 2 7 2-1 2-10 2-3 2 6 2 5 2 3 2 5 2-5 2-14 2-7 2 6 2 1 2 6 2 7 2 6 2-1 2-12 2-5 2 3 2 5 2 3 2-4 2 1 2 11 2 34 2 24 2 0 2-23 2-31 2-26 2-33 2-38 2-22 2-7 2 3 2 11 2 16 2 25 2 28 2 26 2 12 2-8 2-2 2 1 2-9 2-12 2-1 2 11 2-6 2-1 2 11 2 7 2 9 2-3 2-9 2-5 2-1 2 9 2 8 2 1 2-8 2-5 2-4 2-5 2-3 2 6 2 17 2 4 2-15 2-12 2 3 2 13 2 11 2-8 2-10 2-2 2 1 2 2 2 12 2 6 2-9 2-9 2-9 2-1 2 6 2 13 2-1 2-20 2-20 2-20 2-4 2 13 2 9 2 10 2 13 2-3 2-8 2 19 2 22 2 7 2-14 2-13 2-13 2 2 2 17 2 16 2 26 2 32 2 39 2 32 2-3 2-29 2-38 2-25 2-17 2-24 2-12 2 2 2 13 2 21 2 21 2 14 2-5 2-16 2-18 2-14 2-9 2-3 2-1 2-4 2 2 2 19 2 12 2-15 2-19 2-13 2-3 2 3 2-1 2 4 2 9 2 6 2-2 2-14 2-9 2-1 2 10 2 7 2 10 2-3 2-19 2-18 2-16 2 2 2 13 2 9 2 6 2 6 2 2 2-9 2 6 2 20 2 13 2 7 2-12 2-12 2-4 2-3 2 0 2-5 2 7 2 18 2 11 2 10 2 1 2-15 2-13 2-6 2 1 2 0 2 5 2 9 2-10 2-7 2-4 2-1 2 7 2-3 2-8 2-3 2-4"/>
<path stroke="#0072BD" d="M203 437l2-1 2 0 2 0 2 1 2 0 2 0 2 1 2 1 2-3 2-10 2-18 2-25 2-21 2-4 2 13 2 20 2 20 2 13 2 3 2-1 2-3 2-8 2-11 2-13 2-10 2-2 2 9 2 15 2 16 2 11 2 3 2-1 2 0 2 2 2-3 2-3 2-2 2 1 2 1 2 5 2 2 2-6 2-20 2-36 2-47 2-41 2-12 2 28 2 50 2 43 2 24 2 11 2 3 2 2 2 4 2 5 2 1 2-3 2-5 2-2 2 0 2 3 2 4 2 2 2-1 2-2 2 0 2 0 2-2 2-3 2 1 2 2 2 1 2-1 2-2 2 0 2-1 2-3 2 1 2 2 2 2 2 2 2 5 2 15 2 31 2 49 2 57 2 49 2 26 2-4 2-30 2-38 2-25 2-4 2 4 2-1 2-14 2-22 2-24 2-20 2-12 2-7 2-6 2-5 2-1 2 3 2 1 2-10 2-14 2-5 2-1 2-4 2-3 2 1 2-1 2-2 2 0 2 5 2 5 2 1 2 0 2 2 2 0 2-6 2-7 2-1 2 7 2 7 2 0 2-4 2 0 2 2 2 0 2-4 2-3 2 0 2 3 2-1 2-1 2 3 2 3 2 1 2 0 2 1 2-1 2-2 2-2 2-3 2-2 2-4 2-5 2-6 2-7 2-14 2-32 2-54 2-64 2-45 2 0 2 40 2 52 2 37 2 17 2 6 2 9 2 11 2 10 2 11 2 8 2 6 2 6 2 7 2 6 2 5 2 7 2 1 2-5 2-5 2 0 2 3 2 5 2 4 2-1 2 5 2 13 2 14 2 13 2 11 2 6 2-1 2-5 2-9 2-11 2-4 2 6 2 8 2 4 2 2 2-1 2-1 2 2 2 3 2 0 2-1 2 2 2 4 2 6 2 4 2-4 2-11 2-11 2-8 2-11 2-12 2-10 2-5 2-4 2-2 2 3 2 2 2-4 2-10 2-11 2-7 2-3 2 1 2 4 2 8 2 8 2 4 2 3 2 2 2 0 2-3 2 0 2 3 2 5 2 5 2 3 2-2 2-4 2-2 2 0 2-1 2 1 2 7 2 5 2-4 2-6 2-4 2 0 2 0 2-3 2-4 2 0 2 5 2 5 2 1 2 1 2 3 2 1 2-2 2-3 2-3 2-4 2-3 2 0 2 3 2 4 2 3 2 0 2-3 2-3 2-1 2 1 2 4 2 2 2-3 2-1 2 0 2 0 2-2 2 0 2 4 2 4 2 2 2-1 2 0 2 2 2 4 2 0 2-5 2-7 2-2 2 5 2 3 2-3 3-6 2-4 2-1 2 3 2 2 2 0 2 0 2 3 2 6 2-1 2-3 2 0 2-5 2-11 2-11 2-8 2-2 2 8 2 12 2 9 2 5 2 2 2 0 2-1 2-4 2-4 2 1 2 2 2 3 2 2 2-3 2 0 2 2 2 1 2 0 2 3 2 3 2-1 2-3 2 0 2-1 2-3 2-4 2 1 2 6 2 5 2 1 2 0 2 0 2-4 2-5 2-4 2 2 2 3 2-4 2-11 2-9 2-9 2-7 2-10 2-7 2 1 2 6 2 7 2 10 2 9 2 3 2 2 2 1 2 2 2 2 2 4 2 6 2 6 2 2 2 1 2 1 2 2 2 2 2-6 2-10 2-4 2 2 2 2 2 3 2 3 2 1 2-2 2 0 2 2 2-1 2-3 2 2 2 4 2 3 2 0 2 1 2 1 2-2 2 0 2 0 2-2 2-1 2-1 2-2 2-1 2 0 2 1 2 2 2 0 2-1 2-1 2-3 2 0 2 1 2 0 2 3 2 3 2 0 2-2 2-2 2 0 2 0 2 1 2 0 2-1 2-1 2 2 2 4 2 2 2-2 2-5 2-4 2-1 2 3 2 4 2-1 2-1 2 3 2 1 2-1 2-2 2-5 2-3 2 5 2 5 2 0 2-1 2-1 2 0 2 1 2 0 2-1 2-4 2-9 2-17 2-16 2-4 2 10 2 15 2 11 2 5 2 1 2 1 2 3 2 4 2 2 2-2 2-6 2-5 2 0 2 1 2-2 2-4 2-4 2-4 2-2 2 4 2 2 2 1 2 4 2 6 2 6 2 3 2-1 2-4 2-2 2 4 2 4 2 1 2-1 2-2 2-2 2 1 2 5 2 1 2-1 2 4 2 15 2 24 2 24 2 13 2-7 2-23 2-23 2-16 2-9 2-4 2-2 2-3 2-4 2-9 2-16 2-18 2-15 2-7 2 6 2 17 2 19 2 14 2 10 2 8 2 4 2 0 2-2 2-2 2-3 2 0 2 4 2 0 2-3 2-3 2-1 2-1 2 0 2 3 2 5 2 1 2-2 2-2 2-2 2-1 2 0 2-2 2 1 2 5 2 7 2 4 2 0 2-3 2-5 2-4 2-1 2 0 2-2 2-2 2-1 2 3 2 3 2 1 2-2 2-2 2-2 2-2 2-2 2 3 2 6 2 4 2 0 2-3 2 0 2 3 2 1 2-1 2 0 2 0 2-1 2 1 2 9 2 15 2 17 2 16 2 11 2 0 2-16 2-32 2-40 2-44 2-41 2-30 2-10 2 9 2 19 2 24 2 25 2 20 2 15 2 11 2 8 2 5 2 0 2 2 2 6 2 5 2 0 2-4 2-6 2-2 2 4 2 2 2-1 2-2 2 1 2 2 2 1 2 0 2 0 2 1 2 0 2-2 2-4 2-5 2-4 2-1 2 3 2 2 2 3 2 3 2 0 2-4 2-3 2 5 2 9 2 4 2 0 2 0 2 0 2-1 2-4 2-5 2-4 2 0 2 2 2-4 2-12 2-14 2-13 2-4 2 8 2 15 2 12 2 7 2 0 2-2 2 1 2 5 2 2 2 0 2-3 2-1 2 3 2 5 2 9 2 26 2 50 2 60 2 43 2 5 2-36 2-56 2-48 2-30 2-12 2-2 2 3 2 9 2 15 2 17 2 14 2 5 2-8 2-16 2-17 2-13 2-11 2-12 2-8 2-2 2 4 2 5 2 6 2 4 2-4 2-6 2-3 2 1 2 1 2 3 2 4 2 5 2 3 2-2 2-5 2-2 2-2 2-7 2-9 2-10 2-10 2-8 2-6 2 0 2 11 2 18 2 14 2 7 2 3 2 2 2-1 2-6 2-3 2 1 2 1 2 2 2 3 2 4 2 5 2 4 2 3 2 3 2 2 2 1 2-1 2-3 2-5 2-5 2-5 2-2 2 0 2 0 2-1 2-1 2-2 2-1 2-2 2-4 2 0 2 4"/>
<path stroke="#D95319" d="M203 431l2-7 2 10 2 10 2-2 2-7 2-6 2 0 2 9 2 7 2 2 2-10 2-22 2-21 2-2 2 10 2 19 2 19 2-1 2-12 2-16 2 0 2 9 2 6 2-2 2-12 2-14 2-5 2 8 2 16 2 23 2 4 2-9 2-4 2 1 2 6 2 3 2 5 2 2 2-9 2-9 2-11 2 4 2 7 2-15 2-38 2-37 2-12 2 18 2 35 2 33 2 17 2 0 2-4 2-4 2 1 2 12 2 8 2 8 2-3 2-12 2-15 2-8 2 6 2 1 2-5 2 5 2 13 2 11 2-1 2-5 2-11 2-4 2 13 2 11 2-1 2-6 2-4 2-5 2 2 2 6 2 3 2 1 2 0 2 8 2 13 2 27 2 40 2 40 2 30 2-6 2-27 2-25 2-13 2-6 2-10 2-6 2-3 2-6 2-11 2-18 2-12 2-9 2 3 2 8 2 1 2 3 2-7 2-9 2-13 2-13 2 6 2 9 2 8 2 6 2-2 2-9 2-17 2-3 2 9 2 10 2 6 2-5 2-10 2-12 2-6 2 13 2 16 2 10 2-7 2-12 2-10 2-4 2 10 2 7 2 5 2 1 2-10 2-7 2 1 2 10 2 8 2 9 2 1 2-15 2-12 2-6 2 2 2 7 2 12 2-1 2-14 2-17 2-11 2 3 2-14 2-46 2-46 2-13 2 16 2 27 2 23 2 15 2 9 2 8 2 13 2 8 2-2 2 4 2 6 2 2 2-1 2 6 2 11 2 7 2 5 2-4 2-7 2-1 2 2 2 6 2 9 2 12 2 1 2-11 2-4 2 10 2 17 2 17 2 10 2-6 2-15 2-23 2-14 2 7 2 9 2 10 2 1 2-5 2 9 2 7 2-9 2-19 2-5 2 12 2 16 2 6 2-8 2-15 2-13 2 6 2 9 2 5 2 1 2-8 2-10 2-5 2 1 2 5 2 3 2-13 2-19 2-12 2 6 2 6 2 2 2-4 2-6 2-2 2 7 2 11 2 8 2 3 2-2 2-4 2 1 2 2 2 4 2 0 2-4 2-6 2-5 2-2 2 1 2 6 2 6 2 0 2-5 2-2 2 8 2-8 2-5 2 14 2 16 2 2 2-7 2 0 2 4 2-1 2-7 2-11 2-1 2 2 2-7 2-5 2 9 2 11 2 14 2 1 2-15 2-12 2-6 2 5 2 9 2 1 2-4 2-4 2 3 2 10 2-2 2-8 2-9 2 1 2 7 2 7 2 2 2-6 2-4 2-2 2 1 2 7 2-4 2-11 2-3 2-5 2-12 2 3 2 13 3 15 2 8 2-10 2-10 2-8 2 7 2 12 2 3 2 2 2 1 2 2 2 1 2-7 2-3 2 1 2-14 2-16 2-4 2 3 2 14 2 16 2 14 2 8 2-6 2-8 2-12 2-3 2 6 2 6 2 4 2 6 2 14 2-4 2-22 2-20 2 1 2 17 2 15 2 8 2-12 2-14 2-6 2-1 2 5 2 10 2 10 2-6 2-16 2-6 2 9 2 1 2-6 2 2 2 7 2 6 2-3 2-12 2 1 2 1 2-10 2-3 2 3 2-4 2-4 2 5 2 8 2 11 2 12 2 9 2-4 2-18 2-16 2 2 2 4 2-6 2 6 2 7 2-10 2-1 2 14 2 16 2 2 2-13 2-6 2 0 2 8 2 7 2 3 2-6 2-8 2-6 2 4 2 8 2 5 2-5 2 0 2 6 2-2 2-11 2-6 2 3 2 8 2 7 2 6 2-7 2-13 2-5 2 11 2 7 2 3 2 0 2-12 2-17 2 0 2 17 2 9 2 4 2 1 2-6 2-12 2-13 2 10 2 11 2-5 2-9 2 7 2 9 2-1 2-9 2-3 2 6 2 2 2-1 2 12 2 14 2-6 2-12 2-12 2-3 2 10 2 15 2-1 2-12 2-10 2-3 2 1 2-9 2 4 2 22 2 11 2 1 2-8 2-11 2-13 2-12 2 5 2 2 2 0 2 1 2-2 2-1 2-3 2 12 2 10 2-9 2-8 2 8 2 14 2 6 2-12 2-13 2-6 2 2 2 3 2 5 2-2 2-1 2 9 2 5 2-6 2-4 2-8 2 1 2 13 2 12 2 4 2-9 2-11 2-2 2 5 2 5 2 6 2-2 2-4 2-14 2-6 2 13 2 13 2 12 2 10 2 10 2 5 2-3 2-8 2-4 2-11 2-15 2-14 2-4 2 7 2 7 2 2 2-10 2-18 2-15 2-9 2 6 2 11 2 5 2 10 2 15 2 10 2 8 2-1 2-9 2-7 2-15 2-3 2 13 2 0 2-8 2 5 2 9 2 13 2 7 2-13 2-15 2-10 2 2 2-2 2-8 2 8 2 14 2 7 2 0 2-5 2 4 2 3 2-6 2-4 2-1 2 6 2 11 2 9 2-5 2-13 2-14 2 3 2 12 2 9 2 2 2-8 2-10 2-3 2 5 2 3 2 5 2 5 2-4 2-4 2-5 2-1 2 6 2 5 2 10 2 0 2-7 2-5 2 0 2 10 2 17 2 15 2 2 2-4 2-3 2-20 2-33 2-35 2-22 2-8 2-2 2 8 2 7 2 7 2 4 2 5 2 19 2 12 2 4 2 9 2 11 2 9 2 1 2-18 2-20 2-4 2 8 2 2 2 3 2 6 2-2 2-1 2 10 2 6 2 4 2 0 2-8 2-14 2 2 2 2 2-3 2 10 2 15 2 6 2-10 2-8 2-1 2-5 2-3 2 2 2 3 2-1 2-9 2-11 2 2 2 14 2 9 2 0 2-4 2-3 2-6 2 0 2 9 2 8 2-8 2-23 2-22 2 2 2 23 2 24 2 10 2-12 2-15 2-3 2 12 2-1 2 0 2 12 2 4 2-1 2-6 2-3 2 4 2 17 2 29 2 41 2 42 2 4 2-36 2-43 2-36 2-15 2-2 2 0 2 7 2 12 2 13 2 5 2 0 2 5 2 3 2-6 2-20 2-12 2 2 2-4 2-10 2-6 2 0 2 2 2 4 2 6 2-5 2-11 2-8 2 7 2 8 2-3 2-3 2 10 2 17 2 0 2-15 2-12 2-6 2 5 2 2 2-12 2-5 2 3 2-4 2-4 2 1 2 2 2 2 2 16 2 13 2 5 2-2 2-15 2-7 2 1 2 10 2 6 2 10 2 2 2-9 2-9 2-5 2 10 2 13 2 3 2-4 2-8 2-11 2 3 2 14 2 14 2-10 2-20 2-17 2 1 2 13 2 17 2 3 2-9 2-6 2 3"/>
<path stroke="#EDB120" d="M203 446l2-8 2-12 2 3 2 18 2 2 2-7 2-6 2-9 2 3 2-4 2 0 2 2 2-19 2-17 2 1 2 10 2 13 2 11 2 4 2 16 2-24 2-19 2 9 2 12 2-16 2-12 2-1 2 12 2 20 2 10 2-5 2-1 2-1 2 0 2 2 2 5 2 2 2-5 2-14 2-23 2 5 2 20 2 23 2-11 2-38 2-24 2-26 2 6 2 31 2 37 2 27 2 6 2-9 2-32 2-1 2 28 2 8 2 5 2-16 2-17 2-9 2 23 2 7 2-2 2 4 2-16 2-9 2 9 2 7 2 4 2 19 2 0 2-19 2-10 2-7 2 4 2 8 2-4 2-4 2-4 2 8 2 24 2 23 2-17 2 5 2 17 2 18 2 25 2 23 2 8 2-19 2-16 2-1 2 6 2-17 2-23 2 4 2 12 2-4 2-27 2-18 2 5 2 4 2-3 2-15 2-11 2 7 2 8 2 6 2 9 2-21 2-10 2 7 2 11 2 12 2 2 2-7 2-5 2-18 2-6 2 10 2 10 2 8 2-14 2-3 2-6 2 0 2-8 2-4 2 22 2 26 2-22 2-15 2-1 2-8 2 4 2 5 2-9 2 5 2 12 2 16 2 1 2-16 2-1 2 0 2-9 2 10 2 13 2 8 2-22 2-19 2 9 2 7 2-7 2-8 2-25 2-35 2-29 2-8 2 19 2 47 2 24 2-7 2-5 2-3 2 9 2 5 2 6 2 2 2-1 2-19 2 6 2 24 2 17 2 9 2-17 2-13 2-12 2 1 2 17 2 10 2-1 2-3 2-5 2-1 2 0 2 1 2 15 2 24 2 10 2 13 2-19 2-19 2-4 2-9 2-22 2 8 2 9 2 11 2-5 2 11 2 3 2 13 2-3 2-8 2-1 2 1 2 3 2 3 2 1 2-12 2-18 2-4 2 2 2 5 2 5 2 8 2-23 2-22 2 22 2 11 2 9 2 2 2-16 2-18 2-27 2 9 2 19 2 24 2 10 2-22 2-6 2 8 2-1 2-11 2 8 2 17 2-7 2-21 2-11 2-3 2 14 2 17 2 7 2-7 2 16 2-2 2-7 2-4 2-16 2-8 2 8 2 4 2-2 2-6 2 1 2-6 2 2 2 19 2 14 2 4 2-16 2-12 2 3 2-5 2 0 2 0 2 11 2 0 2 1 2-4 2-1 2 8 2 15 2-13 2-15 2-17 2-2 2 36 2 19 2-12 2-15 2-16 2 5 2 16 2-10 2 9 2 12 2-18 2-18 2 11 2 9 2 10 2-3 2 1 2-15 2-4 3 16 2 1 2 8 2-1 2-8 2-26 2 8 2 18 2 3 2 0 2 1 2-13 2-16 2 4 2 9 2 8 2 8 2-12 2-13 2-3 2-8 2 9 2 12 2 16 2 4 2 1 2-19 2-11 2 10 2 21 2 8 2-4 2-7 2-1 2-8 2-8 2 14 2 0 2-8 2 3 2 1 2 1 2-11 2-9 2 0 2 1 2 4 2 5 2 13 2 4 2-17 2-8 2 6 2 2 2 16 2-4 2-16 2-21 2-14 2 0 2-13 2 2 2 25 2 8 2 3 2-2 2-2 2 4 2 13 2 6 2-10 2-5 2 16 2 10 2 1 2-18 2-5 2 3 2 2 2-6 2 18 2 12 2-22 2 7 2 11 2-19 2-1 2-1 2-9 2 10 2 23 2-9 2-1 2-3 2-16 2 1 2 18 2 14 2-11 2-21 2-5 2 0 2 21 2 10 2-6 2-10 2-23 2 2 2 14 2 12 2 8 2-14 2-14 2-5 2-4 2 15 2 7 2-9 2 8 2-13 2-3 2 16 2 12 2 18 2-2 2-11 2-25 2 4 2 11 2-2 2 12 2 6 2-17 2-20 2-8 2 12 2 18 2 13 2 6 2-16 2-10 2-9 2-1 2 13 2-7 2-23 2 15 2 29 2-1 2-10 2-19 2-5 2 10 2 15 2-8 2-20 2-13 2-7 2 1 2 17 2 17 2 20 2 3 2-19 2-25 2-3 2 18 2 1 2-4 2 12 2-5 2-15 2-6 2 18 2 12 2 8 2-13 2-12 2 2 2 9 2 6 2-5 2-10 2-10 2 17 2-10 2 12 2 10 2-3 2-3 2 6 2-11 2 13 2 5 2-12 2-14 2-6 2 25 2 25 2-8 2-8 2 2 2 12 2 1 2-6 2-25 2-17 2-7 2 4 2 9 2 10 2 13 2-18 2-9 2 3 2-1 2-20 2-15 2 19 2 33 2 14 2-6 2-15 2-9 2 0 2 5 2 11 2 8 2-5 2-4 2 4 2-5 2-7 2 12 2 8 2 7 2-14 2 5 2 16 2-4 2-21 2-10 2-10 2 4 2 13 2 11 2-4 2 7 2-1 2-11 2-12 2-5 2 4 2 17 2-2 2-2 2-7 2 0 2-8 2 15 2-6 2 0 2 3 2-8 2 15 2 15 2-22 2-13 2 4 2 10 2 10 2 2 2-3 2-3 2-11 2 1 2 14 2 5 2 12 2 2 2-4 2 7 2-8 2 6 2 4 2 0 2-28 2-24 2-15 2-11 2-10 2-7 2-5 2 24 2 21 2 8 2 11 2-10 2-3 2-2 2 9 2 14 2 7 2-10 2 4 2 5 2-11 2-19 2-7 2 10 2 9 2 12 2 14 2-5 2 0 2-5 2-14 2-4 2 23 2 10 2 9 2-23 2-12 2-5 2 5 2 1 2-9 2 7 2 5 2-14 2-11 2 16 2 10 2 17 2-8 2-7 2-6 2-1 2 2 2 9 2 12 2-4 2-29 2-5 2-6 2-3 2 16 2 28 2-11 2-14 2-4 2-6 2 11 2 17 2-2 2-11 2 3 2 4 2-8 2 11 2 17 2 4 2-8 2-7 2 9 2 35 2 36 2 2 2-18 2-23 2-22 2-10 2-4 2-6 2-17 2-2 2 12 2 7 2 6 2 8 2 7 2 0 2-23 2-9 2 6 2-10 2-2 2 0 2 20 2 1 2-17 2-15 2 16 2 13 2 12 2 13 2-8 2-16 2-10 2-5 2 8 2-1 2-21 2 5 2 22 2 1 2-4 2-15 2-4 2-7 2-6 2 6 2 10 2 6 2-5 2-14 2 7 2 11 2-8 2-4 2 13 2 17 2 10 2-19 2-8 2-8 2 6 2 27 2 2 2-7 2-10 2 0 2 8 2-11 2-19 2 1 2 15 2 13 2 0 2-12 2-16 2-16 2 8 2 28 2 28 2-7 2-27 2 5"/>
<path stroke="#7E2F8E" d="M203 435l2-3 2-2 2 2 2 3 2-2 2-2 2 1 2 2 2-4 2-6 2-5 2-18 2-20 2 1 2 6 2 16 2 12 2 10 2 9 2 0 2-6 2-10 2-12 2-11 2-4 2 1 2 4 2 8 2 11 2 1 2 6 2 7 2 2 2 7 2 9 2-1 2-6 2-9 2-7 2-5 2-1 2-2 2-11 2-24 2-40 2-41 2-12 2 27 2 42 2 33 2 23 2 20 2 9 2-3 2-7 2-3 2-2 2 2 2 11 2 0 2-9 2-1 2 4 2-7 2 5 2 6 2-1 2-12 2-6 2 5 2 2 2 3 2-1 2 0 2 6 2 6 2 2 2 1 2-7 2-10 2 4 2 10 2 9 2 15 2 24 2 31 2 42 2 40 2 24 2-1 2-27 2-22 2-14 2-14 2 4 2 1 2-17 2-21 2-17 2-10 2-11 2-6 2-2 2-6 2-7 2-5 2-4 2 1 2 1 2-1 2-3 2-6 2-6 2-1 2-2 2 6 2 4 2 1 2 4 2 3 2-6 2-11 2 1 2 9 2-5 2-2 2-1 2-4 2-3 2 2 2 6 2 5 2-2 2 4 2-2 2 3 2 2 2-6 2 0 2 2 2-2 2-1 2 0 2 2 2-4 2-1 2 3 2-3 2 4 2-2 2 1 2 0 2-6 2-18 2-31 2-48 2-59 2-38 2 2 2 35 2 46 2 28 2 9 2 4 2 13 2 9 2 5 2 3 2 6 2 8 2 12 2 13 2 3 2 0 2 3 2-5 2-7 2 6 2 1 2 2 2-1 2-2 2 9 2 11 2 7 2 8 2 6 2 12 2 9 2-3 2-6 2-2 2-4 2-4 2-1 2-1 2 0 2 5 2 0 2 5 2 4 2-3 2 0 2 6 2 6 2-4 2-7 2 6 2 9 2-9 2-14 2-11 2-10 2-4 2-1 2-3 2-5 2-9 2 1 2 5 2-1 2-8 2-12 2-8 2-7 2-4 2 5 2 1 2 5 2 14 2 11 2 1 2 4 2 0 2-1 2-4 2-4 2-1 2-4 2 7 2 7 2-1 2 1 2-7 2-11 2 3 2 14 2 7 2-2 2-4 2-2 2 1 2 4 2-1 2 2 2-2 2-6 2-3 2-2 2 6 2-2 2-6 2-8 2-7 2 1 2 6 2 4 2 1 2 5 2 12 2 7 2-2 2-5 2-9 2-2 2 4 2 2 2-7 2-3 2 1 2 3 2 8 2-1 2-7 2 0 2-8 2-5 2 7 2 2 2 3 2 2 2 0 2-3 2 2 2 6 2 7 2-3 3-3 2 2 2 2 2-7 2-6 2 6 2 10 2 0 2-9 2-5 2-2 2-1 2-3 2-10 2-5 2-1 2-6 2 8 2 16 2 5 2 2 2 5 2-3 2-4 2 3 2 1 2 1 2 1 2-2 2-4 2 2 2 2 2-3 2 4 2 3 2-7 2-6 2 2 2-2 2 0 2 4 2 0 2 3 2 2 2 3 2-3 2-5 2-2 2 3 2-4 2-7 2 4 2 2 2 2 2 1 2-10 2-15 2-8 2-2 2-1 2 4 2-1 2 0 2 7 2 8 2 4 2-1 2 5 2 5 2 3 2 4 2 2 2 6 2-2 2-1 2 9 2 1 2-9 2-9 2-1 2 3 2 6 2 1 2-4 2-3 2 2 2 5 2 1 2-4 2 0 2 3 2-2 2-4 2-2 2 7 2 3 2 0 2 4 2 2 2 0 2-4 2-8 2-11 2 4 2 13 2 0 2-7 2 1 2-1 2-3 2-7 2-2 2 4 2 5 2 2 2 1 2 5 2 6 2 1 2-1 2-7 2-6 2 2 2 3 2 0 2 3 2-3 2-1 2-2 2-4 2 1 2 6 2 0 2-2 2 2 2 8 2-4 2-15 2 1 2 6 2 3 2 3 2 3 2-2 2-1 2 1 2 1 2-8 2-11 2 6 2 12 2 0 2-4 2-4 2-13 2-11 2-2 2-11 2 4 2 18 2 16 2 13 2-4 2-8 2 8 2 4 2-12 2-11 2 1 2 10 2-2 2-8 2-6 2-1 2-8 2-4 2 3 2 0 2 1 2 6 2 5 2 7 2 4 2 2 2 1 2-2 2 1 2 1 2-1 2 2 2 7 2 1 2-6 2-2 2 3 2-1 2 3 2 5 2 10 2 22 2 22 2 9 2-3 2-11 2-20 2-25 2-9 2-3 2 0 2 1 2-10 2-10 2-6 2-17 2-15 2 5 2 8 2 6 2 12 2 14 2 6 2 1 2-5 2-4 2-3 2 3 2 9 2 2 2-7 2-2 2 6 2 5 2-5 2 0 2 5 2-1 2 1 2-2 2 1 2 2 2 0 2 0 2-3 2-5 2-4 2 8 2 8 2 6 2 0 2-6 2-2 2 7 2-4 2-13 2-4 2 6 2 3 2 1 2-7 2 0 2 1 2 5 2 6 2 5 2-11 2-13 2 2 2 5 2 4 2-1 2 0 2 6 2 1 2-5 2-1 2 2 2 0 2 3 2 9 2 11 2 15 2 16 2 10 2 0 2-11 2-30 2-39 2-37 2-31 2-20 2-14 2 3 2 21 2 27 2 22 2 15 2 10 2 11 2 6 2 2 2-2 2 4 2 1 2-3 2 5 2 7 2-7 2-3 2 8 2 0 2 4 2 2 2-3 2-12 2-6 2-5 2-3 2 11 2 4 2 0 2 6 2 1 2-2 2-8 2-3 2 6 2 9 2 6 2-7 2-6 2 3 2 0 2-4 2-3 2 3 2-1 2 5 2-2 2-4 2 5 2 6 2-4 2-6 2-7 2-13 2-11 2-9 2 1 2 13 2 16 2 15 2 4 2 1 2 0 2-11 2-12 2 0 2 8 2 3 2 4 2-1 2 3 2 8 2 20 2 32 2 44 2 40 2 13 2-30 2-54 2-43 2-26 2-9 2 7 2 6 2 11 2 13 2 10 2 5 2-3 2-9 2-13 2-4 2-1 2-8 2-5 2-5 2-4 2-3 2-3 2 8 2 3 2-5 2-4 2 0 2 2 2 0 2-2 2 1 2 3 2 8 2 6 2-7 2-6 2 3 2-5 2-14 2-9 2-5 2-3 2-2 2 4 2 12 2 2 2-2 2 9 2 10 2-2 2-1 2 3 2 3 2 5 2 0 2-5 2-4 2 7 2 9 2 4 2-2 2-3 2 4 2 4 2-4 2-3 2 10 2 2 2-11 2-7 2-4 2-1 2 2 2-5 2 2 2 4 2-3 2-2 2 1 2 9"/>
<path stroke="#77AC30" d="M203 413l2 1 2 8 2 10 2-2 2-7 2-3 2 6 2 11 2-2 2-13 2-12 2-23 2-17 2 3 2 12 2 14 2 13 2 14 2 3 2-5 2-10 2-10 2-9 2-10 2-6 2 5 2 6 2 11 2 15 2 16 2 8 2-9 2-10 2-2 2 8 2 7 2 2 2 6 2 1 2-4 2-4 2-15 2-15 2-23 2-45 2-49 2-19 2 22 2 55 2 50 2 30 2 13 2-3 2-9 2-7 2 5 2 5 2 6 2 6 2-8 2-13 2-2 2 7 2 5 2-3 2 5 2 9 2 0 2-5 2-6 2-6 2-3 2 6 2 10 2 5 2 5 2-6 2-5 2-2 2-6 2 1 2 8 2 8 2 13 2 31 2 44 2 45 2 40 2 25 2-6 2-24 2-33 2-25 2-5 2 6 2-5 2-11 2-10 2-14 2-16 2-15 2-11 2-5 2 8 2 5 2-2 2-11 2-14 2-5 2-8 2-13 2-5 2 3 2 0 2-5 2-9 2 2 2 4 2-1 2 0 2 7 2 7 2 3 2-2 2-5 2-4 2 4 2 5 2 7 2 9 2-4 2-14 2-5 2 6 2 8 2-2 2-4 2-4 2 3 2 4 2-3 2-5 2 4 2 10 2 4 2 0 2-5 2-5 2 7 2 6 2-14 2-22 2-14 2-9 2-35 2-64 2-55 2-32 2 2 2 42 2 53 2 32 2 7 2 11 2 18 2 17 2 14 2 7 2-6 2 5 2 4 2 1 2 4 2 9 2 2 2-8 2 0 2 10 2 1 2 0 2 3 2-1 2 5 2 11 2 10 2 12 2 13 2 5 2 1 2 4 2 9 2-4 2-15 2-10 2 3 2 11 2 5 2-2 2-10 2 0 2 9 2 6 2 0 2-2 2 2 2 4 2-5 2-12 2-3 2 6 2-1 2-16 2-22 2-7 2 6 2-5 2-7 2 1 2 6 2 2 2-12 2-12 2-1 2-5 2-12 2-3 2 13 2 13 2 4 2 3 2-3 2 0 2 6 2 5 2 6 2 3 2-3 2-6 2 4 2 6 2-2 2-12 2-9 2 2 2 3 2-4 2-2 2 9 2 5 2-3 2-2 2 2 2-1 2-5 2-6 2 2 2 11 2 6 2-3 2-5 2-3 2-3 2 3 2 7 2-2 2-2 2-1 2 1 2-1 2-5 2-2 2 4 2-2 2-2 2 3 2-1 2 4 2 12 2 4 2-4 2-8 2-6 2 2 2 1 2 9 2 7 2-2 2-3 2-4 2-1 2 3 2-4 2-7 2-3 2-4 2 6 2 4 3-5 2 2 2-4 2-7 2 2 2 13 2 5 2-5 2 2 2 5 2-2 2-5 2-8 2-13 2-14 2-2 2 4 2 1 2 0 2 3 2 11 2 9 2 3 2 1 2-1 2-2 2-1 2 8 2 7 2-8 2-14 2 4 2 12 2 1 2-10 2-9 2 5 2 8 2 7 2 7 2-2 2-2 2 2 2 0 2-9 2-5 2 2 2-4 2-3 2 3 2 12 2 13 2-2 2-12 2-10 2-8 2-6 2-13 2-11 2 4 2 9 2-4 2-5 2 11 2 13 2 2 2 0 2-5 2-1 2 4 2 10 2 11 2 8 2-1 2-8 2-2 2 0 2 4 2 7 2-7 2-14 2-8 2-4 2 0 2 13 2 10 2 2 2 0 2 3 2 3 2 0 2-3 2-1 2-4 2-3 2 0 2-2 2 3 2 8 2 0 2-10 2-11 2 0 2 4 2 5 2 4 2 4 2 3 2-2 2 4 2-3 2-6 2 1 2-2 2 0 2 3 2 1 2 6 2 0 2-2 2-3 2-4 2-7 2-13 2-5 2 2 2 8 2 10 2 3 2 3 2 10 2 5 2-5 2-7 2-1 2-2 2 1 2 2 2-2 2-6 2-4 2 7 2 9 2-8 2-17 2-6 2 4 2 5 2 8 2 14 2 3 2-5 2-5 2-4 2 0 2-3 2-15 2-22 2-15 2 13 2 25 2 13 2 2 2 11 2 12 2-2 2-9 2-3 2 1 2 0 2-11 2-13 2-7 2 0 2 5 2 1 2-3 2-5 2 0 2 10 2 11 2 6 2-3 2-2 2-1 2-1 2-1 2 5 2 8 2-3 2-6 2 0 2 7 2 0 2-1 2 5 2 8 2 4 2 7 2 27 2 32 2 15 2-5 2-25 2-28 2-18 2-9 2-6 2-3 2-2 2-3 2-10 2-18 2-17 2-8 2-2 2 3 2 10 2 5 2 7 2 7 2 15 2 19 2-3 2-13 2 1 2 11 2-1 2-7 2 1 2 0 2-4 2-5 2-1 2 2 2 3 2-1 2-1 2 12 2 11 2-5 2-9 2 1 2 1 2 3 2-3 2-2 2 0 2-8 2-11 2-3 2-1 2 2 2 2 2 6 2 6 2-4 2-4 2 4 2 2 2-3 2 1 2 5 2-1 2 5 2 1 2-3 2 0 2-5 2-2 2 4 2 8 2 4 2-2 2-2 2-10 2-9 2 8 2 15 2 13 2 20 2 32 2 20 2-11 2-28 2-34 2-34 2-37 2-45 2-34 2-6 2 12 2 24 2 25 2 19 2 17 2 17 2 12 2 6 2-1 2-5 2 3 2 7 2 2 2-3 2 2 2 7 2 9 2 6 2-7 2-4 2 3 2-7 2-10 2-1 2 4 2 8 2 1 2 2 2-2 2-8 2 2 2 12 2-1 2-10 2-6 2-4 2-3 2-4 2 4 2 8 2-1 2-1 2 0 2-1 2 6 2 9 2-5 2-10 2-11 2-3 2 9 2 4 2-5 2-12 2-20 2-9 2 8 2 10 2 5 2 7 2 12 2 12 2-1 2-1 2 0 2-9 2-4 2 9 2 8 2 4 2 0 2 6 2 17 2 35 2 51 2 39 2 6 2-21 2-48 2-51 2-24 2-7 2-10 2 3 2 22 2 19 2 11 2 1 2-2 2-6 2-11 2-9 2-11 2-7 2-7 2-9 2 5 2 7 2-3 2-5 2-1 2-1 2 5 2 9 2 7 2 7 2 1 2-13 2-17 2-6 2 4 2 13 2 4 2-8 2-8 2-9 2-9 2-7 2-6 2-5 2-1 2 1 2 15 2 18 2 11 2 1 2-9 2-7 2 6 2 8 2 3 2-7 2-5 2 8 2 6 2 2 2 7 2 14 2 11 2 0 2-4 2-2 2-4 2-10 2-10 2-17 2-8 2 3 2 4 2 0 2-5 2 3 2 6 2 6 2 4 2 3 2 7"/>
<path stroke="#4DBEEE" d="M203 431l2 0 1-1 2-4 1-3 2 3 1 11 2 10 1 4 2 0 1 0 2-3 1-7 2-13 1-16 2-16 1-17 2-19 1-13 1 1 2 34 2 38 1 32 2 17 1 7 2-4 1-12 2-13 1-2 2 5 1 0 2-17 1-31 2-27 1-10 2 3 1 12 2 11 1 9 2 10 1 14 2 14 1 4 2-8 1-14 2-8 1 8 2 22 1 21 1 7 1 9 1 9 2 6 1 4 2-3 1-8 0-7 2-15 1-12 2-14 1-21 2-29 1-38 2-38 1-22 2 2 1 17 2 26 1 34 2 35 1 22 2 5 1-9 2-17 1-22 2-18 1-2 2 11 1 15 2 6 1 0 2 7 1 14 2 13 1 3 2-3 1 4 2 18 1 19 2 6 1-2 2 0 1 5 2-1 1-14 2-24 1-28 2-27 1-16 2 5 1 19 2 22 1 14 2 2 1-6 2-11 1-11 2-6 1 6 2 12 1 10 2 4 1-3 0-5 2 2 1 4 2 7 1 15 2 23 1 35 2 46 1 49 2 31 1-3 2-31 1-42 2-38 1-23 2-1 1 20 2 27 1 14 2-7 1-26 2-33 1-28 2-17 1-4 2 3 1 0 2-4 1-6 1-7 2-10 2-4 1 4 2 14 1 24 2 28 1 16 1-3 1-13 1-36 2-40 1-25 2-5 1 18 2 27 1 18 2 5 1-5 2-7 1-8 2-1 1 8 2 16 1 16 2 3 1-12 2-20 1-22 2-16 1-5 2 5 1 11 2 18 1 22 2 17 1 4 2-6 1-5 2 5 1 9 2 0 1-14 2-18 1-13 2-5 1 3 2 7 1 7 2 7 1 7 2 0 1-11 2-17 1-10 2 0 1 4 2 0 1-5 2-3 1 4 2 9 1 10 2 8 1-1 2-10 1-10 2-1 1 3 2-10 1-19 2-69 1-55 2-35 1 3 2 38 1 44 2 27 1 10 2 8 0 10 1 12 2 16 1 14 2 12 1 5 2-4 1-7 2-1 1 7 1 6 2-4 2-11 1-15 2-11 1-6 2-3 1-3 2 2 1 15 2 20 1 12 2 6 1 1 2-5 1-12 2-11 1 0 2 11 1 13 2 8 1 3 2 4 1 17 2 28 1 28 2 17 1 1 2-20 1-35 2-37 1-28 2-8 1 12 2 28 1 31 2 20 1 7 2 2 1 0 2-4 1-10 2-8 1 2 2 14 1 15 2-1 1-18 2-23 1-20 2-16 1-10 2 4 1 17 2 22 1 13 2-3 1-17 2-23 1-24 2-16 1-3 2 8 1 10 2 7 1 8 2 7 1-1 2-11 1-13 2-12 1-15 2-17 1-6 2 11 1 23 2 23 1 13 2 3 1-2 2-5 1-9 2-6 1 4 2 9 1 3 2-2 1 0 2 5 1 6 2 2 1-1 2-5 1-8 2-9 1-5 2 2 1 1 2-3 1-3 2 1 1 3 2 2 1 2 2 5 1 4 2-4 1-13 2-13 1 0 2 13 1 14 2 4 1-9 2-15 1-9 2 3 1 12 2 16 1 15 2 10 1 8 2 10 1 6 2 1 1-12 2-23 1-26 2-15 1 2 2 13 1 9 2 3 1 4 1 0 1 0 1 4 2-5 1-11 2-12 1-9 2-1 1 7 2 14 1 18 2 12 1 1 2-9 1-12 2-9 1 2 2 13 1 19 1 10 2-3 2-13 1-14 2-12 1-10 2 2 1 15 2 17 1 9 2-2 1-8 2-13 1-14 2-6 1 5 2 12 1 11 2 10 1 9 2 3 1-8 2-15 1-11 2-5 1-4 2-1 1 2 2 5 1 8 2 15 1 18 2 10 0 1 1-6 2-21 1-31 2-30 1-24 2-10 1 4 2 15 1 16 2 12 1 10 2 8 1 3 2 1 1 4 2 9 1 10 2 5 1-1 2-6 1-7 2-6 1-6 1-3 2-3 2 8 1 8 2-1 1-6 2-3 1 1 2-3 1-11 2-11 1-3 2 7 1 12 2 12 1 6 2-8 1-19 2-21 1-11 2 1 1 10 2 11 1 12 2 9 1 2 2 1 1 4 2 2 1-6 2-12 1-2 2 10 1 17 2 17 1 9 2-6 1-18 2-27 1-29 2-24 1-9 1 5 2 19 2 14 1 8 2 0 1-3 2-1 1 2 2 5 1 2 2-2 1-3 2 0 1 6 2 11 1 13 2 12 1 5 2 0 1-5 2-6 1-2 2 3 1 7 2 12 1 11 2-1 1-16 2-21 1-11 2 1 1 2 2-2 1-8 2-8 1 2 1 13 2 23 2 19 1 8 2-4 1-9 2-7 1-10 2-16 1-14 2-2 1 9 2 17 1 16 2 6 1-7 2-9 1-4 2 0 1-1 2-1 1 5 2 7 1 1 2-5 1-5 2-3 1-2 2-7 1-10 2-2 1 10 2 14 1 11 2 6 1-3 2-9 1-12 2-6 1 5 2 13 1 11 2 12 1 16 2 15 1-3 2-21 1-24 2-10 1 5 2 7 1 0 2 2 1 10 2 11 1 3 2-7 1-16 2-22 1-19 2-8 0 3 1 8 2 19 1 22 2 24 1 13 1 1 1-3 1-15 2-21 1-18 2-8 1 1 2 5 1 8 2 11 1 7 2-7 1-14 2-18 1-19 2-15 0-6 1 1 2 24 1 30 1 21 2 6 1-6 2-7 1 3 2 11 1 4 2-14 1-29 2-36 1-34 2-20 1 10 2 35 1 38 2 21 1 2 2-5 1-5 2-3 1 2 2 9 1 10 2 2 1-11 2-17 1-11 2 4 1 14 2 11 1-3 2-15 1-16 2-10 1-3 2 0 1 1 2 6 1 12 2 16 1 8 2-9 1-20 2-19 1-10 1 2 1 7 1 14 2 18 1 17 2 11 1 2 2-9 1-14 2-9 1-4 2-5 1-5 2 3 1 14 2 17 1 16 2 15 1 12 2 6 1-2 2-3 1 3 2 12 1 19 2 18 1 7 2-3 1-6 2-7 1-14 2-26 1-26 2-20 1-11 2-5 1 1 2 5 1 6 2 1 1-8 2-15 1-15 2-6 1 2 2 6 1 4 2 2 1 3 2 3 1 1 2 1 1 1 2 8 1 15 2 10 1-3 2-13 1-14 2-7 1 3 2 10 1 11 2 10 1 8 2 2 1-7 2-9 1-6 2 5 1 17 2 18 1 11 2 3 1-1 2-7 1-12 2-14 1-16 2-6 1 3 2 8 1 3 2-2 1-4 2-2 1 4 2 4 1 0 2-6 1-8 2-2 1 7 2 8 1 3 2-3 1-5 2-4 1-1 2-5 1-4 2-9 1-6 1 2 1 10 1 11 2 0 1-6 2 0 1 12 1 9 2 9 2-3 1-8 2-10 1-7 2-7 1-8 2-5 1 5 2 16 1 23 2 20 1 5 2-14 1-14 2 0 1 10 2 7 1 1 2 2 1 10 2 10 1 7 2 1 1-6 2-11 1-12 2-18 1-26 2-36 1-43 2-37 1-17 2 1 1 14 2 14 1 12 1 10 1 6 1 13 2 12 1 3 2-5 1-2 1 7 2 24 2 19 1 13 2 5 1-3 2-7 1-8 2-2 1 11 2 24 1 19 2 7 1-7 2-11 1-7 2-4 1-9 2-18 1-23 2-16 1 2 2 20 1 26 2 19 1 7 2-1 1-7 2-2 1 10 2 16 1 8 2-7 1-14 2-15 1-12 2-7 1-3 2-3 1-4 2-1 1 5 2 11 1 9 2 2 1-9 2-16 1-14 2-7 1 5 2 13 1 15 2 5 1 7 2 3 1 3 2-1 1-7 2-10 1-6 2-2 1 1 2-1 1-4 2-3 1-6 2-15 1-8 0 2 2 11 1 16 2 12 1 13 2 16 1 16 2 8 1-6 0-11 2-16 1-13 2-7 1-3 2 2 1 5 2 11 1 14 2 13 1-2 2-18 1-19 2-2 0 5 1 9 2 35 1 49 2 40 1 12 2-7 1-26 2-35 1-37 2-32 1-26 2-16 1 1 2 21 1 27 2 17 1 8 2 7 1 7 2 2 1-3 2-9 1-6 2-2 1-2 2-8 1-9 2-8 1-8 2-8 1-2 2 7 1 10 2-3 1-14 2-13 1 3 2 17 1 17 2 10 1 1 2-5 1-10 2-10 1-4 2 0 1 0 2-7 1-12 2-8 1 4 0 8 2 11 1 13 2 13 1 4 2-6 1-12 2-15 1-18 2-12 1-3 2 3 1 4 2 8 1 10 2 14 1 15 2 12 1 6 1 4 2 4 2 1 1-4 2-8 1-8 2-6 1-2 2 2 1 2 2 0 1 0 2-1 1 0 2 2 1 8 2 12 1 8 2-2 1-13 2-18 1-18 2-9 1 4 2 13 1 13 2 2 1-10 2-14 1-11 2-7 1-1 2 2 1 5 2 4 1 3 1 3 1 9 1 5 2-6 1-15 2-11 1-1 1 6"/>
<path stroke="#A2142F" d="M203 430l2 1 2-2 2 0 2 8 2 5 2-4 2-3 2 1 2-2 2-7 2-13 2-22 2-17 2-7 2 10 2 22 2 15 2 4 2 6 2 6 2-3 2-8 2-12 2-16 2-8 2 0 2 9 2 11 2 3 2 3 2 12 2 12 2 6 2 1 2-2 2 0 2 5 2 2 2-3 2-5 2-7 2-9 2-11 2-21 2-40 2-36 2-8 2 21 2 39 2 28 2 14 2 18 2 14 2 0 2-6 2 0 2 1 2-2 2-2 2 6 2 8 2 1 2-6 2-5 2-3 2-7 2-1 2 10 2 5 2 1 2-3 2-2 2-3 2 1 2 1 2-2 2 3 2 8 2 4 2-6 2-7 2 1 2 6 2 18 2 26 2 37 2 43 2 43 2 19 2-12 2-28 2-26 2-11 2-5 2 2 2-3 2-11 2-12 2-18 2-27 2-12 2 3 2-3 2-8 2-4 2 0 2-1 2-6 2-5 2-4 2-4 2-4 2-3 2-3 2 8 2 10 2-3 2-5 2 1 2 3 2 2 2 0 2-2 2 0 2 1 2 1 2-1 2-3 2 0 2 5 2 2 2-3 2-2 2 2 2 6 2 5 2 0 2-4 2 0 2 4 2-3 2-4 2-1 2-3 2-9 2 1 2 4 2 0 2 0 2 6 2 0 2-11 2-7 2-16 2-36 2-44 2-48 2-35 2 3 2 30 2 35 2 38 2 20 2 1 2-5 2 5 2 12 2 5 2-1 2 10 2 17 2 10 2 6 2 2 2-3 2-1 2 12 2 12 2 2 2-3 2-6 2 0 2 11 2 5 2-2 2 9 2 15 2 10 2 2 2-6 2-2 2 4 2-8 2-12 2 0 2 6 2 3 2 2 2 3 2 3 2 3 2 0 2-2 2-2 2 0 2 8 2 4 2-6 2-5 2-7 2-5 2-2 2-8 2-10 2-5 2-8 2-4 2 3 2 1 2-4 2-4 2-3 2-4 2-8 2-8 2-5 2 5 2 11 2 7 2 8 2 4 2 3 2 5 2-5 2-7 2-4 2-2 2 2 2 2 2 1 2 1 2 1 2-3 2-6 2-4 2 2 2 5 2 5 2 4 2 1 2-5 2-6 2-1 2 6 2 3 2-3 2-2 2-2 2-4 2-4 2 0 2 0 2 0 2 6 2 5 2 3 2 1 2-4 2-2 2 4 2 6 2 0 2-9 2 0 2-1 2-3 2 2 2-2 2 1 2 1 2-4 2-2 2 3 2 0 2-1 2 1 2 4 2 5 2 2 2-5 2-7 2 1 2 6 2 3 2 3 2 2 2 3 3 3 2-1 2-3 2-4 2-6 2 2 2 1 2-3 2 2 2 3 2-5 2-3 2-3 2-7 2-8 2-7 2 4 2 10 2 3 2 7 2 9 2 0 2-1 2-1 2 0 2-2 2 0 2-4 2-7 2-2 2 5 2 3 2-2 2-2 2 1 2-3 2-6 2 4 2 4 2 0 2 1 2 3 2 4 2 5 2-4 2-5 2-5 2 3 2 10 2 1 2-3 2-4 2-3 2-1 2 0 2-10 2-11 2-7 2-3 2 4 2 1 2-4 2-3 2 5 2 10 2 7 2 7 2 4 2-5 2-1 2 6 2 8 2 2 2-2 2 0 2 3 2-4 2-4 2-1 2 3 2 2 2 5 2 4 2-5 2-8 2-1 2 5 2 2 2-1 2-1 2 0 2 0 2-7 2-6 2 3 2 7 2 7 2-1 2-5 2-7 2-2 2 2 2 5 2 5 2 5 2 0 2-2 2-4 2 5 2 11 2 3 2-9 2-10 2 1 2 6 2-4 2-8 2 0 2 0 2-2 2-3 2-4 2 1 2 10 2 4 2 0 2 0 2-2 2-3 2-6 2 3 2 4 2 2 2 3 2-4 2-2 2 7 2 5 2-4 2-3 2-3 2-3 2-4 2-6 2 3 2 3 2-1 2-1 2 8 2 5 2-3 2 0 2-1 2-14 2-11 2-6 2-5 2 2 2 6 2 6 2 8 2 12 2 3 2-4 2 2 2 2 2-1 2-6 2-2 2 3 2 0 2-6 2-5 2-6 2-5 2 1 2 4 2 2 2-4 2 2 2 8 2 0 2 2 2 11 2 6 2-3 2-3 2 4 2-1 2-2 2-1 2 0 2-5 2 0 2 3 2-2 2 1 2 11 2 9 2 19 2 29 2 14 2-7 2-21 2-28 2-20 2 0 2-1 2-7 2 2 2 0 2-13 2-11 2-9 2-10 2-7 2 2 2 8 2 11 2 18 2 12 2 4 2 0 2-3 2-7 2-2 2 4 2 6 2 1 2-2 2-1 2 6 2 6 2-1 2-6 2-2 2 3 2-3 2-7 2 2 2 3 2 6 2 1 2-6 2 2 2 4 2 1 2-2 2-4 2-5 2 0 2 3 2 7 2 5 2-8 2-4 2 2 2 1 2-1 2-6 2-5 2-4 2 6 2 12 2 4 2-3 2-4 2 3 2 1 2 0 2 1 2-3 2-4 2-5 2-2 2-1 2 5 2 11 2 11 2 14 2 16 2 17 2 5 2-8 2-19 2-26 2-31 2-34 2-34 2-25 2-11 2 4 2 18 2 20 2 21 2 17 2 12 2 15 2 9 2 4 2 6 2 6 2-1 2-6 2-2 2-4 2-1 2-3 2-4 2 3 2-1 2 0 2 4 2 7 2 3 2 0 2 2 2-2 2-6 2-6 2-4 2 0 2 7 2 5 2 1 2-5 2-3 2-1 2 2 2 7 2 0 2-8 2 5 2 6 2 2 2 1 2-1 2-4 2-1 2 3 2-3 2-6 2-6 2-9 2-12 2-10 2-5 2 7 2 11 2 9 2 12 2 12 2 1 2-4 2-6 2-9 2 2 2 9 2 4 2-1 2 3 2 8 2 8 2 19 2 34 2 37 2 34 2 3 2-38 2-45 2-32 2-22 2-6 2 4 2 11 2 6 2 4 2 17 2 11 2-3 2-9 2-13 2-15 2-12 2-6 2-2 2-1 2-4 2 2 2 6 2 0 2-5 2-2 2 6 2 1 2 0 2-2 2 1 2 9 2 0 2-6 2-1 2-2 2-9 2-7 2 6 2 3 2-9 2-12 2-5 2-2 2 1 2 6 2 5 2 4 2 8 2 9 2 2 2 1 2 5 2 4 2-6 2-12 2 2 2 8 2 9 2 8 2-1 2 2 2 5 2 2 2-1 2 1 2-5 2-10 2-8 2-7 2-1 2-1 2-6 2-2 2 4 2 7 2 8 2 1 2-6 2-8 2-3"/>
<path stroke="#0072BD" d="M203 428l2 6 2 3 2-7 2-15 2 1 2 17 2 11 2-2 2-11 2-17 2-19 2-13 2-10 2 2 2 12 2 17 2 14 2 0 2 1 2 9 2 8 2-4 2-21 2-11 2 8 2 7 2-5 2-3 2 3 2 12 2 12 2 11 2 4 2-9 2-14 2-4 2 3 2 1 2 2 2-1 2 2 2-4 2-18 2-29 2-36 2-23 2-11 2 12 2 33 2 27 2 21 2 21 2 19 2 11 2-9 2-8 2 3 2 7 2-5 2-1 2 4 2-2 2-6 2-10 2 5 2 11 2 6 2 0 2-11 2-12 2-4 2 4 2-3 2-3 2 10 2 17 2 15 2-9 2-16 2-7 2 2 2 4 2 10 2 22 2 22 2 28 2 43 2 40 2 28 2 3 2-15 2-20 2-27 2-17 2-3 2 5 2-5 2-12 2-22 2-25 2-8 2-11 2-13 2 4 2 10 2-6 2-13 2-21 2-8 2 9 2 12 2 17 2 0 2-13 2-12 2-12 2 3 2 10 2-4 2-7 2 6 2 7 2 5 2-5 2-10 2-4 2 13 2 11 2-2 2-9 2-11 2-13 2 4 2 13 2 11 2 2 2-6 2-5 2-6 2 4 2 9 2 7 2 2 2-5 2-5 2-3 2 1 2 6 2 7 2-5 2-12 2-13 2-6 2-7 2-17 2-42 2-69 2-54 2-7 2 45 2 60 2 39 2 7 2-3 2 0 2 13 2 17 2 14 2-1 2-1 2 4 2 4 2 9 2 12 2 12 2-4 2-11 2-5 2 12 2 13 2 6 2-10 2-12 2-6 2 17 2 23 2 15 2 5 2 6 2 5 2 1 2-12 2-14 2 6 2 7 2-6 2-14 2-11 2 10 2 15 2 10 2 0 2-6 2-13 2-11 2 10 2 5 2-5 2 6 2 5 2-2 2-6 2-14 2-14 2-14 2-7 2 7 2 8 2 9 2-3 2-17 2-19 2-4 2 8 2 7 2-1 2-9 2-6 2 2 2 13 2 5 2-3 2 5 2 7 2 2 2-7 2-9 2-11 2-1 2 17 2 17 2 5 2-8 2-7 2-13 2-4 2 15 2 17 2 4 2-6 2-9 2-9 2 0 2 8 2 10 2-2 2-12 2-8 2 1 2 11 2 11 2 13 2 3 2-10 2-4 2-10 2-11 2-12 2-2 2 15 2 12 2 1 2-12 2 0 2 13 2-3 2-8 2-1 2 0 2 3 2-5 2-14 2-3 2 18 2 18 2-3 2-18 2-9 2 5 2 8 2 5 2 14 2 2 2-12 2-12 2-4 2 9 3 7 2 6 2-4 2-10 2-9 2-3 2 11 2 7 2 3 2-2 2-11 2-11 2-14 2-3 2 0 2 5 2 13 2 3 2 2 2 15 2 8 2-12 2-11 2 1 2 11 2 6 2 3 2-1 2-6 2-6 2-5 2 2 2 10 2 12 2 0 2-13 2-9 2 2 2 11 2 14 2-2 2-12 2-13 2-9 2 7 2 16 2 10 2-6 2-8 2 1 2 4 2-8 2-12 2-11 2 0 2 8 2-2 2-6 2-5 2-10 2-10 2-4 2 11 2 13 2 12 2 8 2 0 2-7 2-5 2 7 2 8 2 14 2 8 2-7 2-11 2-3 2 0 2-1 2 3 2 5 2 3 2-7 2-2 2 5 2-6 2-11 2 5 2 4 2 7 2 1 2-6 2-6 2-1 2 8 2 0 2-11 2 4 2 14 2 4 2-2 2-8 2-7 2-7 2 4 2 9 2 15 2 9 2-13 2-13 2-15 2 2 2 20 2 17 2 6 2-13 2-17 2-10 2 8 2 13 2 2 2-10 2-13 2-4 2 9 2 10 2 2 2 0 2 14 2 3 2-16 2-15 2-6 2 9 2 13 2 6 2-9 2-9 2-3 2 5 2 9 2 8 2 6 2-5 2-12 2-14 2-4 2 12 2 11 2 1 2-13 2-14 2-2 2 12 2 8 2 5 2-8 2-30 2-24 2 3 2 21 2 17 2 16 2 3 2-2 2 9 2 2 2-12 2-14 2 3 2 7 2 4 2 1 2-12 2-10 2-9 2-6 2 2 2-1 2 7 2 12 2 11 2 12 2-1 2-9 2 3 2 10 2-2 2 2 2 12 2-2 2-14 2-14 2-3 2 6 2 9 2 6 2-5 2 8 2 23 2 20 2 17 2 2 2-12 2-21 2-33 2-15 2 6 2-3 2-8 2 3 2 7 2 0 2-4 2-13 2-18 2-14 2-8 2 3 2 25 2 30 2 1 2-14 2-9 2 7 2 12 2 5 2 5 2-5 2-13 2-12 2 1 2 15 2 16 2 11 2-9 2-16 2-11 2-1 2 7 2 13 2 3 2-10 2-1 2 2 2 0 2 9 2 16 2 3 2-10 2 5 2 3 2-20 2-23 2-12 2 15 2 20 2 10 2-6 2-17 2-19 2 1 2 19 2 13 2-5 2-12 2-6 2 13 2 12 2 4 2-10 2-18 2-3 2 16 2 1 2-9 2 5 2 12 2 12 2 0 2-7 2 6 2 27 2 26 2 8 2-15 2-39 2-34 2-30 2-41 2-36 2-14 2 19 2 33 2 30 2 12 2 9 2 16 2 7 2 0 2-1 2-8 2-4 2-8 2-5 2 17 2 20 2 10 2-7 2-14 2-9 2 2 2 13 2 17 2 6 2-14 2-19 2-11 2 9 2 10 2 14 2 13 2-7 2-15 2-19 2-5 2 20 2 19 2 7 2-10 2-15 2-3 2 13 2 13 2-2 2-14 2-12 2 1 2 3 2-11 2-3 2 3 2 10 2 6 2-14 2-20 2-19 2 1 2 15 2 21 2 16 2-4 2-11 2-6 2 9 2 11 2 11 2 1 2-14 2-13 2-4 2 10 2 15 2 14 2 15 2 32 2 43 2 42 2 9 2-30 2-45 2-47 2-34 2-16 2 7 2 19 2 22 2 13 2 4 2-7 2-7 2 9 2 5 2-11 2-27 2-22 2-16 2-1 2 16 2 14 2-3 2-10 2-7 2-7 2 8 2 16 2 13 2-8 2-17 2-12 2 7 2 19 2 8 2-15 2-12 2 1 2 2 2-1 2 1 2-8 2-18 2-15 2-1 2 19 2 16 2 14 2 4 2-5 2-4 2-5 2 4 2 5 2-5 2-9 2 6 2 16 2 17 2 0 2-9 2-7 2-3 2 7 2 5 2 7 2 9 2-10 2-17 2-14 2-6 2 6 2 10 2 8 2-4 2-10 2-9 2-4 2 4 2 2 2 3"/>
<path stroke="#D95319" d="M203 420l2 5 2 8 2 6 2 4 2 4 2-3 2-2 2-6 2-8 2-3 2-3 2-10 2-6 2 1 2 9 2 11 2 7 2 4 2 4 2 6 2-1 2-11 2-16 2-12 2 4 2 12 2 1 2-9 2-2 2 6 2 2 2 2 2 12 2 14 2-1 2-8 2-2 2 1 2-5 2-7 2-2 2 3 2-7 2-21 2-22 2-18 2-7 2 13 2 25 2 21 2 10 2 9 2 7 2 3 2-1 2-3 2 0 2-3 2-3 2-5 2-6 2 1 2 8 2 12 2 1 2-12 2-6 2 3 2-1 2-3 2-2 2 5 2 10 2 10 2 4 2-5 2-4 2-1 2-6 2 0 2 3 2-1 2 7 2 15 2 11 2 15 2 27 2 28 2 19 2 1 2-10 2-15 2-17 2-8 2 0 2-3 2-6 2-11 2-16 2-11 2-2 2 2 2-2 2-2 2-1 2-6 2-10 2-4 2 4 2-2 2-4 2-1 2-1 2-8 2-7 2 6 2 9 2 7 2 2 2 1 2 1 2-5 2-6 2 2 2 5 2 3 2 5 2 1 2-7 2-7 2-6 2 2 2 8 2 3 2-3 2 0 2 2 2-3 2-2 2 1 2-4 2-3 2 2 2 5 2 7 2-3 2-4 2 0 2-5 2-8 2-2 2-1 2-5 2-9 2-15 2-23 2-33 2-26 2 2 2 26 2 26 2 16 2 8 2 7 2 5 2 0 2 3 2-2 2-4 2 0 2 9 2 12 2 11 2 13 2 8 2-2 2-7 2-8 2-5 2-1 2 1 2-1 2-3 2-3 2 5 2 17 2 13 2 6 2 6 2 4 2 2 2-6 2-8 2 1 2 9 2 5 2-3 2-2 2 3 2 8 2 3 2-9 2-14 2-5 2 6 2 3 2-5 2 0 2 6 2 4 2-9 2-12 2-1 2 4 2-5 2-14 2-6 2 3 2 3 2-1 2-9 2-9 2-6 2 0 2 3 2 1 2-1 2-2 2 4 2 8 2 2 2 0 2 4 2 8 2 6 2-2 2-8 2-3 2 9 2 0 2-2 2 5 2 1 2 3 2 1 2-6 2-5 2 1 2 4 2 1 2-7 2-2 2 3 2 4 2 6 2 4 2-2 2-1 2 1 2-1 2-2 2-7 2-6 2 2 2 1 2-4 2-3 2 1 2 5 2 6 2 1 2-4 2-4 2 0 2 1 2 5 2 7 2-4 2-8 2 0 2 3 2 1 2 1 2 2 2-2 2-7 2-3 2 7 2 5 2-3 2-6 2 1 2 4 2 0 2-3 2-4 2-1 3 7 2 10 2 4 2-7 2-7 2 3 2 10 2 4 2-3 2-2 2-5 2-1 2 0 2-6 2-7 2-6 2-1 2 3 2-3 2 2 2 7 2 10 2 12 2 3 2-4 2-11 2-7 2 3 2-2 2 3 2 6 2 0 2 0 2-5 2-8 2 2 2 7 2 0 2-3 2-5 2-5 2-1 2 1 2 4 2 5 2 6 2 3 2 0 2-2 2 2 2 1 2-3 2-4 2-1 2 3 2-7 2-17 2-13 2-2 2 3 2 1 2 2 2 6 2 6 2 4 2-1 2-1 2 0 2 6 2 12 2 6 2-8 2-16 2-5 2 9 2 8 2 4 2 7 2 5 2-10 2-7 2 7 2 5 2-3 2-1 2 0 2-5 2-1 2-1 2-7 2-1 2 4 2 5 2 5 2 8 2-1 2-10 2-3 2 6 2 1 2-8 2-7 2 1 2 9 2 11 2 0 2-12 2-8 2-2 2 0 2 2 2 14 2 14 2-2 2-7 2-7 2-7 2 7 2 11 2 0 2-7 2-4 2-5 2-1 2 4 2 7 2 8 2 0 2-9 2-5 2 4 2 7 2 0 2-5 2-5 2-1 2 5 2 6 2 3 2-3 2-8 2-7 2-5 2 0 2 4 2 0 2 4 2 11 2 3 2-1 2-5 2-11 2-5 2-1 2-5 2-9 2-2 2 7 2 3 2-4 2-2 2 11 2 12 2 4 2-2 2-6 2-5 2-2 2-3 2-2 2 7 2 3 2-10 2-7 2-2 2 2 2 3 2 6 2 2 2-5 2-5 2 3 2 5 2 3 2 8 2 9 2 4 2 5 2-2 2-14 2-16 2-2 2 9 2 10 2 3 2 4 2 5 2 2 2 3 2 9 2 7 2 6 2 0 2-11 2-17 2-14 2-9 2-2 2 1 2-1 2-4 2-3 2-6 2-6 2 2 2 0 2-2 2 4 2 8 2 6 2 4 2 1 2 2 2 7 2 9 2 5 2-4 2-6 2 1 2 4 2-2 2-8 2-2 2 4 2 5 2 3 2-6 2-7 2 5 2 5 2-5 2-4 2 9 2 8 2-4 2-5 2-3 2 3 2-1 2-11 2-8 2 2 2 6 2 3 2-3 2-5 2 0 2 3 2 4 2 5 2 3 2 2 2 2 2-5 2-9 2-4 2 3 2 3 2 2 2 0 2-4 2-6 2-9 2 3 2 18 2 12 2 0 2-6 2 2 2 13 2 17 2 5 2-2 2-3 2-12 2-19 2-27 2-31 2-23 2-9 2-5 2-4 2 13 2 25 2 21 2 13 2 12 2 9 2 0 2 0 2 0 2 0 2-1 2 4 2 6 2 1 2-4 2-7 2-2 2 1 2 0 2 4 2 6 2-1 2-6 2-7 2-1 2 4 2 7 2 0 2-7 2 0 2 8 2 0 2-11 2-6 2 3 2 7 2 1 2-3 2 6 2 4 2-7 2-5 2 0 2 2 2-2 2 2 2 5 2-5 2-6 2 6 2 8 2-5 2-16 2-14 2-2 2 1 2 5 2 7 2 6 2 3 2 6 2 5 2 5 2-3 2-10 2-7 2 3 2 5 2 2 2 8 2 11 2 9 2 17 2 30 2 29 2 2 2-22 2-26 2-25 2-23 2-11 2 0 2-1 2 2 2 13 2 21 2 12 2 0 2 2 2-1 2-13 2-16 2-13 2-5 2 3 2 0 2-3 2 0 2-1 2-1 2 2 2 0 2-1 2 8 2 4 2-5 2-1 2 5 2 1 2-1 2-5 2-4 2-2 2-5 2-4 2 2 2 4 2 2 2-5 2-3 2 4 2 2 2-6 2-3 2 9 2 7 2 3 2 6 2 3 2-9 2-8 2 1 2 5 2 4 2 7 2 12 2 8 2 5 2-6 2-11 2-5 2 0 2-1 2-1 2-4 2-3 2-3 2-6 2-9 2 1 2 12 2 8 2-3 2-5 2-4 2-4"/>
<path stroke="#EDB120" d="M203 434l2 10 1 8 2 1 1-8 2-11 1-9 2-2 1 5 2 11 1 9 2 0 1-8 2-12 1-13 2-14 1-24 2-32 1-28 1-6 2 26 2 42 1 44 2 36 1 25 2 11 1-5 2-16 1-20 2-17 1-18 2-21 1-24 2-20 1-6 2 13 1 24 2 23 1 15 2 2 1-3 2-1 1 2 2 2 1 4 2 12 1 19 2 20 1 15 1 7 1 5 1-3 2-4 1 4 2 7 1 0 0-1 2-9 1-15 2-21 1-31 2-48 1-62 2-58 1-29 2 14 1 45 2 50 1 39 2 24 1 14 2 6 1-6 2-15 1-18 2-14 1-4 2 9 1 13 2 7 1-4 2-10 1-7 2 4 1 12 2 12 1 9 2 8 1 7 2 6 1 2 2-1 1 0 2 0 1-5 2-17 1-24 2-18 1 0 2 22 1 27 2 17 1 3 2-3 1-3 2 0 1 3 2 3 1-2 2-13 1-19 2-14 1 4 0 10 2 11 1 10 2 11 1 14 2 24 1 42 2 64 1 69 2 45 1-3 2-45 1-61 2-52 1-30 2-3 1 22 2 33 1 22 2-7 1-32 2-37 1-25 2-13 1-10 2-12 1-16 2-20 1-22 1-12 2 12 2 24 1 22 2 19 1 17 2 14 1-1 1-10 1-12 1-43 2-51 1-26 2 11 1 38 2 35 1 14 2-2 1-8 2-7 1-5 2-2 1-1 2 4 1 9 2 7 1 1 2-3 1-5 2-9 1-9 2 1 1 11 2 16 1 8 2 1 1-2 2 1 1 2 2-1 1-3 2-4 1-4 2-1 1 6 2 9 1 4 2-7 1-10 2-8 1-3 2 0 1 3 2 6 1 4 2-4 1-13 2-19 1-21 2-13 1 3 2 17 1 20 2 16 1 9 2 8 1 6 2 3 1-1 2-14 1-24 2-87 1-77 2-51 1 0 2 41 1 53 2 38 1 18 2 12 0 10 1 5 2 8 1 13 2 13 1 11 2 8 1 10 2 13 1 7 1-3 2-27 2-36 1-33 2-17 1 5 2 22 1 29 2 24 1 15 2 6 1 1 2 1 1 0 2-3 1-4 2-2 1 3 2 4 1 1 2 1 1 9 2 22 1 33 2 31 1 18 2-7 1-29 2-36 1-28 2-10 1 2 2 2 1 1 2 2 1 7 2 13 1 22 2 24 1 14 2-6 1-21 2-20 1-8 2 7 1 16 2 13 1 0 2-17 1-22 2-14 1 0 2 13 1 19 2 14 1-1 2-17 1-27 2-28 1-21 2-11 1 1 2 8 1 10 2 8 1 5 2 3 1 1 2 0 1-2 2-8 1-19 2-26 1-23 2-9 1 9 2 22 1 27 2 22 1 9 2-2 1-5 2-1 1 6 2 8 1 7 2 2 1-4 2-6 1-5 2-3 1 0 2 1 1 2 2 1 1 0 2-2 1-4 2-4 1-4 2-9 1-17 2-19 1-7 2 9 1 18 2 20 1 14 2 4 1-3 2-7 1-5 2-4 1-6 2-10 1-11 2-9 1-3 2 9 1 18 2 22 1 21 2 16 1 7 2-5 1-13 2-15 1-9 2-3 1-1 2-6 1-13 2-17 1-14 1-5 1 1 1 11 2 15 1 14 2 10 1 2 2-4 1-2 2 4 1 9 2 7 1 2 2-1 1 0 2 5 1 11 2 16 1 15 1 2 2-16 2-25 1-20 2-2 1 13 2 18 1 16 2 9 1-2 2-14 1-18 2-16 1-6 2 4 1 10 2 7 1-1 2-6 1-5 2-2 1 0 2 0 1 0 2-1 1-3 2-2 1 2 2 7 1 13 2 16 1 14 2 8 0 1 1-1 2-15 1-28 2-36 1-35 2-28 1-13 2 10 1 29 2 34 1 25 2 14 1 6 2-1 1-4 2-6 1-7 2-6 1-2 2 6 1 14 2 16 1 8 1 0 2-5 2-5 1-8 2-9 1-7 2-4 1-3 2 0 1 5 2 8 1 7 2 2 1-2 2-5 1-7 2-8 1-8 2-1 1 8 2 12 1 7 2-9 1-21 2-19 1-5 2 12 1 17 2 14 1 7 2 3 1 5 2 6 1 5 2 1 1-5 2-11 1-12 2-14 1-16 2-18 1-15 1-8 2-7 2-4 1-1 2 6 1 12 2 14 1 15 2 12 1 9 2 4 1 5 2 9 1 6 2-3 1-8 2-6 1-2 2-2 1-6 2-6 1 0 2 8 1 15 2 15 1 7 2-4 1-9 2-6 1-3 2-4 1-8 2-9 1-12 2-16 1-15 1-6 2 9 2 21 1 21 2 16 1 6 2 0 1-5 2-9 1-10 2-5 1 6 2 12 1 9 2 5 1 5 2 4 1-2 2-8 1-8 2-7 1-4 2 2 1 8 2 7 1 1 2-2 1-3 2-6 1-9 2-10 1-11 2-11 1-2 2 10 1 16 2 13 1 7 2 4 1 4 2 2 1-1 2 0 1 4 2 9 1 15 2 17 1 18 2 16 1 9 2-5 1-15 2-12 1 0 2 7 1 8 2-3 1-18 2-26 1-23 2-14 0-4 1 0 2 15 1 26 2 28 1 16 1 0 1-1 1-14 2-27 1-26 2-14 1-3 2 1 1 2 2 1 1-1 2-3 1-3 2-5 1-7 2-5 0-1 1-2 2 14 1 24 1 21 2 8 1-6 2-12 1-11 2-9 1-10 2-16 1-22 2-24 1-20 2-9 1 10 2 24 1 25 2 19 1 8 2 5 1 9 2 16 1 16 2 11 1 3 2-2 1-7 2-11 1-10 2-10 1-10 2-15 1-21 2-22 1-10 2 9 1 20 2 17 1 8 2 2 1 1 2-1 1-4 2-6 1-6 2-5 1-2 1 3 1 3 1 13 2 15 1 9 2-2 1-13 2-16 1-10 2 3 1 12 2 9 1 2 2 0 1 2 2 7 1 11 2 14 1 15 2 10 1 1 2 3 1 19 2 36 1 35 2 13 1-12 2-21 1-14 2-2 1 1 2-14 1-29 2-34 1-24 2-8 1 2 2 1 1-2 2-2 1-6 2-16 1-24 2-20 1-4 2 13 1 22 2 24 1 22 2 13 1 7 2 3 1-6 2-12 1-9 2 1 1 5 2 5 1 3 2-2 1-7 2-6 1-3 2 0 1-1 2-2 1 1 2 5 1 10 2 17 1 20 2 15 1 4 2-5 1-5 2-1 1 1 2-2 1-11 2-17 1-19 2-13 1-2 2 7 1 6 2 3 1 3 2 7 1 8 2 3 1-5 2-12 1-14 2-9 1 4 2 17 1 26 2 21 1 4 2-20 1-29 2-28 1-19 1-3 1 1 1 10 2 18 1 21 2 22 1 17 1 2 2-13 2-21 1-22 2-14 1-1 2 8 1 7 2 5 1 4 2 4 1 0 2-3 1-5 2-8 1-11 2-8 1-1 2 10 1 21 2 32 1 36 2 32 1 13 2-13 1-30 2-27 1-17 2-18 1-28 2-40 1-43 2-32 1-5 2 5 1 3 2-11 1-9 1 0 1 8 1 34 2 39 1 24 2 3 1-6 1-4 2 10 2 17 1 18 2 12 1 2 2-3 1-1 2 7 1 11 2 10 1 1 2-5 1-7 2-8 1-10 2-9 1-9 2-10 1-9 2 4 1 15 2 15 1 8 2 4 1 0 2-1 1 2 2 2 1 2 2-1 1-3 2-7 1-4 2 3 1 7 2 7 1-1 2-6 1-10 2-6 1 0 2 1 1-4 2-9 1-10 2-10 1-10 2-4 1 11 2 31 1 33 2 16 1 4 2-6 1-7 2-10 1-11 2-6 1-2 2 2 1 1 2-6 1-17 2-26 1-29 2-18 1-2 2 14 1 21 2 20 1 13 2 10 1 12 2 14 1 9 0 7 2-1 1-5 2-6 1-3 2 2 1 2 2-4 1-10 2-12 1-14 2-12 1-4 2 12 0 10 1 12 2 44 1 65 2 59 1 20 2-29 1-50 2-43 1-26 2-12 1-8 2-8 1-9 2-8 1-1 2 7 1 17 2 29 1 37 2 30 1 10 2-18 1-31 2-27 1-17 2-11 1-6 2-2 1-1 2-2 1 1 2 6 1 7 2 3 1-3 2-8 1-10 2-7 1-4 2-3 1-3 2-4 1-3 2-3 1 0 2 1 1 2 2-2 1-8 2-5 1 5 0 1 2 4 1 8 2 9 1 7 2 4 1 1 2-5 1-14 2-21 1-24 2-17 1-3 2 15 1 26 2 25 1 21 2 17 1 11 1-1 2-12 2-10 1-1 2 6 1 4 2-2 1-6 2-4 1-2 2-1 1 1 2 8 1 13 2 13 1 12 2 7 1-1 2-9 1-13 2-14 1-13 2-9 1-7 2-7 1-8 2-8 1-4 2 1 1 8 2 12 1 12 2 6 1-9 2-18 1-16 1-6 1 1 1 11 2 13 1 9 2 1 1-6 1-5"/>
<path stroke="#7E2F8E" stroke-width="2.5" d="M203 430l2 1 1-5 2-26 1-27 2 11 1 37 2 19 1 17 2 44 1 30 2-32 1-48 2-24 1-18 2-26 1-21 2 12 1 25 1 10 2 57 2 28 1-24 2-30 1-13 2-19 1-31 2-8 1 27 2 20 1 3 2 7 1 25 2 22 1-7 2-35 1-13 2 1 1-5 2-28 1-24 2 24 1 39 2 15 1-2 2-24 1-47 2-17 1 39 1 21 1 19 1 23 2 32 1 17 2-20 1-12 0-17 2-27 1-21 2-29 1-23 2 13 1 17 2-2 1-4 2 11 1 28 2 21 1-5 2 0 1 6 2-14 1-46 2-41 1 19 2 49 1 17 2 20 1 22 2 13 1-9 2-14 1-6 2-5 1-12 2-30 1-33 2 13 1 33 2 12 1 14 2 18 1 24 2 26 1-15 2-38 1-20 2-20 1-20 2-5 1 28 2 21 1 8 2 6 1 23 2 21 1-19 2-31 1-26 2-36 1-26 2 20 1 19 0 12 2 24 1 13 2 29 1 63 2 35 1-26 2-24 1-1 2-10 1-33 2-21 1 9 2 9 1 4 2 7 1 22 2 40 1 9 2-37 1-36 2-20 1-28 2-25 1 17 2 27 1 0 2-9 1 8 1 17 2 31 2-12 1-27 2-20 1-25 2-29 1-1 1 7 1 13 1 30 2 29 1 27 2-3 1-32 2-26 1-19 2-32 1-24 2 22 1 39 2 16 1 1 2 6 1 27 2 15 1-19 2-27 1-30 2-36 1-5 2 31 1 23 2 11 1 7 2 18 1 31 2 6 1-31 2-27 1-10 2-9 1-17 2-21 1 6 2 27 1 11 2-2 1 4 2 17 1 31 2 9 1-18 2-15 1-12 2-22 1-35 2-15 1 27 2 33 1 21 2 27 1 30 2-10 1-34 2-23 1-37 2-54 1-10 2 31 1 8 2-17 1-10 2 18 1 48 2 18 1-31 2-21 1-15 2-35 0-7 1 3 2 34 1 37 2 17 1 7 2 22 1 47 2 15 1-41 1-27 2-15 2-11 1-25 2-18 1 13 2 31 1 37 2 42 1 16 2-28 1-31 2-13 1 0 2 21 1 24 2-10 1-23 2-16 1-2 2 4 1-16 2-24 1 16 2 37 1 14 2 1 1 13 2 28 1 11 2-29 1-34 2-17 1-15 2-21 1 4 2 31 1 23 2 22 1 24 2-4 1-26 2-13 1-1 2-1 1-16 2-35 1-8 2 26 1 17 2 6 1-5 2-29 1-21 2 23 1 27 2 6 1 12 2 34 1 34 2-17 1-45 2-36 1-29 2-25 1 5 2 33 1 19 2 16 1 43 2 33 1-31 2-48 1-19 2-19 1-31 2-9 1 30 2 27 1 12 2 28 1 44 2 11 1-35 2-31 1-18 2-15 1-34 2-47 1 2 2 49 1 36 2 14 1 20 2 33 1 3 2-31 1-17 2-7 1-9 2-23 1-42 2-17 1 35 2 41 1 4 2 0 1 24 2 42 1 11 2-38 1-40 2-32 1-32 2 5 1 38 2 30 1 13 2 6 1 24 2 17 1-24 2-30 1-7 2-4 1-30 2-28 1 15 2 32 1 15 2 2 1 13 2 42 1 16 1-18 1-22 1-27 2-8 1-4 2 15 1 31 2 10 1-28 2-25 1-13 2-28 1-27 2 18 1 37 2 17 1 6 2 6 1 20 1 22 2-5 2-33 1-16 2-2 1 21 2 49 1 15 2-44 1-44 2-18 1-16 2-27 1-5 2 32 1 31 2 13 1 17 2 39 1 31 2-32 1-47 2-30 1-42 2-20 1 35 2 40 1 23 2 29 1 19 2-26 1-34 2-14 0-2 1 6 2 1 1-27 2-35 1 5 2 27 1 14 2 7 1 9 2 26 1 31 2-5 1-33 2-22 1-32 2-44 1 2 2 41 1 25 2 20 1 32 2 3 1-28 1-13 2-3 2-1 1-20 2-29 1-5 2 26 1 24 2 7 1 9 2 36 1 28 2-23 1-43 2-37 1-47 2-22 1 33 2 39 1 16 2 0 1-16 2-24 1-2 2 26 1 19 2 10 1 6 2 15 1 24 2 5 1-23 2-19 1-11 2-29 1-51 2-19 1 34 2 36 1 17 2 23 1 32 1 4 2-45 2-21 1-4 2-27 1-49 2 2 1 51 2 34 1 7 2 9 1 35 2 36 1-11 2-37 1-25 2-14 1-14 2-35 1-28 2 23 1 47 2 33 1 25 2 8 1-18 2-21 1 9 2 38 1 27 2-24 1-43 2-19 1-3 2-17 1-28 1-8 2 25 2 28 1 15 2 11 1 28 2 25 1-12 2-30 1-17 2-11 1-25 2-40 1-6 2 33 1 25 2 10 1 16 2 15 1-12 2-16 1-3 2-6 1-29 2-37 1 10 2 39 1 21 2 2 1-7 2-15 1-14 2 11 1 23 2 11 1 4 2 24 1 21 2-18 1-30 2-9 1-12 2-21 1 2 2 20 1 13 2 6 1 4 2 9 1 12 2 5 1-23 2-17 1 4 2-3 1-28 2-29 1 8 2 26 1-3 2-38 0-21 1-11 2 21 1 48 2 24 1 5 1 7 1 14 1 36 2 19 1-24 2-28 1-15 2-16 1-30 2-36 1 8 2 36 1 22 2 33 1 49 2 2 0-28 1-21 2-29 1-19 1-42 2-13 1 37 2 29 1 6 2 19 1 36 2 6 1-38 2-32 1-14 2-16 1-38 2 7 1 32 2 24 1 26 2 37 1 25 2-20 1-32 2-14 1-18 2-31 1-21 2 14 1 24 2 7 1 1 2 17 1 42 2 18 1-33 2-36 1-14 2-24 1-47 2-12 1 47 2 45 1 29 2 41 1 21 2-30 1-36 1-12 1 0 1-3 2-21 1-32 2-3 1 26 2 22 1 10 2 12 1 28 2 32 1-12 2-44 1-18 2-3 1-11 2-24 1-34 2-6 1 41 2 36 1 21 2 21 1 36 2 32 1-18 2-44 1-33 2-40 1-26 2 16 1 26 2 8 1 10 2 34 1 32 2-16 1-42 2-28 1-8 2-12 1-31 2-20 1 16 2 33 1 16 2 7 1-8 2-23 1-11 2 16 1 19 2 13 1 4 2-18 1-38 2-13 1 33 2 35 1 14 2 7 1 28 2 41 1-13 2-45 1-22 2-10 1-21 2-37 1-16 2 32 1 34 2 33 1 54 2 28 1-39 2-41 1-20 2-11 1-28 2-21 1 11 2 22 1 17 2 13 1 15 2 26 1 13 2-25 1-27 2-13 1-15 2-30 1-15 2 33 1 34 2 5 1-6 2-32 1-22 2 17 1 32 1 12 1 0 1-15 2-25 1-20 2 7 1 26 1 15 2 33 2 40 1 7 2-34 1-24 2-6 1-7 2-18 1-33 2-17 1 23 2 34 1 34 2 44 1 10 2-32 1-20 2-28 1-40 2-14 1 28 2 30 1 8 2-23 1-36 2-3 1 32 2 25 1 24 2 34 1-3 2-53 1-34 2-43 1-35 2-15 1 32 1 20 1 12 1 17 2 4 1-8 2-14 1 3 1 17 2 30 2 20 1 37 2 16 1-29 2-35 1-18 2-25 1-28 2 12 1 34 2 17 1 16 2 41 1 21 2-27 1-32 2-18 1-15 2-24 1-25 2 10 1 37 2 22 1 13 2 26 1 6 2-28 1-18 2-5 1-14 2-38 1-29 2 22 1 40 2 28 1 38 2 39 1-12 2-41 1-25 2 1 1 31 2 35 1-11 2-41 1-28 2-28 1-25 2 11 1 29 2 12 1 19 2 19 1 2 2-15 1-8 2 12 1 38 2 28 1-27 2-44 1-17 2-1 1-15 2-41 1-28 0-17 2 28 1 51 2 19 1 6 2 23 1 31 2 1 1-12 0-22 2-16 1 4 2-5 1-25 2-27 1-1 2 24 1 20 2 28 1 43 2 11 1-31 2-21 0-1 1-6 2-20 1-16 2 32 1 35 2 23 1-31 2-54 1-24 2 23 1 23 2 13 1 24 2 30 1-7 2-39 1-16 2 13 1 19 2 26 1 10 2-26 1-30 2-33 1-39 2-12 1 28 2 23 1 2 2-2 1 15 2 30 1 8 2-24 1-21 2-11 1-21 2-18 1 10 2 21 1 13 2 4 1 8 2 27 1 32 2-9 1-35 2-18 1-3 2-5 1-6 0-13 2-33 1 1 2 25 1 16 2 6 1 13 2 20 1-2 2-20 1-15 2-2 1 14 2 26 1-4 2-19 1-10 2-5 1-13 1-9 2-1 2 19 1 5 2-20 1-32 2 0 1 34 2 21 1 5 2-1 1-14 2-30 1-11 2 27 1 26 2 22 1 38 2 21 1-21 2-28 1-18 2-25 1-26 2 3 1 28 2 20 1 5 2 6 1 23 2 28 1-8 2-33 1-30 2-38 1-44 1-5 1 14 1 39 2 24 1 30 2 45 1 12 1-23"/>
<path stroke="#77AC30" stroke-width="3" d="M203 422l2 0 1 5 2 9 1 11 2 9 1 1 2-7 1-10 2-9 1-7 2 0 1 7 2 6 1-9 2-25 1-39 2-45 1-31 1 2 2 49 2 65 1 57 2 31 1 9 2 0 1-4 2-10 1-18 2-23 1-28 2-34 1-39 2-34 1-13 2 17 1 26 2 21 1 15 2 16 1 16 2 13 1 17 2 17 1 13 2 12 1 16 2 17 1 7 1-6 1-8 1-7 2 9 1 23 2 20 1 0 0-8 2-29 1-37 2-40 1-45 2-53 1-58 2-50 1-21 2 24 1 56 2 59 1 43 2 22 1 7 2-2 1-9 2-19 1-25 2-20 1-7 2 7 1 8 2-6 1-16 2-8 1 17 2 33 1 35 2 28 1 20 2 6 1-6 2-8 1 1 2 9 1 8 2-3 1-16 2-29 1-35 2-31 1-12 2 12 1 31 2 35 1 29 2 18 1 1 2-12 1-15 2-16 1-22 2-22 1-15 2 2 1 12 0 13 2 30 1 24 2 12 1 3 2 15 1 44 2 82 1 98 2 65 1-6 2-70 1-91 2-62 1-17 2 19 1 44 2 47 1 21 2-24 1-56 2-60 1-46 2-27 1-13 2-11 1-20 2-30 1-25 1-5 2 28 2 36 1 38 2 38 1 36 2 24 1 1 1-13 1-24 1-62 2-63 1-38 2-9 1 20 2 32 1 31 2 19 1 3 2-6 1-6 2 2 1 6 2-1 1-15 2-21 1-12 2-1 1 2 2 2 1 7 2 14 1 15 2 12 1 8 2 3 1-1 2-2 1 3 2 6 1 8 2 7 1 5 2-2 1-10 2-17 1-16 2-7 1 3 2 9 1 15 2 19 1 13 2-4 1-21 2-26 1-27 2-27 1-18 2-1 1 9 2 10 1 8 2 12 1 16 2 18 1 21 2 24 1 15 2-14 1-35 2-132 1-120 2-76 1 4 2 68 1 81 2 55 1 19 2-2 0-4 1-4 2 8 1 17 2 21 1 25 2 27 1 28 2 28 1 16 1-5 2-48 2-63 1-59 2-27 1 14 2 46 1 52 2 37 1 21 2 5 1-6 2-9 1-1 2 5 1 3 2-7 1-10 2-6 1-2 2 5 1 19 2 36 1 48 2 47 1 29 2-5 1-34 2-46 1-44 2-36 1-21 2-2 1 10 2 14 1 14 2 17 1 24 2 26 1 13 2-9 1-25 2-19 1 2 2 24 1 29 2 17 1-4 2-27 1-37 2-27 1-3 2 19 1 28 2 11 1-19 2-40 1-38 2-25 1-13 2 3 1 17 2 20 1 13 2 5 1 2 2 4 1 3 2-1 1-5 2-10 1-14 2-24 1-35 2-33 1-11 2 12 1 23 2 23 1 17 2 16 1 18 2 14 1 4 2-4 1-1 2 6 1 9 2 3 1-9 2-12 1-12 2-10 1-6 2 3 1 11 2 12 1 4 2-5 1-9 2-13 1-17 2-16 1-7 2 6 1 15 2 15 1 10 2 4 1 0 2 0 1 3 2 5 1 4 2-3 1-13 2-17 1-11 2 1 1 10 2 17 1 21 2 20 1 8 2-7 1-19 2-18 1-9 2 1 1 9 2 8 1-1 2-13 1-19 1-12 1-11 1 3 2 19 1 26 2 20 1 8 2-3 1-13 2-11 1-3 2 2 1 3 2 4 1 9 2 9 1 3 2 2 1 3 1 5 2 2 2 5 1 5 2 5 1 6 2 8 1 7 2-3 1-17 2-34 1-43 2-30 1-6 2 12 1 14 2 11 1 10 2 6 1 0 2-3 1 1 2 10 1 14 2 7 1-1 2-5 1-11 2-14 1-5 2 17 1 30 2 19 0-1 1-12 2-30 1-32 2-27 1-27 2-23 1-10 2 11 1 26 2 32 1 24 2 9 1-3 2-2 1 4 2 11 1 13 2 7 1 2 2 2 1 4 2 3 1-4 1-8 2-9 2-1 1 2 2 3 1 4 2 4 1 1 2-2 1-6 2-10 1-10 2-7 1-2 2-6 1-12 2-5 1 9 2 19 1 18 2 8 1-4 2-14 1-20 2-17 1-9 2 4 1 17 2 23 1 18 2 10 1 1 2-6 1-9 2-10 1-6 2-4 1-8 2-10 1-15 2-20 1-17 1-3 2 2 2-2 1-8 2-1 1 15 2 27 1 24 2 13 1 6 2 3 1-6 2-9 1-3 2 7 1 10 2 7 1 4 2-1 1-5 2-6 1-3 2 0 1 8 2 18 1 17 2 9 1-5 2-9 1-8 2-5 1-9 2-13 1-21 2-27 1-25 1-7 2 18 2 32 1 30 2 17 1 3 2-4 1-3 2 6 1 10 2 5 1-7 2-13 1-8 2 5 1 18 2 20 1 7 2-10 1-18 2-14 1-10 2-6 1 0 2 7 1 12 2 10 1 1 2-11 1-18 2-22 1-24 2-18 1 3 2 25 1 29 2 22 1 11 2 2 1-3 2-8 1-9 2-8 1-2 2 5 1 17 2 28 1 31 2 26 1 7 2-19 1-32 2-22 1 0 2 19 1 21 2 5 1-15 2-31 1-36 2-29 0-11 1 3 2 32 1 54 2 53 1 32 1 4 1-5 1-33 2-48 1-45 2-28 1-6 2 10 1 15 2 15 1 13 2 4 1-9 2-17 1-16 2-6 0 1 1 4 2 21 1 24 1 11 2-12 1-22 2-15 1-1 2 0 1-6 2-13 1-21 2-31 1-31 2-11 1 13 2 29 1 28 2 24 1 18 2 15 1 15 2 14 1 9 2 3 1 0 2-6 1-13 2-11 1-4 2-7 1-20 2-30 1-31 2-22 1-6 2 12 1 29 2 33 1 24 2 6 1-6 2-11 1-11 2-10 1-9 2-11 1-7 1 0 1 0 1 21 2 27 1 16 2-6 1-24 2-30 1-26 2-7 1 20 2 35 1 37 2 27 1 10 2-5 1-8 2 6 1 21 2 20 1 6 2 0 1 12 2 31 1 37 2 20 1-6 2-25 1-27 2-20 1-17 2-25 1-23 2-14 1-1 2 8 1 8 2-3 1-18 2-25 1-31 2-35 1-30 2-11 1 10 2 38 1 37 2 20 1 2 2-10 1-8 2 0 1 11 2 15 1 14 2 11 1 4 2-3 1-9 2-8 1-3 2 3 1 4 2 2 1-2 2-3 1-6 2-7 1-1 2 20 1 39 2 40 1 15 2-12 1-21 2-18 1-17 2-15 1-13 2-3 1 2 2 2 1 1 2-3 1-4 2-3 1 0 2 7 1 10 2 9 1 5 2 1 1 2 2 6 1 6 2 4 1 3 2-1 1-8 2-29 1-30 2-25 1-10 1 6 1 8 1 28 2 32 1 23 2 17 1 12 1 6 2-16 2-26 1-29 2-18 1-1 2 14 1 17 2 7 1-5 2-11 1-14 2-15 1-11 2-1 1 5 2 3 1-1 2 5 1 19 2 38 1 46 2 39 1 17 2-9 1-31 2-41 1-44 2-46 1-46 2-39 1-33 2-21 1-5 2 8 1-1 2-22 1-25 1-2 1 12 1 43 2 52 1 30 2 6 1-3 1 1 2 19 2 15 1 14 2 17 1 17 2 9 1 2 2 6 1 19 2 23 1 13 2-8 1-27 2-31 1-26 2-29 1-30 2-19 1 2 2 26 1 37 2 30 1 12 2-4 1-5 2-4 1-3 2 2 1 7 2 7 1 1 2 0 1 3 2 2 1-3 2-9 1-11 2-9 1-4 2-2 1 1 2 8 1 10 2 4 1-12 2-27 1-28 2-13 1 13 2 39 1 50 2 35 1 25 2-7 1-25 2-25 1-15 2-1 1 7 2 4 1-11 2-27 1-35 2-35 1-33 2-20 1-5 0 5 2 35 1 46 2 38 1 24 2 15 1 11 2 7 1 3 2-12 1-10 2-2 1 2 2 4 1 7 2 2 1-8 2-21 1-30 2-30 1-18 2 9 0 19 1 38 2 86 1 99 2 70 1 10 2-59 1-83 2-72 1-45 2-20 1-5 2 6 1 11 2 10 1 4 2 3 1 12 2 24 1 31 2 28 1 11 2-8 1-19 2-18 1-16 2-16 1-13 2-7 1-4 2-7 1-10 2-7 1 1 2 6 1 6 2 3 1 1 2 1 1-1 2-2 1-3 2-4 1-5 2-11 1-16 2-14 1-7 2-5 1-8 2-4 1 3 0 1 2 14 1 19 2 24 1 28 2 20 1 1 2-16 1-24 2-31 1-36 2-32 1-14 2 13 1 31 2 38 1 35 2 26 1 13 1 3 2-20 2-21 1-15 2-1 1 9 2 12 1 11 2 7 1-3 2-9 1-5 2 2 1 12 2 21 1 23 2 17 1 3 2-10 1-18 2-23 1-23 2-21 1-19 2-20 1-17 2-11 1-1 2 14 1 26 2 26 1 11 2-5 1-18 2-25 1-24 1-10 1-4 1 15 2 27 1 21 2 8 1-4 1-6"/>
<path stroke="#4DBEEE" stroke-width="3.1" d="M203 467l2 14 1 0 2-19 1-22 2-13 1-3 2 10 1 9 2-12 1-23 2-6 1 9 2 14 1 12 2-1 1-30 2-66 1-69 1-15 2 37 2 58 1 58 2 49 1 40 2 28 1-1 2-28 1-36 2-40 1-47 2-45 1-33 2-12 1 14 2 58 1 41 2 18 1 10 2-12 1-26 2 0 1 31 2 33 1 30 2 25 1 22 2 23 1 16 1-6 1-14 1-26 2 0 1 32 2 28 1 3 0 7 2-19 1-37 2-49 1-63 2-84 1-96 2-78 1-17 2 58 1 90 2 76 1 40 2 6 1-13 2-19 1-16 2-13 1-18 2-20 1-6 2 19 1 7 2-9 1-15 2-8 1 16 2 49 1 59 2 35 1 1 2-13 1-17 2-12 1-3 2 2 1 7 2 10 1 0 2-22 1-39 2-38 1-15 2-11 1 20 2 39 1 34 2 19 1-5 2-19 1-3 2 10 1-13 2-30 1-23 2-6 1 7 0 12 2 33 1 30 2 10 1 5 2 21 1 42 2 83 1 128 2 104 1 11 2-76 1-106 2-88 1-47 2 4 1 48 2 55 1 32 2-8 1-49 2-57 1-31 2-17 1-22 2-26 1-40 2-43 1-25 1-2 2 44 2 52 1 48 2 30 1 24 2 32 1 11 1-9 1-26 1-103 2-117 1-76 2-18 1 44 2 69 1 61 2 40 1 29 2 23 1-6 2-26 1-19 2-18 1-21 2-2 1 11 2 2 1-11 2-20 1-15 2 3 1 10 2 11 1 22 2 31 1 27 2 17 1-7 2-19 1-1 2 17 1 3 2-14 1-15 2-21 1-28 2-11 1 12 2 24 1 15 2-4 1-11 2-4 1-5 2-6 1 3 2-21 1-49 2-34 1 9 2 32 1 13 2 0 1 17 2 34 1 30 2 37 1 51 2 16 1-33 2-163 1-158 2-102 1-1 2 75 1 89 2 62 1 24 2-15 0-13 1-7 2 18 1 39 2 26 1 12 2 21 1 26 2 29 1 31 1 2 2-59 2-80 1-74 2-31 1 18 2 57 1 68 2 51 1 17 2-14 1-15 2-12 1-16 2-7 1 11 2 13 1 10 2 9 1 2 2-2 1 6 2 18 1 31 2 56 1 52 2 3 1-30 2-40 1-47 2-40 1-31 2-25 1-3 2 19 1 27 2 30 1 37 2 33 1 13 2-5 1-21 2-37 1-29 2 11 1 41 2 32 1-11 2-44 1-38 2-9 1 21 2 41 1 39 2 5 1-27 2-43 1-58 2-53 1-20 2-1 1-3 2-3 1 19 2 34 1 24 2 18 1 16 2 2 1-15 2-22 1-29 2-47 1-44 2-10 1 30 2 59 1 51 2 15 1-10 2-26 1-26 2 2 1 26 2 27 1 23 2 7 1-8 2-6 1 3 2 2 1-6 2-17 1-17 2-11 1-1 2 8 1 7 2 6 1 0 2-10 1-29 2-39 1-21 2-1 1 14 2 23 1 27 2 22 1 15 2 16 1 16 2 3 1-23 2-43 1-45 2-22 1 7 2 30 1 46 2 55 1 35 2 5 1-3 2-12 1-22 2-20 1-11 2-11 1-19 2-7 1 3 2-11 1-24 1-10 1-1 1-1 2 12 1 27 2 34 1 29 2 17 1-9 2-24 1-7 2 6 1-2 2-11 1-8 2 5 1 14 2 17 1 30 1 26 2 7 2-17 1-21 2-10 1 0 2 10 1 17 2 18 1 1 2-25 1-43 2-41 1-27 2-11 1 8 2 21 1 22 2 16 1 6 2-5 1-8 2-18 1-30 2-6 1 20 2 18 1 9 2 25 1 35 2 23 1 11 2 8 0 2 1-2 2-16 1-33 2-55 1-63 2-55 1-25 2 23 1 47 2 54 1 46 2 16 1-12 2-15 1-22 2-25 1 1 2 19 1 20 2 22 1 23 2 15 1 2 1-1 2-17 2-17 1-20 2-19 1-21 2-22 1-3 2 23 1 27 2 15 1 4 2-4 1-3 2-2 1-9 2-21 1-18 2 2 1 13 2 11 1 8 2-5 1-31 2-32 1-8 2 14 1 36 2 49 1 40 2 14 1-14 2-22 1-16 2-12 1-21 2-18 1-2 2-4 1-25 2-22 1-7 1-1 2 2 2-2 1-8 2-8 1 15 2 33 1 38 2 24 1 3 2-8 1-15 2-14 1 7 2 21 1 13 2 8 1 6 2 2 1-7 2-18 1-16 2-1 1 26 2 42 1 30 2 14 1-13 2-31 1-29 2-16 1-14 2-26 1-32 2-22 1-10 1 8 2 35 2 36 1 20 2 7 1-6 2-16 1-15 2 0 1 16 2 20 1 15 2 13 1 12 2 4 1-2 2-3 1-1 2-2 1-4 2-12 1-5 2 15 1 12 2-17 1-22 2-15 1-16 2-20 1-10 2 5 1 0 2-13 1-12 2-5 1 11 2 19 1 10 2-7 1 1 2 18 1 11 2-11 1-11 2 12 1 31 2 54 1 55 2 23 1-13 2-49 1-43 2-14 1 26 2 46 1 33 2-9 1-42 2-51 1-43 2-23 0-1 1 14 2 37 1 49 2 54 1 35 1 6 1-3 1-40 2-44 1-26 2-5 1 4 2 8 1-8 2-21 1-20 2-17 1-14 2-16 1-23 2-9 0 7 1 9 2 46 1 61 1 45 2 4 1-28 2-37 1-21 2-2 1 9 2-4 1-32 2-58 1-66 2-31 1 16 2 57 1 62 2 39 1 23 2 9 1-11 2-8 1 10 2 16 1 17 2 10 1-8 2-15 1-12 2-12 1-14 2-20 1-40 2-40 1-14 2 15 1 30 2 33 1 19 2-7 1-12 2 5 1 11 2-10 1-27 2-21 1-16 1-5 1-7 1 9 2 18 1 5 2-1 1 1 2-13 1-10 2 18 1 43 2 29 1-3 2-15 1-9 2 7 1 26 2 36 1 34 2 25 1 13 2 3 1 9 2 27 1 31 2 20 1 5 2-20 1-27 2-9 1-7 2-29 1-40 2-50 1-35 2-4 1 17 2 9 1-15 2-21 1-8 2-15 1-39 2-43 1-14 2 34 1 49 2 43 1 33 2 13 1-7 2-8 1-5 2-14 1-9 2 12 1 19 2 14 1 24 2 11 1-26 2-36 1-23 2-12 1-6 2 8 1 26 2 22 1 17 2 16 1 20 2 27 1 24 2 15 1-1 2-19 1-14 2-5 1-7 2-10 1-26 2-30 1-22 2-17 1-10 2 7 1 22 2 33 1 35 2 8 1-26 2-27 1-27 2-32 1-5 2 33 1 47 2 35 1 15 2-3 1-41 2-58 1-52 1-21 1-9 1 8 2 41 1 52 2 44 1 33 1 13 2-13 2-37 1-28 2-14 1-7 2-5 1-5 2 3 1 18 2 24 1 4 2-15 1-18 2-20 1-30 2-11 1 6 2 46 1 57 2 51 1 34 2 28 1 9 2-39 1-64 2-46 1-14 2-15 1-31 2-40 1-49 2-52 1-24 2-14 1 1 2-9 1-3 1 14 1 20 1 56 2 63 1 39 2-17 1-46 1-18 2-2 2 15 1 36 2 49 1 28 2 3 1 10 2 9 1 5 2 14 1 6 2-20 1-24 2-16 1-13 2-9 1-8 2-21 1-37 2-30 1 2 2 19 1 29 2 37 1 32 2 24 1 14 2-1 1-13 2-16 1-13 2-14 1-5 2 15 1 18 2 6 1 6 2 10 1 1 2-12 1-10 2 8 1 11 2-10 1-31 2-38 1-35 2-11 1 38 2 72 1 60 2 16 1-15 2-25 1-21 2-1 1 7 2-17 1-24 2-14 1-5 2-4 1-10 2-24 1-41 2-40 1-8 0-8 2 22 1 56 2 52 1 32 2 40 1 32 2-1 1-12 0-17 2-35 1-31 2-16 1 9 2 22 1 11 2 10 1 15 2-2 1-26 2-38 1-40 2-17 0 7 1 33 2 99 1 115 2 91 1 29 2-43 1-85 2-73 1-47 2-32 1-15 2 7 1 11 2-3 1 2 2 13 1 18 2 31 1 41 2 36 1 14 2-21 1-49 2-45 1-8 2 7 1-9 2-17 1-8 2 3 1-6 2-16 1 2 2 10 1-2 2-11 1-8 2 1 1 14 2 16 1 24 2 22 1-6 2-32 1-33 2-20 1-11 2-18 1-22 2-11 1-5 0-2 2 47 1 70 2 30 1-17 2-26 1-17 2-4 1-4 2-22 1-33 2-26 1-8 2 9 1 25 2 18 1 28 2 48 1 44 1 19 2 10 2-10 1-24 2-23 1-20 2-13 1 0 2 0 1-6 2 9 1 32 2 39 1 23 2 8 1 9 2 5 1-13 2-30 1-23 2 0 1 4 2-16 1-33 2-34 1-32 2-27 1-6 2 20 1 44 2 46 1 16 2-23 1-36 2-32 1-17 1 4 1 8 1 11 2 7 1 1 2 0 1 4 1 5"/>
</g>
<g fill="none" stroke-width="2.8" stroke-linejoin="round">
<path stroke="#0072BD" d="M173.5 1574.7l3-277.7 3 13.1 3 21.4 3 10 3 4.3 3-7.7 3-2.2 3-3.8 3 11 3-17.1 3 8.2 3 2.7 3 9.7 3 5.5 3-3.9 3 0 3 9.5 3 2 3-1.7 3 13.9 3 6.7 3-9.1 3 10 3 13 3-3.6 3 0 3 8.9 3.1 3.9 3-10.2 3-4.9 3 10.6 3 6.3 3-6.3 3-.6 3 7.9 3-3.4 3-.8 3 12.5 3 7.3 3-5.5 3-.7 3 .8 3 19.3 3 5 3 8.6 3 11.6 3-5.5 3 3.4 3 12.3 3-5.8 3 9.1 3 13.1 3 13.5 3 14.7 3 28 3 4.2 3 97.4 3 52.4 3-68.1 3-85.1 4.4 95 3 2.2"/>
<path stroke="#D95319" d="M173.5 1469.3l3-74.2 3 25.1 3 1.8 3 12.4 3 4.4 3-.5 3-22.7 3-8.6 3 1.6 3-5.1 3-3.8 3 8 3 31.3 3-9.2 3 3 3 11.2 3 7.3 3-10.9 3 16.7 3-10.2 3-1.3 3 25.9 3 .5 3 6.4 3-11.7 3-13.2 3 4.2 3.1 34.6 3-2.7 3-14.3 3-6.2 3 13.7 3 13.5 3-4 3 3.4 3 6.2 3 5.5 3-6.2 3 2.1 3 7.3 3 8 3 12 3-5 3-9.9 3 17.3 3 14.6 3-14.6 3 4.6 3-.5 3 25.4 3 21.8 3 15.5 3-11.3 3 8.6 3 47.5 3 24.2 3 13.1 3 37.4 3-46.1 3-105.7 4.4 99 3 2.1"/>
<path stroke="#EDB120" d="M173.5 1493.6l3-139.3 3 8 3 31.8 3 1.9 3-17.6 3 3.6 3-15.7 3-11.6 3-9.9 3 4.8 3 6.3 3 18.7 3 14.9 3 5.6 3 2.3 3 7.5 3-3.7 3-5.4 3-1.2 3 12.3 3 16.7 3-14.2 3-7.6 3-5.6 3 10.1 3 18.5 3 0 3.1-23.6 3 6.2 3-6.7 3 4.3 3 30.8 3-3.2 3-2 3 .9 3 3.2 3 6.5 3 8.4 3 17.7 3-6 3 3.2 3-3.5 3 4.7 3-6.3 3 2.4 3 12.2 3 9.6 3 11.5 3 13.3 3 7.1 3 9.5 3 2.7 3 13.8 3 15.9 3 30 3-3.1 3 78.7 3 45.1 3-58.7 3-83.8 4.4 117.5 3 2"/>
<path stroke="#7E2F8E" d="M173.5 1464.8l3-68.4 3 25.7 3 21.8 3 5.9 3 10.6 3-25.9 3 7.5 3-23.3 3-5.9 3 17 3-8.4 3-2.8 3 10.7 3 6.7 3-.8 3 8.6 3 3.9 3 4.8 3 .1 3 12.1 3-6.7 3 13.3 3 8.7 3-12.1 3-11 3 10.8 3 16.3 3.1-2.5 3 10.2 3 1.5 3 5.2 3 19.1 3-13.3 3 7.3 3 3.9 3 9.4 3 3.6 3-6.8 3-17.5 3-5.2 3 15.1 3 .2 3 18.4 3 18.8 3-11.4 3 .2 3 12.5 3 1.5 3 6.9 3 23.4 3 16.3 3 .9 3 12.7 3 17.2 3 4.9 3 7.8 3 22.7 3 42.7 3-45.8 3-66.3 4.4 96.5 3 1.9"/>
<path stroke="#77AC30" d="M173.5 1518.7l3-215.7 3 17.9 3-.9 3 1.7 3 12.9 3 4.7 3-13.1 3 11.8 3-8.9 3 4.8 3 9 3-11.8 3 9.5 3 14.3 3-6.4 3 10.5 3 13.9 3-7 3-9.2 3-2.1 3 5.6 3 3.6 3 1 3 5.1 3-4.7 3 8.8 3 3.8 3.1 4.2 3 14.9 3-1.5 3-14.3 3 8.8 3 8.5 3 0 3 6.2 3-.4 3 6.7 3 .3 3 9.8 3-14.2 3 13.8 3 12.5 3-5.4 3 2.2 3 5.3 3 14.3 3-8.4 3-12 3 37.9 3 5.3 3 9.7 3 11.2 3 26.5 3 9.4 3 1 3 15.7 3 111.8 3 33.3 3-94.2 3-49.7 4.4 154.1 3 1.9"/>
<path stroke="#4DBEEE" d="M173.5 1456.1l3-195.3 3 3.3 3 11.1 3 11.4 3-3.8 3-12.6 3 11.5 3 23.3 3-8.1 3-.3 3-4.9 3 2 3-7.3 3 5.9 3 5.5 3 7 3 3.8 3-1.7 3-3.6 3 6.2 3 5.9 3-4.8 3 7.1 3 7.3 3 7.7 3 3.3 3 6.7 3.1 10.8 3-16.2 3 1 3 5.9 3-3.2 3 4.2 3 7.8 3 16.2 3-8.5 3-7.5 3-6 3-.4 3 7.9 3 19.9 3 8.3 3-11.6 3 2.7 3 4.2 3 13.6 3 11.1 3 15.3 3-1 3 8.1 3 3.9 3 8.4 3 13.4 3 10.3 3 12.7 3 9.2 3 157.2 3 22.2 3-42.7 3-131 4.4 233.3 3 1.8"/>
<path stroke="#A2142F" d="M173.5 1543.2l3-120.3 3-2.5 3 3.4 3 11.7 3 29.6 3-9.9 3-27 3-23.8 3 36 3-20.6 3 6.1 3-.6 3 13.5 3-8.3 3-12.6 3 15.8 3 6.1 3 7.1 3 14.4 3-9.1 3 11.6 3 12 3-4.8 3 .1 3-7 3 13.1 3 5.9 3.1-22.4 3 1.3 3 2.4 3 13.5 3 16.1 3 8.8 3-2.9 3-12.8 3 15.9 3 23.6 3-7.3 3 12.2 3-9.9 3 17.7 3 4.4 3-14.9 3 7.9 3 20.1 3-28.1 3-9.5 3 42.9 3-18 3 32.6 3 14.9 3 10.8 3 22.8 3-13.2 3 25.5 3 38.9 3 8 3 22.3 3-4.8 3-104.9 4.4 138.1 3 1.8"/>
<path stroke="#0072BD" d="M173.5 1585.5l3-193.1 3 36.3 3 15.8 3-1.8 3 13.1 3-8.1 3-33 3-20.1 3 13.5 3 10.9 3 4.8 3 31.7 3-7 3 1.5 3-34.7 3 16.2 3 17.3 3 17 3 24.5 3-36.5 3-12.3 3 27.7 3-7.8 3 6.1 3 26 3-24.2 3-7.1 3.1 17.7 3 7.7 3-.3 3 25.7 3-15.4 3-8.6 3 22.8 3-15.5 3 19.9 3 23.6 3-15.6 3 4 3-6.7 3 12 3-15.7 3 17.3 3-1.2 3 13.6 3 .2 3-11.7 3 17.4 3 22.2 3 14.4 3-18.6 3 12.8 3 29.6 3 19.4 3 34.9 3 22.4 3-13.9 3 48.9 3-56.6 3-91.2 4.4 168.4 3 1.7"/>
<path stroke="#D95319" d="M173.5 1423l3-6 3 7.4 3 4.6 3 12.4 3 4.1 3 6.8 3-28.3 3 2.5 3-3.1 3 8 3-13.4 3-4.4 3 7.8 3 14.1 3 26.4 3 .3 3-1.3 3 1.3 3-14.8 3 7.7 3 6.4 3 2.4 3 16.8 3 6.8 3-.2 3-10.3 3 .7 3.1-.4 3 3.1 3 23.9 3-1.4 3-3.1 3 13.5 3-6.2 3-15.5 3-2.2 3 5.3 3 14.1 3 5.1 3-5.6 3 13 3-2.3 3-3.5 3 19.8 3 10.4 3-1 3-.9 3 7.6 3 10.4 3 10.9 3 29 3 6.9 3 6.1 3 28.8 3 25.9 3 18 3 7.6 3 19.9 3-59.9 3-61.3 4.4 163.8 3 1.6"/>
<path stroke="#EDB120" d="M173.5 1529.8l3-145.8 3 2.6 3 9.7 3-2.1 3 14.8 3-22.2 3 0 3 13.6 3-28.1 3-7.3 3 22.4 3 .3 3 25 3-4.9 3 12.6 3-8.8 3 22.8 3 9 3-32.1 3-17.8 3 24.3 3-2.5 3 8.3 3 7.4 3-7.8 3-2.4 3 26.1 3.1-7.8 3 5 3 13.7 3-25.7 3-1.6 3 24.8 3-14.1 3 13.6 3 4.7 3-11 3 11.5 3 1.9 3-9.4 3 3.4 3 14 3 29.2 3 5.5 3-16.7 3 18.6 3 4.4 3 15.3 3 4 3 9.9 3-11.6 3 28.9 3 11.6 3 11.9 3 9.7 3 40.6 3 27.6 3 43 3-34 3-105.8 4.4 215.7 3 1.6"/>
<path stroke="#7E2F8E" d="M173.5 1544.8l3-115.1 3 16 3 2.3 3-2.1 3-10.7 3 21.2 3-18 3-18.8 3 35.3 3 7.5 3-6.1 3-16.7 3-23 3 21.1 3 4.2 3 26.3 3 35.7 3-2.8 3-38.2 3 7.7 3 17.4 3-14.5 3 21.7 3-23.4 3-1.8 3 32.1 3 8.6 3.1-15.2 3 15.3 3-10.3 3 16.4 3-14.9 3 6.9 3 12.8 3 6.6 3-3.8 3 21.5 3-10.8 3-3.8 3-4.2 3 15.6 3-21.9 3 23.4 3 13.5 3-25.8 3 0 3 31.6 3 19.2 3 .7 3 13.8 3 1.5 3-9.9 3 25.8 3 26.1 3 19.5 3 23.2 3 6.4 3 29.5 3-69.4 3-59.2 4.4 190 3 1.6"/>
<path stroke="#77AC30" d="M173.5 1445.2l3-110.6 3 14.8 3-1.4 3 17.4 3 3.3 3-8.6 3-1.6 3 .8 3-2.5 3-2 3-7.5 3 16.8 3 1.8 3-13.4 3 15.5 3-9.2 3 2.6 3 17.9 3 12.2 3-11.8 3-4.1 3 1.6 3 7.7 3-5 3 4.6 3 18.9 3-10.2 3.1 10.3 3 11.3 3-2.6 3-15.1 3 11.2 3 24.2 3-7.6 3 .4 3 3.8 3 7.3 3 6.5 3-11.7 3 11.9 3 2 3 4 3 1.8 3-6.9 3 8.6 3 18 3 11.5 3 1.1 3-4.4 3 11.6 3 10.9 3 14.8 3 12.6 3 15.3 3 25 3-9.8 3 76.6 3 59.9 3-49.6 3-89.9 4.4 228.5 3 1.5"/>
<path stroke="#4DBEEE" d="M173.5 1502.8l3-119.4 3 23.2 3-.1 3 25.6 3 5.3 3-14.6 3-9.9 3-12.1 3 6.8 3 9.3 3 11.2 3 2.3 3 4.5 3 3.9 3-8.4 3 10.1 3 6.4 3-25.5 3 21.9 3 7.8 3-16.8 3 3.6 3 23.7 3 10.1 3-4.1 3-12.4 3 11.8 3.1 8.4 3-5.3 3-4.1 3 19.6 3 1.1 3 1.2 3-24.9 3-.2 3 12.7 3 12 3 4.2 3 19.7 3-7.9 3 11.9 3 5.4 3-2.1 3-1.7 3-3.3 3 4.2 3 12.8 3 14.9 3-1.8 3 9.2 3 4.8 3 30 3 30 3-2.5 3-4.9 3 26.1 3 30.9 3 40.6 3-29.3 3-99.5 4.4 224 3 1.4"/>
<path stroke="#A2142F" d="M173.5 1440.7l3-62 3-6.7 3-3.2 3 11 3 8.1 3-8.4 3-24.6 3 10.3 3-8.2 3-5.1 3 22.5 3 6.1 3-5.4 3-1.2 3 16.7 3 6.8 3 8.9 3 11.1 3-16.2 3 15.4 3 18.6 3-6.2 3 14.6 3-3.1 3-7.4 3 5.6 3-9.5 3.1 21.1 3-10.5 3-8 3-7.1 3 7.7 3 11.9 3 6.2 3 1.1 3-5.7 3 16 3-3.8 3 5.4 3 2 3 1 3-14.5 3 25.8 3 2.1 3 2.3 3 3.5 3 8.2 3 6.8 3 8.2 3 30.2 3 2.6 3 16.6 3 4.9 3 27.8 3 16 3 6.1 3 47.2 3 30.2 3-18.2 3-72.2 4.4 198.2 3 1.4"/>
<path stroke="#0072BD" d="M173.5 1567.5l3-188.7 3 9.9 3 27.3 3-10.9 3 7.2 3 3.7 3-9.1 3-20.8 3 10.7 3 9.8 3 4.2 3 13.3 3-3.9 3 5 3 1.1 3 4.5 3 8.9 3-8.8 3 12.4 3-2.9 3 14.9 3-4.9 3 7.3 3 .5 3 10.3 3 14.6 3-4.5 3.1-9.3 3 .2 3 18.8 3 9.1 3-7.4 3-4.5 3 4.5 3 1.3 3-10.2 3-1 3 7.5 3 14.5 3-1.1 3 5.8 3 9.1 3-10.1 3 7.4 3 7.7 3-6.1 3 8.1 3 7.1 3 5.8 3 15.4 3 24.2 3 5.8 3 5.9 3 27.8 3 14.9 3 13.4 3 18.7 3 53.1 3-56.3 3-87.2 4.4 71.5 3 2.1"/>
<path stroke="#D95319" d="M173.5 1380.1l3-43 3 17 3 18.1 3 15.7 3-3.5 3 2.8 3-6.9 3 3.1 3-8.2 3 5.7 3 7.4 3 5 3-16.7 3 12.4 3 2.9 3-1.7 3 8.2 3 3.1 3 11.3 3-4 3 2.8 3-1.7 3 6.5 3 15.3 3 7.9 3-4.4 3-9.5 3.1 2.2 3 7.6 3 20.2 3 7.5 3-11 3-2.8 3 1.9 3-2.8 3 6 3 9.8 3 .5 3-4.6 3 1.6 3 .1 3-8.2 3 16.2 3 8.2 3 11.9 3 3 3 .4 3 6.9 3 11.4 3 6.1 3 13.9 3 26.7 3 17.1 3-16.5 3 18.9 3 24.9 3 41.1 3 90 3-72.1 3-116.5 4.4 124.3 3 2"/>
<path stroke="#EDB120" d="M173.5 1441.7l3-34.7 3-14.2 3 52.7 3 22.1 3-21 3-23.1 3 2 3-17 3 16.6 3 8.1 3-31.4 3-5 3 14 3 37.5 3 21.5 3 2.4 3-14.4 3-12.7 3 7.8 3 26.1 3-13.3 3-.1 3 3.5 3 5.7 3 3.8 3-6.1 3 6.9 3.1 6.5 3 11.9 3-8.3 3 13.3 3 24.3 3-26.4 3-.5 3-8.7 3 14.1 3 4.7 3-1 3 6.9 3 15.3 3 11.9 3-33 3 37 3-5.1 3-13 3 5.4 3 4 3 1.6 3 3.1 3 11.8 3-10.9 3 55.9 3 13.6 3 24.3 3 21.1 3 6.6 3 25 3 19.1 3-38.4 3-114.7 4.4 128.3 3 1.9"/>
<path stroke="#7E2F8E" d="M173.5 1541.1l3-196.3 3 4.4 3 14.3 3 19.1 3-6 3-3.5 3-4.3 3-9.4 3-22.6 3 6.4 3 8.1 3 22.4 3 11.7 3-4.3 3-3.2 3 7.2 3-.9 3-9.2 3 9.8 3 16.8 3 .5 3 1.6 3-1.9 3 13.2 3-6.2 3-7 3 10.8 3.1 14.4 3 .2 3-7.4 3-4.6 3 .2 3 15.2 3 10.4 3-21.7 3 7 3 4.5 3 7.1 3 15.7 3-3.3 3-7.8 3-4.3 3 20.7 3 34.6 3-18.4 3-9.7 3-2.9 3 6.6 3-7.8 3 15 3 13.8 3 21.5 3 34 3-1.9 3 15.8 3 28.9 3 75.6 3 37.4 3-47.5 3-107.3 4.4 150.3 3 1.9"/>
<path stroke="#77AC30" d="M173.5 1381.1l3-11.7 3-2.5 3 14.8 3-1.4 3-5.4 3 .3 3-4.4 3-11.1 3-10.9 3 18.7 3-3 3 20.3 3-.5 3-1.7 3 8.5 3-5.9 3-.5 3 16.1 3-3 3 6.2 3 13.6 3-8.4 3 0 3-10.1 3 13.2 3-10.3 3 12.4 3.1-11.5 3 10.4 3 5.7 3-.9 3-.6 3-3.3 3 2.9 3 22.8 3 18.7 3 12.5 3-17.9 3-12.3 3 4 3 7.1 3 8.6 3 6.5 3 .6 3 4.1 3 19.8 3-5.4 3 19.1 3 1.5 3 8.7 3 9.1 3 16.5 3 13.9 3 9.5 3 13.9 3-14.6 3 103.3 3 45.8 3-25.7 3-128.7 4.4 141.3 3 2"/>
<path stroke="#4DBEEE" d="M173.5 1394.2l3 9.7 3 19.2 3 .3 3 3.5 3 4.1 3-1.9 3-3.5 3-20.1 3 2.2 3-3.1 3 2.3 3 17.5 3 13.8 3-6.7 3 14.9 3 5.3 3-.5 3-13.1 3 12.3 3 17.8 3-23.5 3-15.7 3 8.4 3 25.2 3 2.1 3-3 3 .6 3.1 12.7 3 11.1 3-12 3 3.9 3 18.7 3-3.8 3-5.3 3 2.1 3-2.5 3-.5 3 6.2 3 12.7 3 11.7 3-14.4 3-9.8 3 1.3 3 22.3 3 6.6 3-7.8 3 5.9 3 16.8 3 10.2 3 18.6 3 3.8 3 20.1 3 11.9 3 17.7 3 25.9 3 34.3 3-2.9 3 41.1 3-50.6 3-95.8 4.4 147.2 3 1.8"/>
<path stroke="#A2142F" d="M173.5 1388.2l3 11 3 17.1 3 20.2 3 15.9 3-8.5 3-8.9 3-41.8 3 10.5 3 5 3-2.6 3-15.9 3 34.7 3 7.3 3 8.5 3-3.8 3-4.2 3-4.8 3 28.2 3-13.6 3-17.2 3 25.5 3 8.4 3 18 3 21.1 3-29.2 3-16.9 3 25.8 3.1 20.2 3-20.9 3-5.3 3-9.4 3 4.4 3 16.5 3 4.5 3 20.4 3-26.9 3 2.5 3-6.3 3 4.8 3 21.2 3 8.5 3 17.1 3 16.1 3-18.8 3-.9 3 16 3-11.5 3 8.4 3 9.1 3 27.3 3 18.9 3-19.4 3 11.1 3 29.9 3 24.9 3 16.9 3 47.1 3 1.3 3-11.3 3-105.5 4.4 151.3 3 1.7"/>
<path stroke="#0072BD" d="M173.5 1588.5l3-211.6 3-8.2 3 7.5 3 8.7 3 5.6 3 13.8 3 5.4 3-28.8 3-15.4 3 4 3 15.2 3 4.8 3 5.8 3 15.9 3-1 3-3 3-8.9 3 9.9 3-6.3 3 12 3 10.2 3-15 3 15.5 3-3.8 3-2.6 3 17.7 3 7.9 3.1-9.4 3 7.8 3 12.5 3 2.4 3-4.8 3-5.9 3 6.7 3-3.6 3-5.2 3 3.1 3 2.6 3 8.5 3 17.5 3-9.8 3 5.3 3 9.8 3 12.7 3 10.1 3 2.7 3 1.2 3 12.7 3 6.7 3 4 3 1.9 3 14.9 3 12.2 3 9.4 3 24.2 3 13.3 3 56.3 3 40.5 3-37.6 3-83.9 4.4 165.6 3 1.7"/>
<path stroke="#D95319" d="M173.5 1401.3l3 3.7 3 20 3 33.9 3-3.5 3 12.4 3-11.9 3 .5 3-4.3 3-35.4 3 7.5 3 33.4 3 17.9 3-7.3 3 6.8 3-9.3 3-16.6 3-6.5 3 19.3 3-14.6 3 5.6 3 30.7 3 17.8 3-26.7 3-7.8 3-16.9 3 12.6 3 12.4 3.1 1.9 3 33.7 3-4 3-2.4 3-20.2 3 24.2 3 42 3-39.3 3 13.4 3-8.8 3 12.3 3-4.1 3-3.1 3 12.3 3 13.3 3-21.5 3 11.8 3 11.8 3 1.1 3 13 3-17 3 22.3 3 12.7 3 14.5 3 30.4 3 19.2 3 .7 3 9.6 3 4.2 3 18.1 3 34.6 3-41.8 3-77.5 4.4 164.4 3 1.7"/>
<path stroke="#EDB120" d="M173.5 1382.2l3 44 3 .7 3 26 3-7.7 3 12.8 3-26.9 3-24.8 3 .9 3 26 3 6.6 3-1.1 3-12.1 3 6.7 3 8.1 3 1.3 3-1.3 3-2.4 3-5.6 3 21.2 3 11.7 3 27.4 3 1.2 3-4.6 3 3.5 3-15.7 3-6.9 3 19.8 3.1 8.3 3 1.2 3-3.7 3 5.9 3-7.8 3 .6 3 .8 3-.8 3 10.3 3-1.5 3-12.5 3 18.5 3 .5 3 12.2 3 12.7 3 6.9 3 6.6 3-2.5 3 10.5 3 .9 3-10.5 3 16 3-.7 3 15.5 3 11.3 3 30.3 3 6.3 3-9.3 3 33.7 3 18.9 3 61 3-38.1 3-106.9 4.4 193.3 3 1.6"/>
<path stroke="#7E2F8E" d="M173.5 1539.7l3-139.2 3 11.8 3 10.8 3 21.8 3 7.7 3-14.3 3 2.3 3-15.3 3-9.2 3 2 3-6.5 3 9.5 3 6.8 3 13.6 3-.6 3-11.4 3 3 3 9.8 3-4 3 2.4 3-.1 3-7.2 3 19.7 3-.1 3 3.2 3 13.4 3 10.3 3.1-14.1 3 3 3 6.1 3 3.3 3 4.9 3 9.3 3-2.7 3 17.8 3-7.6 3 11.1 3-8.9 3-9.5 3 11.6 3 5.7 3-4.8 3 10.3 3 8.2 3 .4 3-12.8 3 11.6 3 16.2 3 22.1 3-1.9 3 21.4 3 1 3 19.6 3-1.6 3 42.8 3-4.8 3 42 3 19.2 3-41.5 3-45 4.4 165.7 3 1.6"/>
<path stroke="#77AC30" d="M173.5 1516.1l3-139.4 3-2.5 3-17.6 3 23.5 3 15.3 3-3.3 3-19.1 3-5.9 3 9.3 3-14.6 3 25.6 3 .9 3-9.6 3-7 3 22.4 3-1.8 3-9.8 3 5.8 3-1.5 3 4.3 3 11.3 3 0 3 1.4 3 9.2 3-2.6 3 38.9 3-6.1 3.1-25.7 3 11.2 3 15.5 3-8.9 3-4.5 3 16.2 3-6.3 3 9.1 3 4.8 3-1.5 3-5.2 3 24 3-2.8 3-6.2 3 24 3 7.1 3-18.5 3 6.8 3 9.6 3 7.6 3 8.6 3-24.7 3 42.1 3 17.1 3 18.2 3-1.4 3-5.7 3 27.5 3 14 3 66.3 3 56.6 3-71.1 3-79 4.4 217.7 3 1.5"/>
<path stroke="#4DBEEE" d="M173.5 1383.6l3-116.2 3 10 3 13.8 3 8 3-7.2 3 3.5 3 .3 3 5.8 3 9.3 3-4.3 3-11 3 10.9 3 5.4 3 7.3 3-1.4 3 0 3 .6 3 1.5 3 4.6 3 1.4 3-1.9 3 .1 3 2 3-4.9 3 9.4 3 7 3 5.8 3.1-2.2 3 13.3 3 8.1 3-2.6 3-5.2 3 6.6 3-7.4 3 8.4 3 10.6 3-5.9 3-7.3 3 14.8 3 5.6 3-8.9 3-4.4 3 5.4 3 12.3 3 6.1 3 6 3 2.5 3 4.6 3 16.5 3 4.3 3 13.9 3 8.6 3 18.1 3 11.5 3 7.7 3 19.5 3 130.4 3 50.2 3-57.4 3-117.8 4.4 294.2 3 1.4"/>
<path stroke="#A2142F" d="M173.5 1529.8l3-142.4 3-3.4 3 11.7 3 15 3-1.4 3 3.1 3-16.5 3-15.5 3 19.4 3-12.7 3 .5 3 15.3 3-4.9 3 4.4 3 6.7 3-4.7 3 18.6 3-8.5 3 8.2 3 10.5 3-3.4 3-.1 3-2.1 3 20.1 3-3.1 3-1.9 3-9.5 3.1 19.2 3-5.3 3 19.8 3-10.3 3 .8 3 1 3 14.6 3 16.1 3-5.4 3-23.6 3 9.1 3 11.6 3-7.7 3 14.8 3 8.3 3 2.6 3-19.4 3-.5 3 30.2 3 .3 3-4.8 3 5.6 3 43.3 3-5.6 3 5.1 3 29.1 3 4.4 3 13.8 3 12.3 3 64.9 3 24.8 3-40.4 3-85.1 4.4 220.9 3 1.4"/>
<path stroke="#0072BD" d="M173.5 1566.6l3-192 3 17 3 26.1 3 5.3 3-14.6 3 4.8 3 7.8 3-15.8 3-6.9 3 7.5 3 8 3-14.1 3 9.7 3 19.1 3 18 3-5.9 3-8.9 3-5.6 3 9.7 3-7.7 3 12.2 3 21.2 3 24.2 3-7.9 3-1 3-12 3-8.7 3.1-6.3 3 18.3 3 9.4 3-27.6 3 16.8 3 14.1 3 6.8 3 9 3-15.9 3-3.2 3-8.7 3 5.6 3 5.8 3 3.8 3 19.9 3 8.8 3 4 3 14.7 3-2.2 3 3.3 3-1.4 3 17.6 3 25.8 3-10.3 3-.4 3 43.9 3 13 3 10.6 3 30.1 3 31.4 3 16.7 3-44.4 3-63.1 4.4 40.8 3 2.2"/>
<path stroke="#D95319" d="M173.5 1574.6l3-201.3 3-1 3 6.5 3 18 3-8.2 3 7.1 3 10.5 3-28.9 3-15.1 3 7.3 3 23.9 3-10.2 3-9.2 3 15.6 3-8.3 3 2.5 3 21 3 .1 3 9.7 3-11.2 3 18.1 3 13.1 3-3.2 3 .3 3-4.1 3 6.8 3 27.5 3.1-2.9 3-16.3 3-2.2 3-2.1 3-31.7 3 21.5 3 24.6 3-8.4 3-6.7 3 24.5 3 33.7 3-18.8 3-12.1 3-15.2 3 46.2 3-28.9 3 14.6 3-.3 3 20.5 3 .6 3-5.9 3 16.9 3 1.1 3 25.4 3 20.1 3 13.6 3 19.3 3 6.1 3-8.9 3 76.8 3 22.2 3-42.3 3-103.3 4.4 122.8 3 2.1"/>
<path stroke="#EDB120" d="M173.5 1548.5l3-193.4 3 28.6 3-5.6 3-1 3 22.2 3 4.7 3-15.2 3-23.3 3-17.1 3-9.7 3 17 3 34.2 3 13 3-16.8 3-4.2 3 21.1 3-1.5 3-1.7 3-1.7 3 1.6 3-4 3-1.2 3 8.9 3-2.9 3-2.1 3 26.3 3 6.5 3.1-12.8 3-8.4 3 12.1 3 1 3 9.7 3-2 3 10 3-5 3 2 3 .9 3-5 3 6.6 3 14.3 3-.9 3 16.2 3-17.5 3-11.2 3 21.2 3 12.8 3 9.9 3 4.6 3 14.3 3 3.1 3 14.9 3 12.8 3 9.6 3 19.9 3 23 3-12.4 3 68.8 3 57.8 3-52 3-107.9 4.4 136.3 3 2"/>
<path stroke="#7E2F8E" d="M173.5 1498.6l3-109.6 3 4.1 3 4.4 3 27.1 3 3.4 3-11.3 3-3.7 3-10.1 3-6.9 3 7.8 3-14.6 3 25.5 3 3.3 3 7.5 3 5.2 3-12.1 3-8 3-1.7 3 14.4 3 13.6 3-2.6 3 22.2 3-8.8 3-6.4 3 6.7 3 24.5 3 3.1 3.1-26.8 3 22.5 3 20.9 3-2.7 3-17 3-11.8 3 9.3 3-5.6 3 9.8 3 1.1 3 .1 3 15.5 3 1.1 3 10.1 3 4.6 3-6.3 3 15.7 3 1.7 3 12 3 2.5 3 5.7 3-7.2 3 15.6 3 8.2 3 6 3 58.7 3 15.2 3 24.4 3-9.8 3 19.7 3 51.9 3-76.2 3-72.2 4.4 119.3 3 1.9"/>
<path stroke="#77AC30" d="M173.5 1548.8l3-171.2 3 24.4 3 9.6 3-.6 3 7.1 3 4.4 3-29.3 3 18.6 3 .8 3-19.2 3 2.2 3 9.6 3 12.2 3 1.9 3 15.4 3 13.2 3-24.2 3 17.6 3-7 3-13 3-.2 3-20.9 3 55.9 3 6.1 3-17 3-13.7 3 28.3 3.1 17.9 3-25.2 3 22.3 3-5.3 3-11.5 3 21.7 3 1.2 3-10.7 3 7.9 3 2.4 3 17.2 3-1.5 3 16.9 3 1.3 3-42.3 3 9.7 3 9.7 3 30.1 3-.2 3 10.9 3 19.6 3-13.9 3 18.9 3 11.2 3 20.2 3-19.2 3 13.2 3 29.8 3 39.5 3 23.8 3 32.4 3-42.1 3-70.6 4.4 108 3 1.9"/>
<path stroke="#4DBEEE" d="M173.5 1532.2l3-129.8 3 19.8 3 24.9 3-11.5 3-1.3 3 3.7 3-2.1 3-27.7 3-15.4 3 6.9 3-9.3 3 13.7 3 8.7 3 3.9 3 28.7 3 4.4 3-11.9 3-4.4 3-9.7 3 7.6 3 17.4 3 7.7 3 10.5 3 6.7 3 .6 3-10.1 3 16.9 3.1 4.1 3-2.4 3 9 3 7.2 3 19.2 3-23.7 3 1.3 3-2.8 3 5.7 3 18 3-40 3 19.1 3 16.6 3 21.7 3-21.9 3 1.2 3 13.3 3-3.9 3-4.7 3 26.8 3 12.6 3-17.1 3 16.8 3 11 3-13.5 3 37.1 3 29 3 16.6 3 25.5 3 22.6 3 31.4 3-47.1 3-91.9 4.4 141.5 3 1.8"/>
<path stroke="#A2142F" d="M173.5 1376.5l3-55.2 3 8.6 3 14.5 3 6.6 3 .4 3 15.8 3-23.1 3-22.1 3 26.6 3-8.9 3 19.1 3-8.8 3-9.5 3 7.3 3 23.6 3 11 3-.1 3-12.9 3 5.9 3 .6 3-.7 3 .7 3 2.6 3 9.8 3 12.3 3-9.6 3 23.4 3.1-17.2 3 9.2 3 3.6 3 4 3 1 3-.3 3 5.2 3 5.5 3-9 3 6.2 3-7.3 3 11.9 3 7.6 3-6.5 3 .5 3 15.9 3-.2 3-3.7 3 23.5 3 9.6 3 2.1 3 19 3 18.9 3 .6 3-8.6 3 6.5 3 15.2 3 20.5 3 29.1 3 85 3 24.1 3-37.2 3-110.4 4.4 197.6 3 1.7"/>
<path stroke="#0072BD" d="M173.5 1420.4l3-21.5 3 33.3 3 9 3 10.5 3-2.8 3-6.6 3-11.3 3-22.8 3 4.9 3 18.9 3 26.8 3-14 3 1.7 3 11.2 3 1.1 3-13.8 3-8.2 3-5.7 3 13.2 3 22 3 2.1 3 12.7 3-13.3 3 4.7 3 13.5 3 1 3 4.4 3.1 2 3-21.8 3-15.7 3 21.2 3 8.2 3 12.5 3 3.4 3-16.5 3 21.1 3 2.6 3 4.7 3-1.5 3 6.6 3 3.1 3 18.7 3-7.3 3-7.7 3 25.7 3 2.9 3-13.5 3 10.3 3 11.9 3 35.9 3-2.8 3 20.8 3 15.7 3-1.3 3 13.6 3 44.7 3-6 3 49.1 3-84.1 3-65.8 4.4 166.2 3 1.7"/>
<path stroke="#D95319" d="M173.5 1583.6l3-289.5 3 14.4 3 26.6 3 5.4 3 1.4 3 14.1 3-7.5 3-15.9 3 9.5 3 5.2 3 8.6 3-1 3-4.6 3 13.1 3 8 3-5.9 3-13.8 3 10.8 3 9 3-2.3 3-.4 3 7.9 3 13.9 3-7.8 3 1.4 3 .5 3 13.3 3.1-7.7 3 12.1 3 8.9 3-14.4 3 8.8 3-.1 3 2.3 3-6.1 3-.2 3 3.1 3 9.7 3 20.5 3 3.7 3-9.2 3 5.3 3-4.5 3 7.4 3 18.1 3 8 3 7.7 3 4.9 3 0 3-1.5 3 6.3 3 25.3 3 9.9 3-.6 3 17.3 3 21.3 3 94.3 3 52.9 3-88 3-76 4.4 216.6 3 1.7"/>
<path stroke="#EDB120" d="M173.5 1584.5l3-151.8 3 6.4 3 7.2 3 4.5 3-1.3 3-7.5 3-13.8 3 7.9 3-16.6 3-6 3-4.8 3 21.9 3 9 3 13 3-7.1 3 2.8 3 13.6 3 2.1 3-4.1 3-.4 3 15.2 3-11.2 3 5.5 3-16.8 3 7.6 3 26 3 2.3 3.1-25.9 3 14.8 3 10.8 3 12.9 3-.9 3-8.4 3 5.7 3 13.3 3-14 3 11 3 14.2 3-12 3 8.4 3-.5 3 13.6 3 3 3 18.7 3-6.4 3 16.9 3 .3 3 25.8 3-14.6 3-6.3 3 8.5 3 10.5 3 31.7 3-3.9 3 19.6 3 49.5 3-2.5 3 34.3 3-.7 3-133.2 4.4 196.4 3 1.6"/>
<path stroke="#7E2F8E" d="M173.5 1517.8l3-179.1 3 20.3 3-3.3 3 14.2 3 12.9 3-16.4 3-2.8 3 12.9 3 10.9 3-10.8 3-10.3 3 5.9 3-11.5 3 16.3 3 7.7 3 4.3 3 14.6 3-1.3 3 11.3 3 22 3-6.4 3-24.9 3 8.8 3 6.8 3 15.9 3-7.1 3-13.4 3.1 8.8 3 6.1 3-15 3 15.9 3 6 3-6 3 25.1 3-11.4 3 14.4 3 3.1 3-1.8 3-7.3 3 0 3 .7 3 .1 3-11 3 .7 3 16.7 3 12.7 3 22.9 3 14.5 3-8.8 3 7.3 3 8.6 3 26.8 3-20.1 3 45.7 3 9.7 3 1.4 3 108.6 3 28.3 3-35.9 3-127.1 4.4 222.7 3 1.6"/>
<path stroke="#77AC30" d="M173.5 1457.9l3-150.1 3 11.7 3 25.2 3 15.3 3 7 3-4.4 3-22.4 3 4.1 3 7.6 3 0 3-3.2 3 11.5 3-.1 3 1.8 3-11.9 3 8.5 3 29.9 3-7.8 3-8.7 3 9.7 3-7.8 3 3.9 3 3.3 3 9.3 3 .3 3 5.7 3 25 3.1 2.6 3-5.5 3-25.5 3 10.8 3 6.1 3 6.5 3 11.8 3 2.3 3-12.6 3 6.6 3-13.3 3 13.7 3 8.6 3 6.3 3 1.7 3-2.8 3-15.7 3 2.6 3 42.6 3 .1 3 3 3 24.5 3 8.7 3 11.6 3 24.1 3-15.9 3 14.6 3 17.5 3 13.8 3 81.5 3 37.2 3-35.4 3-114.6 4.4 243.7 3 1.5"/>
<path stroke="#4DBEEE" d="M173.5 1386.1l3 7.3 3 5.8 3-5.2 3 4.2 3 10.9 3 6.4 3-9.1 3 9.1 3-30.3 3 2.4 3 1.6 3-.1 3 16.6 3-2.1 3 11.9 3-1.5 3 8.1 3-5.6 3-6 3 21.4 3 7.1 3-1.6 3-10.1 3-15 3 35.6 3 23.7 3-5 3.1 6.4 3-7 3-3.6 3 10.3 3 4.9 3 8.7 3-13.7 3 1.9 3-14.2 3 3.2 3 21.5 3 1.5 3-4.5 3 .8 3 22.6 3-11.6 3-14.5 3 20.1 3 9 3 11.7 3 14.8 3-9.9 3 10.1 3 10.8 3 5.4 3 19.2 3 39.2 3 2.8 3 22.1 3 46.9 3 17.3 3-33.7 3-88.5 4.4 226.9 3 1.5"/>
<path stroke="#A2142F" d="M173.5 1537.2l3-152.5 3 24.9 3 1 3 .3 3-4 3-6.1 3 1.8 3-23.2 3 3.9 3 4.3 3 11.8 3 4.6 3-6.2 3 13 3 3.1 3-7.9 3 1.9 3 23.2 3-1.9 3-4.7 3-12.5 3-.5 3 20.3 3 4.1 3-1.4 3 3 3 11.7 3.1-.2 3 16 3 18 3-6.8 3-13.2 3 .6 3 23.3 3 1.4 3-5.7 3 17.2 3-21.6 3-.7 3 25.3 3-16.1 3 .7 3-4.7 3 11.2 3 11.1 3 3.2 3 1.7 3 11.8 3 12.8 3 16.2 3-1.5 3 7.5 3 5 3 28.4 3 22.9 3 21.5 3 43.6 3 13 3-52.3 3-60.4 4.4 224.1 3 1.4"/>
<path stroke="#0072BD" d="M173.5 1395.9l3-102.6 3-18.4 3 23.7 3 8.9 3 20.2 3-8.8 3-13.5 3 3.5 3 3.2 3-19.7 3 13.9 3 17 3 8.6 3-2.5 3-8 3 16.4 3 1.4 3 3.2 3-12.1 3 7.9 3-3.4 3 5.3 3 11 3-6.5 3 2.9 3 17.6 3-15.2 3.1-18.3 3 29.7 3 7.3 3 14.5 3-7.3 3 4.7 3-6 3 9.1 3 9.2 3-13 3 11 3 10.1 3-3.7 3 6.1 3-6.6 3 5 3 6.4 3 2.6 3 18.7 3-1.1 3 22.1 3-16.1 3 13.1 3 16.4 3 12.3 3 2.6 3 16.8 3 12.8 3 3.3 3 122 3 41.7 3-44.7 3-112.7 4.4 124.1 3 2.2"/>
<path stroke="#D95319" d="M173.5 1459.1l3-185.6 3 25.3 3 5.5 3 3.8 3-2.1 3-5 3 8.1 3-2.2 3-3.3 3 17.3 3 2.9 3-.9 3-.9 3 1.9 3 3.9 3-9 3 15.7 3 .2 3-8.5 3 3.3 3 8 3 0 3 .1 3 7.4 3 2.8 3 12.5 3 2 3.1 13.2 3 1 3-1.3 3-12.4 3 9.6 3 1.9 3 8.9 3-.9 3 2.5 3 3.6 3-5.1 3 14 3-14.7 3-11.3 3 23.9 3 6.3 3 12.8 3 1.5 3 14.1 3-4.2 3 14.8 3 18.7 3 6.1 3 6.8 3-2 3 2.6 3 22 3 21.5 3 13.2 3 101.6 3 51.2 3-18.9 3-164.8 4.4 172.8 3 2"/>
<path stroke="#EDB120" d="M173.5 1554.2l3-289.4 3 23 3 10.8 3 3.1 3 2.1 3-3.4 3 .8 3 .1 3-.1 3 .7 3 3.9 3-2.1 3 4.6 3 5.1 3-6.9 3 12.4 3-2.7 3 5.5 3-2.5 3-1 3-.8 3 1.6 3 9 3-10.4 3 13 3 13.7 3 3.1 3.1-14.7 3 4.1 3 11.4 3-.2 3 0 3 8.6 3 6 3-.3 3-2 3 7 3 7.3 3-3.5 3 11.1 3-2.6 3-8.1 3 5.6 3 6.4 3 6.9 3 5.3 3 16 3 16.8 3 2.2 3 20.2 3 2 3-10.4 3 11 3 20.2 3 12.6 3 12.4 3 148 3 42.6 3-70.2 3-113.7 4.4 173.4 3 2"/>
<path stroke="#7E2F8E" d="M173.5 1495.1l3-136.8 3 2.8 3 12.2 3 8.2 3-9.4 3 7.4 3 .4 3-11.8 3 .6 3-10 3-1.8 3 7.3 3 20.3 3-3.2 3-11.2 3 12.7 3-6.3 3 2.9 3 20.6 3-12.4 3 .8 3 1.1 3-1.4 3 12.8 3 8.1 3 1.8 3 8.5 3.1 3.1 3 14.4 3-18.9 3 11.4 3-1.6 3 2.4 3 4.5 3 2.8 3 6.2 3 14.6 3-6.6 3-9.6 3 17.5 3 1 3-21.5 3 3.8 3 6.8 3 18.1 3 7.1 3 3.4 3 9.6 3 16.1 3 19.3 3 7.3 3 9.3 3-6.6 3 25.6 3 17.6 3 12 3 79.6 3 49.8 3-90.7 3-60.3 4.4 129 3 2"/>
<path stroke="#77AC30" d="M173.5 1401.9l3 22.2 3-.2 3 3.6 3 29.7 3-3.5 3-2.7 3-27.1 3 12 3-18.3 3-3.9 3 28.1 3-7.1 3 4.5 3 16.6 3-5.9 3-14 3 11.6 3 14 3-.4 3-10.4 3-9.4 3 7.5 3 3.4 3 3.1 3 45.6 3 16 3 4.1 3.1-28.1 3 28.6 3-21.8 3-9.4 3 27.8 3-2.2 3-9.5 3-5.4 3 24.9 3-17.2 3-7 3 9.5 3 1.1 3-8.7 3 15.6 3 12.3 3 6.5 3-4.6 3 12.6 3-1.9 3 8.2 3 1.7 3 29.7 3 3.4 3 4.3 3 11.1 3 11.3 3 25.7 3 13.6 3 43.1 3 36.9 3-62.8 3-71.4 4.4 97.9 3 1.9"/>
<path stroke="#4DBEEE" d="M173.5 1378.7l3-111.3 3 12 3 18.8 3 2.9 3 7.5 3 4.6 3-9.5 3 0 3-5.2 3-9.5 3 6.6 3 8.2 3 13.6 3 6.3 3-8 3 7.4 3 2.8 3 3.1 3-3.8 3-8.4 3 14.5 3 5.2 3-.2 3 4 3 12.6 3 7.2 3-3.2 3.1.2 3 6.2 3 4.8 3 1.6 3-1.3 3 2.1 3 9 3-3.3 3-3.9 3 5.4 3 8.7 3-2.4 3-2.6 3 .4 3 11.9 3-5.3 3 7.4 3 4.3 3 7 3 17 3 8.9 3 1.8 3 2.9 3 15.4 3 15.4 3 6.8 3 4.1 3 9.5 3 22.5 3 128.6 3 55.6 3-63.5 3-119.2 4.4 204.2 3 1.9"/>
<path stroke="#A2142F" d="M173.5 1409.6l3-2.2 3 5.9 3 5.3 3-8.7 3 .1 3 3 3-15.3 3 6.2 3 2.8 3 8.7 3-6.6 3 8.1 3 1.3 3 1.3 3 12.1 3 11 3-6.2 3-.4 3-.2 3-1.9 3 10.5 3 1 3-15.3 3 8.3 3 19.2 3 13.9 3-1.8 3.1-8.1 3-8 3-8.1 3 24.6 3 6.1 3 5.4 3 .3 3 7.7 3 5.3 3-14.8 3 3.8 3-2.3 3 16.5 3-1.1 3 4 3 27.3 3 0 3-15.3 3 12.6 3 25.5 3 1.7 3 6.6 3-1.7 3-7.3 3 21.2 3-.6 3 36.1 3 23.1 3-4.6 3 21 3 54.5 3-47.7 3-44.2 4.4 131.2 3 1.8"/>
<path stroke="#0072BD" d="M173.5 1564.4l3-246.1 3 6.7 3 14.5 3-6.8 3-4.2 3 10 3-2.5 3-2.9 3-3.3 3 9.5 3 10.5 3-.5 3 7.6 3 15.8 3-9.9 3-.1 3 2.7 3 6.5 3-6.6 3 1.5 3 12.6 3-5.4 3-3.9 3 6.6 3 20.1 3 6 3-4.1 3.1 2.5 3-21.3 3 26.7 3 6.8 3-9 3 14.3 3 18.1 3-12.7 3 4.2 3 2.5 3 10.5 3-3.7 3-6.8 3 2.4 3 12 3 2.3 3 2.8 3-2.1 3 10.8 3 15 3-4.9 3 13.3 3 3.2 3 16 3 2.4 3 13.5 3 12.8 3 10.6 3 14.9 3 114.5 3 26.9 3-22.8 3-93.6 4.4 163.4 3 1.7"/>
<path stroke="#D95319" d="M173.5 1558.8l3-157.8 3 19.3 3 11.3 3 23.9 3-.4 3-14.3 3-6.9 3-8.1 3 .6 3 14.8 3 9.7 3 8.1 3-10.8 3 9 3 7.1 3-5.1 3 5.8 3-16.1 3-7.8 3 20.6 3 22.9 3 6.1 3-30.1 3 16.4 3 20.5 3-10.1 3 25 3.1-4.1 3-2.8 3 5.3 3 1.6 3-28.6 3 22.3 3 2.2 3 9 3 19.5 3-6.9 3-10.9 3-3.8 3 13.9 3 .9 3 7.5 3 4 3 28.7 3-18.4 3 11.1 3 15.8 3 28.2 3-11.4 3-20.6 3-5.8 3 41.7 3 20.6 3 7 3 21.4 3 29.3 3-13.7 3 36.3 3-53 3-77.6 4.4 175.5 3 1.7"/>
<path stroke="#EDB120" d="M173.5 1548.2l3-196 3 19.3 3-9.9 3 16.1 3 4.5 3 9.6 3-16.8 3-4.7 3 4 3 7.7 3 1.4 3-15.6 3 7 3 14.7 3 6.8 3 12.8 3 13.6 3 1.7 3-8.8 3-1.8 3 6.2 3-11 3 2.3 3 11 3 17.2 3-5.9 3 1.1 3.1 14.8 3 4.7 3-27.5 3 6.8 3 9.3 3-11.4 3 3.6 3 9.4 3 4.5 3-3.1 3-1.4 3 13.7 3 6.5 3 3.8 3 24.2 3-12.8 3 2 3 4 3 6.4 3 3.9 3 8.4 3 8.7 3 8.6 3 6.6 3 14.6 3 8.8 3 32.1 3 6 3 10.5 3 44.5 3 61.2 3-35.8 3-56.2 4.4 163 3 1.5"/>
<path stroke="#7E2F8E" d="M173.5 1380.7l3 13.8 3 1.3 3 26.4 3 16.3 3 12.5 3-9.3 3-15.1 3-18.8 3-1.7 3 15.1 3 1.1 3-6.9 3 21.3 3-8.5 3-7.1 3 11.4 3 6.3 3-5.1 3 10.8 3 9.4 3 2.7 3-8.6 3 2.6 3 .9 3 20.4 3 8.2 3 2.7 3.1-1.7 3 6.7 3-9.9 3 7.6 3 21.9 3 22.6 3-12.3 3-29.6 3 8.9 3 5.7 3 6.2 3 2 3 24.7 3 8.9 3-4 3-15.7 3-5.6 3 7.5 3 15.5 3 14.6 3-8.1 3 12.7 3 8.8 3 10.8 3 16.2 3 18.6 3 20 3 21.9 3 4.4 3 42.3 3-.7 3-25.9 3-86.9 4.4 193.5 3 1.5"/>
<path stroke="#77AC30" d="M173.5 1526.5l3-189 3-7.5 3 10.2 3 2.8 3 5.1 3 8.4 3-3.8 3-6.9 3-10.5 3 5.9 3 3.8 3 1.6 3 5.6 3-5.5 3 17.8 3-8.9 3 1.8 3 17.7 3-7.6 3 1.8 3 2.8 3 14.9 3-1.9 3 8.7 3-2.7 3-8.3 3 16.1 3.1 20.9 3-.1 3-5.1 3-11.6 3 13.1 3 7 3-15.2 3 3.7 3 5.3 3 6.8 3-9.6 3 13.8 3 18.2 3-1 3-2.4 3-4.3 3-.8 3 16 3 4.1 3-9.9 3 20 3 15 3 6.9 3 14.1 3-2 3 8.9 3 22.9 3 8.5 3 22.4 3 99.1 3 48.5 3-71.5 3-93.9 4.4 240.4 3 1.5"/>
<path stroke="#4DBEEE" d="M173.5 1467.8l3-19.6 3 2.1 3-3 3 12.7 3 14.9 3-18 3-27.5 3-4.3 3-18.2 3 12.2 3 5.1 3 20.9 3 0 3 22.9 3-4.1 3 10.1 3 20.7 3-6.6 3-24.7 3 1 3-.7 3 21.9 3 32.2 3-20.2 3 4 3 4.7 3 3.3 3.1 6.6 3-.4 3-19.1 3 8.1 3 15.7 3-1 3-12 3 5.6 3 10.1 3 16.8 3 .2 3 10.8 3 6.2 3-21.8 3 9.9 3 9.7 3 6 3-16 3-9.7 3 18.3 3 13.2 3 27 3-.9 3 2.5 3 1.8 3 31.4 3 32.2 3 14.2 3 20.4 3-14 3 38.4 3-45.6 3-64.5 4.4 191.9 3 1.4"/>
<path stroke="#A2142F" d="M173.5 1573.1l3-215.3 3 15.9 3 10.5 3 11.2 3-1.8 3 12.3 3-17.8 3 4.5 3-.9 3 5.2 3-4.9 3 4.6 3 2.3 3 14.1 3 8.5 3-15 3-7.4 3 7.5 3 9.8 3 5 3 18 3-8.1 3-11.9 3 9.4 3 13.3 3-7 3 6.6 3.1 2.1 3 18.5 3-2.7 3-7.4 3 0 3 1.2 3 7.3 3 3.8 3-4.1 3 2.8 3 21 3-3.1 3-1.8 3-2.5 3-.1 3 19.1 3-1.9 3 20.2 3 2.3 3 2.3 3 5.3 3 9.9 3 7.7 3 7.4 3 13.5 3 27.5 3 14.5 3 5.4 3 5.9 3 50.6 3 49.9 3-55.7 3-103.7 4.4 243.1 3 1.5"/>
<path stroke="#0072BD" d="M173.5 1571.5l3-264.8 3 11.3 3 20.3 3 3.2 3-10.9 3 21.7 3-17.2 3-8.6 3-14.4 3 8.9 3 14.2 3-9.1 3 10.6 3-16.4 3 4.2 3 18.3 3-.5 3 8.3 3 9.2 3-13.1 3 2.6 3-.8 3-1.2 3 .2 3 8.9 3 15 3 3.6 3.1.9 3 7.7 3 0 3-14.7 3 7.4 3-1.8 3 23.2 3 2.5 3 4.3 3 2.6 3 .8 3 1.1 3-.6 3-16.1 3 11.7 3 19.4 3 3.3 3-5.8 3 9.5 3 16.5 3 1.4 3 24.2 3-1.7 3-5 3 41.2 3-3.8 3-.9 3 24.1 3 23.8 3 114.3 3 26.3 3-47 3-113 4.4 110.1 3 2.2"/>
<path stroke="#D95319" d="M173.5 1577.9l3-213.7 3-3.8 3 5.3 3 9.9 3 14 3 5.2 3-30.9 3-18.5 3-14.2 3 11.8 3 1.5 3 15.3 3 15 3 1.9 3 13.8 3-6.1 3 4.6 3 6.6 3-17.5 3-.6 3 8.2 3-1 3-1.5 3 21.7 3 18.6 3-1.5 3-12.5 3.1 7.7 3 13.9 3-18 3 3 3-7.6 3 7.4 3 17.4 3 2.9 3 9.5 3 4.1 3-4.4 3-8.6 3-2.5 3 18.8 3-5.5 3 6.8 3 5.6 3-2.8 3 14.3 3-1.5 3 21.6 3 13.2 3-1.9 3 25.9 3 10.8 3 2.5 3 12.1 3 22.5 3 33.3 3 40.2 3 60.8 3-64.1 3-99.1 4.4 124.4 3 2"/>
<path stroke="#EDB120" d="M173.5 1546.2l3-181.9 3 27.6 3-6.2 3 17.5 3 30.7 3-8.9 3-22.1 3-13.5 3 22 3-5.5 3-12.2 3 9.3 3 26.3 3 3.5 3-9.9 3 13.5 3-11.6 3-7.6 3 20.7 3 28.5 3-39 3-9.9 3 1.8 3 18.2 3 28.9 3-25.7 3 5.4 3.1 2.1 3 15.6 3 7.1 3-3.4 3-17.6 3 15.3 3 16.4 3 12.4 3-15.6 3 2.5 3-.4 3-7.7 3 6.1 3 12.8 3 3.4 3 2.7 3-3.1 3 5.7 3 16.9 3 16.4 3-11.9 3 7.7 3 29.4 3-.5 3 22.6 3 33.9 3-7.6 3 3.6 3 36.2 3 40.6 3 33.4 3-48 3-107.4 4.4 116.4 3 2"/>
<path stroke="#7E2F8E" d="M173.5 1476.9l3-178.9 3 6.9 3 10 3 10.8 3 4.3 3-8 3-3.6 3-14.4 3 8.9 3 10.7 3 .3 3 .8 3 2.9 3 3.1 3 3.5 3 4.5 3-3.3 3-3.7 3 13.5 3 3.6 3-4.3 3 7.6 3 2.3 3 2 3 5.7 3 2.7 3-1 3.1-.3 3-2.2 3 2.5 3 7 3-8.9 3-2.5 3-2.8 3-12.1 3-6.1 3-4.3 3 .2 3 1.5 3 3 3 6.6 3-1 3 1.6 3 7.8 3 10.3 3 12.6 3 13.2 3 9 3 4.4 3 4.6 3 7.4 3 5.9 3 4.7 3 14.4 3 31 3 26.9 3 8.4 2.4 3.5 2.4-28.3 2.1-56.5 2.1-46.6 1.8 53.7 1.8 113 .8 146.7 3 1.9"/>
<path stroke="#77AC30" d="M173.5 1454.5l3-48.3 3-8.2 3 11.1 3 3.2 3 11.3 3 15.3 3-7.3 3-6.2 3-27.6 3 1 3 7.7 3 6.9 3 9.5 3 8.2 3 .8 3-2.2 3 23.6 3 8 3-11.9 3-10.9 3 11.6 3 8.1 3-4.9 3 14.7 3 26.2 3 2 3 7.8 3.1-14.9 3-2.7 3-11.8 3-11.7 3 26.8 3 4.2 3 12.1 3 25.5 3-14.3 3-6.3 3-5.6 3 14.2 3 6.1 3-15 3 8.1 3 14.9 3 4 3-3.5 3-9.8 3 4.3 3 29.7 3-9.7 3 13.5 3 7.7 3 9.1 3 30.6 3 9.6 3 36.3 3 14.5 3-14.9 3 52.5 3-38.9 3-72.5 4.4 108.2 3 1.9"/>
<path stroke="#4DBEEE" d="M173.5 1503.9l3-86.9 3 23.1 3 14.8 3 5 3-4 3 12.8 3-23.1 3-31.2 3-4.2 3-1.7 3 18.3 3 8.2 3-1.5 3 11.9 3 11.5 3 16.2 3 7.8 3-22.9 3 16.8 3 7.4 3-8.9 3 20.1 3 11.6 3-5.1 3-5.3 3-2.5 3-1.8 3.1 0 3 12.2 3 1.4 3 7.8 3 6.6 3-8 3-4.2 3-10.8 3 16.1 3 17.3 3-5.6 3 4.1 3-5.7 3 32.5 3 1.2 3-.9 3-3.6 3 9.8 3 23.4 3 7.6 3-18.8 3-12.3 3 10.6 3 28.7 3 11.1 3 30.2 3 22.7 3-6.8 3 17.5 3-2.1 3 45.2 3-27.9 3-95 4.4 127.4 3 1.8"/>
</g>
<g fill="none" stroke-width="2.2" stroke-linejoin="round">
<path stroke="#4DBEEE" d="M358 1627l2 27 1-20 2 21 1-20 2 15 2-10 1 12 2-13 1 15 2-12 2 14 1-11 2 16 1-13 2 12 2-9 1 12 2-8 1 11 2-12 2 12 1-10 2 10 1-5 2 6 2-6 1 9 2-8 1 7 2-6 2 9 1-7 2 7 1-5 2 5 2-3 1 5 2-5 1 6 2-4 2 5 1-4 2 3 1-3 2 5 2-4 1 5 2-3 1 3 2-3 2 5 1-3 2 4 1-3 2 3 2-4 1 4 2-2 1 3 2-2 2 3 1-2 2 2 1-2 2 4 2-2 1 2 2-2 1 3"/>
<path stroke="#4DBEEE" d="M358 1633l2 20 1-17 2 19 1-17 2 21 2-19 1 21 2-13 1 10 2-11 2 15 1-14 2 13 1-7 2 13 2-11 1 8 2-5 1 11 2-12 2 13 1-8 2 9 1-7 2 6 2-6 1 8 2-6 1 8 2-7 2 6 1-4 2 6 1-6 2 8 2-6 1 4 2-3 1 5 2-3 2 3 1-3 2 4 1-3 2 6 2-4 1 3 2-2 1 2 2-2 2 4 1-3 2 5 1-4 2 4 2-4 1 5 2-3 1 3 2-2 2 3 1-3 2 3 1-2 2 3 2-2 1 2 2-1 1 3"/>
<path stroke="#7E2F8E" d="M358 1653l2 21 1-14 2 16 1-14 2 21 2-16 1 14 2-16 1 19 2-12 2 11 1-12 2 16 1-10 2 11 2-8 1 10 2-12 1 13 2-10 2 9 1-8 2 11 1-9 2 11 2-9 1 10 2-8 1 8 2-5 2 5 1-6 2 9 1-6 2 5 2-5 1 5 2-3 1 6 2-5 2 6 1-5 2 6 1-5 2 5 2-3 1 4 2-3 1 3 2-3 2 4 1-4 2 5 1-4 2 5 2-3 1 3 2-2 1 2 2-3 2 5 1-4 2 4 1-2 2 2 2-2 1 4 2-2 1 2"/>
<path stroke="#7E2F8E" d="M358 1663l2 15 1-19 2 25 1-17 2 12 2-8 1 11 2-10 1 10 2-12 2 15 1-8 2 8 1-9 2 13 2-9 1 12 2-11 1 11 2-9 2 9 1-6 2 9 1-6 2 6 2-6 1 7 2-6 1 8 2-7 2 8 1-6 2 5 1-3 2 6 2-4 1 4 2-3 1 5 2-5 2 5 1-3 2 3 1-3 2 4 2-4 1 4 2-3 1 4 2-2 2 4 1-4 2 4 1-3 2 4 2-4 1 4 2-2 1 3 2-2 2 3 1-2 2 3 1-2 2 2 2-2 1 3 2-2 1 3"/>
<path stroke="#77AC30" d="M358 1675l2 16 1-14 2 21 1-20 2 21 2-15 1 13 2-15 1 19 2-12 2 10 1-13 2 16 1-9 2 9 2-9 1 8 2-5 1 9 2-10 2 12 1-8 2 7 1-3 2 6 2-7 1 7 2-6 1 7 2-4 2 6 1-5 2 6 1-6 2 6 2-5 1 8 2-7 1 6 2-4 2 4 1-4 2 6 1-3 2 3 2-3 1 5 2-5 1 5 2-4 2 5 1-3 2 4 1-3 2 3 2-3 1 4 2-3 1 4 2-4 2 4 1-2 2 3 1-3 2 3 2-1 1 2 2-2 1 3"/>
<path stroke="#77AC30" d="M358 1670l2 20 1-15 2 16 1-13 2 18 2-14 1 14 2-15 1 13 2-8 2 14 1-14 2 16 1-11 2 11 2-9 1 8 2-9 1 11 2-8 2 12 1-11 2 10 1-8 2 9 2-7 1 7 2-6 1 7 2-5 2 8 1-5 2 6 1-6 2 7 2-7 1 6 2-3 1 5 2-5 2 5 1-4 2 5 1-3 2 5 2-5 1 6 2-5 1 5 2-4 2 3 1-3 2 5 1-4 2 4 2-2 1 3 2-3 1 3 2-1 2 3 1-3 2 3 1-1 2 3 2-3 1 3 2-2 1 2"/>
<path stroke="#7E2F8E" d="M358 1689l2 16 1-11 2 13 1-16 2 14 2-7 1 12 2-11 1 10 2-9 2 11 1-10 2 12 1-9 2 10 2-7 1 10 2-10 1 10 2-7 2 7 1-5 2 6 1-4 2 5 2-3 1 5 2-4 1 6 2-4 2 5 1-5 2 5 1-3 2 3 2-3 1 5 2-2 1 2 2-2 2 3 1-3 2 4 1-3 2 3 2-1 1 4 2-3 1 2 2-2 2 4 1-3 2 3 1-2 2 3 2-3 1 3 2-2 1 4 2-3 2 3 1-2 2 3 1-2 2 3 2-2 1 2 2-2 1 3"/>
<path stroke="#7E2F8E" d="M358 1690l2 12 1-14 2 13 1-8 2 11 2-11 1 16 2-13 1 15 2-10 2 10 1-11 2 12 1-9 2 12 2-8 1 8 2-7 1 8 2-5 2 6 1-5 2 8 1-6 2 6 2-6 1 8 2-7 1 8 2-6 2 7 1-4 2 5 1-4 2 5 2-6 1 6 2-5 1 5 2-2 2 3 1-2 2 2 1-3 2 5 2-4 1 4 2-2 1 3 2-2 2 3 1-3 2 4 1-3 2 3 2-2 1 3 2-1 1 2 2-3 2 3 1-2 2 3 1-2 2 2 2 0 1 2 2-3 1 3"/>
<path stroke="#EDB120" d="M358 1691l2 22 1-20 2 16 1-11 2 13 2-6 1 9 2-13 1 14 2-8 2 13 1-13 2 10 1-4 2 5 2-4 1 9 2-10 1 9 2-6 2 8 1-8 2 11 1-6 2 4 2-5 1 6 2-4 1 7 2-6 2 5 1-3 2 5 1-3 2 5 2-4 1 5 2-4 1 4 2-5 2 6 1-3 2 3 1-3 2 4 2-4 1 4 2-2 1 3 2-2 2 4 1-3 2 3 1-3 2 3 2-2 1 3 2-3 1 4 2-2 2 2 1-1 2 2 1-2 2 3 2-1 1 1 2-1 1 2"/>
<path stroke="#EDB120" d="M358 1689l2 17 1-9 2 14 1-18 2 19 2-13 1 15 2-15 1 15 2-12 2 14 1-11 2 13 1-12 2 12 2-9 1 10 2-7 1 10 2-9 2 10 1-7 2 5 1-5 2 8 2-6 1 7 2-7 1 8 2-5 2 5 1-3 2 4 1-3 2 5 2-6 1 7 2-4 1 4 2-4 2 6 1-4 2 3 1-3 2 5 2-4 1 3 2-2 1 4 2-3 2 3 1-2 2 3 1-3 2 3 2-1 1 2 2-2 1 4 2-3 2 3 1-2 2 2 1-2 2 3 2-2 1 2 2-1 1 3"/>
<path stroke="#D95319" d="M358 1706l2 27 1-25 2 21 1-11 2 15 2-19 1 23 2-17 1 18 2-19 2 20 1-19 2 18 1-14 2 18 2-13 1 15 2-13 1 12 2-9 2 7 1-6 2 9 1-7 2 8 2-10 1 10 2-6 1 9 2-8 2 8 1-7 2 9 1-9 2 8 2-5 1 7 2-6 1 6 2-6 2 6 1-6 2 7 1-5 2 6 2-4 1 4 2-3 1 3 2-2 2 3 1-3 2 3 1-2 2 4 2-3 1 2 2-3 1 4 2-2 2 3 1-2 2 3 1-3 2 3 2-2 1 3 2-2 1 3"/>
<path stroke="#D95319" d="M358 1703l2 25 1-19 2 23 1-22 2 27 2-21 1 18 2-18 1 22 2-16 2 18 1-17 2 13 1-10 2 13 2-11 1 11 2-9 1 14 2-15 2 12 1-7 2 9 1-7 2 7 2-7 1 9 2-5 1 6 2-7 2 10 1-10 2 9 1-6 2 5 2-5 1 9 2-8 1 9 2-8 2 6 1-3 2 4 1-4 2 4 2-3 1 6 2-6 1 6 2-4 2 4 1-3 2 5 1-5 2 4 2-2 1 2 2-2 1 4 2-3 2 4 1-4 2 4 1-2 2 3 2-3 1 4 2-3 1 3"/>
<path stroke="#EDB120" d="M358 1732l2 9 1-8 2 9 1-8 2 10 2-9 1 10 2-8 1 13 2-10 2 11 1-7 2 6 1-4 2 6 2-6 1 7 2-5 1 5 2-5 2 9 1-5 2 6 1-6 2 7 2-6 1 7 2-7 1 6 2-4 2 5 1-4 2 5 1-2 2 3 2-2 1 4 2-3 1 3 2-3 2 4 1-4 2 5 1-3 2 3 2-3 1 3 2-2 1 4 2-3 2 4 1-3 2 4 1-3 2 2 2-1 1 3 2-2 1 3 2-3 2 3 1-2 2 3 1-2 2 2 2-1 1 2 2-2 1 3"/>
<path stroke="#EDB120" d="M358 1732l2 12 1-9 2 9 1-11 2 12 2-7 1 11 2-10 1 10 2-5 2 8 1-10 2 11 1-9 2 11 2-9 1 9 2-6 1 7 2-4 2 4 1-5 2 8 1-6 2 7 2-4 1 4 2-5 1 8 2-5 2 4 1-3 2 4 1-3 2 4 2-4 1 4 2-2 1 3 2-2 2 4 1-3 2 3 1-3 2 4 2-3 1 4 2-3 1 3 2-3 2 3 1-2 2 4 1-3 2 3 2-2 1 3 2-2 1 3 2-2 2 2 1-1 2 3 1-2 2 1 2 0 1 2 2-2 1 3"/>
<path stroke="#0072BD" d="M358 1738l2 19 1-15 2 13 1-8 2 10 2-8 1 8 2-8 1 11 2-9 2 9 1-9 2 11 1-7 2 8 2-5 1 8 2-8 1 9 2-9 2 11 1-9 2 10 1-8 2 9 2-7 1 6 2-5 1 5 2-3 2 4 1-4 2 5 1-3 2 5 2-6 1 8 2-6 1 5 2-4 2 6 1-5 2 4 1-3 2 4 2-4 1 5 2-4 1 4 2-3 2 4 1-2 2 3 1-4 2 4 2-2 1 3 2-2 1 3 2-3 2 3 1-2 2 3 1-2 2 3 2-2 1 3 2-2 1 3"/>
<path stroke="#0072BD" d="M358 1739l2 14 1-13 2 16 1-16 2 17 2-17 1 17 2-15 1 14 2-10 2 10 1-8 2 13 1-12 2 12 2-11 1 11 2-6 1 9 2-10 2 9 1-6 2 8 1-4 2 4 2-6 1 10 2-7 1 5 2-5 2 7 1-4 2 6 1-6 2 6 2-4 1 4 2-3 1 4 2-3 2 4 1-5 2 6 1-3 2 3 2-2 1 2 2-2 1 4 2-3 2 3 1-3 2 3 1-2 2 3 2-1 1 2 2-2 1 3 2-3 2 4 1-2 2 2 1-1 2 2 2-2 1 3 2-2 1 3"/>
<path stroke="#4DBEEE" d="M358 1752l2 10 1-12 2 20 1-15 2 15 2-16 1 14 2-12 1 12 2-7 2 10 1-10 2 9 1-4 2 10 2-11 1 12 2-13 1 11 2-6 2 10 1-7 2 8 1-10 2 10 2-7 1 8 2-5 1 5 2-4 2 5 1-6 2 5 1-4 2 5 2-2 1 4 2-3 1 5 2-6 2 6 1-4 2 4 1-3 2 4 2-4 1 5 2-4 1 5 2-4 2 4 1-4 2 4 1-3 2 5 2-3 1 2 2-1 1 2 2-3 2 4 1-2 2 3 1-3 2 4 2-3 1 3 2-1 1 1"/>
<path stroke="#4DBEEE" d="M358 1751l2 18 1-13 2 14 1-13 2 16 2-15 1 13 2-15 1 17 2-10 2 13 1-15 2 15 1-12 2 10 2-8 1 9 2-9 1 11 2-8 2 10 1-6 2 7 1-9 2 8 2-5 1 8 2-8 1 8 2-6 2 8 1-5 2 6 1-6 2 5 2-3 1 4 2-5 1 5 2-3 2 6 1-5 2 5 1-5 2 5 2-4 1 5 2-3 1 3 2-3 2 5 1-4 2 3 1-2 2 4 2-4 1 5 2-4 1 4 2-2 2 2 1-2 2 3 1-2 2 2 2-1 1 2 2-2 1 3"/>
<path stroke="#0072BD" d="M358 1770l2 15 1-12 2 11 1-10 2 14 2-15 1 17 2-14 1 15 2-14 2 16 1-10 2 8 1-7 2 10 2-9 1 11 2-10 1 7 2-4 2 7 1-5 2 6 1-4 2 4 2-3 1 4 2-5 1 7 2-7 2 7 1-3 2 3 1-2 2 4 2-4 1 4 2-2 1 3 2-2 2 4 1-4 2 4 1-3 2 4 2-5 1 5 2-3 1 3 2-2 2 3 1-3 2 4 1-3 2 4 2-2 1 2 2-2 1 3 2-2 2 2 1-1 2 2 1-1 2 2 2-2 1 3 2-2 1 3"/>
<path stroke="#0072BD" d="M358 1773l2 11 1-11 2 14 1-11 2 14 2-13 1 14 2-15 1 13 2-7 2 7 1-7 2 11 1-10 2 12 2-12 1 10 2-9 1 11 2-5 2 4 1-4 2 7 1-5 2 7 2-6 1 7 2-6 1 5 2-4 2 6 1-5 2 5 1-5 2 6 2-3 1 3 2-2 1 4 2-4 2 5 1-5 2 5 1-4 2 4 2-2 1 3 2-3 1 4 2-3 2 4 1-3 2 3 1-3 2 3 2-2 1 4 2-4 1 4 2-2 2 2 1-1 2 3 1-3 2 3 2-1 1 1 2-1 1 3"/>
<path stroke="#A2142F" d="M358 1776l2 8 1-5 2 10 1-8 2 9 2-6 1 7 2-7 1 6 2-6 2 11 1-7 2 7 1-8 2 9 2-7 1 7 2-3 1 4 2-5 2 7 1-6 2 6 1-3 2 5 2-5 1 7 2-5 1 5 2-3 2 5 1-5 2 5 1-3 2 3 2-2 1 4 2-4 1 5 2-3 2 3 1-3 2 4 1-4 2 4 2-2 1 2 2-1 1 2 2-3 2 4 1-3 2 4 1-3 2 3 2-2 1 3 2-2 1 3 2-3 2 4 1-3 2 4 1-3 2 3 2-1 1 2 2-2 1 2"/>
<path stroke="#A2142F" d="M358 1774l2 14 1-9 2 7 1-5 2 9 2-7 1 10 2-11 1 9 2-7 2 8 1-6 2 7 1-5 2 7 2-5 1 8 2-6 1 5 2-3 2 6 1-7 2 7 1-3 2 4 2-4 1 4 2-4 1 7 2-5 2 5 1-5 2 5 1-3 2 5 2-4 1 4 2-4 1 5 2-3 2 4 1-2 2 2 1-2 2 3 2-2 1 3 2-2 1 2 2-2 2 3 1-2 2 3 1-3 2 3 2-2 1 3 2-2 1 3 2-2 2 2 1-2 2 3 1-2 2 2 2-1 1 2 2-1 1 2"/>
<path stroke="#0072BD" d="M358 1778l2 10 1-8 2 12 1-9 2 11 2-9 1 10 2-10 1 9 2-5 2 8 1-6 2 5 1-5 2 9 2-5 1 5 2-5 1 6 2-6 2 6 1-3 2 4 1-4 2 7 2-5 1 4 2-3 1 4 2-2 2 4 1-4 2 5 1-4 2 5 2-3 1 3 2-2 1 3 2-3 2 4 1-4 2 4 1-2 2 4 2-3 1 2 2-1 1 3 2-4 2 4 1-2 2 2 1-2 2 3 2-2 1 3 2-2 1 3 2-2 2 2 1-1 2 2 1-2 2 3 2-2 1 2 2-1 1 2"/>
<path stroke="#0072BD" d="M358 1779l2 14 1-7 2 9 1-11 2 11 2-8 1 8 2-5 1 8 2-7 2 7 1-5 2 8 1-7 2 8 2-7 1 6 2-3 1 4 2-3 2 4 1-3 2 7 1-5 2 3 2-3 1 6 2-4 1 3 2-2 2 5 1-4 2 4 1-3 2 4 2-4 1 4 2-2 1 2 2-2 2 3 1-1 2 2 1-2 2 3 2-2 1 3 2-3 1 4 2-3 2 2 1-1 2 2 1-2 2 3 2-2 1 3 2-2 1 2 2-1 2 2 1-2 2 3 1-1 2 2 2-2 1 3 2-2 1 2"/>
<path stroke="#7E2F8E" d="M358 1789l2 22 1-19 2 17 1-9 2 10 2-13 1 15 2-15 1 21 2-13 2 8 1-10 2 15 1-15 2 14 2-7 1 10 2-12 1 14 2-11 2 7 1-4 2 9 1-9 2 6 2-3 1 7 2-7 1 8 2-8 2 7 1-6 2 7 1-6 2 6 2-4 1 5 2-3 1 4 2-5 2 6 1-4 2 4 1-4 2 4 2-3 1 4 2-3 1 4 2-3 2 3 1-3 2 3 1-2 2 4 2-3 1 3 2-2 1 3 2-2 2 2 1-2 2 4 1-2 2 2 2-2 1 3 2-3 1 3"/>
<path stroke="#7E2F8E" d="M358 1786l2 28 1-25 2 19 1-12 2 16 2-13 1 12 2-11 1 12 2-14 2 20 1-16 2 15 1-16 2 16 2-12 1 10 2-7 1 9 2-5 2 9 1-11 2 10 1-6 2 9 2-9 1 9 2-8 1 9 2-8 2 9 1-7 2 8 1-8 2 8 2-8 1 6 2-3 1 6 2-6 2 5 1-4 2 6 1-6 2 7 2-4 1 3 2-3 1 4 2-4 2 5 1-3 2 3 1-4 2 5 2-4 1 5 2-4 1 5 2-3 2 3 1-2 2 2 1-2 2 3 2-3 1 4 2-2 1 3"/>
<path stroke="#0072BD" d="M358 1794l2 21 1-17 2 13 1-12 2 12 2-17 1 24 2-18 1 13 2-11 2 16 1-13 2 13 1-12 2 10 2-12 1 12 2-10 1 13 2-12 2 14 1-12 2 12 1-11 2 12 2-8 1 6 2-4 1 8 2-9 2 7 1-4 2 6 1-4 2 4 2-5 1 8 2-7 1 6 2-5 2 7 1-6 2 5 1-3 2 4 2-5 1 6 2-4 1 3 2-2 2 3 1-3 2 4 1-2 2 2 2-2 1 3 2-3 1 4 2-3 2 4 1-3 2 4 1-3 2 3 2-2 1 3 2-2 1 3"/>
<path stroke="#0072BD" d="M358 1784l2 24 1-21 2 24 1-21 2 17 2-12 1 15 2-15 1 15 2-11 2 10 1-12 2 18 1-16 2 15 2-10 1 10 2-13 1 16 2-9 2 9 1-9 2 11 1-9 2 9 2-11 1 8 2-3 1 6 2-6 2 8 1-7 2 5 1-6 2 8 2-5 1 6 2-7 1 7 2-4 2 6 1-6 2 4 1-3 2 5 2-3 1 3 2-3 1 5 2-5 2 5 1-4 2 4 1-3 2 4 2-2 1 3 2-4 1 5 2-3 2 2 1-2 2 3 1-2 2 4 2-3 1 3 2-2 1 3"/>
</g>
<defs>
<marker id="b0" markerUnits="userSpaceOnUse" markerWidth="1" markerHeight="1" orient="auto" overflow="visible"><ellipse rx="8.2" ry="8.6" cy="-0.3" fill="#4DBEEE"/></marker>
<marker id="b1" markerUnits="userSpaceOnUse" markerWidth="1" markerHeight="1" orient="auto" overflow="visible"><ellipse rx="8" ry="9" cy="-1.5" fill="#7E2F8E"/></marker>
<marker id="b2" markerUnits="userSpaceOnUse" markerWidth="1" markerHeight="1" orient="auto" overflow="visible"><ellipse rx="8.3" ry="9.2" cy="0" fill="#77AC30"/></marker>
<marker id="b3" markerUnits="userSpaceOnUse" markerWidth="1" markerHeight="1" orient="auto" overflow="visible"><ellipse rx="8" ry="5.5" cy="0" fill="#7E2F8E"/></marker>
<marker id="b4" markerUnits="userSpaceOnUse" markerWidth="1" markerHeight="1" orient="auto" overflow="visible"><ellipse rx="8" ry="6.5" cy="0" fill="#EDB120"/></marker>
<marker id="b5" markerUnits="userSpaceOnUse" markerWidth="1" markerHeight="1" orient="auto" overflow="visible"><ellipse rx="8.6" ry="12" cy="0" fill="#D95319"/></marker>
<marker id="b6" markerUnits="userSpaceOnUse" markerWidth="1" markerHeight="1" orient="auto" overflow="visible"><ellipse rx="7.5" ry="4.2" cy="0" fill="#EDB120"/></marker>
<marker id="b7" markerUnits="userSpaceOnUse" markerWidth="1" markerHeight="1" orient="auto" overflow="visible"><ellipse rx="8" ry="7" cy="0" fill="#0072BD"/></marker>
<marker id="b8" markerUnits="userSpaceOnUse" markerWidth="1" markerHeight="1" orient="auto" overflow="visible"><ellipse rx="8.2" ry="8" cy="0" fill="#4DBEEE"/></marker>
<marker id="b9" markerUnits="userSpaceOnUse" markerWidth="1" markerHeight="1" orient="auto" overflow="visible"><ellipse rx="8" ry="6.5" cy="0" fill="#0072BD"/></marker>
<marker id="b10" markerUnits="userSpaceOnUse" markerWidth="1" markerHeight="1" orient="auto" overflow="visible"><ellipse rx="7" ry="3.5" cy="0" fill="#A2142F"/></marker>
<marker id="b11" markerUnits="userSpaceOnUse" markerWidth="1" markerHeight="1" orient="auto" overflow="visible"><ellipse rx="7" ry="3.5" cy="0" fill="#0072BD"/></marker>
<marker id="b12" markerUnits="userSpaceOnUse" markerWidth="1" markerHeight="1" orient="auto" overflow="visible"><ellipse rx="7.5" ry="10.5" cy="2.5" fill="#7E2F8E"/></marker>
<marker id="b13" markerUnits="userSpaceOnUse" markerWidth="1" markerHeight="1" orient="auto" overflow="visible"><ellipse rx="7" ry="10.5" cy="2.5" fill="#0072BD"/></marker>
</defs>
<clipPath id="cb"><rect x="170" y="1100" width="1505.2" height="900"/></clipPath>
<g fill="none" stroke-linejoin="round" clip-path="url(#cb)">
<path stroke="#4DBEEE" stroke-width="7" marker-mid="url(#b0)" d="M358 1640.8l21.1 14.4 17.3 9.5 17.3 6.6 17.2 5.3 17.3 4.4 17.3 4 17.2 3.9 17.3 3.6 17.3 3.2 17.3 2.5 17.2 2.1 17.3 1.8 17.3 1.7 17.2 1.6 17.3 1.4 17.3 1.4 17.2 1.4 17.3 1.3 17.3 1.4 17.3 1.5 17.2 1.6 17.3 1.7 17.3 1.9 17.2 2 17.3 2 17.3 2 17.2 2 17.3 1.8 17.3 1.7 17.3 1.5 17.2 1.3 17.3 1 17.3 1 17.2.9 17.3 1 17.3.9 17.2.9 17.3.8 17.3.8 17.2.8 17.3.7 17.3.7 17.3.7 17.2.7 17.3.6 17.3.6 17.2.5 17.3.5 17.3.5 17.3.5 17.2.4 17.3.4 17.3.3 17.2.3 17.3.3 17.3.3 17.2.2 17.3.2 17.3.2 17.2.2 17.3.2 17.3.2 17.3.2 17.2.1 17.3.2 17.3.1 17.2.2 17.3.1 17.3.2 17.3.2 17.2.1 17.3.2 17.3.1 17.2.2 17.3.1 17.3.2"/>
<path stroke="#7E2F8E" stroke-width="7" marker-mid="url(#b1)" d="M358 1669.5l21.1 13.6 17.3 8.9 17.3 6.4 17.2 5 17.3 4.3 17.3 4 17.2 4 17.3 3.6 17.3 3.3 17.3 2.7 17.2 2.2 17.3 2 17.3 1.8 17.2 1.7 17.3 1.6 17.3 1.5 17.2 1.4 17.3 1.4 17.3 1.4 17.3 1.5 17.2 1.6 17.3 1.8 17.3 2 17.2 2 17.3 2.1 17.3 2 17.2 2 17.3 1.9 17.3 1.8 17.3 1.5 17.2 1.2 17.3 1.1 17.3.9 17.2 1 17.3.9 17.3.9 17.2.9 17.3.8 17.3.8 17.2.8 17.3.7 17.3.7 17.3.7 17.2.6 17.3.6 17.3.6 17.2.5 17.3.5 17.3.5 17.3.5 17.2.4 17.3.4 17.3.3 17.2.3 17.3.3 17.3.3 17.2.3 17.3.2 17.3.3 17.2.2 17.3.2 17.3.2 17.3.2 17.2.2 17.3.2 17.3.2 17.2.1 17.3.2 17.3.2 17.3.1 17.2.2 17.3.2 17.3.1 17.2.2 17.3.2 17.3.1"/>
<path stroke="#77AC30" stroke-width="8" marker-mid="url(#b2)" d="M358 1681.5l21.1 13.2 17.3 8.7 17.3 6.3 17.2 4.9 17.3 4.2 17.3 4.1 17.2 3.9 17.3 3.7 17.3 3.3 17.3 2.8 17.2 2.3 17.3 2.1 17.3 1.8 17.2 1.7 17.3 1.7 17.3 1.5 17.2 1.5 17.3 1.4 17.3 1.5 17.3 1.5 17.2 1.6 17.3 1.8 17.3 1.9 17.2 2.1 17.3 2.1 17.3 2.1 17.2 2 17.3 1.9 17.3 1.8 17.3 1.5 17.2 1.2 17.3 1.1 17.3 1 17.2.9 17.3.9 17.3.9 17.2.9 17.3.8 17.3.8 17.2.7 17.3.8 17.3.7 17.3.6 17.2.6 17.3.6 17.3.6 17.2.6 17.3.5 17.3.4 17.3.5 17.2.4 17.3.4 17.3.4 17.2.3 17.3.3 17.3.3 17.2.3 17.3.2 17.3.3 17.2.2 17.3.2 17.3.3 17.3.2 17.2.2 17.3.1 17.3.2 17.2.2 17.3.2 17.3.2 17.3.1 17.2.2 17.3.2 17.3.1 17.2.2 17.3.2 17.3.1"/>
<path stroke="#7E2F8E" stroke-width="6" marker-mid="url(#b3)" d="M358 1694.5l21.1 12.8 17.3 8.5 17.3 6.2 17.2 4.8 17.3 4.1 17.3 4.1 17.2 4 17.3 3.7 17.3 3.3 17.3 2.9 17.2 2.4 17.3 2.1 17.3 1.9 17.2 1.7 17.3 1.8 17.3 1.6 17.2 1.5 17.3 1.4 17.3 1.5 17.3 1.5 17.2 1.6 17.3 1.8 17.3 2 17.2 2 17.3 2.2 17.3 2.1 17.2 2 17.3 2 17.3 1.7 17.3 1.6 17.2 1.2 17.3 1.1 17.3.9 17.2 1 17.3.9 17.3.9 17.2.8 17.3.9 17.3.7 17.2.8 17.3.7 17.3.7 17.3.7 17.2.6 17.3.6 17.3.5 17.2.6 17.3.5 17.3.5 17.3.4 17.2.4 17.3.4 17.3.4 17.2.3 17.3.3 17.3.4 17.2.2 17.3.3 17.3.3 17.2.2 17.3.3 17.3.2 17.3.2 17.2.2 17.3.2 17.3.2 17.2.2 17.3.2 17.3.2 17.3.1 17.2.2 17.3.2 17.3.1 17.2.2 17.3.2 17.3.1"/>
<path stroke="#EDB120" stroke-width="6" marker-mid="url(#b4)" d="M358 1700.5l21.1 12.6 17.3 8.4 17.3 6.1 17.2 4.8 17.3 4.1 17.3 4.1 17.2 4 17.3 3.7 17.3 3.3 17.3 2.9 17.2 2.5 17.3 2.1 17.3 1.9 17.2 1.8 17.3 1.8 17.3 1.6 17.2 1.5 17.3 1.5 17.3 1.4 17.3 1.6 17.2 1.6 17.3 1.8 17.3 2 17.2 2 17.3 2.2 17.3 2.1 17.2 2.1 17.3 1.9 17.3 1.8 17.3 1.5 17.2 1.3 17.3 1 17.3 1 17.2 1 17.3.9 17.3.8 17.2.9 17.3.8 17.3.8 17.2.7 17.3.7 17.3.7 17.3.7 17.2.6 17.3.6 17.3.6 17.2.5 17.3.5 17.3.5 17.3.4 17.2.4 17.3.4 17.3.4 17.2.4 17.3.3 17.3.3 17.2.3 17.3.3 17.3.2 17.2.3 17.3.2 17.3.2 17.3.3 17.2.2 17.3.2 17.3.2 17.2.2 17.3.2 17.3.1 17.3.2 17.2.2 17.3.2 17.3.1 17.2.2 17.3.2 17.3.1"/>
<path stroke="#D95319" stroke-width="12" marker-mid="url(#b5)" d="M358 1719l21.1 12.1 17.3 8 17.3 6 17.2 4.6 17.3 4 17.3 4.1 17.2 4 17.3 3.8 17.3 3.4 17.3 3 17.2 2.6 17.3 2.2 17.3 1.9 17.2 1.9 17.3 1.8 17.3 1.8 17.2 1.5 17.3 1.5 17.3 1.5 17.3 1.6 17.2 1.6 17.3 1.8 17.3 2 17.2 2.1 17.3 2.2 17.3 2.2 17.2 2.1 17.3 1.9 17.3 1.8 17.3 1.6 17.2 1.2 17.3 1.1 17.3 1 17.2.9 17.3.9 17.3.9 17.2.8 17.3.8 17.3.8 17.2.7 17.3.7 17.3.7 17.3.6 17.2.7 17.3.5 17.3.6 17.2.5 17.3.5 17.3.5 17.3.5 17.2.4 17.3.4 17.3.4 17.2.3 17.3.4 17.3.3 17.2.3 17.3.3 17.3.3 17.2.2 17.3.3 17.3.2 17.3.3 17.2.2 17.3.2 17.3.2 17.2.2 17.3.2 17.3.2 17.3.2 17.2.2 17.3.2 17.3.2 17.2.1 17.3.2 17.3.1"/>
<path stroke="#EDB120" stroke-width="6.8" marker-mid="url(#b6)" d="M358 1737l21.1 11.5 17.3 7.7 17.3 5.9 17.2 4.4 17.3 4 17.3 4 17.2 4.1 17.3 3.8 17.3 3.5 17.3 3.1 17.2 2.7 17.3 2.3 17.3 2 17.2 1.9 17.3 2 17.3 1.8 17.2 1.6 17.3 1.5 17.3 1.5 17.3 1.6 17.2 1.6 17.3 1.9 17.3 2 17.2 2.1 17.3 2.2 17.3 2.2 17.2 2.1 17.3 2 17.3 1.9 17.3 1.5 17.2 1.3 17.3 1 17.3 1 17.2 1 17.3.9 17.3.8 17.2.9 17.3.7 17.3.8 17.2.7 17.3.7 17.3.7 17.3.6 17.2.6 17.3.6 17.3.6 17.2.5 17.3.5 17.3.4 17.3.5 17.2.4 17.3.4 17.3.4 17.2.4 17.3.3 17.3.4 17.2.3 17.3.3 17.3.3 17.2.3 17.3.3 17.3.2 17.3.3 17.2.2 17.3.3 17.3.2 17.2.2 17.3.2 17.3.2 17.3.2 17.2.2 17.3.2 17.3.2 17.2.1 17.3.2 17.3.1"/>
<path stroke="#0072BD" stroke-width="6" marker-mid="url(#b7)" d="M358 1746l21.1 11.2 17.3 7.6 17.3 5.7 17.2 4.4 17.3 3.9 17.3 4.1 17.2 4.1 17.3 3.8 17.3 3.5 17.3 3.2 17.2 2.7 17.3 2.3 17.3 2.1 17.2 2 17.3 2 17.3 1.8 17.2 1.7 17.3 1.5 17.3 1.5 17.3 1.6 17.2 1.6 17.3 1.9 17.3 2 17.2 2.2 17.3 2.2 17.3 2.2 17.2 2.1 17.3 2.1 17.3 1.8 17.3 1.6 17.2 1.2 17.3 1.1 17.3.9 17.2 1 17.3.9 17.3.8 17.2.9 17.3.8 17.3.7 17.2.7 17.3.7 17.3.7 17.3.6 17.2.6 17.3.6 17.3.5 17.2.5 17.3.5 17.3.5 17.3.5 17.2.4 17.3.4 17.3.4 17.2.4 17.3.3 17.3.4 17.2.3 17.3.3 17.3.3 17.2.3 17.3.3 17.3.3 17.3.2 17.2.3 17.3.2 17.3.3 17.2.2 17.3.2 17.3.2 17.3.2 17.2.2 17.3.2 17.3.2 17.2.1 17.3.2 17.3.1"/>
<path stroke="#4DBEEE" stroke-width="7" marker-mid="url(#b8)" d="M358 1757l21.1 10.9 17.3 7.3 17.3 5.7 17.2 4.3 17.3 3.9 17.3 4 17.2 4.1 17.3 3.8 17.3 3.6 17.3 3.3 17.2 2.8 17.3 2.3 17.3 2.2 17.2 2 17.3 2 17.3 1.9 17.2 1.7 17.3 1.5 17.3 1.6 17.3 1.5 17.2 1.7 17.3 1.9 17.3 2 17.2 2.2 17.3 2.2 17.3 2.2 17.2 2.2 17.3 2 17.3 1.9 17.3 1.6 17.2 1.3 17.3 1 17.3 1 17.2.9 17.3.9 17.3.8 17.2.9 17.3.7 17.3.8 17.2.7 17.3.7 17.3.7 17.3.6 17.2.6 17.3.5 17.3.6 17.2.5 17.3.5 17.3.5 17.3.4 17.2.4 17.3.5 17.3.4 17.2.3 17.3.4 17.3.4 17.2.3 17.3.3 17.3.3 17.2.3 17.3.3 17.3.3 17.3.3 17.2.2 17.3.3 17.3.2 17.2.3 17.3.2 17.3.2 17.3.2 17.2.2 17.3.2 17.3.2 17.2.1 17.3.2 17.3.1"/>
<path stroke="#0072BD" stroke-width="6" marker-mid="url(#b9)" d="M358 1775.5l21.1 10.3 17.3 7 17.3 5.6 17.2 4.1 17.3 3.8 17.3 4.1 17.2 4.1 17.3 3.8 17.3 3.7 17.3 3.3 17.2 3 17.3 2.4 17.3 2.2 17.2 2.1 17.3 2.1 17.3 2 17.2 1.7 17.3 1.6 17.3 1.6 17.3 1.5 17.2 1.7 17.3 1.9 17.3 2.1 17.2 2.2 17.3 2.2 17.3 2.3 17.2 2.2 17.3 2 17.3 1.9 17.3 1.6 17.2 1.3 17.3 1 17.3 1 17.2.9 17.3.9 17.3.9 17.2.8 17.3.8 17.3.7 17.2.7 17.3.7 17.3.6 17.3.6 17.2.6 17.3.6 17.3.5 17.2.5 17.3.5 17.3.5 17.3.4 17.2.5 17.3.4 17.3.4 17.2.4 17.3.4 17.3.3 17.2.4 17.3.3 17.3.4 17.2.3 17.3.3 17.3.3 17.3.3 17.2.3 17.3.2 17.3.3 17.2.2 17.3.3 17.3.2 17.3.2 17.2.2 17.3.2 17.3.2 17.2.1 17.3.2 17.3.1"/>
<path stroke="#A2142F" stroke-width="5" marker-mid="url(#b10)" d="M358 1780.5l21.1 10.2 17.3 6.9 17.3 5.5 17.2 4.1 17.3 3.7 17.3 4.1 17.2 4.1 17.3 3.9 17.3 3.7 17.3 3.4 17.2 2.9 17.3 2.5 17.3 2.2 17.2 2.1 17.3 2.1 17.3 2 17.2 1.8 17.3 1.6 17.3 1.5 17.3 1.6 17.2 1.7 17.3 1.9 17.3 2.1 17.2 2.2 17.3 2.2 17.3 2.3 17.2 2.2 17.3 2.1 17.3 1.9 17.3 1.6 17.2 1.3 17.3 1 17.3 1 17.2.9 17.3.9 17.3.8 17.2.8 17.3.8 17.3.8 17.2.7 17.3.6 17.3.7 17.3.6 17.2.6 17.3.5 17.3.6 17.2.5 17.3.5 17.3.4 17.3.5 17.2.4 17.3.4 17.3.4 17.2.4 17.3.4 17.3.4 17.2.3 17.3.4 17.3.3 17.2.4 17.3.3 17.3.3 17.3.3 17.2.2 17.3.3 17.3.3 17.2.2 17.3.3 17.3.2 17.3.2 17.2.2 17.3.2 17.3.2 17.2.1 17.3.2 17.3.1"/>
<path stroke="#0072BD" stroke-width="4.4" marker-mid="url(#b11)" d="M358 1786l21.1 10 17.3 6.8 17.3 5.5 17.2 4 17.3 3.7 17.3 4.1 17.2 4.2 17.3 3.8 17.3 3.7 17.3 3.4 17.2 3 17.3 2.5 17.3 2.2 17.2 2.2 17.3 2.1 17.3 2.1 17.2 1.7 17.3 1.7 17.3 1.5 17.3 1.6 17.2 1.7 17.3 1.9 17.3 2.1 17.2 2.2 17.3 2.3 17.3 2.2 17.2 2.3 17.3 2 17.3 1.9 17.3 1.6 17.2 1.3 17.3 1.1 17.3.9 17.2 1 17.3.8 17.3.9 17.2.8 17.3.8 17.3.7 17.2.7 17.3.7 17.3.6 17.3.6 17.2.6 17.3.5 17.3.6 17.2.5 17.3.5 17.3.4 17.3.5 17.2.4 17.3.5 17.3.4 17.2.4 17.3.3 17.3.4 17.2.4 17.3.3 17.3.4 17.2.3 17.3.3 17.3.3 17.3.3 17.2.3 17.3.3 17.3.3 17.2.2 17.3.2 17.3.3 17.3.2 17.2.2 17.3.2 17.3.2 17.2.1 17.3.2 17.3.1"/>
<path stroke="#7E2F8E" stroke-width="8" marker-mid="url(#b12)" d="M358 1802l21.1 9.6 17.3 6.5 17.3 5.4 17.2 3.9 17.3 3.7 17.3 4.1 17.2 4.1 17.3 3.9 17.3 3.7 17.3 3.6 17.2 3 17.3 2.6 17.3 2.2 17.2 2.2 17.3 2.3 17.3 2.1 17.2 1.8 17.3 1.6 17.3 1.6 17.3 1.6 17.2 1.7 17.3 1.9 17.3 2.1 17.2 2.2 17.3 2.3 17.3 2.3 17.2 2.3 17.3 2.1 17.3 1.9 17.3 1.6 17.2 1.3 17.3 1 17.3 1 17.2.9 17.3.9 17.3.9 17.2.8 17.3.7 17.3.8 17.2.6 17.3.7 17.3.6 17.3.6 17.2.6 17.3.6 17.3.5 17.2.5 17.3.5 17.3.4 17.3.5 17.2.4 17.3.5 17.3.4 17.2.4 17.3.4 17.3.4 17.2.3 17.3.4 17.3.4 17.2.3 17.3.3 17.3.4 17.3.3 17.2.3 17.3.2 17.3.3 17.2.3 17.3.2 17.3.3 17.3.2 17.2.2 17.3.2 17.3.2 17.2.1 17.3.2 17.3.1"/>
<path stroke="#0072BD" stroke-width="8" marker-mid="url(#b13)" d="M358 1799l21.1 9.6 17.3 6.6 17.3 5.3 17.2 4 17.3 3.6 17.3 4.1 17.2 4.2 17.3 3.9 17.3 3.7 17.3 3.5 17.2 3.1 17.3 2.5 17.3 2.3 17.2 2.2 17.3 2.2 17.3 2.1 17.2 1.8 17.3 1.6 17.3 1.6 17.3 1.6 17.2 1.7 17.3 1.9 17.3 2.1 17.2 2.2 17.3 2.4 17.3 2.3 17.2 2.2 17.3 2.1 17.3 1.9 17.3 1.6 17.2 1.3 17.3 1.1 17.3.9 17.2.9 17.3.9 17.3.9 17.2.8 17.3.7 17.3.8 17.2.7 17.3.6 17.3.6 17.3.6 17.2.6 17.3.6 17.3.5 17.2.5 17.3.5 17.3.5 17.3.4 17.2.4 17.3.5 17.3.4 17.2.4 17.3.4 17.3.4 17.2.4 17.3.3 17.3.4 17.2.3 17.3.3 17.3.4 17.3.3 17.2.3 17.3.3 17.3.2 17.2.3 17.3.2 17.3.3 17.3.2 17.2.2 17.3.2 17.3.2 17.2.1 17.3.2 17.3.1"/>
<path stroke="#77AC30" stroke-width="2.2" d="M358 1646.3l3 2.1 3 2.2 3 2 3 2.1 3 2 3 1.9 3 1.9 3 1.8 3 1.8 3 1.6 3 1.6 3 1.5 3 1.4 3 1.3 3 1.2 3 1.1 3 1.1 3 1.1 3 1 3 .9 2 .7 10 2.9 10 2.6 10 2.4 10 2.4 10 2.3 10 2.2 10 2.2 10 2.1 10 1.9 10 1.7 10 1.4 10 1.4 10 1.2 10 1.1 10 1.1 10 1 10 .9 10 1 10 .8 10 .9 10 .8 10 .8 10 .8 10 .8 10 .8 10 .8 10 .8 10 .8 10 .9 10 .9 10 1 10 1 10 1.1 10 1.1 30 3.5 30 3.5 30 3.2 30 2.8 30 2 30 1.7 30 1.6 30 1.6 30 1.4 30 1.3 30 1.3 30 1.1 30 1.1 30 .9 30 .9 30 .7 30 .7 30 .5 30 .5 30 .4 30 .4 30 .3 30 .3 30 .3 30 .3 30 .3 30 .2 30 .3 30 .3 30 .3 14.4.1"/>
<path stroke="#D95319" stroke-width="1.8" d="M358 1743l3 1.7 3 1.7 3 1.6 3 1.7 3 1.5 3 1.6 3 1.5 3 1.4 3 1.4 3 1.3 3 1.3 3 1.3 3 1.2 3 1.1 3 1 3 1 3 1 3 .9 3 .9 3 .8 2 .6 10 2.4 10 2.3 10 2.3 10 2.3 10 2.4 10 2.3 10 2.3 10 2.2 10 2 10 2 10 1.9 10 1.7 10 1.5 10 1.4 10 1.3 10 1.2 10 1.2 10 1.1 10 1.1 10 1.2 10 1 10 1.1 10 .9 10 .9 10 .9 10 .9 10 .9 10 .9 10 .9 10 .9 10 1.1 10 1 10 1.2 10 1.2 30 3.8 30 3.8 30 3.5 30 2.9 30 2 30 1.7 30 1.6 30 1.5 30 1.3 30 1.3 30 1.1 30 1.1 30 1 30 .9 30 .8 30 .8 30 .7 30 .6 30 .6 30 .6 30 .5 30 .5 30 .5 30 .4 30 .4 30 .4 30 .3 30 .3 30 .3 30 .3 14.4.1"/>
<path stroke="#A2142F" stroke-width="1.8" d="M358 1759l3 1.6 3 1.7 3 1.5 3 1.6 3 1.5 3 1.4 3 1.5 3 1.4 3 1.3 3 1.3 3 1.2 3 1.2 3 1.2 3 1 3 1.1 3 1 3 .9 3 .9 3 .9 3 .8 2 .5 10 2.4 10 2.2 10 2.3 10 2.3 10 2.4 10 2.4 10 2.2 10 2.2 10 2.1 10 2 10 1.9 10 1.8 10 1.6 10 1.4 10 1.4 10 1.2 10 1.2 10 1.2 10 1.2 10 1.1 10 1.2 10 1 10 1 10 .9 10 .9 10 .9 10 .9 10 .9 10 .9 10 1 10 1 10 1.1 10 1.2 10 1.2 30 3.8 30 3.9 30 3.5 30 3 30 2 30 1.7 30 1.6 30 1.4 30 1.3 30 1.3 30 1.1 30 1.1 30 1 30 .9 30 .8 30 .7 30 .8 30 .6 30 .6 30 .6 30 .6 30 .5 30 .5 30 .4 30 .4 30 .4 30 .4 30 .3 30 .3 30 .3 14.4.1"/>
<path stroke="#4DBEEE" stroke-width="1.5" d="M358 1790l3 1.5 3 1.5 3 1.4 3 1.4 3 1.4 3 1.3 3 1.3 3 1.3 3 1.2 3 1.2 3 1.2 3 1.1 3 1 3 1.1 3 .9 3 1 3 .9 3 .9 3 .8 3 .8 2 .4 10 2.3 10 2 10 2.3 10 2.3 10 2.4 10 2.4 10 2.4 10 2.2 10 2.1 10 2.1 10 2 10 1.9 10 1.7 10 1.6 10 1.4 10 1.3 10 1.2 10 1.3 10 1.2 10 1.3 10 1.2 10 1.1 10 1.1 10 1 10 .9 10 .9 10 .9 10 .9 10 1 10 .9 10 1.1 10 1.1 10 1.2 10 1.2 30 3.9 30 4 30 3.6 30 3 30 2.1 30 1.6 30 1.6 30 1.4 30 1.3 30 1.2 30 1.2 30 1 30 .9 30 .9 30 .8 30 .8 30 .7 30 .7 30 .7 30 .6 30 .6 30 .6 30 .5 30 .5 30 .5 30 .4 30 .4 30 .3 30 .3 30 .3 14.4.1"/>
<path stroke="#4DBEEE" stroke-width="2.6" d="M1674.1 1750.8v18"/><path stroke="#7E2F8E" stroke-width="2.6" d="M1674.1 1779.5v8"/><path stroke="#77AC30" stroke-width="2.6" d="M1674.1 1791.5v10"/><path stroke="#7E2F8E" stroke-width="2.6" d="M1674.1 1804.5v6"/><path stroke="#EDB120" stroke-width="2.6" d="M1674.1 1810.5v8"/><path stroke="#D95319" stroke-width="2.6" d="M1674.1 1829v12"/><path stroke="#EDB120" stroke-width="2.6" d="M1674.1 1847v8"/><path stroke="#0072BD" stroke-width="2.6" d="M1674.1 1856v20"/><path stroke="#4DBEEE" stroke-width="2.6" d="M1674.1 1867v14"/><path stroke="#0072BD" stroke-width="2.6" d="M1674.1 1885.5v10"/><path stroke="#A2142F" stroke-width="2.6" d="M1674.1 1890.5v8"/><path stroke="#0072BD" stroke-width="2.6" d="M1674.1 1896v10"/><path stroke="#7E2F8E" stroke-width="2.6" d="M1674.1 1912v14"/><path stroke="#0072BD" stroke-width="2.6" d="M1674.1 1909v33"/>
</g>
<g font-family="Liberation Sans, Arial, Helvetica, sans-serif" font-weight="bold" fill="#262626" font-size="42">
<text transform="translate(182 30.3) scale(1.307 1)" text-anchor="end">200</text>
<text transform="translate(182 135.6) scale(1.307 1)" text-anchor="end">150</text>
<text transform="translate(182 240.9) scale(1.307 1)" text-anchor="end">100</text>
<text transform="translate(182 346.2) scale(1.307 1)" text-anchor="end">50</text>
<text transform="translate(182 451.5) scale(1.307 1)" text-anchor="end">0</text>
<text transform="translate(182 556.7) scale(1.307 1)" text-anchor="end">-50</text>
<text transform="translate(182 662) scale(1.307 1)" text-anchor="end">-100</text>
<text transform="translate(182 767.3) scale(1.307 1)" text-anchor="end">-150</text>
<text transform="translate(182 872.6) scale(1.307 1)" text-anchor="end">-200</text>
<text transform="translate(203.3 912) scale(1.307 1)" text-anchor="middle">0</text>
<text transform="translate(501.4 912) scale(1.307 1)" text-anchor="middle">1</text>
<text transform="translate(799.5 912) scale(1.307 1)" text-anchor="middle">2</text>
<text transform="translate(1097.6 912) scale(1.307 1)" text-anchor="middle">3</text>
<text transform="translate(1395.7 912) scale(1.307 1)" text-anchor="middle">4</text>
<text transform="translate(1693.8 912) scale(1.307 1)" text-anchor="middle">5</text>
<text transform="translate(152.2 1152.2) scale(1.307 1)" text-anchor="end">40</text>
<text transform="translate(152.2 1293.5) scale(1.307 1)" text-anchor="end">20</text>
<text transform="translate(152.2 1434.8) scale(1.307 1)" text-anchor="end">0</text>
<text transform="translate(152.2 1576.1) scale(1.307 1)" text-anchor="end">-20</text>
<text transform="translate(152.2 1717.5) scale(1.307 1)" text-anchor="end">-40</text>
<text transform="translate(152.2 1858.8) scale(1.307 1)" text-anchor="end">-60</text>
<text transform="translate(152.2 2000.1) scale(1.307 1)" text-anchor="end">-80</text>
<text transform="translate(173.5 2039.5) scale(1.307 1)" text-anchor="middle">0</text>
<text transform="translate(473.7 2039.5) scale(1.307 1)" text-anchor="middle">100</text>
<text transform="translate(773.9 2039.5) scale(1.307 1)" text-anchor="middle">200</text>
<text transform="translate(1074 2039.5) scale(1.307 1)" text-anchor="middle">300</text>
<text transform="translate(1374.2 2039.5) scale(1.307 1)" text-anchor="middle">400</text>
<text transform="translate(1674.4 2039.5) scale(1.307 1)" text-anchor="middle">500</text>
</g>
<g font-family="Liberation Sans, Arial, Helvetica, sans-serif" font-weight="bold" fill="#262626" font-size="43.8" text-anchor="middle">
<text transform="translate(948.5 966.9) scale(1.381 1)">Time (seconds)</text>
<text transform="translate(924.3 2096.3) scale(1.394 1)">Frequency (Hz)</text>
<text transform="translate(44.7 434.4) scale(1.364 1) rotate(-90)">EEG Signal Amplitude</text>
<text transform="translate(44.7 1559.4) scale(1.364 1) rotate(-90)">Power Spectral Density (dB/Hz)</text>
</g>
<g font-family="Liberation Serif, Times New Roman, serif" fill="#000">
<text x="172.2" y="1034.4" font-size="50">(a)</text>
<text x="230.3" y="1030.8" font-size="35.7" word-spacing="2.1">Raw EEG signals from all 62 channels overlayed on each other. ‘Y’ axis refers to amplitude in micro</text>
<text x="235.5" y="1071.7" font-size="35.7">volts and ‘X’ axis refers to time.</text>
<text x="173" y="2154.3" font-size="50">(b)</text>
<text x="237.6" y="2147.7" font-size="34.1" word-spacing="0.1">Overlayed estimated PSD of filtered signal (1-50Hz) from all 62 channels. ‘Y’ axis corresponds to power</text>
<text x="240.6" y="2184.5" font-size="32.2">(db/Hz) and ‘X’ axis corresponds to frequency in Hz.</text>
</g>
</svg></body></html>
